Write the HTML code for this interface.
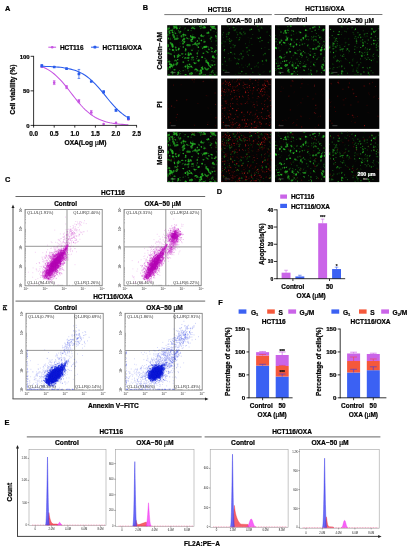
<!DOCTYPE html>
<html><head><meta charset="utf-8"><title>Figure</title>
<style>
html,body{margin:0;padding:0;background:#fff;}
svg{display:block;font-family:"Liberation Sans",sans-serif;}
</style></head>
<body>
<svg width="411" height="550" viewBox="0 0 411 550">
<rect width="411" height="550" fill="#fff"/>
<g id="panelA">
<text x="5.00" y="11.00" font-size="7.4" text-anchor="start" font-weight="bold" fill="#000" stroke="#000" stroke-width="0.22">A</text>
<line x1="48.30" y1="47.20" x2="56.10" y2="47.20" stroke="#c654e2" stroke-width="1.0"/>
<circle cx="52.2" cy="47.2" r="1.3" fill="#c654e2"/>
<text x="59.90" y="49.50" font-size="6.45" text-anchor="start" font-weight="bold" fill="#000" stroke="#000" stroke-width="0.22">HCT116</text>
<line x1="91.00" y1="47.20" x2="98.80" y2="47.20" stroke="#2a5cec" stroke-width="1.0"/>
<rect x="93.55" y="45.85" width="2.7" height="2.7" rx="0.5" fill="#2a5cec"/>
<text x="102.60" y="49.50" font-size="6.45" text-anchor="start" font-weight="bold" fill="#000" stroke="#000" stroke-width="0.22">HCT116/OXA</text>
<polyline points="41.84,66.54 43.90,67.43 45.96,68.44 48.02,69.60 50.08,70.90 52.14,72.37 54.20,74.00 56.26,75.80 58.32,77.77 60.38,79.91 62.44,82.21 64.50,84.64 66.56,87.17 68.62,89.80 70.68,92.46 72.74,95.14 74.80,97.80 76.86,100.39 78.92,102.89 80.98,105.26 83.04,107.50 85.10,109.57 87.16,111.48 89.22,113.21 91.28,114.78 93.34,116.18 95.40,117.42 97.46,118.51 99.52,119.47 101.58,120.31 103.64,121.04 105.70,121.67 107.76,122.22 109.82,122.69 111.88,123.09 113.94,123.43 116.00,123.73 118.06,123.98 120.12,124.19 122.18,124.38 124.24,124.53 126.30,124.66 128.36,124.78" fill="none" stroke="#c654e2" stroke-width="1.05"/>
<polyline points="41.84,66.27 43.90,66.33 45.96,66.40 48.02,66.47 50.08,66.57 52.14,66.68 54.20,66.81 56.26,66.96 58.32,67.14 60.38,67.35 62.44,67.60 64.50,67.90 66.56,68.25 68.62,68.65 70.68,69.13 72.74,69.68 74.80,70.32 76.86,71.07 78.92,71.92 80.98,72.91 83.04,74.03 85.10,75.30 87.16,76.73 89.22,78.32 91.28,80.09 93.34,82.02 95.40,84.10 97.46,86.33 99.52,88.69 101.58,91.14 103.64,93.65 105.70,96.20 107.76,98.73 109.82,101.23 111.88,103.64 113.94,105.95 116.00,108.13 118.06,110.15 120.12,112.01 122.18,113.71 124.24,115.24 126.30,116.60 128.36,117.81" fill="none" stroke="#2a5cec" stroke-width="1.05"/>
<line x1="41.84" y1="65.35" x2="41.84" y2="67.43" stroke="#c654e2" stroke-width="0.7"/>
<line x1="40.54" y1="65.35" x2="43.14" y2="65.35" stroke="#c654e2" stroke-width="0.7"/>
<line x1="40.54" y1="67.43" x2="43.14" y2="67.43" stroke="#c654e2" stroke-width="0.7"/>
<circle cx="41.84" cy="66.39" r="1.3" fill="#c654e2"/>
<line x1="54.20" y1="80.69" x2="54.20" y2="84.56" stroke="#c654e2" stroke-width="0.7"/>
<line x1="52.90" y1="80.69" x2="55.50" y2="80.69" stroke="#c654e2" stroke-width="0.7"/>
<line x1="52.90" y1="84.56" x2="55.50" y2="84.56" stroke="#c654e2" stroke-width="0.7"/>
<circle cx="54.20" cy="82.63" r="1.3" fill="#c654e2"/>
<line x1="66.56" y1="85.60" x2="66.56" y2="88.64" stroke="#c654e2" stroke-width="0.7"/>
<line x1="65.26" y1="85.60" x2="67.86" y2="85.60" stroke="#c654e2" stroke-width="0.7"/>
<line x1="65.26" y1="88.64" x2="67.86" y2="88.64" stroke="#c654e2" stroke-width="0.7"/>
<circle cx="66.56" cy="87.12" r="1.3" fill="#c654e2"/>
<line x1="78.92" y1="99.56" x2="78.92" y2="102.60" stroke="#c654e2" stroke-width="0.7"/>
<line x1="77.62" y1="99.56" x2="80.22" y2="99.56" stroke="#c654e2" stroke-width="0.7"/>
<line x1="77.62" y1="102.60" x2="80.22" y2="102.60" stroke="#c654e2" stroke-width="0.7"/>
<circle cx="78.92" cy="101.08" r="1.3" fill="#c654e2"/>
<line x1="91.28" y1="110.47" x2="91.28" y2="114.07" stroke="#c654e2" stroke-width="0.7"/>
<line x1="89.98" y1="110.47" x2="92.58" y2="110.47" stroke="#c654e2" stroke-width="0.7"/>
<line x1="89.98" y1="114.07" x2="92.58" y2="114.07" stroke="#c654e2" stroke-width="0.7"/>
<circle cx="91.28" cy="112.27" r="1.3" fill="#c654e2"/>
<circle cx="103.64" cy="124.02" r="1.3" fill="#c654e2"/>
<circle cx="116.00" cy="122.91" r="1.3" fill="#c654e2"/>
<line x1="128.36" y1="118.49" x2="128.36" y2="119.87" stroke="#c654e2" stroke-width="0.7"/>
<line x1="127.06" y1="118.49" x2="129.66" y2="118.49" stroke="#c654e2" stroke-width="0.7"/>
<line x1="127.06" y1="119.87" x2="129.66" y2="119.87" stroke="#c654e2" stroke-width="0.7"/>
<circle cx="128.36" cy="119.18" r="1.3" fill="#c654e2"/>
<line x1="41.84" y1="64.52" x2="41.84" y2="67.01" stroke="#2a5cec" stroke-width="0.7"/>
<line x1="40.54" y1="64.52" x2="43.14" y2="64.52" stroke="#2a5cec" stroke-width="0.7"/>
<line x1="40.54" y1="67.01" x2="43.14" y2="67.01" stroke="#2a5cec" stroke-width="0.7"/>
<rect x="40.49" y="64.42" width="2.7" height="2.7" rx="0.5" fill="#2a5cec"/>
<rect x="52.85" y="65.66" width="2.7" height="2.7" rx="0.5" fill="#2a5cec"/>
<rect x="65.21" y="67.25" width="2.7" height="2.7" rx="0.5" fill="#2a5cec"/>
<line x1="78.92" y1="69.43" x2="78.92" y2="78.41" stroke="#2a5cec" stroke-width="0.7"/>
<line x1="77.62" y1="69.43" x2="80.22" y2="69.43" stroke="#2a5cec" stroke-width="0.7"/>
<line x1="77.62" y1="78.41" x2="80.22" y2="78.41" stroke="#2a5cec" stroke-width="0.7"/>
<rect x="77.57" y="72.57" width="2.7" height="2.7" rx="0.5" fill="#2a5cec"/>
<rect x="89.93" y="80.17" width="2.7" height="2.7" rx="0.5" fill="#2a5cec"/>
<line x1="103.64" y1="90.78" x2="103.64" y2="92.99" stroke="#2a5cec" stroke-width="0.7"/>
<line x1="102.34" y1="90.78" x2="104.94" y2="90.78" stroke="#2a5cec" stroke-width="0.7"/>
<line x1="102.34" y1="92.99" x2="104.94" y2="92.99" stroke="#2a5cec" stroke-width="0.7"/>
<rect x="102.29" y="90.54" width="2.7" height="2.7" rx="0.5" fill="#2a5cec"/>
<line x1="116.00" y1="109.16" x2="116.00" y2="111.37" stroke="#2a5cec" stroke-width="0.7"/>
<line x1="114.70" y1="109.16" x2="117.30" y2="109.16" stroke="#2a5cec" stroke-width="0.7"/>
<line x1="114.70" y1="111.37" x2="117.30" y2="111.37" stroke="#2a5cec" stroke-width="0.7"/>
<rect x="114.65" y="108.92" width="2.7" height="2.7" rx="0.5" fill="#2a5cec"/>
<line x1="128.36" y1="116.56" x2="128.36" y2="119.32" stroke="#2a5cec" stroke-width="0.7"/>
<line x1="127.06" y1="116.56" x2="129.66" y2="116.56" stroke="#2a5cec" stroke-width="0.7"/>
<line x1="127.06" y1="119.32" x2="129.66" y2="119.32" stroke="#2a5cec" stroke-width="0.7"/>
<rect x="127.01" y="116.59" width="2.7" height="2.7" rx="0.5" fill="#2a5cec"/>
<line x1="33.60" y1="55.90" x2="33.60" y2="125.80" stroke="#000" stroke-width="0.8"/>
<line x1="33.20" y1="125.40" x2="137.00" y2="125.40" stroke="#000" stroke-width="0.8"/>
<line x1="30.60" y1="125.40" x2="33.60" y2="125.40" stroke="#000" stroke-width="0.8"/>
<text x="29.70" y="127.60" font-size="6.0" text-anchor="end" font-weight="bold" fill="#000" stroke="#000" stroke-width="0.22">0</text>
<line x1="30.60" y1="90.85" x2="33.60" y2="90.85" stroke="#000" stroke-width="0.8"/>
<text x="29.70" y="93.05" font-size="6.0" text-anchor="end" font-weight="bold" fill="#000" stroke="#000" stroke-width="0.22">50</text>
<line x1="30.60" y1="56.30" x2="33.60" y2="56.30" stroke="#000" stroke-width="0.8"/>
<text x="29.70" y="58.50" font-size="6.0" text-anchor="end" font-weight="bold" fill="#000" stroke="#000" stroke-width="0.22">100</text>
<line x1="33.60" y1="125.40" x2="33.60" y2="127.60" stroke="#000" stroke-width="0.8"/>
<text x="33.60" y="136.00" font-size="6.3" text-anchor="middle" font-weight="bold" fill="#000" stroke="#000" stroke-width="0.22">0.0</text>
<line x1="54.20" y1="125.40" x2="54.20" y2="127.60" stroke="#000" stroke-width="0.8"/>
<text x="54.20" y="136.00" font-size="6.3" text-anchor="middle" font-weight="bold" fill="#000" stroke="#000" stroke-width="0.22">0.5</text>
<line x1="74.80" y1="125.40" x2="74.80" y2="127.60" stroke="#000" stroke-width="0.8"/>
<text x="74.80" y="136.00" font-size="6.3" text-anchor="middle" font-weight="bold" fill="#000" stroke="#000" stroke-width="0.22">1.0</text>
<line x1="95.40" y1="125.40" x2="95.40" y2="127.60" stroke="#000" stroke-width="0.8"/>
<text x="95.40" y="136.00" font-size="6.3" text-anchor="middle" font-weight="bold" fill="#000" stroke="#000" stroke-width="0.22">1.5</text>
<line x1="116.00" y1="125.40" x2="116.00" y2="127.60" stroke="#000" stroke-width="0.8"/>
<text x="116.00" y="136.00" font-size="6.3" text-anchor="middle" font-weight="bold" fill="#000" stroke="#000" stroke-width="0.22">2.0</text>
<line x1="136.60" y1="125.40" x2="136.60" y2="127.60" stroke="#000" stroke-width="0.8"/>
<text x="136.60" y="136.00" font-size="6.3" text-anchor="middle" font-weight="bold" fill="#000" stroke="#000" stroke-width="0.22">2.5</text>
<text x="85.50" y="144.90" font-size="6.6" text-anchor="middle" font-weight="bold" fill="#000" stroke="#000" stroke-width="0.22">OXA(Log <tspan font-weight="normal">µ</tspan>M)</text>
<text x="15.30" y="89.60" font-size="6.5" text-anchor="middle" font-weight="bold" fill="#000" transform="rotate(-90 15.30 89.60)" stroke="#000" stroke-width="0.22">Cell viability (%)</text>
</g>
<g id="panelB">
<text x="142.80" y="9.60" font-size="7.3" text-anchor="start" font-weight="bold" fill="#000" stroke="#000" stroke-width="0.22">B</text>
<text x="219.60" y="11.80" font-size="6.45" text-anchor="middle" font-weight="bold" fill="#000" stroke="#000" stroke-width="0.22">HCT116</text>
<text x="325.00" y="10.80" font-size="6.45" text-anchor="middle" font-weight="bold" fill="#000" stroke="#000" stroke-width="0.22">HCT116/OXA</text>
<line x1="164.30" y1="14.60" x2="271.80" y2="14.60" stroke="#666" stroke-width="0.9"/>
<line x1="274.40" y1="14.50" x2="382.40" y2="14.50" stroke="#666" stroke-width="0.9"/>
<text x="195.60" y="22.80" font-size="6.5" text-anchor="middle" font-weight="bold" fill="#000" stroke="#000" stroke-width="0.22">Control</text>
<text x="244.80" y="22.60" font-size="6.6" text-anchor="middle" font-weight="bold" fill="#000" stroke="#000" stroke-width="0.22">OXA−50 <tspan font-weight="normal">µ</tspan>M</text>
<text x="295.80" y="22.10" font-size="6.5" text-anchor="middle" font-weight="bold" fill="#000" stroke="#000" stroke-width="0.22">Control</text>
<text x="355.60" y="22.60" font-size="6.6" text-anchor="middle" font-weight="bold" fill="#000" stroke="#000" stroke-width="0.22">OXA−50 <tspan font-weight="normal">µ</tspan>M</text>
<text x="162.50" y="50.80" font-size="6.6" text-anchor="middle" font-weight="bold" fill="#000" transform="rotate(-90 162.50 50.80)" stroke="#000" stroke-width="0.22">Calcein−AM</text>
<text x="162.50" y="104.60" font-size="6.6" text-anchor="middle" font-weight="bold" fill="#000" transform="rotate(-90 162.50 104.60)" stroke="#000" stroke-width="0.22">PI</text>
<text x="162.50" y="155.30" font-size="6.5" text-anchor="middle" font-weight="bold" fill="#000" transform="rotate(-90 162.50 155.30)" stroke="#000" stroke-width="0.22">Merge</text>
<defs><filter id="bl" x="-5%" y="-5%" width="110%" height="110%"><feGaussianBlur stdDeviation="0.45"/></filter></defs>
<defs>
<clipPath id="tc"><rect x="0" y="0" width="50.4" height="50.4"/></clipPath>
<g id="gf0" filter="url(#bl)"><path d="M16.3 7.6l0.2 0.3M7.8 36.1l-0.6 0.1M45.1 23.9l-0.2 0.1" stroke="#167c16" stroke-width="1.2" stroke-linecap="round" opacity="0.25" fill="none"/><path d="M2.9 25.6l0.0 0.0M21.4 41.7l-0.3 0.0M7.7 24.6l-0.1 0.3M19.8 20.1l0.0 0.0M32.9 40.3l-0.3 0.2M28.0 39.5l0.1 0.1M3.7 12.1l-0.3 0.1M5.3 13.4l0.1 0.0M15.6 18.0l-0.0 0.2M10.1 25.4l0.0 0.0M49.3 47.2l-0.3 0.0M15.9 42.3l0.3 0.1M23.0 27.8l-0.1 0.0M32.5 15.3l-0.2 0.2" stroke="#167c16" stroke-width="0.6" stroke-linecap="round" opacity="0.5" fill="none"/><path d="M29.1 20.0l0.5 0.6M36.8 14.5l-0.3 0.3M18.1 44.6l0.1 0.1M28.2 47.5l0.0 0.1M7.1 26.4l-0.0 0.8M3.1 14.0l-0.2 0.4M48.1 42.8l-0.0 0.0" stroke="#167c16" stroke-width="1.5" stroke-linecap="round" opacity="0.25" fill="none"/><path d="M7.3 5.9l-0.0 0.1M6.5 12.5l0.0 0.0M27.4 1.4l-0.3 0.4M49.0 20.0l0.3 0.2M48.9 32.7l-0.2 0.1M29.4 45.6l-0.0 0.3M41.3 21.8l-0.0 0.2M34.7 49.5l-0.2 0.3M22.7 13.5l-0.0 0.1M44.7 35.4l0.2 0.0M5.1 42.1l0.1 0.1M25.8 9.6l-0.4 0.3M8.4 8.1l0.2 0.1" stroke="#167c16" stroke-width="0.9" stroke-linecap="round" opacity="0.75" fill="none"/><path d="M32.2 18.8l0.0 0.0M1.1 23.3l-0.0 0.0M10.5 8.2l0.0 0.0M12.7 17.5l-0.4 0.0M26.4 0.9l-0.0 0.0M25.2 9.0l0.1 0.0M34.4 34.9l0.0 0.1M26.0 23.4l0.4 0.3M45.7 50.2l0.1 0.0M33.6 46.6l0.0 0.2M14.9 48.0l0.0 0.1" stroke="#167c16" stroke-width="0.9" stroke-linecap="round" opacity="0.25" fill="none"/><path d="M34.3 21.6l0.1 0.2M40.0 35.2l-0.2 0.1M42.3 47.6l-0.0 0.0M13.2 18.5l-0.2 0.2M41.2 37.3l0.2 0.0M1.4 14.1l0.1 0.5M37.8 24.1l-0.1 0.1M49.4 33.1l0.1 0.0M41.6 10.6l-0.0 0.1M30.9 25.5l-0.0 0.3M11.1 48.0l-0.5 0.3M8.1 21.7l0.1 0.1M36.4 1.0l0.0 0.0M3.4 43.5l-0.3 0.1M13.5 6.5l0.1 0.0M2.5 10.2l0.2 0.3M36.9 27.8l0.4 0.1M14.2 12.2l0.0 0.1M2.1 1.1l-0.0 0.3M0.2 24.8l0.0 0.1M50.3 29.7l0.1 0.0M46.7 6.4l-0.1 0.1M17.2 4.6l-0.3 0.1M37.8 20.8l0.1 0.2M43.5 10.9l0.0 0.2M5.7 3.5l0.2 0.2M30.3 0.5l-0.2 0.4M44.5 24.0l-0.3 0.4M15.5 1.1l0.2 0.2" stroke="#167c16" stroke-width="0.9" stroke-linecap="round" opacity="0.5" fill="none"/><path d="M44.1 15.8l0.1 0.4M11.8 24.4l0.0 0.0M8.7 23.9l-0.0 0.2M38.9 25.6l0.1 0.6M3.6 47.3l-0.1 0.0M49.6 7.5l-0.0 0.0M45.0 31.6l-0.0 0.1M5.3 42.1l-0.2 0.3M24.7 0.2l-0.0 0.4M33.2 3.3l0.0 0.0M24.1 34.5l0.5 0.1M7.4 12.8l0.4 0.0M3.1 13.5l0.3 0.4M36.9 22.7l0.2 0.0M49.2 13.1l0.1 0.4M34.4 10.0l0.3 0.2" stroke="#167c16" stroke-width="1.2" stroke-linecap="round" opacity="0.5" fill="none"/><path d="M32.6 50.1l-0.2 0.3M18.6 28.5l-0.2 0.4M34.1 2.7l-0.6 0.5M47.2 49.8l0.2 0.1M6.4 7.6l-0.1 0.1M21.3 45.9l-0.1 0.0M13.3 48.5l-0.2 0.0M46.7 35.9l0.1 0.3M31.8 46.0l0.6 0.1M41.6 43.1l0.1 0.0M26.3 34.4l-0.4 0.4M48.9 15.7l-0.1 0.1" stroke="#167c16" stroke-width="1.5" stroke-linecap="round" opacity="0.5" fill="none"/><path d="M27.7 44.5l0.1 0.2" stroke="#167c16" stroke-width="1.5" stroke-linecap="round" opacity="0.75" fill="none"/><path d="M5.1 18.3l0.2 0.1M41.8 8.1l0.2 0.1M13.1 21.1l0.0 0.2M31.4 25.8l-0.3 0.0M12.9 8.2l-0.2 0.3" stroke="#167c16" stroke-width="0.6" stroke-linecap="round" opacity="0.75" fill="none"/><path d="M23.5 24.4l0.1 0.1M28.8 35.3l0.1 0.3M20.4 17.5l-0.0 0.0" stroke="#167c16" stroke-width="0.6" stroke-linecap="round" opacity="0.25" fill="none"/><path d="M16.6 11.2l-0.6 0.4M9.9 10.3l0.0 0.6M24.1 47.5l0.5 0.5M37.8 33.1l0.1 0.2M25.4 42.1l-0.4 0.2M36.8 10.3l0.1 0.3" stroke="#167c16" stroke-width="1.2" stroke-linecap="round" opacity="0.75" fill="none"/><path d="M33.5 47.8l-0.3 0.0M8.5 0.1l1.3 0.5M47.5 1.2l-1.4 0.2M19.5 12.7l1.3 0.9M44.5 49.8l0.0 0.1M35.8 22.5l-0.5 0.8M30.0 31.2l0.2 0.1M34.2 9.3l-0.2 1.2M3.2 5.1l1.0 0.3M8.2 35.0l-0.5 0.1M15.7 28.6l-1.4 0.0M18.7 25.4l-0.7 0.2M21.5 33.2l-0.0 0.0M6.8 47.2l-0.1 0.1M43.9 39.4l-0.0 0.0M39.7 26.4l1.1 0.9M44.4 0.8l-1.1 0.2M5.4 46.8l0.0 0.0M44.6 12.0l-0.9 0.5M7.8 7.9l0.7 0.4M28.9 37.8l-1.1 0.4M31.7 12.6l0.3 1.0M34.0 46.9l0.4 1.0M17.9 2.9l0.0 0.0M21.2 35.2l-0.2 0.3M11.4 48.6l-1.1 0.7M42.9 13.5l0.6 0.4M0.1 36.4l0.0 0.5M16.7 16.0l-0.8 0.6M18.5 29.0l-0.2 0.1M35.4 41.7l-1.3 0.8M34.5 46.1l-0.7 0.5M9.1 35.3l-0.0 0.6M12.8 1.9l0.1 0.0" stroke="#24ac24" stroke-width="1.2" stroke-linecap="round" opacity="0.75" fill="none"/><path d="M7.2 2.6l-1.1 0.4M12.5 3.3l-0.4 0.0M26.1 19.3l-0.9 0.3M23.9 5.4l0.0 0.1M25.5 16.1l-0.2 0.0M32.9 1.1l0.1 0.1M12.5 45.5l0.4 0.4M2.9 39.3l1.1 0.5M46.1 47.6l0.1 0.0M38.4 49.3l-0.5 0.4M9.9 32.2l0.5 0.1M15.8 31.7l-0.6 0.8M24.7 49.1l-0.2 0.1M47.4 26.2l-0.5 0.6M36.1 0.6l1.0 0.3M32.6 49.7l-1.0 0.2" stroke="#24ac24" stroke-width="0.9" stroke-linecap="round" opacity="0.75" fill="none"/><path d="M36.9 50.3l-0.5 0.1M1.8 3.2l-1.9 0.6M17.1 13.7l-0.4 0.6M6.0 9.6l1.0 2.3M24.8 48.2l-2.0 0.4M20.2 19.9l2.3 0.2M10.4 13.3l-0.9 0.3M2.0 36.4l0.1 0.1M0.3 9.6l-1.4 1.1M10.1 37.8l-0.9 1.4M7.5 2.2l-0.1 0.3" stroke="#24ac24" stroke-width="2.1" stroke-linecap="round" opacity="0.75" fill="none"/><path d="M37.6 1.6l0.4 0.7M37.7 42.7l1.1 1.4M7.7 44.6l-0.8 0.0M12.8 30.2l0.0 0.0M30.2 27.7l-0.2 0.8M25.7 2.1l-1.1 1.0M25.8 2.7l1.6 0.7M5.3 50.0l1.1 1.2M11.3 29.4l0.1 1.2M28.3 17.7l-1.3 1.4M10.1 30.6l1.3 0.8M20.1 39.9l0.2 1.3M23.6 14.8l0.7 1.4M21.6 32.1l-1.7 0.9M48.4 3.8l-0.0 0.1M45.9 30.8l-0.4 1.3M34.3 10.7l1.5 0.5M41.5 39.6l0.1 0.6M20.8 5.1l0.3 0.0M18.3 32.5l-0.6 0.5M47.6 39.5l-0.1 0.0M40.9 43.7l-1.3 0.9M44.6 26.3l0.3 0.2M39.7 7.9l1.0 0.1M32.3 48.2l0.8 0.5M13.0 6.3l0.4 0.2M41.5 24.1l0.4 0.1M33.7 10.6l0.4 0.3" stroke="#24ac24" stroke-width="1.5" stroke-linecap="round" opacity="0.75" fill="none"/><path d="M48.6 10.5l0.3 1.3M2.5 23.9l0.1 0.3M45.2 1.5l1.3 0.2M43.7 22.6l1.3 0.5M21.4 41.3l0.7 0.4M34.3 45.1l-0.0 0.2M49.9 29.1l0.6 0.4M35.2 43.2l0.6 0.8M1.1 12.9l0.3 0.5M22.0 39.0l0.7 0.5M9.3 24.9l-0.4 0.1M17.6 16.5l-0.6 0.7M7.1 30.4l0.3 1.5M10.6 34.5l-0.2 0.0M47.4 26.6l0.4 0.3M5.1 7.2l0.4 0.2M45.6 39.9l-0.7 0.5M26.8 37.4l0.6 0.7M34.4 46.9l0.0 0.8M31.7 35.7l-0.4 0.0M15.7 36.8l0.7 0.1M30.3 15.6l-0.3 0.5M23.5 10.4l0.1 1.2M28.1 43.9l1.5 0.3M36.0 27.9l0.1 0.4" stroke="#24ac24" stroke-width="1.2" stroke-linecap="round" opacity="1.0" fill="none"/><path d="M16.0 13.9l-0.5 1.1M15.6 15.1l-0.6 0.8M10.7 31.4l0.2 0.0M31.9 0.8l0.6 0.6M0.2 34.5l-0.1 0.0M30.1 20.0l-0.1 0.3M16.0 45.5l-0.1 0.0" stroke="#24ac24" stroke-width="0.9" stroke-linecap="round" opacity="1.0" fill="none"/><path d="M40.4 37.2l0.8 1.3M23.9 41.3l0.1 0.1M5.5 24.7l0.4 0.2M24.7 11.9l0.9 0.6M43.2 50.2l-0.4 0.0M34.9 31.9l-0.0 0.1M18.3 41.2l-0.1 0.1M4.1 39.7l0.6 1.2M33.7 45.1l-0.3 0.4M9.1 1.9l0.6 1.4M2.5 39.0l1.5 0.4M21.3 29.6l-0.1 0.1M11.1 47.1l0.1 0.3" stroke="#24ac24" stroke-width="1.8" stroke-linecap="round" opacity="1.0" fill="none"/><path d="M16.1 18.2l-0.3 0.3M28.6 18.8l0.4 0.4M25.6 11.7l2.2 0.7M18.3 9.9l-0.0 0.0M45.6 31.3l1.4 1.2M20.4 42.7l0.2 0.5M3.3 17.7l1.3 1.5M32.1 18.1l-1.4 0.5M37.5 2.4l-1.5 0.1M0.3 42.6l0.2 1.6M35.0 42.6l0.2 1.2M37.6 16.5l-0.6 0.2M5.0 4.9l0.2 0.7M48.6 25.4l0.0 0.1M43.5 4.6l0.0 0.0M14.3 10.8l-0.1 0.2M8.5 22.1l0.0 0.3M39.0 35.3l0.2 1.6M25.8 32.2l-1.0 0.2M6.5 39.1l-0.2 1.1M45.2 1.7l-0.7 0.3M21.3 27.9l0.6 1.9M2.0 6.0l0.4 2.2M6.5 0.9l1.3 0.9M30.3 45.2l0.0 0.0M4.4 40.7l-1.3 0.4M1.7 49.9l1.0 1.0M34.2 0.6l-0.1 0.0M4.9 46.8l0.5 1.0M7.8 13.7l0.0 0.4M45.2 2.9l2.2 0.1" stroke="#24ac24" stroke-width="1.8" stroke-linecap="round" opacity="0.75" fill="none"/><path d="M0.7 27.8l-0.1 0.2M41.1 7.2l0.3 0.3M31.0 21.8l0.2 0.2M31.8 34.9l-0.9 0.5M42.7 40.9l0.8 1.0M11.8 23.2l-0.6 1.2M24.8 25.1l-0.0 0.0M23.6 28.4l0.2 0.8M18.5 23.9l0.1 0.4M25.4 13.7l-0.9 0.7M16.1 21.7l-0.0 0.1M0.7 19.5l0.1 1.9M34.1 15.1l0.1 0.2" stroke="#24ac24" stroke-width="1.5" stroke-linecap="round" opacity="1.0" fill="none"/><path d="M47.5 49.2l0.6 1.5M11.8 7.0l0.8 0.4" stroke="#24ac24" stroke-width="1.5" stroke-linecap="round" opacity="0.5" fill="none"/><path d="M2.1 28.3l1.8 0.7M45.5 45.6l-1.2 1.5" stroke="#24ac24" stroke-width="1.8" stroke-linecap="round" opacity="0.5" fill="none"/><path d="M29.5 33.5l0.0 0.0M11.4 5.3l-0.3 0.3M48.7 50.0l0.2 0.3" stroke="#24ac24" stroke-width="1.2" stroke-linecap="round" opacity="0.5" fill="none"/><path d="M16.5 9.5l-0.3 0.0M5.1 19.4l0.4 2.0M2.9 41.7l-0.3 0.2M39.3 21.5l-2.2 0.3M18.4 49.9l0.2 0.2" stroke="#24ac24" stroke-width="2.1" stroke-linecap="round" opacity="1.0" fill="none"/></g>
<g id="rf0" filter="url(#bl)"><path d="M40.7 17.2l-0.0 0.4M12.6 41.2l0.2 0.2M43.8 36.1l-0.0 0.2" stroke="#741010" stroke-width="0.6" stroke-linecap="round" opacity="0.25" fill="none"/><path d="M9.4 21.9l0.4 0.2M9.1 38.8l0.1 0.0M36.4 2.8l-0.6 0.3M24.8 0.8l0.5 0.5M3.1 44.0l-0.0 0.4M19.6 21.2l-0.3 0.1M48.9 39.1l-0.6 0.2" stroke="#741010" stroke-width="1.2" stroke-linecap="round" opacity="0.5" fill="none"/><path d="M30.7 25.0l-0.2 0.2M0.2 26.2l-0.0 0.1M41.2 43.6l-0.1 0.1M0.9 30.2l0.4 0.1M39.2 17.1l-0.2 0.0M48.3 47.1l0.1 0.3M26.8 3.5l0.0 0.0M44.6 1.7l0.3 0.3M27.3 46.6l0.1 0.3" stroke="#741010" stroke-width="0.9" stroke-linecap="round" opacity="0.5" fill="none"/><path d="M40.9 29.4l0.1 0.3M9.4 41.9l-0.1 0.2M14.1 6.2l-0.3 0.1" stroke="#741010" stroke-width="0.9" stroke-linecap="round" opacity="0.25" fill="none"/><path d="M27.1 1.0l0.1 0.0" stroke="#741010" stroke-width="1.5" stroke-linecap="round" opacity="0.5" fill="none"/><path d="M7.4 28.9l-0.6 0.1" stroke="#741010" stroke-width="1.2" stroke-linecap="round" opacity="0.25" fill="none"/><path d="M40.5 46.0l-0.0 0.0" stroke="#741010" stroke-width="1.2" stroke-linecap="round" opacity="0.75" fill="none"/><path d="M47.9 14.5l-0.0 0.0M48.2 25.9l0.1 0.0M6.2 6.6l0.0 0.0M10.1 35.8l0.0 0.1" stroke="#c81818" stroke-width="0.6" stroke-linecap="round" opacity="0.75" fill="none"/><path d="M4.4 27.5l-0.0 0.1" stroke="#c81818" stroke-width="0.9" stroke-linecap="round" opacity="0.75" fill="none"/></g>
<g id="gf1" filter="url(#bl)"><path d="M15.6 12.2l-0.0 0.2M14.4 49.8l0.1 0.0M30.6 19.1l0.3 0.3M19.7 28.0l-0.4 0.2M25.2 22.4l-0.0 0.1M7.9 14.6l0.1 0.1M20.7 39.7l0.0 0.0M25.9 27.3l-0.1 0.2M15.0 3.3l-0.0 0.0M36.1 12.8l0.2 0.0M35.4 40.6l-0.2 0.4M5.8 14.6l0.0 0.0M42.6 46.7l-0.3 0.3M14.3 33.3l0.0 0.2M18.7 29.3l0.1 0.3M12.8 4.8l-0.1 0.3M39.1 2.9l-0.0 0.0M5.6 40.4l-0.1 0.1M8.6 18.2l0.1 0.2M24.3 18.5l0.2 0.1M0.4 43.9l0.2 0.3M8.5 3.3l-0.1 0.4M29.3 49.8l-0.2 0.1" stroke="#167c16" stroke-width="0.9" stroke-linecap="round" opacity="0.5" fill="none"/><path d="M0.6 17.8l0.0 0.5M5.5 11.3l0.1 0.1M29.3 4.4l-0.7 0.4M28.5 25.1l-0.5 0.0M22.2 31.5l-0.4 0.3M14.2 20.3l-0.7 0.3M14.2 4.5l-0.5 0.7M26.0 22.4l-0.3 0.1M4.2 36.1l0.0 0.1M1.4 39.0l-0.1 0.1M16.5 9.3l-0.0 0.3M5.8 9.1l-0.1 0.0M38.1 5.8l-0.1 0.0M19.8 8.6l0.7 0.3M9.7 22.5l0.1 0.0M19.2 7.3l-0.5 0.3M24.0 8.0l-0.2 0.7M28.3 38.9l-0.2 0.5M47.2 17.2l0.1 0.0" stroke="#167c16" stroke-width="1.5" stroke-linecap="round" opacity="0.5" fill="none"/><path d="M43.9 22.2l-0.1 0.1M7.9 35.6l0.3 0.1M16.2 33.4l-0.0 0.2M6.7 13.9l0.1 0.3M2.0 2.0l0.0 0.1M2.4 12.3l-0.1 0.0M27.4 12.6l0.1 0.1M11.4 28.9l0.2 0.1M27.8 20.5l-0.1 0.0" stroke="#167c16" stroke-width="0.6" stroke-linecap="round" opacity="0.5" fill="none"/><path d="M17.8 34.0l-0.0 0.5M20.2 28.3l0.0 0.6M2.8 44.9l-0.1 0.3M41.1 15.3l-0.3 0.1M17.2 38.5l0.0 0.1M18.3 14.2l-0.4 0.6" stroke="#167c16" stroke-width="1.2" stroke-linecap="round" opacity="0.75" fill="none"/><path d="M37.2 37.5l-0.4 0.5M25.1 48.5l-0.5 0.2M26.1 26.1l-0.1 0.2M17.7 47.8l0.0 0.1M42.4 29.5l-0.1 0.3M26.3 41.5l0.0 0.0M38.8 16.3l0.1 0.1M5.0 45.6l0.1 0.3M12.2 19.6l-0.2 0.1M22.8 6.6l-0.2 0.6M18.5 12.4l0.5 0.2M20.8 33.2l0.3 0.5M37.8 4.3l-0.5 0.3M37.2 41.8l-0.0 0.0M15.7 6.9l0.1 0.1M8.5 33.6l-0.4 0.3M31.6 47.1l0.2 0.1M40.9 3.0l-0.0 0.2M48.0 24.2l-0.2 0.1M1.4 9.5l-0.0 0.1M10.7 15.1l-0.2 0.6M2.3 7.3l-0.0 0.2M15.3 38.5l0.2 0.4" stroke="#167c16" stroke-width="1.2" stroke-linecap="round" opacity="0.5" fill="none"/><path d="M46.1 6.4l-0.2 0.6M21.6 25.8l0.7 0.1M33.6 41.6l0.0 0.3" stroke="#167c16" stroke-width="1.5" stroke-linecap="round" opacity="0.25" fill="none"/><path d="M48.3 10.3l0.0 0.0M31.8 30.4l0.3 0.0M13.4 32.6l0.1 0.3M19.0 48.3l0.2 0.2M7.2 28.4l-0.2 0.2M20.6 3.7l-0.2 0.2M40.3 1.8l0.1 0.3M3.8 16.6l0.3 0.0M13.2 28.7l0.6 0.1" stroke="#167c16" stroke-width="0.9" stroke-linecap="round" opacity="0.75" fill="none"/><path d="M8.6 16.0l0.5 0.2M45.1 34.8l0.2 0.7M12.6 2.2l-0.3 0.1M41.3 35.6l0.0 0.4M36.4 0.1l0.2 0.6M49.0 45.8l-0.3 0.8M44.0 28.4l-0.1 0.1" stroke="#167c16" stroke-width="1.5" stroke-linecap="round" opacity="0.75" fill="none"/><path d="M6.1 7.9l0.1 0.0M49.0 14.7l0.1 0.3M22.3 42.2l-0.2 0.2M2.0 15.7l-0.1 0.6M7.9 15.1l0.4 0.2M37.2 47.8l0.4 0.1" stroke="#167c16" stroke-width="1.2" stroke-linecap="round" opacity="0.25" fill="none"/><path d="M24.4 40.0l0.1 0.1M9.6 14.3l0.2 0.3M28.6 15.7l-0.1 0.0M42.0 39.1l-0.1 0.4M9.9 35.4l0.0 0.2M21.9 9.6l-0.3 0.5M18.6 41.9l-0.1 0.2M28.4 17.5l0.0 0.1M47.8 0.7l-0.2 0.1M0.3 29.2l-0.2 0.0" stroke="#167c16" stroke-width="0.9" stroke-linecap="round" opacity="0.25" fill="none"/><path d="M20.3 3.3l0.1 0.1M31.7 9.2l-0.2 0.3M27.7 40.5l0.2 0.2" stroke="#167c16" stroke-width="0.6" stroke-linecap="round" opacity="0.75" fill="none"/><path d="M18.3 8.5l-0.3 0.3M22.3 48.9l0.2 0.1" stroke="#167c16" stroke-width="0.6" stroke-linecap="round" opacity="0.25" fill="none"/><path d="M3.4 24.4l0.2 0.0M9.5 27.1l0.4 0.3M7.9 7.2l0.1 0.4M39.2 12.2l0.2 0.4M20.7 46.3l0.1 0.1" stroke="#24ac24" stroke-width="1.2" stroke-linecap="round" opacity="0.75" fill="none"/><path d="M8.3 13.5l0.2 0.1M30.4 43.5l-0.3 0.0M16.5 37.8l0.2 0.3M27.1 29.7l0.1 0.2M38.9 49.3l-0.2 0.0M6.6 0.5l0.1 0.3M49.9 11.5l0.0 0.0M3.0 25.3l0.2 0.4" stroke="#24ac24" stroke-width="0.9" stroke-linecap="round" opacity="0.75" fill="none"/><path d="M30.3 4.0l0.2 0.1" stroke="#24ac24" stroke-width="1.2" stroke-linecap="round" opacity="1.0" fill="none"/><path d="M2.9 20.9l0.0 0.1M13.2 21.9l-0.1 0.2" stroke="#24ac24" stroke-width="0.6" stroke-linecap="round" opacity="0.75" fill="none"/><path d="M30.1 13.0l-0.1 0.4" stroke="#24ac24" stroke-width="0.9" stroke-linecap="round" opacity="0.5" fill="none"/><path d="M49.8 2.8l0.1 0.0M37.4 13.0l0.2 0.3M7.5 8.9l0.1 0.0M3.3 32.5l-0.0 0.0" stroke="#24ac24" stroke-width="0.9" stroke-linecap="round" opacity="1.0" fill="none"/><path d="M40.3 23.2l-0.0 0.0" stroke="#24ac24" stroke-width="0.6" stroke-linecap="round" opacity="1.0" fill="none"/></g>
<g id="rf1" filter="url(#bl)"><path d="M15.0 50.1l-0.1 0.0M34.7 1.9l0.2 0.1M25.2 5.7l0.2 0.4M21.1 49.0l0.2 0.1M29.9 50.1l0.1 0.3M35.9 19.8l0.2 0.3M31.7 27.4l-0.1 0.0M23.9 36.4l0.1 0.1M46.7 26.6l0.3 0.3M8.7 41.4l-0.4 0.1M26.2 12.0l0.2 0.0M40.9 17.8l0.4 0.3M49.0 35.9l0.2 0.0M38.1 19.1l-0.4 0.4M1.3 29.9l0.1 0.4M23.9 44.9l-0.2 0.1M0.3 49.8l0.1 0.1M43.3 28.0l0.0 0.0M27.1 18.8l0.1 0.3M26.9 20.6l-0.1 0.1M39.5 47.9l-0.1 0.0M14.8 11.7l0.3 0.2M19.7 1.7l-0.0 0.1M24.4 43.5l0.0 0.0M16.8 22.7l-0.1 0.1M6.7 29.1l0.3 0.2M28.7 34.7l0.0 0.1M1.6 19.8l0.5 0.1M29.2 11.8l0.4 0.1M11.7 10.0l-0.3 0.1M34.5 35.8l-0.2 0.3M22.9 40.8l-0.0 0.0M31.8 18.9l0.0 0.5M29.1 2.4l0.2 0.3M38.4 14.7l-0.3 0.5M15.7 2.7l-0.5 0.1M5.5 13.1l0.3 0.4M17.8 47.4l-0.0 0.0M38.0 34.2l0.0 0.0M32.5 48.8l0.2 0.5M47.4 37.4l0.2 0.4M9.4 43.9l-0.4 0.1M33.7 29.1l-0.1 0.1M30.4 41.5l0.1 0.0M3.0 22.5l-0.0 0.0M5.6 11.3l-0.0 0.2M31.8 36.5l-0.1 0.3M35.7 22.9l0.1 0.2M9.8 37.1l-0.1 0.1M9.9 13.4l-0.4 0.4M6.7 0.6l0.2 0.0M6.4 10.1l-0.2 0.3M33.9 36.0l0.0 0.3M12.1 46.9l-0.2 0.4M28.0 41.4l-0.3 0.2M3.9 2.7l0.2 0.0M26.2 23.0l-0.3 0.1M22.3 35.6l0.1 0.1M15.8 31.6l0.4 0.2M1.4 34.8l-0.2 0.4M29.8 33.1l0.2 0.0M48.9 34.7l0.1 0.0M26.4 5.6l0.0 0.1M38.5 11.3l0.1 0.2" stroke="#741010" stroke-width="0.9" stroke-linecap="round" opacity="0.5" fill="none"/><path d="M43.8 13.5l0.1 0.2M43.5 9.2l0.2 0.0M41.8 6.2l-0.1 0.7M16.4 6.9l-0.0 0.1M45.3 45.3l-0.4 0.2M11.5 19.8l-0.3 0.3M5.3 39.7l-0.0 0.0M17.8 4.7l0.5 0.2M36.9 40.1l0.6 0.1M1.1 11.6l-0.2 0.2M0.7 13.1l0.0 0.1" stroke="#741010" stroke-width="1.2" stroke-linecap="round" opacity="0.75" fill="none"/><path d="M24.5 44.9l0.0 0.3M6.8 21.6l-0.0 0.0M13.3 3.5l-0.0 0.2M15.9 49.0l-0.0 0.4M7.8 12.7l-0.0 0.3M38.8 38.8l-0.0 0.0M35.8 24.3l-0.0 0.2M22.4 44.3l0.3 0.0M34.6 7.8l-0.0 0.0M30.0 23.3l-0.0 0.0M5.9 23.6l0.1 0.2M42.6 39.6l0.1 0.1M6.7 17.1l-0.2 0.1M39.7 42.3l-0.0 0.3M42.3 16.4l0.0 0.0M1.5 39.2l0.2 0.0M49.0 35.8l-0.0 0.1M34.8 48.8l-0.1 0.0M18.3 36.4l0.0 0.1" stroke="#741010" stroke-width="0.6" stroke-linecap="round" opacity="0.5" fill="none"/><path d="M29.2 44.5l-0.1 0.1M1.0 49.9l0.0 0.1M50.3 0.3l-0.1 0.1M43.7 2.2l0.4 0.2M22.8 4.4l0.1 0.4M30.2 48.8l0.3 0.1M8.6 47.5l0.0 0.4M16.9 10.8l0.2 0.2M48.3 18.3l-0.3 0.1M43.5 25.9l-0.2 0.4M3.8 31.5l-0.1 0.2M40.6 34.1l-0.2 0.3M14.0 8.2l0.2 0.4M10.3 45.8l-0.3 0.2M37.9 13.9l0.2 0.2M11.0 40.0l-0.0 0.4M7.8 39.2l-0.4 0.3M3.6 16.3l-0.1 0.3M34.3 42.8l-0.1 0.0M26.8 32.8l-0.2 0.1" stroke="#741010" stroke-width="0.9" stroke-linecap="round" opacity="0.75" fill="none"/><path d="M5.6 49.1l-0.0 0.0M25.3 44.9l-0.2 0.1M6.1 34.4l0.1 0.1M18.3 49.2l-0.1 0.3M10.5 12.7l-0.3 0.1M11.3 3.3l-0.1 0.0" stroke="#741010" stroke-width="0.6" stroke-linecap="round" opacity="0.75" fill="none"/><path d="M4.9 8.5l-0.2 0.1M24.1 40.2l0.2 0.4M16.3 12.2l-0.4 0.2M50.3 41.2l-0.0 0.3M46.0 16.3l-0.6 0.0M7.5 4.7l-0.0 0.4M48.7 33.9l-0.6 0.1M7.1 26.0l0.5 0.3M31.8 13.1l-0.1 0.6M22.2 3.4l0.1 0.3M18.5 15.3l-0.4 0.0M47.0 17.3l0.5 0.4M32.3 23.8l-0.4 0.2" stroke="#741010" stroke-width="1.2" stroke-linecap="round" opacity="0.25" fill="none"/><path d="M36.1 44.5l-0.2 0.1M12.4 30.2l-0.3 0.4" stroke="#741010" stroke-width="1.5" stroke-linecap="round" opacity="0.25" fill="none"/><path d="M10.8 48.8l0.2 0.1M18.3 0.5l-0.1 0.3M34.8 49.5l0.2 0.3M45.8 2.5l-0.1 0.4M10.2 21.3l0.3 0.0M22.3 18.5l-0.1 0.2M5.1 4.4l-0.0 0.0M43.7 40.4l0.1 0.0M40.4 10.1l0.0 0.0M14.7 35.8l-0.3 0.1M40.4 25.1l0.1 0.1M42.3 7.3l0.1 0.0M4.7 23.4l0.4 0.2M14.7 17.5l0.6 0.2M13.7 45.0l0.7 0.1M41.1 17.2l0.7 0.0M39.3 45.8l-0.1 0.1M45.6 37.5l0.1 0.4M41.6 39.5l-0.1 0.7M17.1 30.0l0.0 0.0M0.8 5.6l0.1 0.4M4.4 13.7l-0.4 0.2M22.6 37.9l0.6 0.1M9.4 15.6l0.0 0.3M15.9 7.7l-0.2 0.3M6.6 35.5l0.2 0.0M34.1 49.1l0.5 0.1M47.8 46.4l0.0 0.0M0.7 43.5l0.1 0.2M17.9 45.3l0.1 0.0M49.4 22.0l-0.5 0.3M10.4 12.3l-0.0 0.1M37.5 1.2l0.3 0.1M42.2 50.1l0.0 0.2M39.1 44.8l-0.1 0.0M34.6 34.8l0.1 0.1M15.3 20.6l0.5 0.1M43.1 40.5l0.0 0.0M45.6 8.0l0.4 0.2" stroke="#741010" stroke-width="1.2" stroke-linecap="round" opacity="0.5" fill="none"/><path d="M19.0 12.1l-0.3 0.2M33.8 37.3l-0.1 0.3M43.5 3.6l-0.1 0.5M15.0 3.5l-0.3 0.2M10.0 20.3l-0.1 0.0M47.4 20.8l-0.1 0.1M34.2 7.6l0.1 0.1M47.5 41.6l-0.3 0.2M41.9 8.2l-0.1 0.0M49.7 3.6l-0.1 0.2M41.8 39.6l-0.1 0.5M7.1 45.8l-0.1 0.0M32.8 10.4l-0.1 0.5M3.4 0.7l0.0 0.1" stroke="#741010" stroke-width="0.9" stroke-linecap="round" opacity="0.25" fill="none"/><path d="M10.1 28.8l0.2 0.2M24.0 41.4l-0.0 0.2M46.3 13.3l0.3 0.1M38.7 0.3l-0.1 0.3" stroke="#741010" stroke-width="0.6" stroke-linecap="round" opacity="0.25" fill="none"/><path d="M16.7 49.2l0.0 0.4M47.7 5.8l-0.2 0.1M19.9 25.2l0.7 0.4M11.4 43.7l0.4 0.7M8.2 31.9l0.0 0.0M1.9 4.7l0.0 0.0M4.8 22.3l-0.6 0.5M7.2 4.9l-0.1 0.5" stroke="#741010" stroke-width="1.5" stroke-linecap="round" opacity="0.5" fill="none"/><path d="M11.8 1.5l-0.1 0.1M6.0 3.4l-0.0 0.2M43.6 10.7l0.0 0.1M36.9 3.8l-0.0 0.0M32.9 25.9l-0.0 0.1M16.2 20.5l0.0 0.0M8.2 41.7l0.0 0.0M28.3 35.9l-0.0 0.0M48.7 43.9l-0.1 0.1M32.9 25.8l-0.0 0.1M33.9 40.3l-0.1 0.1M10.8 13.4l0.0 0.1M8.7 35.1l-0.0 0.0M16.9 26.3l0.1 0.1M2.8 4.2l-0.1 0.1M46.8 28.2l0.0 0.1M33.4 28.5l0.1 0.0M32.0 12.1l-0.1 0.1M1.6 36.5l-0.1 0.1M31.0 45.5l0.1 0.1M23.3 10.0l0.0 0.1M35.9 38.8l-0.2 0.0M31.2 5.3l0.1 0.0M49.5 45.8l0.1 0.1M4.7 48.6l0.1 0.0M5.4 3.6l0.1 0.1M8.8 38.6l0.0 0.0M17.1 12.5l0.1 0.1M13.4 18.4l0.1 0.0M11.4 45.8l-0.1 0.1M39.4 43.8l0.0 0.0M37.4 10.0l-0.1 0.0M35.8 46.9l-0.0 0.0M13.1 13.9l0.1 0.0M40.2 34.2l-0.1 0.0M16.9 38.6l0.0 0.0M31.2 15.3l0.0 0.0M15.9 25.4l-0.1 0.0M46.4 20.2l-0.0 0.1M37.0 47.8l-0.1 0.1M39.6 13.1l-0.1 0.0M37.7 43.3l-0.1 0.1M35.7 31.8l-0.0 0.0M44.4 30.3l-0.1 0.1M46.1 28.3l-0.0 0.0M16.0 38.2l-0.0 0.0M12.6 41.1l-0.0 0.0M45.0 1.7l-0.1 0.1M17.3 47.0l0.1 0.0M9.4 25.2l0.0 0.2M27.9 20.4l0.0 0.1" stroke="#c81818" stroke-width="0.6" stroke-linecap="round" opacity="0.75" fill="none"/><path d="M4.7 5.9l0.0 0.0M3.6 11.2l-0.2 0.0M11.8 25.1l-0.0 0.0M7.5 6.9l0.2 0.0M11.8 8.4l-0.1 0.0M28.7 9.1l0.0 0.0M0.8 27.0l0.0 0.0M13.3 39.9l0.1 0.1M4.5 2.5l-0.2 0.1M36.1 26.7l0.0 0.0M24.4 12.7l0.0 0.1M3.5 37.8l0.0 0.0M23.8 48.2l-0.1 0.1M41.0 12.8l0.2 0.1M27.2 17.0l-0.2 0.1M2.4 43.9l-0.1 0.0M16.5 1.3l0.0 0.0M15.7 44.0l-0.1 0.1M26.4 41.3l-0.0 0.0M9.4 27.6l-0.0 0.0M50.4 28.3l-0.0 0.2M24.5 47.6l0.1 0.0M21.4 17.7l-0.0 0.0M46.8 32.2l-0.0 0.1M0.2 40.4l-0.0 0.0M48.2 46.8l0.1 0.1M47.0 4.4l0.1 0.0M43.9 22.3l-0.1 0.2M4.9 24.9l0.1 0.1M23.8 6.0l0.2 0.0M49.8 27.3l0.1 0.1M48.9 38.9l0.0 0.2M5.0 46.1l0.1 0.1" stroke="#c81818" stroke-width="0.9" stroke-linecap="round" opacity="0.75" fill="none"/><path d="M43.2 5.5l0.1 0.0M18.2 6.0l0.1 0.0M47.7 37.3l0.2 0.1M11.4 30.1l0.1 0.0M42.0 10.2l-0.1 0.0M33.3 43.4l0.1 0.3M40.4 45.3l-0.0 0.0M3.9 29.4l-0.1 0.1M21.1 41.4l-0.0 0.0M30.6 45.3l-0.2 0.1M15.6 31.9l-0.2 0.2M46.6 2.6l0.0 0.0M24.6 13.9l-0.2 0.2M39.6 12.6l-0.1 0.2" stroke="#c81818" stroke-width="1.2" stroke-linecap="round" opacity="0.75" fill="none"/><path d="M22.1 7.1l-0.1 0.0M20.3 34.2l0.0 0.0M26.4 34.1l0.0 0.1M48.3 10.4l0.1 0.1M35.5 48.7l0.0 0.0M49.8 1.0l0.1 0.1M40.0 15.6l-0.0 0.0M49.0 5.9l-0.1 0.0M37.0 6.5l-0.0 0.0M43.1 16.2l0.0 0.0M26.1 24.4l0.1 0.1M1.8 29.8l0.1 0.0M38.3 43.8l0.0 0.0M29.7 34.1l0.0 0.1M24.2 25.0l-0.0 0.1M27.2 13.9l-0.0 0.0M1.1 9.7l0.0 0.0M27.8 46.5l0.1 0.0M33.9 48.9l0.0 0.1M9.1 7.7l-0.0 0.0M34.3 1.7l0.0 0.1M40.7 38.2l-0.1 0.0" stroke="#c81818" stroke-width="0.6" stroke-linecap="round" opacity="1.0" fill="none"/><path d="M25.8 47.8l0.1 0.1M37.1 18.1l0.0 0.0M18.6 48.5l-0.1 0.1M36.1 11.6l-0.0 0.0M9.6 35.7l0.1 0.0M7.9 11.4l-0.2 0.0M12.3 46.3l-0.1 0.1M28.2 7.2l-0.0 0.1M0.3 17.1l0.0 0.0M26.0 8.8l-0.0 0.0M36.3 37.8l-0.1 0.0M8.5 3.7l0.0 0.1M2.9 13.3l-0.2 0.0M20.9 33.7l-0.1 0.0M45.6 39.9l-0.1 0.2M7.5 38.4l0.0 0.1" stroke="#c81818" stroke-width="0.9" stroke-linecap="round" opacity="1.0" fill="none"/><path d="M2.6 46.1l0.0 0.0M30.1 49.2l0.0 0.0" stroke="#c81818" stroke-width="0.6" stroke-linecap="round" opacity="0.5" fill="none"/><path d="M32.6 9.1l0.0 0.1M41.4 30.3l0.1 0.1M44.3 7.0l-0.1 0.2M18.3 18.3l-0.0 0.0M40.4 11.0l0.0 0.1M25.3 45.3l-0.1 0.0M28.9 0.3l-0.0 0.1M9.2 5.8l0.0 0.0M12.8 11.7l0.2 0.1M18.7 46.4l-0.0 0.1M23.4 41.5l-0.0 0.0" stroke="#c81818" stroke-width="1.2" stroke-linecap="round" opacity="1.0" fill="none"/><path d="M22.0 8.8l0.1 0.1" stroke="#c81818" stroke-width="0.9" stroke-linecap="round" opacity="0.5" fill="none"/></g>
<g id="gf2" filter="url(#bl)"><path d="M13.5 18.5l0.3 0.2M48.7 19.4l0.0 0.0M3.2 0.5l0.3 0.1M13.5 44.4l0.2 0.6M13.6 7.5l-0.5 0.0M5.0 25.3l0.0 0.4M29.4 36.4l-0.1 0.1M24.3 17.0l0.2 0.2M14.0 25.3l0.3 0.2M12.5 46.7l0.1 0.2M35.7 41.3l0.0 0.1M18.0 15.4l0.3 0.2M40.1 37.2l0.0 0.2M18.7 38.4l0.3 0.2M12.1 43.2l0.2 0.0M40.1 40.8l-0.2 0.0M2.7 19.2l-0.3 0.2M4.7 4.6l0.2 0.2M5.8 33.1l-0.2 0.1M33.4 33.5l-0.1 0.1M23.0 41.9l0.0 0.0M30.9 8.7l0.3 0.1M28.6 38.0l-0.4 0.3M4.6 46.6l0.5 0.2M46.3 23.8l-0.1 0.1M19.0 29.2l-0.0 0.0M12.8 41.9l0.4 0.2M9.2 29.1l0.0 0.2M38.7 28.7l0.3 0.4M12.7 4.3l0.0 0.2M3.7 47.8l-0.2 0.2M41.9 24.0l0.1 0.4M33.3 28.2l-0.0 0.1M35.9 36.7l-0.1 0.3M1.1 22.3l0.2 0.1M18.6 9.1l0.2 0.1M47.3 45.2l0.2 0.0M22.4 46.1l0.3 0.1M46.6 5.5l0.0 0.0" stroke="#167c16" stroke-width="0.9" stroke-linecap="round" opacity="0.5" fill="none"/><path d="M44.7 18.5l-0.0 0.1M35.2 3.4l-0.1 0.1M40.8 14.7l0.4 0.2M35.9 45.1l0.1 0.4M43.0 16.7l0.3 0.2M14.0 46.4l0.2 0.9" stroke="#167c16" stroke-width="1.5" stroke-linecap="round" opacity="0.75" fill="none"/><path d="M6.2 14.3l-0.4 0.5M18.3 47.8l-0.3 0.5M19.5 16.9l-0.4 0.3M16.9 5.2l0.3 0.2M16.9 13.4l-0.2 0.2M24.4 6.4l-0.4 0.0M26.8 13.9l-0.0 0.6M11.8 39.5l-0.3 0.4M33.8 48.7l0.3 0.1M1.0 34.0l-0.1 0.1M45.8 11.8l0.2 0.0M16.4 32.5l0.1 0.1M48.4 34.4l0.3 0.2M8.7 32.5l0.4 0.2M31.1 39.3l-0.2 0.1M35.2 23.4l-0.2 0.0M17.5 36.9l0.3 0.2M36.6 11.5l0.0 0.2M16.6 5.5l0.6 0.4M33.8 14.5l-0.4 0.2" stroke="#167c16" stroke-width="1.2" stroke-linecap="round" opacity="0.5" fill="none"/><path d="M18.2 30.5l-0.1 0.0M28.7 0.4l-0.3 0.2M0.7 10.2l-0.0 0.0M15.7 21.0l-0.1 0.0M18.7 43.4l0.1 0.1M0.8 44.9l-0.0 0.4M25.7 7.5l0.2 0.1M1.8 38.1l0.1 0.2M43.6 4.0l0.5 0.0" stroke="#167c16" stroke-width="0.9" stroke-linecap="round" opacity="0.75" fill="none"/><path d="M42.2 33.7l-0.4 0.6M1.3 38.0l0.2 0.2M48.8 16.2l-0.2 0.2M47.6 20.6l0.1 0.0" stroke="#167c16" stroke-width="1.2" stroke-linecap="round" opacity="0.75" fill="none"/><path d="M35.9 0.1l0.2 0.3M29.7 40.4l-0.0 0.3M4.1 16.7l0.1 0.2M42.7 32.7l-0.0 0.0M21.7 7.8l-0.4 0.1M30.0 12.9l0.2 0.0M22.2 50.0l0.1 0.0M24.4 31.1l-0.0 0.3M17.8 40.9l0.0 0.3M14.1 5.5l0.3 0.2" stroke="#167c16" stroke-width="0.6" stroke-linecap="round" opacity="0.5" fill="none"/><path d="M50.1 31.4l-0.1 0.5M33.7 21.8l0.6 0.0M2.3 36.0l0.3 0.0M27.6 19.5l-0.1 0.1M32.9 5.4l-0.6 0.1M3.3 3.6l0.1 0.1M3.3 32.4l-0.3 0.3M18.7 39.7l0.2 0.0" stroke="#167c16" stroke-width="1.2" stroke-linecap="round" opacity="0.25" fill="none"/><path d="M18.1 45.4l0.1 0.0M25.8 47.2l0.1 0.1M45.9 35.6l0.0 0.0M11.2 20.1l-0.3 0.0M14.0 49.3l-0.0 0.0M13.7 3.1l-0.0 0.5M15.8 49.1l-0.1 0.0M31.0 28.4l0.2 0.4M22.2 38.4l0.1 0.2M4.6 9.8l0.1 0.5" stroke="#167c16" stroke-width="0.9" stroke-linecap="round" opacity="0.25" fill="none"/><path d="M20.8 27.4l0.1 0.1M19.2 33.8l-0.1 0.1M6.4 23.9l0.1 0.0" stroke="#167c16" stroke-width="0.6" stroke-linecap="round" opacity="0.25" fill="none"/><path d="M38.1 12.2l0.0 0.1M22.8 25.4l0.2 0.0M50.2 16.0l-0.2 0.7M48.9 32.5l-0.0 0.2M17.1 21.0l0.3 0.2M43.5 10.2l0.0 0.0M40.1 14.2l0.5 0.4M14.2 37.5l0.2 0.5M11.3 11.0l-0.0 0.5M39.2 14.7l-0.5 0.3M22.0 33.9l0.0 0.1M31.6 31.9l0.1 0.1M26.3 15.1l0.3 0.3" stroke="#167c16" stroke-width="1.5" stroke-linecap="round" opacity="0.5" fill="none"/><path d="M43.6 32.1l0.3 0.1M38.9 18.9l0.1 0.2M25.4 42.2l0.1 0.0M5.8 36.8l-0.0 0.0" stroke="#167c16" stroke-width="0.6" stroke-linecap="round" opacity="0.75" fill="none"/><path d="M35.4 26.0l0.0 0.5M36.7 13.5l-0.0 0.7M5.1 42.3l0.2 0.1M12.7 12.1l0.6 0.2" stroke="#167c16" stroke-width="1.5" stroke-linecap="round" opacity="0.25" fill="none"/><path d="M35.0 29.6l0.5 0.3M50.0 23.5l-0.6 0.7M5.5 31.2l-0.8 0.3M20.8 42.8l0.2 0.2M6.7 15.3l-0.1 0.1M44.8 12.2l-0.1 0.1M16.4 14.2l0.2 0.6M9.9 40.3l0.9 0.7M19.2 46.3l-0.0 0.1M41.1 22.8l-0.3 0.9M27.0 30.1l0.2 0.3M4.8 17.6l-0.1 0.1M12.0 27.0l-0.3 0.6" stroke="#24ac24" stroke-width="1.5" stroke-linecap="round" opacity="0.75" fill="none"/><path d="M22.0 14.2l-0.1 0.2M4.3 40.4l-0.0 0.1M8.6 7.8l0.3 0.1M46.5 40.9l0.3 0.8M6.4 6.8l-0.8 0.0M22.5 40.0l0.8 0.5M24.8 19.9l-0.1 0.3M27.3 18.9l-0.1 0.1M36.6 48.8l-0.1 0.6M11.4 35.5l-0.1 0.3M22.5 49.4l0.0 0.0M33.0 19.8l-0.5 0.8M44.2 1.5l0.4 0.6M39.9 28.3l-0.1 0.0M4.0 43.3l-1.0 0.2M28.7 44.9l0.7 0.5M24.9 38.1l0.1 0.4M3.5 40.8l-0.9 0.2M31.1 5.0l-0.2 0.1" stroke="#24ac24" stroke-width="1.2" stroke-linecap="round" opacity="0.75" fill="none"/><path d="M25.4 36.3l0.4 0.5M4.0 43.5l0.3 0.2M27.7 41.0l0.1 0.2M47.2 39.2l0.3 0.5M29.3 0.6l0.5 0.1M41.6 45.1l0.2 0.2M38.4 31.1l-0.1 0.7M17.4 40.5l-0.5 0.1M42.0 46.4l-0.4 0.2M28.6 13.9l-0.1 0.0M33.4 44.0l0.0 0.0M6.4 19.4l0.4 0.3M46.4 47.3l0.5 0.5M26.0 14.5l-0.7 0.2M49.5 20.8l-0.1 0.0M29.8 27.4l0.0 0.3M31.5 14.1l0.1 0.1M5.9 37.9l-0.0 0.2M18.5 6.0l0.1 0.4M23.8 40.9l0.0 0.0M24.8 24.8l0.4 0.2M44.2 21.2l-0.1 0.3M0.8 16.6l0.3 0.0M15.2 36.7l-0.3 0.2M21.8 28.3l0.1 0.3M49.7 36.0l-0.0 0.0M36.8 6.1l0.2 0.3" stroke="#24ac24" stroke-width="0.9" stroke-linecap="round" opacity="0.75" fill="none"/><path d="M49.4 45.0l-0.3 0.2M0.6 22.4l0.6 0.8M28.3 12.8l0.0 0.0M30.7 5.0l-0.0 0.0M46.4 24.4l-0.7 0.7" stroke="#24ac24" stroke-width="1.8" stroke-linecap="round" opacity="1.0" fill="none"/><path d="M30.8 10.3l-0.2 1.2M47.3 42.0l0.1 1.1M12.4 14.5l-1.4 0.5M38.2 2.3l-0.4 0.1M48.1 39.3l0.3 0.7M20.0 27.6l0.4 0.2M46.7 24.1l-0.6 1.2M17.4 39.4l0.2 1.0M28.9 41.1l1.5 0.0M13.6 44.6l-0.6 0.9M15.6 0.7l0.3 0.1M38.6 23.7l-0.6 0.1M17.3 48.7l-0.7 0.1M10.6 7.4l0.7 0.3M26.0 28.3l-0.3 0.9" stroke="#24ac24" stroke-width="1.8" stroke-linecap="round" opacity="0.75" fill="none"/><path d="M23.3 36.0l0.0 0.1M32.7 34.6l0.2 0.5M3.8 22.8l-0.2 0.0M40.3 30.1l-0.5 0.0M35.5 47.7l0.5 0.1M38.6 15.4l0.0 0.4M41.1 8.0l0.5 0.3M3.7 37.9l0.0 0.0M18.4 5.4l0.1 0.3M27.1 26.9l-0.2 0.3M33.0 11.3l-0.0 0.0M26.8 32.2l-0.1 0.1M2.1 13.8l0.3 0.2M46.5 13.6l-0.4 0.4M20.8 47.7l-0.0 0.0" stroke="#24ac24" stroke-width="0.6" stroke-linecap="round" opacity="0.75" fill="none"/><path d="M21.4 18.9l0.2 0.7M15.7 18.6l-0.5 0.9M5.1 16.8l-0.4 0.6M21.3 42.2l-0.2 0.9M25.6 7.2l-0.3 0.1M12.2 39.7l-0.3 0.5M6.2 32.1l0.4 0.6M15.4 26.5l-0.4 0.1M5.9 42.8l0.7 0.2M48.3 5.2l-0.2 0.3M48.2 4.2l0.7 0.0M5.3 48.1l-0.0 0.0M8.5 17.3l1.2 0.4M10.6 5.4l-0.6 0.5M12.1 12.8l0.2 0.5M11.8 40.2l-0.0 0.1" stroke="#24ac24" stroke-width="1.5" stroke-linecap="round" opacity="1.0" fill="none"/><path d="M28.7 26.0l-0.5 0.4M7.8 36.1l-0.2 0.1M49.9 24.3l0.3 0.6M18.9 41.8l0.1 0.3M11.7 35.5l-0.2 0.2M38.5 32.1l0.4 0.3M16.2 10.0l-0.0 0.0M9.7 31.6l-0.1 0.1" stroke="#24ac24" stroke-width="0.9" stroke-linecap="round" opacity="1.0" fill="none"/><path d="M15.3 13.5l0.1 0.3M0.6 43.4l0.5 0.5M50.2 10.2l0.1 0.0M29.8 18.5l-0.6 0.1M14.4 23.4l-0.6 0.3" stroke="#24ac24" stroke-width="0.9" stroke-linecap="round" opacity="0.5" fill="none"/><path d="M12.8 1.2l-0.0 0.3M6.3 42.7l-0.3 0.4M40.8 11.5l0.4 0.1M20.7 37.8l-0.2 0.1M49.0 4.6l0.0 0.2" stroke="#24ac24" stroke-width="0.6" stroke-linecap="round" opacity="1.0" fill="none"/><path d="M9.6 35.7l-0.2 0.6M39.8 1.6l0.1 0.2M0.9 13.6l-0.1 0.1M38.6 39.0l0.5 0.9M13.0 5.2l0.0 0.1M18.9 20.9l-0.4 0.8M10.5 39.5l0.5 0.1M40.1 4.9l0.1 0.1M46.6 22.1l0.3 0.0" stroke="#24ac24" stroke-width="1.2" stroke-linecap="round" opacity="1.0" fill="none"/><path d="M46.0 28.5l-0.1 0.7M44.0 20.8l-1.1 0.7" stroke="#24ac24" stroke-width="1.8" stroke-linecap="round" opacity="0.5" fill="none"/><path d="M38.9 11.0l-0.1 0.2" stroke="#24ac24" stroke-width="1.2" stroke-linecap="round" opacity="0.5" fill="none"/></g>
<g id="rf2" filter="url(#bl)"><path d="M22.2 41.0l-0.1 0.0M13.9 39.4l-0.2 0.1M8.3 9.7l0.0 0.1M4.4 49.6l0.1 0.1M2.1 41.9l-0.0 0.1M40.4 15.4l0.4 0.1" stroke="#741010" stroke-width="0.6" stroke-linecap="round" opacity="0.5" fill="none"/><path d="M48.0 16.5l-0.1 0.2M23.2 26.5l-0.1 0.1M22.0 46.9l-0.1 0.3M34.6 40.0l0.2 0.3M6.7 8.3l-0.0 0.2" stroke="#741010" stroke-width="0.9" stroke-linecap="round" opacity="0.25" fill="none"/><path d="M32.2 17.3l0.2 0.1M33.0 5.7l-0.0 0.1" stroke="#741010" stroke-width="0.6" stroke-linecap="round" opacity="0.25" fill="none"/><path d="M15.4 31.2l-0.1 0.2M27.4 0.1l0.0 0.0M14.1 17.5l-0.5 0.2M32.9 18.0l0.1 0.0M43.6 46.4l-0.1 0.5M27.1 5.1l-0.5 0.2M16.0 7.3l0.1 0.2M25.9 37.6l0.2 0.5" stroke="#741010" stroke-width="1.2" stroke-linecap="round" opacity="0.5" fill="none"/><path d="M38.3 20.4l-0.4 0.1M10.7 41.5l0.1 0.1M41.4 29.5l-0.4 0.4M40.6 49.3l0.1 0.1M25.9 24.0l0.1 0.5M7.7 41.9l0.1 0.2M43.4 38.3l-0.1 0.1" stroke="#741010" stroke-width="0.9" stroke-linecap="round" opacity="0.5" fill="none"/><path d="M21.4 46.4l-0.1 0.2M39.4 6.5l0.3 0.1" stroke="#741010" stroke-width="0.9" stroke-linecap="round" opacity="0.75" fill="none"/><path d="M19.2 13.7l-0.1 0.1M5.9 12.9l0.0 0.1" stroke="#741010" stroke-width="0.6" stroke-linecap="round" opacity="0.75" fill="none"/><path d="M17.2 2.3l0.7 0.3" stroke="#741010" stroke-width="1.5" stroke-linecap="round" opacity="0.5" fill="none"/><path d="M25.7 9.1l0.1 0.1M27.8 20.3l-0.2 0.0" stroke="#741010" stroke-width="1.2" stroke-linecap="round" opacity="0.25" fill="none"/><path d="M40.8 26.7l-0.0 0.1M18.3 44.4l-0.1 0.1" stroke="#c81818" stroke-width="0.9" stroke-linecap="round" opacity="0.75" fill="none"/><path d="M4.5 46.4l-0.0 0.1M45.4 37.7l-0.0 0.0" stroke="#c81818" stroke-width="0.6" stroke-linecap="round" opacity="0.75" fill="none"/><path d="M40.7 34.9l0.0 0.0" stroke="#c81818" stroke-width="0.9" stroke-linecap="round" opacity="0.5" fill="none"/><path d="M39.3 7.7l-0.0 0.0M39.4 34.3l-0.1 0.0M26.7 48.4l0.0 0.1" stroke="#c81818" stroke-width="0.6" stroke-linecap="round" opacity="1.0" fill="none"/></g>
<g id="gf3" filter="url(#bl)"><path d="M42.8 7.5l0.2 0.4M28.2 22.4l-0.2 0.0M36.0 23.7l0.0 0.0M24.6 8.9l0.5 0.2M0.3 17.8l-0.1 0.0M17.0 45.8l-0.1 0.0M31.8 37.2l0.2 0.5M49.6 3.3l-0.1 0.3M37.2 28.9l0.0 0.0M16.3 20.9l-0.0 0.0M3.8 38.8l-0.1 0.0M4.1 38.9l0.1 0.2M47.7 19.9l-0.5 0.0M11.1 35.8l-0.3 0.3M17.5 25.2l0.1 0.0M28.2 48.9l-0.1 0.1M14.3 46.3l0.4 0.3M49.6 3.5l-0.1 0.1M5.3 23.0l0.1 0.1M27.9 46.3l0.0 0.2M13.7 49.0l0.1 0.0M38.2 42.3l0.2 0.0M44.1 34.6l0.5 0.1M18.0 34.6l0.1 0.1" stroke="#167c16" stroke-width="0.9" stroke-linecap="round" opacity="0.5" fill="none"/><path d="M50.1 32.7l-0.0 0.0M35.1 17.6l-0.4 0.3M29.8 21.6l0.3 0.1M46.9 33.7l0.0 0.0M37.1 35.3l-0.2 0.3M39.9 6.1l-0.3 0.2M11.2 33.2l0.2 0.0M29.8 26.7l-0.1 0.2M24.9 40.1l0.0 0.1M41.9 34.8l0.0 0.0M42.1 30.3l-0.1 0.4" stroke="#167c16" stroke-width="0.6" stroke-linecap="round" opacity="0.25" fill="none"/><path d="M16.2 13.2l-0.5 0.3M11.2 1.2l0.2 0.2M38.0 30.2l0.2 0.2M29.6 49.4l0.3 0.1M8.7 13.3l-0.0 0.2M13.0 19.3l0.1 0.1M33.9 11.8l0.4 0.2M37.9 10.6l0.1 0.1M47.4 22.5l-0.0 0.2M15.5 5.3l0.0 0.1M13.0 7.6l-0.1 0.0M24.3 33.5l0.4 0.2M25.9 5.3l-0.3 0.0" stroke="#167c16" stroke-width="0.9" stroke-linecap="round" opacity="0.25" fill="none"/><path d="M48.2 36.6l0.0 0.1M26.0 11.8l0.3 0.0M39.0 46.7l0.5 0.5M16.4 17.2l0.4 0.2M10.3 41.3l-0.1 0.4M13.7 24.5l-0.2 0.1" stroke="#167c16" stroke-width="1.5" stroke-linecap="round" opacity="0.25" fill="none"/><path d="M6.4 21.3l0.7 0.6M31.1 9.4l-0.6 0.4M29.1 47.1l-0.2 0.1M23.1 40.0l0.3 0.4M12.9 40.7l0.1 0.0M32.1 48.8l-0.1 0.1M8.3 35.6l-0.5 0.3M33.8 17.2l0.6 0.7" stroke="#167c16" stroke-width="1.5" stroke-linecap="round" opacity="0.75" fill="none"/><path d="M34.0 28.3l-0.3 0.4M26.1 49.5l0.2 0.6M8.2 20.3l0.5 0.3M23.8 34.6l0.0 0.1M1.4 26.5l0.2 0.6M48.4 18.0l-0.1 0.1M49.5 20.9l-0.5 0.0M50.3 25.0l0.3 0.5M24.3 45.8l-0.3 0.2M5.9 16.1l-0.2 0.4M6.9 14.0l-0.3 0.2M38.8 27.1l-0.7 0.1M38.3 10.9l-0.1 0.1M49.9 50.3l0.0 0.5M3.8 20.9l0.6 0.2M44.8 18.0l0.0 0.7M13.3 46.5l-0.4 0.2M6.9 25.8l0.3 0.1M5.4 12.6l-0.3 0.0M41.4 23.6l-0.0 0.2M26.8 11.3l0.2 0.2M1.2 43.2l-0.2 0.3M8.1 18.4l0.4 0.1M35.3 30.1l0.0 0.0M4.4 23.4l-0.1 0.0M23.4 2.3l-0.5 0.4M16.5 33.4l0.0 0.2M15.6 42.9l0.0 0.5M32.8 30.5l-0.1 0.6" stroke="#167c16" stroke-width="1.2" stroke-linecap="round" opacity="0.5" fill="none"/><path d="M29.7 41.6l-0.3 0.0M33.8 18.7l0.0 0.3M0.2 21.0l-0.3 0.2M15.7 6.2l-0.1 0.3M37.2 24.8l0.1 0.4M26.9 29.3l-0.1 0.1M28.9 43.5l0.2 0.1M26.0 27.2l0.1 0.2M38.9 26.1l0.3 0.1M23.9 35.9l-0.0 0.1M10.9 12.9l-0.2 0.1M47.2 24.6l-0.0 0.1M35.5 0.4l-0.1 0.4M36.0 11.5l0.3 0.1M19.4 27.8l-0.0 0.0" stroke="#167c16" stroke-width="0.6" stroke-linecap="round" opacity="0.5" fill="none"/><path d="M47.2 5.2l-0.3 0.0M28.2 42.8l-0.0 0.0M5.1 31.6l-0.0 0.0M0.2 12.6l0.3 0.0M26.4 21.2l-0.5 0.1M31.8 15.8l0.3 0.0M41.3 42.0l-0.0 0.1M36.2 27.1l-0.5 0.1M45.6 7.0l0.1 0.5M49.0 13.2l-0.0 0.0M3.8 43.8l0.3 0.1M38.4 18.3l-0.0 0.0" stroke="#167c16" stroke-width="0.9" stroke-linecap="round" opacity="0.75" fill="none"/><path d="M12.8 1.3l0.2 0.5M0.9 21.0l-0.1 0.3M29.0 7.4l0.0 0.2M11.2 22.1l0.0 0.3M27.7 45.2l0.2 0.2M10.4 36.4l-0.0 0.2M18.5 0.0l0.1 0.0M3.9 17.7l0.1 0.0M20.1 19.4l-0.5 0.1M32.4 30.0l-0.0 0.0M46.6 11.3l0.0 0.0M3.8 19.6l0.7 0.1M38.4 23.8l0.1 0.1M42.2 45.5l-0.0 0.1M25.7 24.0l0.1 0.0M35.5 8.7l0.0 0.9" stroke="#167c16" stroke-width="1.5" stroke-linecap="round" opacity="0.5" fill="none"/><path d="M11.9 35.7l0.6 0.1M15.1 30.7l0.2 0.6M49.6 0.6l0.1 0.5M45.2 28.3l-0.1 0.4M29.1 49.8l0.2 0.3M44.2 5.3l0.2 0.1M24.5 43.8l-0.2 0.5" stroke="#167c16" stroke-width="1.2" stroke-linecap="round" opacity="0.25" fill="none"/><path d="M47.3 22.0l0.1 0.1M20.8 37.5l-0.2 0.1M6.5 30.8l0.0 0.0M29.3 12.0l0.0 0.2" stroke="#167c16" stroke-width="1.2" stroke-linecap="round" opacity="0.75" fill="none"/><path d="M17.2 17.6l-0.3 0.2M19.9 13.6l-0.3 0.1M19.0 3.5l-0.3 0.1M48.1 30.0l0.1 0.0M45.8 33.0l-0.1 0.1" stroke="#167c16" stroke-width="0.6" stroke-linecap="round" opacity="0.75" fill="none"/><path d="M43.1 3.5l0.1 0.3M18.3 23.8l0.4 0.1M4.6 18.4l0.4 0.1M32.9 30.9l0.4 0.0M40.5 50.1l-0.3 0.4M0.4 22.4l0.3 0.1" stroke="#24ac24" stroke-width="1.5" stroke-linecap="round" opacity="0.75" fill="none"/><path d="M30.7 26.6l0.2 0.0M34.4 20.0l-0.2 0.5M4.7 27.2l-0.1 0.1M9.2 9.4l0.0 0.0M42.5 8.6l-0.0 0.4M45.1 18.3l-0.0 0.2M44.6 15.3l0.5 0.1M26.6 3.8l-0.2 0.3M44.8 6.5l-0.0 0.2" stroke="#24ac24" stroke-width="1.2" stroke-linecap="round" opacity="1.0" fill="none"/><path d="M39.2 32.6l-0.0 0.0M3.9 47.9l-0.0 0.3M46.7 15.1l0.1 0.2M36.2 32.9l0.0 0.0M9.3 9.2l0.3 0.3M40.8 34.1l0.0 0.3M39.0 43.6l0.1 0.1M44.0 31.0l0.2 0.1M47.4 19.7l0.2 0.0M44.5 29.2l-0.1 0.0M42.4 19.1l0.1 0.0M38.0 34.2l-0.2 0.0M25.6 27.2l0.3 0.1M14.0 31.2l-0.1 0.2M36.0 16.6l0.3 0.1M25.7 13.1l0.1 0.1M0.4 47.0l0.0 0.3M20.2 25.1l-0.1 0.1M13.0 46.9l-0.1 0.4M13.5 30.6l-0.1 0.2M40.5 42.5l0.4 0.1" stroke="#24ac24" stroke-width="0.9" stroke-linecap="round" opacity="0.75" fill="none"/><path d="M28.3 37.2l-0.3 0.2M3.0 47.1l-0.0 0.0M20.3 26.2l0.1 0.0M27.6 13.8l-0.2 0.1M14.8 29.1l-0.0 0.1M10.2 9.3l-0.0 0.1M4.9 42.4l0.1 0.0M36.6 22.6l0.0 0.1M3.2 10.4l0.2 0.0M18.5 48.0l0.1 0.0M12.9 41.5l-0.2 0.1M17.1 6.4l0.2 0.1M4.6 6.2l0.3 0.0M2.3 48.1l0.3 0.0" stroke="#24ac24" stroke-width="0.6" stroke-linecap="round" opacity="1.0" fill="none"/><path d="M39.8 47.7l-0.4 0.3M33.7 20.7l-0.0 0.2M10.6 6.5l-0.5 0.1M1.6 4.1l0.0 0.1M34.2 42.3l-0.2 0.1M34.9 46.8l0.2 0.1M40.7 24.2l-0.0 0.2M11.3 24.3l0.0 0.4M27.6 15.6l-0.2 0.5M14.3 23.6l-0.4 0.3M38.7 28.9l-0.0 0.5M31.9 12.0l-0.1 0.4M33.8 14.6l-0.0 0.0M42.2 12.5l-0.3 0.1M42.6 35.1l-0.2 0.3M12.6 48.3l0.2 0.3M9.2 49.9l0.4 0.2M30.1 39.6l0.0 0.0M12.8 23.8l0.0 0.1" stroke="#24ac24" stroke-width="1.2" stroke-linecap="round" opacity="0.75" fill="none"/><path d="M31.7 33.7l-0.1 0.0M24.1 7.1l0.1 0.2M12.4 9.2l0.1 0.1M28.0 16.4l-0.1 0.1M10.9 20.5l-0.0 0.1M0.6 48.5l0.3 0.2M13.7 25.8l0.1 0.3M11.8 30.1l0.2 0.1M8.5 42.3l-0.3 0.0M8.6 16.2l0.1 0.2M34.3 5.6l-0.0 0.0M15.6 21.2l-0.2 0.3M44.9 14.2l-0.0 0.0M50.0 15.3l0.2 0.0M4.8 32.6l0.2 0.1" stroke="#24ac24" stroke-width="0.6" stroke-linecap="round" opacity="0.75" fill="none"/><path d="M39.4 14.7l0.0 0.0" stroke="#24ac24" stroke-width="1.5" stroke-linecap="round" opacity="0.5" fill="none"/><path d="M31.8 22.2l-0.0 0.1M7.4 13.1l0.0 0.2M8.8 34.8l0.3 0.4M4.3 23.7l-0.2 0.0M50.0 31.1l-0.1 0.0M46.3 6.3l-0.3 0.0" stroke="#24ac24" stroke-width="0.9" stroke-linecap="round" opacity="1.0" fill="none"/><path d="M27.6 17.7l0.2 0.3M44.1 47.6l-0.1 0.0M48.3 24.6l0.0 0.5M33.0 27.2l0.0 0.0M38.4 8.1l0.0 0.1M7.1 15.2l-0.1 0.4" stroke="#24ac24" stroke-width="1.2" stroke-linecap="round" opacity="0.5" fill="none"/><path d="M37.1 8.2l0.0 0.0" stroke="#24ac24" stroke-width="0.9" stroke-linecap="round" opacity="0.5" fill="none"/><path d="M13.2 45.8l-0.2 0.1" stroke="#24ac24" stroke-width="1.5" stroke-linecap="round" opacity="1.0" fill="none"/><path d="M12.1 23.9l0.1 0.1" stroke="#24ac24" stroke-width="0.6" stroke-linecap="round" opacity="0.5" fill="none"/></g>
<g id="rf3" filter="url(#bl)"><path d="M24.0 10.7l-0.2 0.5M3.1 44.7l0.0 0.4M26.2 43.9l-0.1 0.3M49.0 37.7l0.1 0.1M40.6 5.0l0.3 0.5M2.1 5.0l0.4 0.3M14.1 10.7l-0.1 0.1M9.6 4.6l0.3 0.3" stroke="#741010" stroke-width="1.2" stroke-linecap="round" opacity="0.5" fill="none"/><path d="M38.1 26.9l0.1 0.0M29.2 23.2l-0.0 0.5M18.6 0.3l0.0 0.1M6.6 32.9l0.2 0.3M2.0 23.5l-0.2 0.3M9.9 2.2l-0.0 0.0M45.2 18.2l-0.2 0.5M16.9 19.9l-0.3 0.1M43.7 3.9l-0.1 0.0" stroke="#741010" stroke-width="0.9" stroke-linecap="round" opacity="0.5" fill="none"/><path d="M39.5 34.3l0.1 0.1M40.5 16.1l0.1 0.2M2.0 27.8l-0.1 0.0M23.0 42.6l-0.3 0.2" stroke="#741010" stroke-width="0.6" stroke-linecap="round" opacity="0.5" fill="none"/><path d="M24.8 14.8l-0.2 0.3M35.1 7.4l0.4 0.1M19.5 8.5l0.2 0.5" stroke="#741010" stroke-width="1.5" stroke-linecap="round" opacity="0.5" fill="none"/><path d="M46.6 8.0l-0.2 0.1M5.7 28.7l-0.2 0.2M24.5 38.7l-0.0 0.0" stroke="#741010" stroke-width="0.9" stroke-linecap="round" opacity="0.75" fill="none"/><path d="M23.4 36.7l0.5 0.3M1.2 42.3l0.1 0.1" stroke="#741010" stroke-width="1.2" stroke-linecap="round" opacity="0.75" fill="none"/><path d="M14.3 21.3l0.5 0.1M39.8 14.4l0.0 0.1" stroke="#741010" stroke-width="1.5" stroke-linecap="round" opacity="0.25" fill="none"/><path d="M26.0 38.7l0.1 0.3M0.7 31.5l-0.1 0.2M47.3 17.3l0.0 0.1" stroke="#741010" stroke-width="0.9" stroke-linecap="round" opacity="0.25" fill="none"/><path d="M28.7 37.9l-0.1 0.2" stroke="#741010" stroke-width="0.6" stroke-linecap="round" opacity="0.75" fill="none"/><path d="M35.6 47.2l-0.0 0.1M9.1 3.8l0.1 0.0M27.2 18.0l0.1 0.1" stroke="#c81818" stroke-width="0.9" stroke-linecap="round" opacity="1.0" fill="none"/><path d="M0.0 21.1l0.1 0.0M20.4 4.6l0.1 0.0M22.0 26.5l0.0 0.0M19.2 35.9l0.0 0.0" stroke="#c81818" stroke-width="0.6" stroke-linecap="round" opacity="0.75" fill="none"/><path d="M15.1 26.5l-0.0 0.0" stroke="#c81818" stroke-width="0.6" stroke-linecap="round" opacity="0.5" fill="none"/><path d="M49.7 20.1l-0.1 0.1" stroke="#c81818" stroke-width="0.6" stroke-linecap="round" opacity="1.0" fill="none"/><path d="M8.8 17.7l0.1 0.0" stroke="#c81818" stroke-width="0.9" stroke-linecap="round" opacity="0.5" fill="none"/></g>
</defs>
<rect x="167.20" y="25.20" width="50.40" height="50.40" fill="#040404"/>
<g transform="translate(167.2 25.2)" clip-path="url(#tc)">
<use href="#gf0"/>
</g>
<line x1="170.70" y1="72.40" x2="175.70" y2="72.40" stroke="#777" stroke-width="0.5"/>
<rect x="221.10" y="25.20" width="50.40" height="50.40" fill="#040404"/>
<g transform="translate(221.1 25.2)" clip-path="url(#tc)">
<use href="#gf1"/>
</g>
<line x1="224.60" y1="72.40" x2="229.60" y2="72.40" stroke="#777" stroke-width="0.5"/>
<rect x="275.00" y="25.20" width="50.40" height="50.40" fill="#040404"/>
<g transform="translate(275.0 25.2)" clip-path="url(#tc)">
<use href="#gf2"/>
</g>
<line x1="278.50" y1="72.40" x2="283.50" y2="72.40" stroke="#777" stroke-width="0.5"/>
<rect x="328.90" y="25.20" width="50.40" height="50.40" fill="#040404"/>
<g transform="translate(328.9 25.2)" clip-path="url(#tc)">
<use href="#gf3"/>
</g>
<line x1="332.40" y1="72.40" x2="337.40" y2="72.40" stroke="#777" stroke-width="0.5"/>
<rect x="167.20" y="78.50" width="50.40" height="50.40" fill="#040404"/>
<g transform="translate(167.2 78.5)" clip-path="url(#tc)">
<use href="#rf0"/>
</g>
<line x1="170.70" y1="125.70" x2="175.70" y2="125.70" stroke="#777" stroke-width="0.5"/>
<rect x="221.10" y="78.50" width="50.40" height="50.40" fill="#040404"/>
<g transform="translate(221.1 78.5)" clip-path="url(#tc)">
<use href="#rf1"/>
</g>
<line x1="224.60" y1="125.70" x2="229.60" y2="125.70" stroke="#777" stroke-width="0.5"/>
<rect x="275.00" y="78.50" width="50.40" height="50.40" fill="#040404"/>
<g transform="translate(275.0 78.5)" clip-path="url(#tc)">
<use href="#rf2"/>
</g>
<line x1="278.50" y1="125.70" x2="283.50" y2="125.70" stroke="#777" stroke-width="0.5"/>
<rect x="328.90" y="78.50" width="50.40" height="50.40" fill="#040404"/>
<g transform="translate(328.9 78.5)" clip-path="url(#tc)">
<use href="#rf3"/>
</g>
<line x1="332.40" y1="125.70" x2="337.40" y2="125.70" stroke="#777" stroke-width="0.5"/>
<rect x="167.20" y="131.70" width="50.40" height="50.40" fill="#040404"/>
<g transform="translate(167.2 131.7)" clip-path="url(#tc)">
<use href="#gf0"/>
<use href="#rf0" opacity="0.8"/>
</g>
<line x1="170.70" y1="178.90" x2="175.70" y2="178.90" stroke="#777" stroke-width="0.5"/>
<rect x="221.10" y="131.70" width="50.40" height="50.40" fill="#040404"/>
<g transform="translate(221.1 131.7)" clip-path="url(#tc)">
<use href="#gf1"/>
<use href="#rf1" opacity="0.95"/>
</g>
<line x1="224.60" y1="178.90" x2="229.60" y2="178.90" stroke="#777" stroke-width="0.5"/>
<rect x="275.00" y="131.70" width="50.40" height="50.40" fill="#040404"/>
<g transform="translate(275.0 131.7)" clip-path="url(#tc)">
<use href="#gf2"/>
<use href="#rf2" opacity="0.8"/>
</g>
<line x1="278.50" y1="178.90" x2="283.50" y2="178.90" stroke="#777" stroke-width="0.5"/>
<rect x="328.90" y="131.70" width="50.40" height="50.40" fill="#040404"/>
<g transform="translate(328.9 131.7)" clip-path="url(#tc)">
<use href="#gf3"/>
<use href="#rf3" opacity="0.8"/>
</g>
<text x="366.50" y="175.90" font-size="5.3" text-anchor="middle" font-weight="bold" fill="#fff" stroke="#fff" stroke-width="0.22">200 <tspan font-weight="normal">µ</tspan>m</text>
<line x1="363.00" y1="179.00" x2="367.60" y2="179.00" stroke="#ddd" stroke-width="0.8"/>
</g>
<g id="panelC">
<text x="5.00" y="182.30" font-size="7.4" text-anchor="start" font-weight="bold" fill="#000" stroke="#000" stroke-width="0.22">C</text>
<text x="113.00" y="194.60" font-size="6.5" text-anchor="middle" font-weight="bold" fill="#000" stroke="#000" stroke-width="0.22">HCT116</text>
<line x1="15.50" y1="196.50" x2="205.20" y2="196.50" stroke="#555" stroke-width="0.9"/>
<text x="113.00" y="299.20" font-size="6.5" text-anchor="middle" font-weight="bold" fill="#000" stroke="#000" stroke-width="0.22">HCT116/OXA</text>
<line x1="15.50" y1="301.10" x2="205.20" y2="301.10" stroke="#555" stroke-width="0.9"/>
<text x="65.60" y="205.60" font-size="6.4" text-anchor="middle" font-weight="bold" fill="#000" stroke="#000" stroke-width="0.22">Control</text>
<rect x="25.00" y="209.50" width="77.20" height="76.30" fill="#fff" stroke="#777" stroke-width="0.8"/>
<line x1="67.00" y1="209.50" x2="67.00" y2="285.80" stroke="#8a8a8a" stroke-width="0.9"/>
<line x1="25.00" y1="246.30" x2="102.20" y2="246.30" stroke="#8a8a8a" stroke-width="0.9"/>
<text x="26.90" y="214.40" font-size="4.1" text-anchor="start" font-weight="normal" fill="#333">Q1-UL(1.91%)</text>
<text x="100.30" y="214.40" font-size="4.1" text-anchor="end" font-weight="normal" fill="#333">Q1-UR(2.40%)</text>
<text x="26.90" y="283.60" font-size="4.1" text-anchor="start" font-weight="normal" fill="#333">Q1-LL(94.43%)</text>
<text x="100.30" y="283.60" font-size="4.1" text-anchor="end" font-weight="normal" fill="#333">Q1-LR(1.26%)</text>
<text x="23.60" y="290.40" font-size="3.2" fill="#333">10<tspan dy="-1.3" font-size="2.2">1</tspan></text>
<text x="22.00" y="287.40" font-size="3.2" fill="#333" transform="rotate(-90 22.00 287.40)">10<tspan dy="-1.3" font-size="2.2">1</tspan></text>
<text x="42.60" y="290.40" font-size="3.2" fill="#333">10<tspan dy="-1.3" font-size="2.2">2</tspan></text>
<text x="22.00" y="268.62" font-size="3.2" fill="#333" transform="rotate(-90 22.00 268.62)">10<tspan dy="-1.3" font-size="2.2">2</tspan></text>
<text x="61.60" y="290.40" font-size="3.2" fill="#333">10<tspan dy="-1.3" font-size="2.2">3</tspan></text>
<text x="22.00" y="249.85" font-size="3.2" fill="#333" transform="rotate(-90 22.00 249.85)">10<tspan dy="-1.3" font-size="2.2">3</tspan></text>
<text x="80.60" y="290.40" font-size="3.2" fill="#333">10<tspan dy="-1.3" font-size="2.2">4</tspan></text>
<text x="22.00" y="231.07" font-size="3.2" fill="#333" transform="rotate(-90 22.00 231.07)">10<tspan dy="-1.3" font-size="2.2">4</tspan></text>
<text x="99.60" y="290.40" font-size="3.2" fill="#333">10<tspan dy="-1.3" font-size="2.2">5</tspan></text>
<text x="22.00" y="212.30" font-size="3.2" fill="#333" transform="rotate(-90 22.00 212.30)">10<tspan dy="-1.3" font-size="2.2">5</tspan></text>
<path d="M25.00 280.06h1M25.00 276.70h1M25.00 274.32h1M25.00 272.47h1M25.00 270.96h1M25.00 269.68h1M25.00 268.57h1M25.00 267.60h1M25.00 260.98h1M25.00 257.62h1M25.00 255.24h1M25.00 253.39h1M25.00 251.88h1M25.00 250.60h1M25.00 249.50h1M25.00 248.52h1M25.00 241.91h1M25.00 238.55h1M25.00 236.17h1M25.00 234.32h1M25.00 232.81h1M25.00 231.53h1M25.00 230.42h1M25.00 229.45h1M25.00 222.83h1M25.00 219.47h1M25.00 217.09h1M25.00 215.24h1M25.00 213.73h1M25.00 212.45h1M25.00 211.35h1M25.00 210.37h1M30.81 285.80v-1M34.21 285.80v-1M36.62 285.80v-1M38.49 285.80v-1M40.02 285.80v-1M41.31 285.80v-1M42.43 285.80v-1M43.42 285.80v-1M50.11 285.80v-1M53.51 285.80v-1M55.92 285.80v-1M57.79 285.80v-1M59.32 285.80v-1M60.61 285.80v-1M61.73 285.80v-1M62.72 285.80v-1M69.41 285.80v-1M72.81 285.80v-1M75.22 285.80v-1M77.09 285.80v-1M78.62 285.80v-1M79.91 285.80v-1M81.03 285.80v-1M82.02 285.80v-1M88.71 285.80v-1M92.11 285.80v-1M94.52 285.80v-1M96.39 285.80v-1M97.92 285.80v-1M99.21 285.80v-1M100.33 285.80v-1M101.32 285.80v-1" stroke="#666" stroke-width="0.35" fill="none"/>
<path d="M67.0 234.5h0M39.3 270.2h0M59.9 248.6h0M55.1 257.7h0M50.0 252.6h0M52.9 257.2h0M65.0 251.5h0M42.4 268.8h0M64.4 258.2h0M59.3 252.1h0M51.2 241.8h0M47.0 261.9h0M51.1 271.5h0M58.2 258.1h0M57.1 263.1h0M57.4 250.6h0M56.8 248.0h0M60.3 238.9h0M48.1 259.2h0M61.5 263.7h0M58.6 272.7h0M66.0 247.6h0M55.5 268.4h0M33.0 284.9h0M61.1 250.5h0M68.0 233.9h0M45.5 272.0h0M66.9 259.7h0M44.4 277.3h0M60.1 245.6h0M46.4 260.4h0M64.0 255.1h0M60.1 255.0h0M60.9 250.0h0M63.6 255.6h0M65.9 249.0h0M59.0 261.3h0M36.7 269.2h0M66.2 244.7h0M45.5 268.2h0M54.5 261.5h0M54.8 270.4h0M55.9 275.6h0M51.5 248.1h0M47.4 271.9h0M54.9 255.9h0M55.9 260.3h0M47.9 271.1h0M66.9 235.8h0M51.6 271.8h0M68.8 250.2h0M50.6 265.8h0M55.4 257.2h0M62.8 259.5h0M58.6 254.5h0M62.2 267.5h0M56.5 278.2h0M60.3 253.0h0M58.9 272.9h0M67.4 251.0h0M60.3 233.9h0M54.3 257.9h0M50.7 267.2h0M61.1 256.3h0M47.9 257.0h0M61.6 256.4h0M73.4 242.2h0M49.8 256.0h0M69.8 231.2h0M59.9 260.3h0M64.7 259.2h0M45.0 267.7h0M50.4 254.2h0M57.6 270.3h0M56.6 256.7h0M51.6 265.6h0M49.8 256.7h0M54.2 248.1h0M61.9 246.2h0M32.7 277.2h0M52.9 254.3h0M73.6 246.6h0M73.3 242.1h0M61.1 244.7h0M61.6 245.7h0M48.3 256.0h0M57.4 260.6h0M49.4 256.9h0M65.4 253.9h0M58.2 263.2h0M56.9 247.0h0M46.0 254.2h0M50.3 271.4h0M51.1 269.8h0M47.7 249.7h0M59.1 269.5h0M55.8 260.1h0M42.8 261.7h0M58.2 284.8h0M49.7 258.9h0M46.6 252.5h0M72.6 251.6h0M51.6 268.3h0M53.2 271.5h0M48.8 267.7h0M66.3 248.6h0M45.6 258.2h0M50.2 279.5h0M58.8 255.0h0M64.2 247.9h0M49.7 266.7h0M54.4 260.8h0M74.5 237.0h0M55.7 256.3h0M45.8 263.4h0M40.3 277.0h0M36.1 269.0h0M39.1 262.6h0M70.3 250.3h0M58.4 276.1h0M47.4 245.2h0M50.4 256.4h0M42.2 276.3h0M64.9 249.9h0M42.1 272.3h0M55.5 271.1h0M49.7 257.7h0M39.5 262.6h0M53.7 271.2h0M43.2 279.5h0M58.2 263.7h0M51.8 274.2h0M76.5 251.8h0M44.0 276.0h0M54.2 262.4h0M52.5 272.5h0M78.1 241.4h0M45.9 267.5h0M60.6 253.1h0M55.9 271.5h0M63.5 258.1h0M60.0 265.8h0M46.6 260.9h0M48.3 255.5h0M67.0 249.8h0M44.6 277.3h0M59.0 250.3h0M55.0 253.9h0M54.2 260.3h0M53.6 252.0h0M49.0 272.3h0M54.1 266.7h0M45.3 260.7h0M61.3 253.4h0M58.3 251.5h0M58.7 267.6h0M52.0 282.5h0M58.2 254.6h0M58.6 261.0h0M51.2 268.5h0M39.7 263.5h0M56.9 258.3h0M62.1 255.3h0M63.6 255.5h0M53.8 274.4h0M70.4 231.3h0M49.8 274.8h0M66.1 254.1h0M58.7 240.1h0M59.8 257.7h0M59.2 244.6h0M53.4 258.5h0M53.2 261.1h0M45.5 255.7h0M55.1 260.6h0M35.3 252.3h0M47.2 264.8h0M56.9 273.9h0M60.4 250.1h0M75.0 264.7h0M50.8 271.2h0M58.1 270.8h0M61.9 248.5h0M55.3 251.2h0M48.4 278.6h0M64.6 242.6h0M42.8 259.4h0M63.7 234.6h0M47.5 269.0h0M63.5 248.0h0M55.0 260.2h0M60.6 251.4h0M55.7 258.1h0M54.0 275.5h0M44.0 262.6h0M52.2 264.4h0M53.5 247.0h0M47.3 273.2h0M52.3 252.6h0M48.2 271.9h0M46.2 256.1h0M56.3 273.6h0M52.9 274.0h0M51.9 280.1h0M62.8 241.9h0M53.5 268.8h0M49.3 274.2h0M64.5 248.6h0M56.4 256.2h0M57.8 247.3h0M65.6 244.0h0M44.9 257.9h0M53.2 265.2h0M55.6 242.3h0M50.8 259.0h0M47.0 272.0h0M54.1 270.4h0M32.8 272.7h0M56.9 253.7h0M51.2 255.6h0M44.4 268.1h0M50.6 257.8h0M48.0 261.4h0M51.1 253.9h0M28.3 272.2h0M55.3 260.5h0M57.9 248.0h0M40.1 266.5h0M57.1 250.4h0M61.3 249.9h0M44.2 256.7h0M54.3 269.3h0M54.2 268.3h0M48.8 279.7h0M79.2 235.8h0M51.2 252.8h0M48.3 263.1h0M46.5 251.6h0M53.0 271.2h0M59.6 260.9h0M55.2 247.7h0M48.2 275.0h0M55.6 259.9h0M54.4 271.4h0M63.9 258.8h0M56.0 265.8h0M50.1 257.5h0M46.5 255.4h0M54.7 262.4h0M54.6 249.6h0M42.5 270.9h0M37.9 278.6h0M73.3 234.3h0M46.6 265.4h0M61.3 238.6h0M53.9 260.9h0M46.6 265.0h0M39.6 274.0h0M70.6 251.6h0M56.5 265.1h0M58.6 255.8h0M59.9 265.3h0M57.7 253.6h0M57.9 265.4h0M47.5 263.6h0M50.7 261.1h0M65.2 248.6h0M51.9 259.2h0M66.7 247.3h0M73.4 242.2h0M50.9 260.4h0M54.0 263.4h0M62.7 253.7h0M58.2 239.4h0M48.3 255.1h0M45.2 268.3h0M45.9 263.3h0M50.3 278.9h0M57.5 266.3h0M36.4 263.5h0M55.2 268.8h0M53.1 266.9h0M54.5 275.3h0M63.0 259.1h0M59.3 266.9h0M53.1 257.7h0M51.0 266.6h0M43.1 265.2h0M59.3 261.0h0M57.1 265.6h0M59.6 240.1h0M52.1 254.3h0M51.5 267.0h0M63.3 253.4h0M68.1 259.4h0M57.8 267.2h0M67.1 247.2h0M42.2 277.3h0M45.2 257.7h0M58.2 263.1h0M52.4 262.0h0M61.9 243.3h0M48.8 269.5h0M65.4 250.7h0M53.1 257.7h0M67.6 250.6h0M44.9 278.4h0M56.1 251.8h0M44.9 271.9h0M45.9 279.3h0M43.0 259.3h0M60.6 264.1h0M44.7 271.5h0M68.1 242.5h0M52.2 266.2h0M55.4 249.0h0M46.5 255.7h0M36.9 270.8h0M62.2 252.6h0M65.8 256.7h0M56.4 260.3h0M60.0 257.5h0M46.5 269.7h0M54.1 261.6h0M49.3 267.1h0M57.8 257.7h0M62.9 256.8h0M63.4 257.6h0M67.4 256.2h0M56.2 251.7h0M76.1 240.5h0M66.9 249.9h0M49.8 255.8h0M56.2 254.5h0M42.0 257.1h0M59.8 240.8h0M49.8 272.5h0M55.0 251.8h0M56.2 260.9h0M58.6 260.2h0M58.4 251.1h0M54.5 283.2h0M47.6 260.6h0M62.9 254.4h0M62.2 273.8h0M56.2 261.4h0M56.0 256.1h0M50.9 252.6h0M61.2 270.0h0M35.8 279.5h0M58.9 249.9h0M43.9 260.9h0M53.3 260.6h0M43.2 261.3h0M58.1 259.8h0M65.1 250.3h0M71.0 248.7h0M49.2 257.6h0M62.5 258.8h0M38.6 271.4h0M57.0 251.3h0M65.9 246.2h0M44.9 261.2h0M50.7 248.4h0M39.9 268.7h0M74.7 248.6h0M51.6 261.0h0M65.7 257.1h0M60.2 275.2h0M59.1 265.8h0M38.8 283.4h0M59.9 273.4h0M47.4 258.0h0M64.8 238.3h0M48.9 256.0h0M60.5 253.9h0M51.1 261.6h0M47.7 263.4h0M51.3 278.0h0M54.3 246.6h0M49.1 273.0h0M69.3 236.7h0M51.7 262.3h0M55.8 256.9h0M67.0 252.4h0M66.3 259.6h0M50.8 260.5h0M65.7 224.0h0M33.1 267.9h0M52.2 253.0h0M52.0 242.6h0M52.2 260.1h0M53.1 274.4h0M54.5 265.5h0M52.2 265.8h0M52.3 264.7h0M51.0 258.8h0M57.0 255.0h0M43.4 266.3h0M64.4 259.9h0M44.1 271.7h0M63.1 258.9h0M54.1 249.0h0M59.6 262.6h0M55.5 256.9h0M47.8 272.4h0M54.7 260.8h0M70.8 248.9h0M50.8 268.7h0M53.4 263.4h0M70.4 246.7h0M52.1 257.5h0M55.6 262.8h0M56.9 268.6h0M49.4 255.9h0M54.8 230.1h0M52.6 262.3h0M67.0 253.7h0M72.3 250.5h0M57.7 257.2h0M61.7 249.8h0M44.3 271.1h0M62.4 255.4h0M53.3 275.0h0M49.8 252.0h0M63.0 258.6h0M57.1 253.7h0M55.0 271.7h0M56.5 257.7h0M47.3 260.6h0M40.7 277.6h0M66.1 251.4h0M57.8 271.8h0M48.6 259.0h0M68.3 254.7h0M46.5 259.9h0M42.8 252.7h0M62.7 264.4h0M53.3 254.9h0M57.4 251.3h0M61.8 246.2h0M67.0 238.5h0M51.8 255.0h0M48.0 273.9h0M52.7 253.3h0M56.8 253.1h0M50.9 265.3h0M61.2 258.4h0M65.2 248.9h0M46.8 265.0h0M51.7 252.4h0M52.0 260.5h0M55.2 261.6h0M69.9 254.9h0M65.8 254.5h0M52.8 274.1h0M57.2 242.7h0M69.3 232.9h0M51.6 256.8h0M56.3 269.2h0M54.9 256.2h0M58.2 245.5h0M46.6 266.7h0M53.3 269.7h0M48.4 258.9h0M42.3 258.1h0M56.6 258.7h0M58.0 253.2h0M53.2 253.0h0M55.9 260.3h0M49.6 274.0h0M56.2 258.7h0" stroke="#c418c4" stroke-width="0.6" stroke-linecap="round" opacity="0.4" fill="none"/>
<path d="M53.0 255.3h0M57.6 264.8h0M59.1 254.6h0M59.0 262.9h0M57.4 255.1h0M52.1 262.1h0M58.9 265.4h0M49.4 270.5h0M60.4 258.1h0M59.3 253.1h0M56.8 258.7h0M54.7 266.1h0M53.9 267.1h0M63.7 253.4h0M61.1 251.7h0M53.1 270.2h0M51.1 268.4h0M52.1 273.8h0M58.1 265.4h0M56.0 254.7h0M68.3 245.7h0M50.4 266.2h0M65.9 260.1h0M65.7 247.8h0M46.3 271.5h0M56.4 254.3h0M55.0 260.5h0M52.4 258.6h0M64.5 262.7h0M57.0 260.2h0M55.8 267.1h0M60.0 263.4h0M56.7 261.1h0M49.6 262.4h0M67.5 245.4h0M56.0 269.3h0M55.1 264.0h0M59.8 253.1h0M49.3 267.9h0M49.4 273.1h0M51.8 273.5h0M52.5 263.6h0M48.3 275.5h0M56.1 259.9h0M55.7 262.4h0M52.7 271.9h0M49.2 270.4h0M60.6 263.3h0M59.5 257.8h0M55.2 275.3h0M50.7 269.3h0M60.5 251.9h0M51.9 266.0h0M64.4 256.7h0M46.2 268.8h0M53.8 266.9h0M62.9 262.5h0M49.8 272.2h0M50.0 275.6h0M51.1 274.0h0M48.3 266.0h0M57.4 255.4h0M58.1 265.0h0M52.6 263.9h0M60.6 257.5h0M61.1 259.7h0M54.6 259.9h0M55.2 256.6h0M59.7 261.2h0M45.2 270.2h0M57.9 256.5h0M63.5 253.7h0M55.9 258.7h0M64.2 253.0h0M59.4 257.1h0M65.8 254.4h0M58.3 268.0h0M54.0 273.1h0M66.1 246.1h0M50.2 275.9h0M61.0 252.9h0M50.1 267.4h0M66.6 255.6h0M50.5 264.9h0M54.7 264.5h0M49.3 277.0h0M46.7 271.4h0M59.0 257.6h0M53.3 263.2h0M62.1 255.2h0M54.9 264.1h0M54.7 263.1h0M58.0 262.6h0M51.0 273.6h0M59.8 262.2h0M61.5 252.6h0M56.2 263.2h0M53.3 267.6h0M46.6 266.0h0M54.2 266.9h0M44.1 276.8h0M64.2 247.7h0M52.0 263.6h0M64.4 254.5h0M58.0 256.6h0M64.0 254.6h0M51.5 272.9h0M57.2 266.0h0M65.9 248.5h0M60.1 264.9h0M47.5 270.4h0M51.6 272.0h0M62.7 253.4h0M55.0 265.1h0M61.7 260.0h0M60.2 257.0h0M54.0 256.0h0M56.0 260.1h0M58.8 259.6h0M62.7 255.7h0M67.6 252.3h0M50.3 277.0h0M53.3 267.3h0M57.0 257.0h0M57.7 257.7h0M55.2 258.3h0M49.6 271.6h0M47.6 272.0h0M46.5 277.1h0M64.5 249.6h0M55.1 266.1h0M57.5 262.0h0M59.6 250.0h0M63.1 258.5h0M66.1 250.3h0M51.8 260.3h0M53.9 269.9h0M65.3 254.0h0M53.7 261.0h0M54.2 256.2h0M60.4 268.7h0M49.3 273.0h0M48.9 267.3h0M61.4 254.4h0M56.5 266.2h0M51.7 269.6h0M53.0 256.4h0M50.2 261.8h0M53.7 260.1h0M59.7 256.5h0M54.9 276.7h0M53.1 268.5h0M48.6 272.5h0M59.4 265.0h0M60.8 257.5h0M60.7 257.6h0M57.8 267.7h0M49.9 273.0h0M57.6 272.4h0M59.5 259.3h0M59.7 261.1h0M52.6 265.3h0M66.6 258.3h0M52.0 270.3h0M46.8 271.0h0M60.0 265.0h0M59.7 261.5h0M52.6 277.2h0M54.2 274.1h0M62.7 260.9h0M60.9 258.0h0M54.9 267.6h0M46.8 266.1h0M57.7 266.8h0M56.9 261.9h0M54.7 258.1h0M43.3 269.7h0M59.5 272.7h0M54.6 260.9h0M62.0 257.4h0M49.7 271.0h0M63.7 254.4h0M58.9 265.5h0M59.1 265.0h0M62.5 256.2h0M65.3 254.7h0M56.0 256.7h0M48.9 269.0h0M57.2 260.3h0M60.7 256.9h0M64.3 258.9h0M56.5 251.2h0M55.2 268.1h0M57.4 263.2h0M48.4 274.0h0M57.6 256.5h0M55.5 267.3h0M59.8 256.3h0M66.4 249.8h0M47.2 270.5h0M50.1 273.8h0M59.9 258.6h0M55.1 256.8h0M53.3 258.9h0M58.8 256.4h0M47.5 278.5h0M61.1 258.7h0M65.6 249.5h0M53.6 253.7h0M64.1 263.0h0M47.4 269.8h0M55.0 262.5h0M52.8 270.6h0M55.0 263.4h0M42.7 275.7h0M58.1 267.2h0M50.4 271.1h0M48.5 273.4h0M52.8 263.7h0M61.7 258.1h0M58.3 254.0h0M49.4 267.7h0M51.0 277.5h0M55.4 275.3h0M54.4 263.1h0M46.6 270.2h0M61.9 255.6h0M58.4 263.1h0M62.3 257.3h0M45.2 270.7h0M46.7 266.7h0M58.0 266.0h0M59.0 257.2h0M46.3 269.9h0M58.4 253.7h0M57.2 257.5h0M46.2 268.5h0M58.1 258.2h0M54.2 267.7h0M53.5 262.9h0M66.1 249.5h0M54.4 268.3h0M67.2 247.7h0M50.7 266.6h0M51.4 266.1h0M55.0 255.2h0M61.2 252.7h0M61.7 264.1h0M50.9 271.7h0M48.0 267.2h0M56.4 266.0h0M57.1 261.6h0M44.8 274.5h0M44.4 276.0h0M57.7 255.0h0M50.1 272.0h0M53.7 268.0h0M63.3 252.4h0M52.0 270.7h0M57.5 254.3h0M51.3 263.1h0M61.2 257.5h0M63.6 255.9h0M52.2 267.4h0M57.7 258.5h0M64.1 252.4h0M66.8 251.8h0M65.7 252.8h0M43.1 274.7h0M49.7 275.2h0M55.0 270.7h0M58.2 258.1h0M64.9 249.2h0M57.5 272.3h0M57.6 261.1h0M57.7 266.7h0M51.8 268.1h0M55.7 254.0h0M52.1 264.3h0M59.2 259.3h0M66.2 248.3h0M46.3 262.4h0M51.8 267.7h0M64.9 253.4h0M67.5 247.8h0M54.2 263.6h0M61.7 255.7h0M58.8 255.1h0M53.3 269.8h0M61.6 261.5h0M52.6 255.1h0M53.4 261.5h0M48.2 265.5h0M60.0 262.0h0M47.0 270.5h0M56.6 255.4h0M55.8 263.2h0M43.7 278.5h0M54.6 266.5h0M51.6 263.0h0M55.0 268.5h0M53.3 267.3h0M54.3 266.2h0M65.8 249.5h0M61.6 248.1h0M52.8 270.0h0M59.7 270.2h0M51.5 263.5h0M58.0 267.2h0M51.3 272.6h0M58.5 257.9h0M52.0 256.8h0M50.7 258.0h0M56.3 269.4h0M55.5 263.1h0M43.8 273.4h0M60.8 258.3h0M60.0 254.7h0M48.3 278.7h0M59.7 261.5h0M51.4 267.0h0M54.1 261.6h0M61.4 257.0h0M47.4 263.5h0M55.7 262.7h0M47.6 274.4h0M47.2 274.1h0M48.3 272.9h0M63.4 256.8h0M48.0 263.4h0M50.9 256.0h0M64.3 254.9h0M54.0 274.4h0M49.0 270.7h0M55.0 271.1h0M50.8 265.0h0M53.2 261.0h0M54.5 262.9h0M61.1 263.0h0M55.2 261.0h0M65.4 260.2h0M63.3 248.4h0M59.0 262.8h0M48.5 274.6h0M65.4 250.4h0M61.4 255.9h0M61.0 255.1h0M54.3 268.5h0M57.2 261.9h0M52.5 272.0h0M47.7 267.7h0M59.3 263.4h0M62.2 263.9h0M62.1 260.7h0M57.6 262.5h0M52.1 267.7h0M53.1 267.2h0M56.9 267.9h0M48.1 266.8h0M52.4 275.7h0M57.4 270.1h0M51.5 270.5h0M60.4 260.6h0M57.0 261.3h0M61.3 254.7h0M52.6 264.7h0M55.9 263.0h0M48.7 271.4h0M62.9 250.3h0M59.4 273.2h0M55.6 261.1h0M55.1 263.3h0M52.8 259.3h0M54.1 267.1h0M51.3 257.3h0M62.2 256.6h0M53.3 265.8h0M50.1 263.3h0M47.6 272.4h0M55.5 263.7h0M54.3 259.3h0M65.3 253.6h0M61.0 261.0h0M56.8 254.5h0M55.6 270.9h0M58.6 262.3h0M65.5 257.2h0M63.1 269.4h0M55.0 257.7h0M59.5 262.2h0M56.1 260.0h0M52.4 273.4h0M52.8 267.6h0M49.7 274.3h0M59.1 263.1h0M63.2 251.2h0M48.2 267.6h0M55.2 266.6h0M64.3 257.3h0M59.1 256.3h0M61.2 268.4h0M57.0 263.0h0M62.0 254.1h0M55.1 270.0h0M64.4 251.7h0M54.6 266.2h0M45.8 276.9h0M59.7 253.1h0M57.7 256.3h0M51.6 262.0h0M59.8 253.2h0M55.4 268.8h0M45.2 265.4h0M55.4 267.9h0M53.0 259.6h0M50.0 262.9h0M56.0 255.1h0M65.4 249.4h0M58.7 261.6h0M49.7 275.4h0M48.4 263.1h0M51.6 271.5h0M65.4 260.6h0M50.9 265.1h0M48.1 272.8h0M57.2 274.4h0M58.8 254.0h0M55.7 258.2h0M54.3 252.5h0M60.0 265.4h0M52.5 262.5h0M54.9 255.2h0M61.4 255.9h0M50.5 272.0h0M59.0 258.4h0M46.9 266.0h0M42.4 272.1h0M60.2 266.2h0M56.9 263.7h0M63.0 255.4h0M55.8 262.6h0M52.4 273.2h0M48.4 273.5h0M47.7 267.6h0M59.9 250.1h0M58.9 256.2h0M46.4 271.3h0M64.9 249.3h0M48.9 273.7h0M55.8 262.5h0M46.6 278.7h0M64.3 257.0h0M59.4 259.1h0M53.6 266.6h0M67.5 249.0h0M49.4 268.1h0M62.2 250.1h0M56.4 271.7h0M52.5 268.0h0M59.3 260.0h0M57.2 261.5h0M62.6 256.4h0M50.7 267.3h0M64.6 252.1h0M44.4 276.2h0M48.2 280.0h0M67.3 257.8h0M67.6 246.2h0M64.7 255.8h0M60.3 257.5h0M48.9 269.7h0M65.1 246.9h0M60.3 262.3h0M56.8 263.8h0M61.4 249.1h0M60.7 259.3h0M47.7 265.0h0M55.0 269.3h0M49.8 265.2h0M51.4 265.5h0M58.7 259.2h0M66.6 248.8h0M62.5 253.2h0M51.7 280.3h0M65.4 252.8h0M52.9 260.4h0M62.4 257.9h0M47.1 273.5h0M50.0 266.5h0M59.5 256.3h0M61.5 258.8h0M53.5 263.7h0M64.9 253.0h0M51.3 268.5h0M52.3 269.9h0M58.3 254.7h0M59.6 274.0h0M52.3 272.5h0M47.2 266.4h0M59.9 262.7h0M53.7 265.5h0M55.9 271.0h0M51.6 263.9h0M49.5 268.4h0M50.4 275.6h0M47.5 273.9h0M62.4 255.0h0M53.0 265.1h0M46.8 275.0h0M52.7 254.7h0M59.8 261.9h0M51.0 272.4h0M63.3 258.3h0M51.2 275.9h0M56.2 265.1h0M58.9 263.2h0M53.0 263.6h0M50.0 273.4h0M66.0 255.2h0M62.3 268.1h0M47.3 275.2h0M58.6 267.1h0M61.5 259.0h0M52.5 270.1h0M50.3 267.9h0M67.4 246.3h0M49.2 275.6h0M55.1 264.8h0M58.5 249.3h0M54.6 261.0h0M54.4 256.7h0M45.2 271.4h0M47.8 270.6h0M46.0 275.0h0M52.5 263.1h0M67.9 260.2h0M50.1 270.3h0M60.5 257.6h0M63.6 256.5h0M54.0 264.8h0M50.6 271.0h0M49.8 267.8h0M64.4 260.3h0M60.4 257.8h0M52.7 254.5h0M58.4 256.4h0M58.3 255.3h0M61.3 250.8h0M55.5 265.8h0M59.2 250.3h0M55.1 255.6h0M59.0 249.9h0M52.6 261.7h0M52.7 269.5h0M57.8 266.7h0M63.5 251.3h0M50.6 269.6h0M61.2 251.3h0M52.9 262.8h0M58.0 261.4h0M45.3 270.2h0M65.2 254.4h0M48.6 271.4h0M57.8 265.7h0M48.8 272.1h0M53.1 264.6h0M57.6 258.0h0M52.7 263.3h0M56.6 269.2h0M60.5 257.6h0M50.1 275.0h0M45.6 271.5h0M44.0 267.0h0M54.6 262.8h0M46.9 273.5h0M49.7 272.5h0M45.9 275.4h0M66.7 246.1h0M59.0 263.4h0M58.1 261.3h0M47.6 273.0h0M55.9 262.9h0M62.7 256.7h0M58.9 259.7h0M63.5 253.7h0M48.1 271.5h0M54.5 262.8h0M60.2 263.5h0M43.9 267.1h0M50.5 266.7h0M61.8 251.7h0M58.4 260.8h0M65.8 248.6h0M57.4 269.8h0M58.2 262.2h0M60.0 253.2h0M44.6 277.4h0M47.1 271.1h0M54.3 261.7h0M48.5 275.9h0M60.1 264.5h0M67.4 247.0h0M49.0 270.6h0M50.3 263.2h0M65.3 246.8h0M52.9 262.6h0M49.1 277.1h0M59.7 254.8h0M57.4 263.9h0M58.2 263.5h0M55.7 265.2h0M47.1 279.9h0M51.7 268.4h0M47.9 278.9h0M53.7 255.9h0M60.6 258.1h0M60.6 261.6h0M43.9 271.4h0M58.5 263.3h0M62.7 250.4h0M57.3 257.5h0M56.3 258.5h0M60.7 272.5h0M53.3 265.8h0M56.5 263.9h0M57.7 259.3h0M61.0 273.9h0M53.0 261.6h0M53.5 259.2h0M55.9 251.6h0M50.7 272.7h0M42.8 273.5h0M63.1 252.8h0M49.8 265.6h0M58.5 266.4h0M48.4 274.5h0M53.7 267.8h0M59.9 264.8h0M53.1 270.4h0M66.1 247.3h0M53.1 261.2h0M53.7 272.9h0M56.6 261.7h0M57.8 266.1h0M52.4 262.2h0M44.0 271.7h0M57.6 274.8h0M58.6 261.9h0M44.0 275.6h0M54.5 262.7h0M53.1 268.1h0M42.4 272.3h0M52.0 271.7h0M51.3 263.8h0M53.0 271.1h0M47.7 270.5h0M53.1 269.3h0M60.8 266.8h0M56.9 264.0h0M58.0 261.4h0M57.2 260.4h0M56.5 265.4h0M56.5 262.4h0M51.3 266.9h0M59.9 261.8h0M66.9 250.0h0M55.5 268.7h0M46.1 277.8h0M58.2 260.3h0M60.5 259.8h0M59.0 266.7h0M54.9 264.8h0M58.1 253.6h0M50.3 264.6h0M62.9 259.9h0M66.2 255.4h0M66.1 246.2h0M57.8 258.9h0M59.1 259.0h0M49.8 280.0h0M61.1 254.5h0M59.1 254.1h0M45.2 273.1h0M51.4 270.3h0M51.6 273.7h0M63.3 253.3h0M53.7 258.9h0M58.4 252.6h0M63.6 258.9h0M65.8 248.5h0M63.9 250.5h0M56.3 264.6h0M67.4 246.6h0M57.7 270.7h0M51.3 269.4h0M58.2 258.2h0M51.6 269.2h0M58.0 255.1h0M58.6 256.8h0M46.0 269.5h0M43.6 275.9h0M55.2 265.0h0M52.9 264.1h0M53.7 270.7h0M49.8 279.4h0M52.8 274.6h0M63.4 254.4h0M60.9 263.3h0M52.0 269.1h0M49.9 277.1h0M66.2 246.9h0M54.3 259.5h0M62.9 252.3h0M67.0 255.0h0M54.5 256.7h0M48.8 279.5h0M64.2 261.3h0M63.3 257.6h0M49.8 265.0h0M55.4 258.7h0M53.8 265.1h0M47.0 266.7h0M51.4 264.4h0M52.7 268.0h0M60.9 257.9h0M56.5 264.1h0M59.5 261.6h0M50.9 271.4h0M56.8 262.7h0M48.9 276.0h0M49.0 277.4h0M44.8 276.0h0M57.3 258.1h0M51.1 275.2h0M56.1 260.7h0M57.6 262.0h0M54.6 262.9h0M46.8 267.5h0M49.6 255.0h0M52.7 257.1h0M60.2 264.9h0M59.1 260.1h0M54.4 276.6h0M59.7 257.9h0M50.4 268.5h0M50.7 271.3h0M53.7 259.0h0M44.3 278.2h0M56.9 266.3h0M51.4 265.7h0M64.5 248.7h0M57.1 262.3h0M46.5 277.3h0M45.1 267.3h0M64.5 254.2h0M51.0 269.2h0M55.7 264.0h0M53.8 263.8h0M59.2 259.6h0M57.0 267.4h0M58.7 271.3h0M51.9 269.3h0M59.7 250.9h0M58.1 249.8h0M56.7 254.6h0M51.6 259.8h0M54.1 259.5h0M62.5 264.0h0M51.8 265.9h0M48.6 263.8h0M63.8 259.5h0M55.8 266.9h0M56.1 262.4h0M57.6 254.1h0M51.4 259.0h0M51.1 263.6h0M59.0 262.0h0M61.1 260.3h0M52.4 267.1h0M65.8 256.3h0M65.6 259.1h0M65.0 258.3h0M54.3 271.8h0M59.4 258.4h0M54.2 262.9h0M49.1 268.9h0M54.2 258.0h0M55.1 268.0h0M49.2 278.5h0M49.2 265.2h0M53.9 263.7h0M53.0 263.2h0M54.1 265.3h0M56.3 273.1h0M54.8 266.2h0M55.5 267.1h0M52.6 269.8h0M63.3 253.3h0M49.3 265.6h0M48.5 272.2h0M55.9 261.6h0M48.5 274.3h0M50.6 275.1h0M53.5 261.8h0M50.7 269.2h0M63.5 262.1h0M60.4 261.1h0M53.7 256.9h0M57.9 255.0h0M58.6 265.2h0M52.8 262.9h0M65.2 254.6h0M55.9 258.7h0M58.0 257.3h0M52.7 267.4h0M49.4 265.0h0M55.8 261.1h0M63.7 255.2h0M53.9 261.0h0M63.3 260.0h0M43.5 267.1h0M61.6 253.8h0M55.1 269.4h0M50.5 264.3h0M55.2 259.6h0M57.2 266.2h0M60.8 259.1h0M44.4 272.9h0M58.2 268.4h0M59.5 259.8h0M67.1 246.5h0M57.3 268.3h0M59.3 260.5h0M49.4 267.8h0M58.4 266.5h0M51.7 272.7h0M66.8 246.2h0M57.6 260.3h0M53.0 268.3h0M49.6 264.6h0M58.4 261.2h0M53.7 262.3h0M57.7 259.7h0M59.8 257.5h0M54.4 269.6h0M60.5 264.4h0M59.5 257.1h0M55.1 269.9h0M58.6 264.2h0M52.9 265.6h0M53.4 267.6h0M65.0 251.5h0M64.8 252.4h0M53.0 260.9h0M61.5 259.1h0M59.8 268.9h0M63.3 249.0h0M47.1 270.1h0M54.2 261.1h0M55.0 258.6h0M61.6 259.2h0M54.5 267.5h0M53.8 270.8h0M56.5 267.5h0M50.4 258.5h0M65.0 256.1h0M65.4 249.7h0M46.8 278.1h0M50.5 271.8h0M53.9 254.2h0M54.0 276.1h0M60.2 254.1h0M52.2 269.4h0M52.2 265.1h0M54.9 258.5h0M58.6 254.6h0M49.5 270.9h0M57.6 260.4h0M57.7 268.2h0M67.3 245.4h0M60.1 254.7h0M59.9 266.9h0M61.7 255.9h0M52.5 267.3h0M64.2 253.0h0M58.3 266.6h0M59.6 260.5h0M67.6 244.2h0M51.5 271.9h0M52.6 273.5h0M47.2 277.3h0M56.2 265.6h0M54.1 263.5h0M57.5 265.1h0M49.5 269.0h0M52.7 261.4h0M56.6 254.6h0M52.5 259.2h0M58.9 259.9h0M51.4 263.2h0M48.0 276.7h0M57.9 255.6h0M46.2 272.9h0M54.2 258.2h0M55.2 262.8h0M53.3 269.8h0M52.3 263.9h0M51.5 266.1h0M51.8 262.8h0M50.8 261.6h0M53.1 262.3h0M58.0 258.0h0M52.6 266.8h0M46.3 276.6h0M47.9 272.4h0M51.5 274.4h0M55.1 258.4h0M59.3 255.6h0M51.6 267.9h0M51.5 266.1h0M55.8 260.6h0M59.8 259.7h0M65.1 249.8h0M65.6 248.7h0M57.2 267.2h0M54.3 263.4h0M60.0 262.0h0M55.1 261.6h0M44.9 267.8h0M67.1 246.2h0M54.7 268.3h0M48.0 262.3h0M51.2 261.8h0M50.4 273.3h0M44.5 270.7h0M66.3 248.0h0M59.2 256.8h0M52.1 261.8h0M54.0 254.7h0M65.6 248.2h0M54.4 261.3h0M49.5 253.2h0M51.2 271.7h0M66.7 246.8h0M56.7 273.4h0M56.9 258.1h0M60.9 264.5h0M62.9 251.1h0M45.6 271.2h0M58.2 256.7h0M67.4 248.6h0M53.3 268.8h0M66.4 257.6h0M51.1 257.2h0M68.2 245.9h0M53.8 276.7h0M59.1 257.7h0M48.9 273.4h0M56.0 263.3h0M52.0 266.5h0M65.9 251.4h0M56.0 260.7h0M64.3 253.8h0M59.0 256.3h0M56.5 258.5h0M55.7 268.4h0M60.6 263.1h0M52.7 262.8h0M66.1 258.1h0M53.2 268.3h0M54.5 262.2h0M50.8 264.9h0M64.2 263.5h0M59.3 259.7h0M56.9 259.1h0M53.5 258.8h0M59.3 257.9h0M52.0 256.3h0M63.9 256.9h0M55.7 258.6h0M55.9 263.8h0M67.6 253.0h0M57.4 261.9h0M44.3 278.1h0M50.4 265.2h0M64.2 257.9h0M53.7 257.4h0M51.2 273.0h0M61.0 251.2h0M52.0 274.9h0M47.7 278.4h0M51.6 270.2h0M59.1 261.6h0M49.7 268.2h0M51.5 270.9h0M54.8 252.0h0M45.7 278.5h0M58.9 251.0h0M54.6 264.4h0M49.5 270.1h0M49.5 260.6h0M66.5 246.7h0M61.2 254.6h0M55.8 261.4h0M45.1 265.2h0M55.6 258.0h0M50.9 268.3h0M56.9 257.7h0M50.0 263.1h0M52.4 272.0h0M45.3 275.7h0M56.1 266.0h0M47.1 275.0h0M56.2 259.0h0M45.9 274.5h0M49.1 271.2h0M56.8 268.8h0M54.7 264.3h0M56.6 263.1h0M55.2 267.1h0M60.2 264.0h0M64.2 257.8h0M59.9 259.4h0M68.0 258.1h0M43.5 276.2h0M56.3 259.0h0M66.1 256.2h0M52.0 265.2h0M59.7 257.3h0M53.5 260.2h0M54.0 264.5h0M57.6 272.3h0M65.8 253.6h0M55.7 266.6h0M66.6 246.3h0M54.0 259.8h0M66.9 249.7h0M45.2 270.2h0M52.2 266.1h0M49.6 268.2h0M61.8 251.1h0M50.6 272.8h0M62.4 256.2h0M57.7 257.2h0M50.8 270.1h0M62.2 263.9h0M60.8 261.4h0M58.0 257.8h0M45.1 258.2h0M62.3 256.6h0M63.1 253.6h0M54.6 258.9h0M67.0 245.8h0M53.1 270.0h0M59.2 256.9h0M52.8 268.2h0M56.4 261.9h0M61.5 253.3h0M51.9 268.3h0M62.5 253.2h0M55.4 261.8h0M55.8 258.1h0M46.7 271.4h0M50.8 263.1h0M56.2 263.3h0M64.2 250.6h0M50.7 275.8h0M54.2 272.5h0M48.8 262.6h0M58.4 265.9h0M54.2 266.1h0M52.1 271.3h0M66.5 248.3h0M49.2 266.6h0M53.8 265.7h0M51.9 269.7h0M57.7 258.9h0M50.3 273.9h0M54.3 268.9h0M59.6 256.5h0M65.2 252.6h0M64.1 253.7h0M54.9 250.9h0M51.7 268.5h0M68.0 254.4h0M54.6 268.3h0M50.3 273.3h0M64.7 252.6h0M66.8 251.1h0M52.7 270.5h0M52.9 270.4h0M58.4 262.2h0M60.6 259.7h0M46.6 276.6h0M66.7 245.5h0M45.0 272.3h0M56.6 262.6h0M58.1 258.8h0M52.7 267.4h0M63.1 257.8h0M42.0 275.6h0M64.4 253.2h0M54.3 261.8h0M55.6 261.8h0M50.3 264.4h0M61.5 250.3h0M51.5 266.1h0M65.1 250.1h0M55.5 259.8h0M49.6 268.1h0M61.1 250.2h0M52.7 262.1h0M57.5 264.4h0M49.6 267.7h0M58.9 259.8h0M47.7 272.2h0M42.8 276.9h0M65.8 256.7h0M47.0 272.3h0M57.9 261.7h0M54.0 255.2h0M60.3 264.5h0M50.4 271.4h0M54.5 267.2h0M60.9 266.6h0M54.2 269.3h0M57.0 259.5h0M53.8 278.4h0M54.9 261.2h0M52.0 273.8h0M52.6 265.4h0M51.7 272.6h0M58.0 262.8h0M45.9 271.2h0M58.5 259.9h0M56.7 267.0h0M53.9 260.8h0M52.8 271.3h0M59.7 258.1h0M63.7 250.5h0M58.5 266.9h0M58.7 262.7h0M59.5 262.7h0M50.1 276.9h0M50.5 269.6h0M47.2 275.9h0M55.3 263.3h0M64.9 246.2h0M57.6 262.2h0M62.5 254.1h0M47.8 278.3h0M50.2 265.3h0M51.1 272.3h0M65.3 248.3h0M53.1 268.9h0M53.3 256.5h0M65.5 250.5h0M63.3 261.2h0M61.7 259.1h0M53.0 277.3h0M63.0 251.4h0M67.6 252.4h0M62.4 260.4h0M61.6 255.5h0M54.6 268.5h0M55.2 259.8h0M54.4 260.8h0M57.6 257.6h0M51.8 276.8h0M58.5 260.9h0M55.4 260.9h0M62.9 252.4h0M55.5 255.4h0M65.7 247.5h0M59.5 261.7h0M55.4 264.8h0M54.8 263.1h0M49.3 274.5h0M50.7 281.6h0M44.2 270.8h0M53.6 264.6h0M57.8 252.4h0M64.1 255.0h0M54.9 263.0h0M56.7 268.5h0M56.2 259.7h0M46.6 272.1h0M53.8 267.5h0M60.0 259.9h0M54.6 261.7h0M52.9 255.4h0M59.1 253.5h0M57.1 262.0h0M53.5 257.4h0M55.7 260.0h0M52.8 263.1h0M47.6 265.4h0M62.0 258.9h0M43.0 275.9h0M55.9 264.6h0M50.5 263.2h0M56.0 254.3h0M56.8 263.7h0M63.5 264.1h0M57.2 268.6h0M61.2 260.5h0M52.2 264.1h0M54.8 263.5h0M48.8 264.0h0M47.9 265.4h0M54.9 262.3h0M57.6 256.9h0M59.2 255.4h0M60.1 258.8h0M48.1 273.5h0M51.6 270.6h0M65.0 247.0h0M58.3 263.2h0M53.1 273.6h0M56.7 255.1h0M56.5 255.6h0M57.8 261.3h0M56.4 265.0h0M46.3 270.5h0M53.5 262.9h0M47.8 264.9h0M63.1 249.1h0M51.1 271.8h0M56.4 264.3h0M51.5 276.0h0M48.5 266.2h0M53.5 269.2h0M63.9 263.6h0M58.5 252.9h0M65.4 258.6h0M60.9 264.2h0M55.2 269.0h0M50.3 271.7h0M65.1 252.6h0M61.5 259.7h0M51.1 275.7h0M55.0 267.6h0M56.0 271.1h0M63.7 249.8h0M50.8 278.0h0M58.7 261.8h0M58.2 253.9h0M59.0 266.5h0M53.1 259.2h0M61.0 258.5h0M59.8 256.3h0M56.3 257.2h0M64.2 259.3h0M61.5 273.2h0M60.2 255.0h0M55.6 266.7h0M56.6 258.8h0M61.0 256.3h0M57.0 258.1h0M54.1 262.3h0M46.2 278.0h0M56.4 259.9h0M53.0 257.4h0M56.1 278.6h0M63.9 257.0h0M49.6 264.4h0M54.7 263.7h0M47.9 262.5h0M56.8 252.3h0M64.9 262.9h0M61.9 256.6h0M53.9 261.4h0M50.0 268.4h0M55.6 253.4h0M48.2 273.7h0M59.2 258.2h0M58.7 262.4h0M57.4 264.2h0M53.3 270.0h0M51.8 266.9h0M53.2 263.7h0M55.8 249.9h0M57.9 255.7h0M56.6 264.1h0M43.0 277.2h0M55.8 259.7h0M47.4 266.5h0M49.8 272.5h0M60.1 263.0h0M51.8 264.0h0M56.3 258.5h0M56.0 265.2h0M60.9 250.9h0M55.3 270.1h0M60.8 254.3h0M47.6 266.1h0M54.1 264.6h0M54.2 267.4h0M54.3 259.1h0M65.6 249.0h0M56.7 271.3h0M52.2 259.3h0M51.4 265.3h0M50.8 269.0h0M55.6 268.0h0M51.7 258.3h0M63.0 253.4h0M64.0 253.6h0M63.3 259.3h0M56.6 267.3h0M47.5 264.6h0M62.0 265.5h0M55.4 261.5h0M51.2 263.0h0M59.0 267.7h0M48.5 278.1h0M55.3 261.8h0M60.7 255.2h0M50.2 279.1h0M66.2 248.7h0M59.9 264.0h0M49.1 270.5h0M62.0 251.5h0M55.4 262.6h0M63.7 252.5h0M57.5 270.8h0M59.0 252.8h0M51.7 269.3h0M63.1 254.2h0M55.9 260.2h0M50.7 256.6h0M53.0 278.9h0M62.7 252.8h0M48.5 271.3h0M63.3 248.3h0M45.1 263.7h0M49.6 269.4h0M47.6 277.2h0M61.4 260.7h0M52.8 264.7h0M46.1 268.7h0M48.5 266.4h0M59.6 263.1h0M48.4 267.8h0M48.1 275.1h0M59.2 260.1h0M53.5 266.6h0M55.9 261.4h0M56.3 260.3h0M63.2 261.2h0M52.1 257.3h0M57.7 254.8h0M49.1 275.9h0M60.2 269.9h0M47.9 265.4h0M59.8 268.7h0M60.9 259.9h0M54.0 263.8h0M58.7 260.5h0M58.7 255.4h0M53.4 264.5h0M57.1 258.2h0M56.4 260.3h0M58.2 263.3h0M66.6 257.3h0M62.6 251.2h0M66.4 249.2h0M46.3 256.8h0M59.8 263.6h0M47.5 263.3h0M59.5 251.4h0M62.6 253.6h0M57.1 256.6h0M63.5 250.6h0M52.7 264.2h0M52.6 266.8h0M66.3 248.4h0M59.6 254.3h0M56.5 261.1h0M49.3 273.0h0M43.8 276.6h0M65.2 251.3h0M49.7 274.8h0M50.0 274.7h0M53.4 260.4h0M64.7 249.8h0M57.7 259.2h0M44.4 277.4h0M61.6 250.5h0M57.7 259.2h0M49.5 273.9h0M49.4 271.3h0M61.7 256.2h0M61.3 250.2h0M51.9 263.0h0M60.0 252.4h0M61.9 252.7h0M57.2 264.4h0M53.6 265.9h0M62.7 257.3h0M60.5 250.3h0M55.6 265.3h0M53.8 270.9h0M61.6 252.8h0M45.5 276.5h0M49.9 261.4h0M60.2 247.0h0M62.2 254.0h0M65.8 253.4h0M50.3 256.7h0M62.8 256.4h0M56.7 267.6h0M54.8 259.6h0M68.6 244.7h0M58.7 261.8h0M61.1 265.7h0M59.5 260.5h0M58.3 252.2h0M52.9 272.0h0M45.6 275.2h0M58.9 255.0h0M57.6 257.1h0M46.9 269.4h0M62.3 254.1h0M58.7 265.6h0M51.2 265.8h0M64.9 251.7h0M65.2 255.5h0M58.8 251.6h0M60.6 258.1h0M46.8 270.3h0M52.0 279.3h0M55.5 273.2h0M60.5 258.4h0M53.9 254.7h0M53.5 259.7h0M56.8 261.8h0M51.2 267.1h0M57.0 270.9h0M51.6 267.3h0M52.0 268.8h0M56.5 269.3h0M51.8 275.6h0M44.5 274.1h0M56.7 263.3h0M51.6 270.8h0M62.2 252.3h0M63.9 253.1h0M52.0 271.2h0M57.7 264.0h0M59.5 265.9h0M51.4 269.2h0M60.8 259.2h0M59.5 260.2h0M60.4 259.0h0M45.8 273.8h0M52.0 266.4h0M67.9 256.9h0M44.7 275.7h0M53.5 264.8h0M54.3 265.1h0M63.0 265.0h0M51.9 268.3h0M48.7 271.5h0M55.7 259.7h0M55.6 265.8h0M59.0 260.8h0M58.5 261.5h0M41.8 266.8h0M53.3 260.3h0M69.0 246.7h0M58.8 259.4h0M63.7 259.2h0M62.1 256.7h0M55.5 265.3h0M63.7 253.2h0M48.3 278.2h0M52.5 262.1h0M62.0 257.2h0M49.6 275.0h0M54.3 264.5h0M53.4 263.7h0M63.4 264.9h0M60.8 254.7h0M64.3 251.9h0M46.0 275.9h0M59.1 257.4h0M54.0 275.6h0M64.4 253.5h0M58.4 259.7h0M58.7 258.1h0M58.2 266.3h0M62.6 260.2h0M53.1 265.3h0M54.0 270.6h0M64.7 262.9h0M59.9 266.4h0M50.5 264.3h0M51.2 266.0h0M53.2 264.6h0M46.5 269.1h0M55.0 259.5h0M49.1 270.3h0M57.2 268.0h0M51.2 274.6h0M61.8 259.1h0M54.7 270.1h0M51.3 266.4h0M55.8 264.8h0M48.4 266.2h0M61.1 261.1h0M61.5 259.6h0M57.4 261.5h0M48.9 277.3h0M63.4 263.3h0M67.7 246.6h0M51.9 263.7h0M66.1 247.6h0M47.2 276.9h0M49.2 270.7h0M58.3 253.5h0M58.2 257.4h0M58.5 260.3h0M51.0 262.2h0M66.8 249.6h0M52.3 262.4h0M57.2 262.1h0M48.1 264.9h0M65.2 258.5h0M55.1 259.5h0M61.1 250.5h0M47.8 270.0h0M64.1 258.4h0M50.9 268.5h0M55.1 271.8h0M46.1 271.5h0M57.2 260.9h0M50.8 266.0h0M58.1 262.6h0M58.9 252.8h0M63.9 270.4h0M55.0 267.4h0M64.3 252.7h0M64.2 252.6h0M57.5 257.5h0M66.3 257.5h0M62.9 260.4h0M51.6 270.3h0M66.6 249.1h0M55.8 263.2h0M66.9 247.0h0M51.1 264.2h0M49.2 273.3h0M64.2 252.2h0M54.0 270.8h0M50.4 276.2h0M60.6 252.0h0M55.3 261.8h0M57.3 260.6h0M54.1 254.7h0M51.9 269.4h0M50.5 266.0h0M58.3 258.3h0M55.8 266.2h0M60.8 256.8h0M58.5 261.4h0M67.4 246.0h0M51.4 269.0h0M43.4 277.4h0M59.5 261.4h0M53.5 268.4h0M65.3 248.9h0M58.0 261.1h0M51.3 268.4h0M60.2 257.1h0M54.9 266.8h0M53.8 255.6h0M63.6 250.4h0M65.6 248.0h0M67.5 247.2h0M44.7 270.2h0M62.2 269.5h0M48.9 271.6h0M63.0 254.4h0M63.5 252.1h0M55.7 262.3h0M52.6 271.3h0M65.4 254.8h0M58.9 260.8h0M52.2 260.5h0M58.2 265.5h0M59.7 262.2h0M55.5 260.1h0M60.9 252.2h0M42.7 273.7h0M58.7 266.6h0M55.3 262.5h0M60.2 261.9h0M55.4 271.3h0M63.0 250.5h0M60.0 261.5h0M48.8 265.2h0M57.6 261.1h0M49.7 266.6h0M47.5 271.3h0M58.2 256.5h0M59.9 266.5h0M46.5 273.3h0M47.4 275.6h0M51.3 269.9h0M52.2 263.1h0M53.6 262.7h0M52.5 260.8h0M55.9 272.1h0M44.6 277.4h0M60.3 259.9h0M53.6 263.1h0M53.7 269.5h0M41.0 275.4h0M57.0 254.5h0M65.6 249.7h0M55.0 263.8h0M51.1 267.5h0M53.7 266.8h0M55.3 267.0h0M51.9 261.7h0M55.3 264.5h0M60.0 264.1h0M52.8 266.6h0M54.8 257.0h0M58.7 261.4h0M54.5 255.8h0M54.1 266.3h0M55.8 255.5h0M54.7 266.4h0M47.9 269.3h0M58.3 252.7h0M49.8 273.1h0M61.2 250.5h0M58.1 260.8h0M57.9 261.4h0M53.6 272.5h0M49.3 265.7h0M47.4 271.0h0M54.5 266.0h0M58.6 263.9h0M46.0 277.8h0M59.2 253.2h0M46.0 275.7h0M60.4 262.7h0M52.4 269.3h0M57.8 256.6h0M61.6 251.3h0M62.9 260.5h0M54.9 259.8h0M60.8 250.2h0M60.9 258.3h0M51.4 273.4h0M47.2 276.5h0M58.6 264.3h0M48.7 273.6h0M60.9 260.8h0M59.6 258.0h0M57.7 255.7h0M57.3 264.2h0M49.0 264.9h0M67.9 245.1h0M48.6 272.6h0M54.5 273.4h0M57.4 255.1h0M55.9 262.5h0M50.7 268.3h0M54.0 268.2h0M53.9 258.5h0M62.1 261.7h0M55.3 258.8h0M44.4 278.9h0M57.6 257.0h0M50.6 264.0h0M50.4 266.6h0M51.3 267.2h0M61.3 255.8h0M43.1 275.5h0M48.6 271.2h0M55.2 261.9h0M54.6 258.7h0M59.3 262.1h0M63.2 248.1h0M62.2 258.4h0M48.4 263.8h0M52.3 269.9h0M54.2 269.9h0M56.8 261.3h0M53.3 262.2h0M47.3 264.9h0M51.2 271.3h0M56.1 267.3h0M59.9 258.8h0M51.1 273.6h0M66.1 250.9h0M62.9 253.4h0M60.2 263.0h0M61.2 257.4h0M51.5 265.9h0M48.1 275.5h0M51.4 268.9h0M63.4 255.1h0M52.0 259.0h0M46.3 267.2h0M54.1 260.0h0M60.1 262.8h0M61.2 252.8h0M64.3 249.4h0M59.5 255.3h0M61.8 250.7h0M60.8 264.1h0M63.7 251.1h0M64.5 249.3h0M54.4 268.6h0M43.6 272.5h0M52.4 265.1h0M53.4 267.7h0M49.3 275.3h0M54.1 263.1h0M53.3 272.7h0M49.0 277.0h0M49.7 267.8h0M51.3 263.2h0M53.0 255.8h0M53.5 268.6h0M59.7 266.2h0M43.3 272.5h0M61.4 260.2h0M48.7 272.7h0M62.2 256.1h0M52.4 262.1h0M47.8 277.4h0M50.1 278.6h0M51.7 269.5h0M54.0 267.7h0M58.8 256.8h0M54.7 276.8h0M56.2 264.4h0M65.0 256.6h0M51.0 266.6h0M56.9 272.3h0M65.2 251.1h0M53.3 256.4h0M57.3 259.8h0M45.3 268.6h0M52.4 265.8h0M62.3 263.4h0M60.5 257.8h0M46.7 274.4h0M47.9 273.9h0M56.5 265.1h0M61.5 252.3h0M51.7 265.8h0M59.5 259.8h0M51.5 265.9h0M57.9 254.1h0M51.0 271.2h0M54.8 264.5h0M40.6 272.0h0M54.2 266.5h0M48.6 270.4h0M54.5 260.4h0M51.4 271.3h0M56.4 274.5h0M63.5 252.9h0M58.3 267.2h0M47.8 276.4h0M54.6 264.6h0M52.6 270.7h0M53.3 271.0h0M63.2 250.2h0M52.2 263.0h0M66.7 246.9h0M59.6 258.2h0M58.7 260.6h0M56.6 255.8h0M67.3 250.1h0M48.1 262.5h0M62.2 258.5h0M64.5 255.0h0M46.4 272.6h0M49.3 270.2h0M55.6 266.3h0M59.4 254.0h0M54.2 258.3h0M59.3 257.6h0M45.4 278.4h0M53.0 270.2h0M61.4 252.1h0M56.3 260.9h0M49.9 264.0h0M47.6 268.8h0M56.1 268.3h0M43.6 271.8h0M50.5 265.9h0M60.5 263.9h0M51.6 272.9h0M51.2 269.7h0M58.6 258.2h0M62.2 255.7h0M46.4 277.9h0M54.9 261.7h0" stroke="#c418c4" stroke-width="0.72" stroke-linecap="round" opacity="0.55" fill="none"/>
<path d="M59.1 259.1h0M59.0 263.2h0M46.0 275.4h0M57.0 265.1h0M56.4 265.7h0M59.2 258.7h0M48.0 278.8h0M53.4 268.3h0M60.9 256.1h0M55.7 265.8h0M46.4 275.0h0M60.1 262.6h0M55.1 266.4h0M52.1 272.1h0M50.4 272.5h0M54.4 266.1h0M50.2 267.1h0M58.5 262.3h0M45.4 275.4h0M45.4 275.4h0M51.5 263.6h0M58.3 260.9h0M55.3 261.3h0M58.6 259.5h0M58.7 259.6h0M48.2 270.2h0M51.5 260.3h0M57.0 259.7h0M60.4 264.1h0M57.7 255.9h0M58.1 251.9h0M54.8 263.5h0M49.4 272.3h0M58.4 261.3h0M57.8 258.1h0M55.9 261.1h0M61.7 255.7h0M45.6 277.0h0M53.2 262.6h0M51.0 264.5h0M58.4 256.5h0M58.1 257.2h0M49.9 274.6h0M52.3 266.3h0M57.4 259.7h0M57.6 256.8h0M51.3 270.1h0M48.0 265.7h0M58.6 265.5h0M54.2 266.9h0M56.6 258.6h0M49.7 269.7h0M49.1 275.0h0M55.9 261.3h0M66.9 248.5h0M53.8 266.7h0M56.2 265.8h0M52.1 264.5h0M56.5 259.8h0M55.8 263.6h0M51.8 263.3h0M51.5 266.7h0M57.8 267.7h0M50.9 270.1h0M55.3 265.5h0M59.2 253.6h0M44.9 273.9h0M62.0 252.8h0M60.1 257.4h0M58.0 261.9h0M58.9 260.2h0M48.9 267.2h0M51.0 270.0h0M55.9 263.7h0M56.0 264.9h0M54.2 262.3h0M57.2 263.9h0M55.2 263.5h0M55.6 264.2h0M52.0 268.7h0M58.1 257.6h0M56.5 259.1h0M50.6 268.7h0M55.8 267.8h0M55.5 263.0h0M54.1 269.5h0M58.1 265.2h0M54.0 265.3h0M51.5 263.2h0M52.1 269.0h0M58.0 261.3h0M50.0 268.0h0M57.2 261.4h0M55.5 260.9h0M55.3 266.3h0M56.4 257.5h0M63.5 257.8h0M46.8 277.5h0M50.2 269.1h0M49.3 268.4h0M56.8 261.6h0M49.7 269.9h0M59.3 260.6h0M60.6 255.2h0M59.7 262.9h0M56.7 260.6h0M54.4 265.9h0M53.0 264.7h0M61.3 257.9h0M49.4 269.7h0M61.9 256.5h0M47.4 272.6h0M53.8 262.4h0M46.6 271.4h0M62.7 257.1h0M57.1 261.4h0M55.9 262.0h0M46.6 272.5h0M50.6 270.7h0M47.0 274.3h0M53.8 266.0h0M60.6 251.5h0M53.4 263.3h0M57.6 264.5h0M50.2 270.2h0M57.1 257.5h0M56.4 265.5h0M65.7 249.2h0M55.0 267.9h0M47.1 267.7h0M53.1 266.0h0M53.7 262.9h0M53.0 263.3h0M47.5 272.0h0M57.7 257.7h0M55.4 262.4h0M51.9 271.0h0M51.5 263.9h0M58.7 259.5h0M52.2 269.0h0M52.3 271.7h0M60.5 254.9h0M54.9 263.2h0M49.1 268.9h0M57.0 262.7h0M63.9 253.3h0M53.5 265.6h0M59.9 254.6h0M53.1 262.8h0M54.7 261.1h0M62.6 259.8h0M57.0 258.7h0M56.4 269.0h0M53.1 264.5h0M46.6 273.6h0M55.4 269.3h0M56.7 268.9h0M56.7 263.0h0M60.6 259.7h0M54.4 262.8h0M57.0 260.1h0M51.9 268.7h0M47.4 276.2h0M61.1 262.2h0M49.2 270.0h0M55.1 262.9h0M53.9 262.5h0M54.5 264.0h0M56.7 264.9h0M63.7 250.8h0M59.3 256.4h0M49.0 266.0h0M57.7 259.7h0M52.1 270.8h0M56.5 260.3h0M44.9 275.8h0M52.5 271.2h0M50.2 267.0h0M60.1 256.7h0M54.6 262.4h0M61.2 253.3h0M55.3 264.7h0M65.2 252.7h0M56.0 260.3h0M51.8 266.0h0M61.6 254.0h0M51.9 274.3h0M53.4 269.1h0M52.4 267.5h0M63.0 255.5h0M49.8 272.1h0M49.2 271.4h0M51.8 270.2h0M54.6 266.1h0M52.1 270.5h0M47.6 269.2h0M60.2 257.2h0M49.6 265.5h0M50.0 271.2h0M61.0 253.3h0M57.0 260.6h0M55.6 268.4h0M48.9 269.7h0M51.5 267.1h0M55.8 268.1h0M55.6 260.3h0M56.2 262.3h0M53.2 266.5h0M53.0 265.3h0M56.7 265.7h0M54.3 261.6h0M56.8 259.7h0M55.1 267.2h0M56.2 265.2h0M56.0 259.5h0M57.6 259.2h0M54.0 265.0h0M48.7 278.6h0M50.9 270.7h0M57.1 263.4h0M54.6 264.6h0M56.1 256.9h0M58.3 259.9h0M60.1 256.3h0M51.5 265.5h0M51.4 271.2h0M48.1 274.6h0M45.3 272.3h0M58.3 263.1h0M50.1 266.2h0M51.3 265.7h0M50.8 267.2h0M49.6 273.1h0M61.1 255.7h0M60.2 260.8h0M54.4 262.6h0M64.2 253.9h0M52.8 270.4h0M54.3 260.5h0M49.4 271.1h0M57.0 270.9h0M51.8 267.5h0M60.6 255.5h0M53.1 267.4h0M50.0 268.4h0M55.0 265.0h0M58.1 255.8h0M56.8 260.5h0M47.0 273.2h0M60.4 256.6h0M60.6 261.8h0M57.3 258.8h0M53.7 266.8h0M56.0 266.8h0M58.4 259.8h0M51.9 269.8h0M55.0 263.0h0M50.6 275.0h0M52.2 267.6h0M54.7 263.7h0M63.3 252.0h0M57.9 264.3h0M51.4 269.8h0M55.1 261.4h0M60.0 259.5h0M49.9 268.6h0M46.7 277.4h0M63.2 256.8h0M59.8 256.8h0M57.0 263.7h0M60.3 258.9h0M54.5 260.8h0M49.9 266.8h0M50.1 268.7h0M49.1 271.3h0M46.4 272.8h0M46.7 275.6h0M54.1 256.8h0M55.2 262.1h0M57.6 262.8h0M54.8 268.4h0M53.2 261.8h0M53.0 264.3h0M51.5 268.0h0M53.4 264.4h0M58.1 257.7h0M60.7 258.5h0M59.6 262.2h0M63.0 251.9h0M51.6 266.8h0M52.9 264.5h0M56.7 259.1h0M56.2 255.2h0M59.5 259.1h0M55.6 271.4h0M51.0 273.5h0M52.4 264.4h0M52.6 264.2h0M55.9 260.7h0M62.8 250.6h0M59.1 261.4h0M51.9 262.5h0M57.8 260.2h0M58.0 263.3h0M59.3 255.9h0M53.3 269.5h0M53.2 265.2h0M53.6 266.8h0M54.2 264.3h0M59.5 258.2h0M52.6 269.8h0M49.9 272.5h0M59.9 258.1h0M59.4 255.6h0M61.4 254.8h0M56.4 263.3h0M52.7 266.5h0M55.8 260.1h0M55.2 260.6h0M48.7 271.9h0M53.4 271.5h0M55.1 269.5h0M54.4 262.5h0M66.1 248.5h0M59.7 260.8h0M53.7 263.7h0M60.7 258.2h0M63.3 253.8h0M64.7 252.7h0M51.5 266.1h0M57.6 259.1h0M56.3 258.5h0M51.7 277.5h0M59.5 259.9h0M54.2 259.7h0M48.5 273.8h0M55.0 270.0h0M56.6 262.9h0M55.0 263.1h0M62.8 256.0h0M48.3 278.6h0M53.4 263.9h0M52.8 267.2h0M62.1 255.2h0M58.5 253.1h0M52.2 265.6h0M54.7 266.0h0M48.5 270.4h0M51.3 267.5h0M52.3 269.1h0M53.0 266.8h0M54.8 262.1h0M48.7 278.9h0M49.7 273.5h0M51.7 272.7h0M53.9 262.0h0M54.6 263.5h0M61.8 258.5h0M47.8 274.1h0M57.6 265.5h0M60.9 259.4h0M55.3 264.2h0M58.5 261.5h0M52.4 263.6h0M62.9 257.5h0M52.7 272.8h0M56.4 261.8h0M50.6 277.4h0M53.5 262.7h0M55.6 266.2h0M57.4 267.9h0M48.9 267.8h0M54.4 262.2h0M57.0 256.1h0M59.0 261.2h0M61.1 261.6h0M48.7 266.3h0M61.3 255.6h0M53.9 267.8h0M61.2 254.3h0M50.4 270.5h0M60.0 258.0h0M63.3 252.3h0M47.8 270.7h0M54.6 263.3h0M56.9 261.0h0M57.2 260.4h0M56.8 260.9h0M51.9 268.7h0M59.7 255.7h0M56.8 263.4h0M53.8 268.8h0M50.0 269.6h0M59.0 260.8h0M56.9 264.6h0M54.5 272.8h0M54.8 265.7h0M58.6 256.8h0M56.2 260.8h0M57.2 262.0h0M51.1 266.6h0M50.6 270.6h0M49.1 274.0h0M63.5 257.8h0M62.3 256.2h0M62.2 253.0h0M54.8 264.6h0M54.1 266.0h0M56.5 263.1h0M56.6 265.9h0M46.9 270.6h0M51.0 262.0h0M57.6 257.3h0M61.1 253.7h0M56.4 258.6h0M52.8 264.0h0M51.4 267.6h0M53.5 260.9h0M52.6 266.1h0M49.2 273.6h0M45.8 274.1h0M56.9 266.5h0M50.2 272.3h0M54.3 264.8h0M49.8 269.6h0M63.3 253.4h0M53.1 266.4h0M50.5 268.7h0M49.1 275.3h0M48.7 272.1h0M52.5 265.5h0M55.2 261.5h0M54.6 262.3h0M56.2 258.3h0M62.3 255.5h0M54.7 263.8h0M59.0 259.9h0M52.1 264.8h0M50.1 273.0h0M55.7 264.3h0M62.0 255.3h0M52.2 272.9h0M47.9 268.2h0M58.0 268.2h0M50.4 265.1h0M55.1 259.4h0M50.4 268.0h0M50.8 268.2h0M50.2 266.9h0M52.1 266.2h0M52.9 266.8h0M61.5 261.2h0M61.2 259.7h0M60.0 254.8h0M54.1 260.9h0M52.3 269.7h0M53.6 267.0h0M50.2 263.8h0M46.0 272.9h0M50.7 264.2h0M49.9 268.6h0M60.9 257.8h0M54.5 265.7h0M60.4 263.4h0M58.2 259.9h0M55.3 267.5h0M52.5 261.5h0M57.4 267.6h0M55.6 263.2h0M49.1 272.1h0M48.4 272.6h0M47.6 270.2h0M47.9 273.8h0M45.7 264.0h0M59.8 256.6h0M54.0 268.2h0M51.6 269.8h0M51.1 269.1h0M57.1 257.4h0M45.1 276.1h0M56.5 268.1h0M53.5 266.5h0M61.4 261.6h0M51.3 266.1h0M48.1 266.3h0M62.7 252.4h0M52.6 262.6h0M56.6 265.3h0M54.4 263.6h0M59.3 260.7h0M52.3 265.1h0M55.0 262.4h0M57.6 261.7h0M52.4 264.5h0M48.3 274.4h0M49.7 265.0h0M51.9 270.0h0M55.4 268.6h0M64.3 251.7h0M60.1 261.5h0M51.2 271.3h0M54.3 264.9h0M57.6 264.5h0M49.2 278.3h0M53.8 263.4h0M55.9 263.3h0M53.1 266.1h0M54.5 261.1h0M50.2 265.9h0M57.7 267.3h0M62.5 254.6h0M55.6 269.1h0M55.2 259.5h0M54.6 267.3h0M55.1 263.6h0M57.1 262.2h0M57.2 260.2h0M45.7 272.6h0M56.3 254.1h0M57.6 265.3h0M61.0 255.1h0M54.9 266.6h0M58.6 259.7h0M52.6 265.3h0M56.4 270.6h0M56.9 260.5h0M51.9 265.9h0M59.0 253.7h0M60.2 257.3h0M57.6 262.1h0M56.8 258.7h0M50.9 268.9h0M61.2 257.3h0M54.4 263.6h0M57.6 261.3h0M55.1 265.1h0M65.3 249.7h0M46.7 273.3h0M58.5 256.3h0M55.5 266.3h0M52.6 269.9h0M56.1 262.5h0M54.7 266.2h0M53.6 266.2h0M53.4 265.1h0M59.8 262.1h0M53.1 262.5h0M53.1 266.1h0M59.8 261.2h0M61.5 257.9h0M59.0 263.9h0M58.0 265.5h0M52.2 268.3h0M62.8 254.2h0M53.2 265.3h0M52.2 269.5h0M55.8 263.8h0M53.7 268.5h0M55.3 263.2h0M58.1 263.5h0M48.4 272.0h0M55.3 256.6h0M59.5 260.8h0M55.5 261.5h0M46.3 271.8h0M52.4 267.6h0M53.4 269.3h0M56.9 259.5h0M53.6 265.3h0M58.6 257.9h0M59.4 254.7h0M55.9 265.2h0M52.1 258.3h0M55.5 258.6h0M50.1 271.2h0M55.4 267.0h0M59.9 256.2h0M55.8 261.1h0M50.6 270.9h0M52.3 267.4h0M54.7 266.4h0M53.1 265.3h0M55.3 265.4h0M62.5 256.7h0M46.6 272.7h0M53.1 265.8h0M54.3 262.7h0M51.3 270.5h0M51.9 265.2h0M62.7 255.7h0M59.1 262.3h0M58.1 262.7h0M55.7 261.4h0M59.5 257.2h0M48.8 272.5h0M60.9 257.7h0M50.4 271.7h0M56.1 259.7h0M59.7 261.3h0M52.3 268.1h0M56.8 259.9h0M48.4 269.8h0M53.6 264.5h0M55.2 269.1h0M49.0 275.2h0M58.5 261.9h0M57.0 257.3h0M55.8 265.1h0M62.3 253.2h0M56.8 265.3h0M58.3 265.9h0M54.2 269.7h0M52.6 267.3h0M64.5 252.1h0M56.2 259.5h0M51.3 267.3h0M48.3 274.8h0M60.1 263.5h0M58.2 257.5h0M59.8 260.3h0M55.0 273.0h0M46.9 271.3h0M61.8 253.2h0M53.4 263.3h0M56.4 262.5h0M50.0 273.6h0M52.0 266.2h0M53.8 262.7h0M51.3 266.6h0M63.2 255.0h0M51.7 264.8h0M48.8 273.0h0M59.7 261.1h0M63.4 253.0h0M52.5 268.0h0M61.1 255.6h0M55.9 265.5h0M48.0 272.7h0M50.1 270.9h0M57.1 257.3h0M51.2 271.7h0M59.0 255.4h0M59.1 262.3h0M54.2 263.3h0M57.9 259.8h0M49.4 269.5h0M60.3 254.3h0M46.0 274.2h0M54.6 263.4h0M62.2 255.4h0M53.5 258.9h0M56.4 265.5h0M45.8 273.3h0M61.9 254.6h0M60.6 253.3h0M63.3 250.0h0M60.9 259.2h0M45.4 276.8h0M51.9 265.6h0M57.5 257.4h0M55.1 262.1h0M51.6 264.2h0M62.5 258.2h0M48.2 265.6h0M52.8 267.9h0M54.0 269.8h0M57.2 266.9h0M53.1 264.3h0M48.5 275.2h0M48.7 268.5h0M59.6 258.4h0M63.5 253.8h0M56.4 269.4h0M54.9 261.8h0M53.0 275.9h0M54.2 267.4h0M64.9 250.8h0M52.4 268.0h0M52.4 269.0h0M53.7 269.5h0M59.2 258.7h0M60.7 252.8h0M57.5 264.0h0M60.0 260.3h0M54.9 265.6h0M53.1 270.9h0M57.6 265.7h0M54.5 260.0h0M53.8 262.7h0M56.9 265.3h0M60.4 260.3h0M53.0 266.2h0M46.5 273.7h0M58.7 258.4h0M54.7 256.3h0M55.9 258.7h0M59.2 255.4h0M60.7 257.6h0M53.9 265.3h0M55.2 264.2h0M58.6 259.4h0M56.6 265.1h0M52.1 267.7h0M55.8 258.4h0M60.3 263.2h0M50.2 272.6h0M48.0 272.8h0M56.7 257.8h0M51.3 266.2h0M52.0 262.9h0M51.5 270.5h0M61.1 255.4h0M56.2 266.0h0M53.1 261.6h0M54.9 260.3h0M60.3 259.9h0M51.2 270.3h0M52.2 264.6h0M50.0 275.7h0M52.0 267.7h0M51.2 263.3h0M56.8 263.7h0M56.1 269.8h0M54.8 267.7h0M54.7 267.3h0M53.1 267.8h0M56.9 259.5h0M54.4 270.8h0M60.6 256.9h0M54.2 260.6h0M47.4 273.5h0M50.8 271.5h0M60.0 255.8h0M60.3 252.5h0M51.8 264.7h0M60.2 262.4h0M54.8 262.7h0M56.6 263.7h0M54.8 265.1h0M51.2 274.4h0M64.1 251.1h0M56.3 267.8h0M54.3 263.7h0M52.9 266.1h0M60.4 261.5h0M51.4 270.6h0M58.1 254.4h0M56.4 272.1h0M56.9 267.1h0M50.3 269.9h0M49.6 272.0h0M62.0 254.4h0M56.2 261.4h0M54.7 262.6h0M60.9 257.5h0M56.3 260.8h0M62.0 253.9h0M61.2 252.7h0M52.8 263.9h0M54.2 264.4h0M52.5 266.1h0M60.1 257.3h0M45.1 274.1h0M60.0 260.4h0M53.8 262.1h0M52.0 270.7h0M64.8 250.0h0M60.3 253.3h0M47.5 272.6h0M51.4 267.4h0M45.6 274.5h0M50.7 274.5h0M57.0 261.3h0M64.3 251.0h0M55.0 264.4h0M56.0 263.4h0M55.9 264.0h0M59.2 254.5h0M54.2 264.1h0M56.0 265.5h0M61.9 254.9h0M52.8 267.8h0M53.1 269.8h0M55.9 262.4h0M55.0 263.6h0M49.5 273.6h0M55.4 265.9h0M52.2 267.4h0M59.6 261.0h0M60.4 257.4h0M55.0 265.9h0M55.1 263.5h0M46.1 268.9h0M53.9 265.0h0M46.2 275.9h0M53.0 268.9h0M55.8 260.2h0M58.5 261.5h0M60.7 255.0h0M54.3 263.2h0M60.6 260.5h0M50.2 271.1h0M53.5 270.5h0M64.4 259.3h0M52.0 265.1h0M46.4 270.4h0M63.6 254.1h0M58.4 262.1h0M57.1 264.0h0M61.1 255.5h0M55.6 266.0h0M56.9 266.1h0M56.8 262.8h0M56.9 261.7h0M62.4 258.2h0M57.1 258.5h0M60.4 259.7h0M46.9 276.7h0M58.0 263.1h0M47.8 272.7h0M51.1 264.1h0M62.7 259.0h0M49.5 270.6h0M55.7 260.3h0M52.0 261.5h0M59.6 256.2h0M49.3 269.3h0M57.1 262.6h0M55.6 260.9h0M56.8 262.1h0M50.8 270.7h0M54.1 266.0h0M58.6 267.0h0M58.2 258.2h0M58.6 261.2h0M50.8 262.1h0M59.7 260.8h0M61.9 253.1h0M56.5 265.0h0M55.0 260.7h0M50.0 270.1h0M48.4 270.2h0M55.5 260.6h0M53.0 264.4h0M50.2 263.6h0M59.6 256.3h0M55.6 255.1h0M57.7 261.6h0M55.1 264.3h0M47.8 274.8h0M52.1 264.6h0M50.2 274.7h0M55.8 267.7h0M50.5 265.7h0M57.6 261.5h0M49.2 271.1h0M52.3 269.8h0M56.8 262.8h0M50.8 275.6h0M54.5 259.4h0M57.0 265.2h0M54.3 266.0h0M54.6 263.0h0M54.1 270.9h0M51.5 263.8h0M60.7 256.3h0M58.7 256.5h0M59.0 259.6h0M55.9 261.3h0M62.7 257.9h0M51.8 263.9h0M56.3 260.8h0M53.6 265.8h0M55.9 264.9h0M53.9 261.5h0M50.9 265.6h0M57.8 259.8h0M59.8 261.9h0M51.6 270.1h0M56.3 267.4h0M56.2 262.9h0M54.8 260.8h0M52.8 267.0h0M54.7 266.3h0M58.4 260.3h0M59.5 258.3h0M53.5 262.3h0M52.6 258.9h0M56.9 261.0h0M56.1 264.9h0M58.2 266.0h0M51.2 271.8h0M58.1 266.3h0M54.7 269.3h0M51.0 273.8h0M56.9 259.1h0M52.9 274.4h0M60.0 252.7h0M55.6 268.8h0M55.6 260.9h0M54.0 260.2h0M57.6 259.8h0M47.6 269.6h0M52.9 265.1h0M56.4 262.3h0M56.7 260.4h0M53.1 270.6h0M59.7 257.2h0M46.2 276.3h0M54.5 265.2h0M62.8 254.7h0M52.2 275.9h0M49.3 276.5h0M42.9 274.3h0M48.9 273.6h0M53.4 268.5h0M56.5 261.3h0M53.0 268.2h0M60.0 257.9h0M53.4 269.3h0M55.6 268.1h0M56.4 266.2h0M53.4 270.3h0M55.6 270.5h0M52.3 264.2h0M58.4 259.1h0M57.8 258.4h0M49.8 267.8h0M47.1 271.2h0M57.9 259.7h0M52.3 267.4h0M57.4 254.0h0M59.1 267.7h0M47.6 275.6h0M58.5 257.2h0M53.9 270.9h0M55.5 261.7h0M51.4 268.0h0M66.8 248.4h0M50.7 264.8h0M61.0 254.4h0M52.5 271.3h0M61.4 254.2h0M57.0 261.7h0M56.0 263.2h0M54.5 266.9h0M56.0 264.8h0M58.1 258.5h0M57.6 258.5h0M53.3 262.9h0M55.7 270.3h0M54.0 263.4h0M54.4 265.0h0M49.1 270.4h0M60.6 255.8h0M50.4 270.5h0M59.2 255.5h0M50.4 266.8h0M54.0 265.3h0M53.1 271.0h0M46.9 274.7h0M52.7 264.9h0M55.2 271.8h0M51.1 270.3h0M56.8 258.4h0M50.2 269.8h0M57.4 260.3h0M54.9 255.5h0M56.3 259.2h0M49.3 275.5h0M61.0 263.5h0M58.2 264.3h0M54.6 265.6h0M54.8 264.4h0M56.8 261.3h0M56.4 264.7h0M57.2 263.0h0M60.6 256.2h0M62.5 252.3h0M54.8 263.9h0" stroke="#b608b6" stroke-width="0.84" stroke-linecap="round" opacity="0.7" fill="none"/>
<path d="M79.1 230.8h0M70.3 240.2h0M75.4 228.2h0M74.0 234.9h0M67.5 244.1h0M68.4 238.6h0M75.0 235.0h0M66.3 242.0h0M66.9 235.8h0M71.8 233.6h0M71.2 243.3h0M66.6 234.6h0M69.9 236.7h0M79.9 239.3h0M78.2 235.9h0M71.8 238.7h0M72.7 232.9h0M70.4 233.9h0M70.8 229.9h0M65.4 217.1h0M64.7 245.5h0M73.0 234.4h0M65.6 248.3h0M67.9 242.9h0M68.2 238.8h0M60.1 243.9h0M65.0 238.0h0M67.2 231.9h0M73.7 236.2h0M64.5 239.5h0M72.2 240.5h0M84.1 231.7h0M73.4 237.2h0M71.7 235.2h0M65.2 243.0h0M80.3 231.9h0M62.9 237.1h0M79.0 223.9h0M72.3 233.1h0M64.4 249.3h0M65.9 242.4h0M67.4 240.1h0M86.2 223.6h0M57.5 246.4h0M66.5 238.5h0M79.5 234.6h0M69.8 242.6h0M63.3 233.7h0M81.8 232.3h0M69.6 243.4h0M68.4 239.8h0M68.5 239.3h0M69.0 234.9h0M67.7 231.9h0M71.1 229.0h0M66.0 250.8h0M67.7 237.7h0M74.7 230.3h0M80.6 224.3h0M63.2 245.0h0M67.1 240.4h0M87.3 231.0h0M79.7 225.9h0M73.8 233.2h0M66.4 254.3h0M77.5 222.0h0M68.4 235.2h0M67.1 236.0h0M70.3 246.7h0M66.3 251.8h0M65.2 243.7h0M64.7 251.4h0M75.2 248.6h0M67.9 243.3h0M70.4 230.0h0M63.8 239.8h0M74.3 233.4h0M70.3 226.6h0M66.6 242.5h0M70.1 240.2h0M76.1 229.2h0M67.4 241.8h0M65.7 240.0h0M81.1 225.4h0M77.9 223.7h0M66.3 234.3h0M74.4 236.4h0M69.9 229.4h0M74.5 237.7h0M71.4 241.2h0M68.8 239.9h0M63.4 237.2h0M68.0 242.5h0M69.7 238.4h0M71.5 242.3h0M71.5 238.5h0M73.4 242.5h0M72.0 238.1h0M81.7 222.6h0M62.1 245.6h0M67.8 231.5h0M64.3 246.2h0M68.0 249.4h0M71.7 232.9h0M73.7 226.9h0M69.0 246.4h0M70.2 235.9h0M74.8 229.3h0M74.4 232.6h0M77.7 229.9h0M74.1 242.9h0M75.4 242.6h0M65.8 245.2h0M63.3 252.7h0M75.2 226.6h0M72.2 232.8h0M78.2 227.5h0M76.2 236.5h0M66.9 248.2h0M75.9 238.4h0M73.1 237.6h0M67.4 234.8h0M68.2 239.5h0M65.2 245.4h0M75.2 243.6h0M70.4 238.4h0M73.7 237.4h0M58.2 243.6h0M74.8 224.1h0M71.2 245.0h0M69.5 232.8h0M70.2 229.1h0M76.7 224.9h0M72.3 234.2h0M75.8 221.5h0M77.9 241.7h0M60.7 249.2h0M71.4 234.2h0M76.8 236.0h0M64.0 242.7h0M83.2 231.8h0M61.6 255.6h0M72.8 228.4h0M63.5 239.9h0M66.2 235.4h0M71.6 230.3h0M67.8 229.7h0M77.0 232.0h0M75.9 230.7h0M83.9 223.1h0M76.7 239.6h0M70.0 239.2h0M76.3 224.5h0M71.8 237.1h0M71.0 234.8h0M82.6 234.3h0M64.4 236.0h0M64.3 236.7h0M62.1 242.8h0M76.0 229.7h0M73.6 231.5h0M73.9 228.8h0M79.5 229.6h0M66.9 231.9h0M67.3 244.4h0M66.0 243.1h0M75.0 240.5h0M68.6 241.4h0M66.5 238.0h0M76.1 235.6h0M70.1 249.3h0M80.9 221.8h0M69.6 230.8h0M70.4 239.9h0M75.3 240.0h0M66.5 241.9h0M73.0 232.8h0M69.6 237.9h0M66.1 229.7h0M84.4 220.7h0M63.5 241.7h0M67.7 245.0h0M71.6 254.2h0M63.9 237.2h0M79.6 222.7h0M72.4 232.8h0M76.9 242.6h0M63.6 250.3h0M66.7 240.7h0M64.5 233.0h0M74.3 232.8h0M71.3 231.5h0M72.5 230.5h0M78.9 234.2h0M68.7 229.2h0M67.8 233.8h0M79.8 223.9h0M60.5 241.8h0M73.1 225.5h0M71.6 233.0h0M68.9 236.5h0M76.5 239.9h0M69.1 243.5h0M70.8 231.8h0M63.4 241.9h0M74.0 233.0h0M76.6 230.4h0M71.6 235.7h0M72.2 235.0h0M70.9 230.2h0M81.0 232.8h0M72.6 238.3h0M66.5 244.6h0M68.4 248.2h0M74.9 238.5h0M73.2 227.4h0M79.7 234.3h0M79.9 221.5h0M71.1 231.5h0M75.7 233.5h0" stroke="#c418c4" stroke-width="0.56" stroke-linecap="round" opacity="0.45" fill="none"/>
<text x="162.70" y="205.90" font-size="6.6" text-anchor="middle" font-weight="bold" fill="#000" stroke="#000" stroke-width="0.22">OXA−50 <tspan font-weight="normal">µ</tspan>M</text>
<rect x="124.00" y="209.50" width="77.20" height="76.30" fill="#fff" stroke="#777" stroke-width="0.8"/>
<line x1="165.80" y1="209.50" x2="165.80" y2="285.80" stroke="#8a8a8a" stroke-width="0.9"/>
<line x1="124.00" y1="246.90" x2="201.20" y2="246.90" stroke="#8a8a8a" stroke-width="0.9"/>
<text x="125.90" y="214.40" font-size="4.1" text-anchor="start" font-weight="normal" fill="#333">Q1-UL(3.31%)</text>
<text x="199.30" y="214.40" font-size="4.1" text-anchor="end" font-weight="normal" fill="#333">Q1-UR(24.02%)</text>
<text x="125.90" y="283.60" font-size="4.1" text-anchor="start" font-weight="normal" fill="#333">Q1-LL(66.46%)</text>
<text x="199.30" y="283.60" font-size="4.1" text-anchor="end" font-weight="normal" fill="#333">Q1-LR(6.22%)</text>
<text x="122.60" y="290.40" font-size="3.2" fill="#333">10<tspan dy="-1.3" font-size="2.2">1</tspan></text>
<text x="121.00" y="287.40" font-size="3.2" fill="#333" transform="rotate(-90 121.00 287.40)">10<tspan dy="-1.3" font-size="2.2">1</tspan></text>
<text x="141.60" y="290.40" font-size="3.2" fill="#333">10<tspan dy="-1.3" font-size="2.2">2</tspan></text>
<text x="121.00" y="268.62" font-size="3.2" fill="#333" transform="rotate(-90 121.00 268.62)">10<tspan dy="-1.3" font-size="2.2">2</tspan></text>
<text x="160.60" y="290.40" font-size="3.2" fill="#333">10<tspan dy="-1.3" font-size="2.2">3</tspan></text>
<text x="121.00" y="249.85" font-size="3.2" fill="#333" transform="rotate(-90 121.00 249.85)">10<tspan dy="-1.3" font-size="2.2">3</tspan></text>
<text x="179.60" y="290.40" font-size="3.2" fill="#333">10<tspan dy="-1.3" font-size="2.2">4</tspan></text>
<text x="121.00" y="231.07" font-size="3.2" fill="#333" transform="rotate(-90 121.00 231.07)">10<tspan dy="-1.3" font-size="2.2">4</tspan></text>
<text x="198.60" y="290.40" font-size="3.2" fill="#333">10<tspan dy="-1.3" font-size="2.2">5</tspan></text>
<text x="121.00" y="212.30" font-size="3.2" fill="#333" transform="rotate(-90 121.00 212.30)">10<tspan dy="-1.3" font-size="2.2">5</tspan></text>
<path d="M124.00 280.06h1M124.00 276.70h1M124.00 274.32h1M124.00 272.47h1M124.00 270.96h1M124.00 269.68h1M124.00 268.57h1M124.00 267.60h1M124.00 260.98h1M124.00 257.62h1M124.00 255.24h1M124.00 253.39h1M124.00 251.88h1M124.00 250.60h1M124.00 249.50h1M124.00 248.52h1M124.00 241.91h1M124.00 238.55h1M124.00 236.17h1M124.00 234.32h1M124.00 232.81h1M124.00 231.53h1M124.00 230.42h1M124.00 229.45h1M124.00 222.83h1M124.00 219.47h1M124.00 217.09h1M124.00 215.24h1M124.00 213.73h1M124.00 212.45h1M124.00 211.35h1M124.00 210.37h1M129.81 285.80v-1M133.21 285.80v-1M135.62 285.80v-1M137.49 285.80v-1M139.02 285.80v-1M140.31 285.80v-1M141.43 285.80v-1M142.42 285.80v-1M149.11 285.80v-1M152.51 285.80v-1M154.92 285.80v-1M156.79 285.80v-1M158.32 285.80v-1M159.61 285.80v-1M160.73 285.80v-1M161.72 285.80v-1M168.41 285.80v-1M171.81 285.80v-1M174.22 285.80v-1M176.09 285.80v-1M177.62 285.80v-1M178.91 285.80v-1M180.03 285.80v-1M181.02 285.80v-1M187.71 285.80v-1M191.11 285.80v-1M193.52 285.80v-1M195.39 285.80v-1M196.92 285.80v-1M198.21 285.80v-1M199.33 285.80v-1M200.32 285.80v-1" stroke="#666" stroke-width="0.35" fill="none"/>
<path d="M162.5 244.1h0M156.5 259.7h0M161.7 266.1h0M133.0 276.7h0M153.8 265.8h0M155.9 259.9h0M147.1 275.7h0M164.4 257.9h0M156.6 249.1h0M144.7 263.4h0M150.6 263.6h0M168.9 250.8h0M157.0 259.8h0M147.6 257.2h0M154.3 251.7h0M140.5 272.9h0M158.5 241.0h0M156.8 241.8h0M155.8 261.0h0M147.5 260.4h0M161.2 263.3h0M159.0 252.9h0M162.7 256.4h0M161.2 245.0h0M144.4 265.1h0M153.2 257.5h0M151.5 257.3h0M166.7 232.2h0M159.3 242.4h0M144.2 263.7h0M140.4 265.5h0M147.9 266.6h0M150.8 247.3h0M156.3 254.3h0M144.9 253.3h0M159.9 255.9h0M160.0 246.7h0M162.1 246.8h0M150.6 269.5h0M161.1 249.8h0M152.8 258.6h0M150.6 247.5h0M150.5 252.5h0M151.7 264.7h0M161.7 246.6h0M159.9 275.4h0M144.6 248.6h0M150.4 258.0h0M154.8 267.8h0M167.8 238.0h0M149.4 274.6h0M152.9 256.9h0M150.4 253.8h0M156.8 258.0h0M170.0 252.4h0M151.8 266.2h0M149.7 267.1h0M164.0 249.2h0M159.9 266.7h0M164.8 253.3h0M160.3 261.7h0M156.9 262.7h0M154.3 258.5h0M148.6 277.0h0M155.0 251.5h0M157.1 259.9h0M149.2 247.1h0M159.0 241.4h0M170.8 243.1h0M155.8 258.1h0M154.1 255.0h0M160.6 242.0h0M149.8 263.6h0M148.6 277.5h0M153.2 274.8h0M168.6 254.9h0M149.1 264.1h0M154.7 265.6h0M147.1 267.0h0M139.9 282.1h0M163.9 262.2h0M153.0 269.9h0M161.4 255.6h0M132.2 260.6h0M155.2 266.4h0M161.4 261.1h0M164.6 235.5h0M158.1 267.1h0M132.9 268.9h0M157.2 257.1h0M166.7 245.8h0M151.4 257.8h0M144.9 278.7h0M148.6 264.0h0M147.3 250.2h0M150.9 258.1h0M166.1 238.6h0M156.9 244.9h0M148.0 277.2h0M146.1 258.8h0M163.0 249.5h0M142.3 275.6h0M167.1 239.1h0M141.9 270.3h0M169.4 249.0h0M151.9 247.9h0M155.8 248.3h0M148.7 262.7h0M163.1 249.4h0M155.8 251.9h0M155.5 267.1h0M149.0 264.3h0M156.8 252.8h0M162.8 250.5h0M168.2 258.7h0M159.8 270.1h0M142.5 269.8h0M135.3 282.4h0M152.1 269.0h0M172.2 252.4h0M155.4 267.3h0M144.9 255.8h0M145.5 281.1h0M151.0 270.3h0M151.9 267.1h0M149.8 269.8h0M167.3 241.4h0M141.9 270.8h0M158.5 259.8h0M142.2 269.1h0M151.4 280.4h0M157.4 256.9h0M159.7 268.7h0M157.3 252.8h0M164.5 248.1h0M150.7 260.9h0M160.2 262.7h0M137.7 269.0h0M163.0 254.9h0M165.9 245.6h0M148.0 276.6h0M150.7 254.5h0M137.0 271.2h0M148.9 254.8h0M155.7 254.9h0M162.0 254.8h0M146.5 267.4h0M156.0 249.6h0M163.2 250.2h0M157.2 248.1h0M158.2 250.3h0M158.2 258.5h0M150.3 264.6h0M135.7 281.6h0M153.3 249.6h0M134.2 276.9h0M155.1 263.9h0M151.3 249.6h0M151.3 251.5h0M162.8 248.8h0M147.9 264.3h0M151.0 258.2h0M162.9 247.8h0M152.3 266.1h0M145.8 273.7h0M149.4 260.8h0M154.7 260.2h0M146.2 275.2h0M176.6 230.6h0M151.8 266.1h0M160.1 238.9h0M163.2 240.9h0M162.7 237.1h0M158.3 246.7h0M166.0 248.4h0M152.6 253.3h0M162.4 249.2h0M149.4 271.8h0M152.4 260.5h0M148.6 269.8h0M156.0 247.8h0M151.4 245.8h0M155.9 258.6h0M148.5 269.4h0M153.6 277.7h0M161.3 257.8h0M138.3 262.6h0M159.2 263.5h0M158.0 263.8h0M158.0 255.8h0M158.3 246.5h0M156.0 266.2h0M154.7 252.8h0M153.4 274.2h0M147.5 257.1h0M158.7 256.1h0M170.1 236.1h0M133.7 282.7h0M156.9 249.8h0M153.3 259.4h0M164.7 245.0h0M150.3 259.0h0M157.6 246.7h0M158.5 255.8h0M162.2 253.4h0M164.2 261.3h0M155.9 248.9h0M145.2 266.6h0M158.0 242.3h0M166.0 243.9h0M146.0 262.5h0M156.6 262.0h0M156.6 261.7h0M160.8 260.8h0M150.3 263.7h0M145.4 269.9h0M141.2 265.4h0M155.4 263.1h0M134.1 279.0h0M146.5 274.5h0M159.0 254.0h0M149.6 259.0h0M151.6 254.8h0M154.2 262.5h0M157.4 264.8h0M133.3 277.5h0M158.1 247.2h0M148.7 262.5h0M153.0 259.3h0M160.2 257.7h0M157.2 234.3h0M149.6 257.9h0M151.2 254.2h0M155.6 259.1h0M154.7 260.1h0M153.9 249.5h0M158.1 262.3h0M164.1 251.9h0M145.9 265.9h0M160.4 248.9h0M154.4 255.1h0M160.6 250.0h0M149.1 270.3h0M150.7 262.0h0M158.3 253.6h0M145.4 261.9h0M150.6 263.3h0M143.7 269.8h0M166.4 233.3h0M149.3 255.2h0M152.9 263.0h0M148.0 253.0h0M150.2 256.1h0M160.6 247.5h0M165.7 243.6h0M150.4 273.5h0M150.4 263.8h0M149.2 254.7h0M162.2 247.3h0M141.7 266.1h0M162.0 257.4h0M157.9 255.7h0M155.8 266.2h0M154.2 251.3h0M141.1 259.8h0M173.9 254.8h0M155.1 261.4h0M158.0 250.6h0M163.6 234.3h0M155.3 271.9h0M163.0 251.5h0M153.1 260.0h0M156.7 258.6h0M154.4 267.9h0M163.1 239.6h0M148.4 269.1h0M165.9 231.1h0M159.9 243.3h0M153.7 269.6h0M152.7 260.6h0M163.3 254.7h0M162.0 260.6h0M147.5 264.6h0M161.1 253.6h0M141.6 276.0h0M157.8 251.5h0M159.1 236.4h0M151.8 254.7h0M142.8 274.8h0M151.9 258.5h0M153.5 267.7h0M144.8 268.1h0M149.9 276.4h0M151.7 278.5h0M147.9 268.3h0M160.1 239.4h0M157.1 242.0h0M153.4 265.1h0M157.6 256.3h0M162.6 259.7h0M140.8 273.7h0M153.6 246.1h0M159.8 272.4h0M164.8 246.4h0M153.9 257.6h0M144.8 265.7h0M142.5 265.7h0M156.7 258.6h0M148.6 268.9h0M147.1 273.5h0M151.7 262.0h0M160.8 260.3h0M152.7 255.0h0M156.8 258.3h0M161.9 256.1h0M143.9 264.2h0M153.4 249.5h0M168.3 261.3h0M156.0 242.2h0M150.4 268.3h0M155.2 263.6h0M157.1 257.2h0M151.2 249.1h0M155.6 243.4h0M138.4 261.6h0M155.8 259.9h0M146.7 259.6h0M142.4 282.7h0M145.2 269.7h0M155.4 256.2h0M163.7 258.9h0M154.5 248.9h0M152.9 258.7h0M151.3 269.4h0M152.6 263.4h0M167.0 257.7h0M153.2 267.0h0M174.6 240.8h0M153.0 253.8h0M152.6 255.5h0M144.2 258.6h0M143.9 256.5h0M162.7 250.0h0M151.7 263.1h0M153.9 256.9h0M155.3 255.3h0M153.7 252.0h0M161.6 262.5h0M145.6 265.0h0M161.6 249.9h0M155.9 257.7h0M149.3 261.6h0M158.2 254.0h0M160.2 253.3h0M168.9 236.0h0M163.9 244.7h0M172.8 238.1h0M156.0 270.7h0M154.8 267.2h0M150.9 267.4h0M161.2 260.8h0M132.3 275.8h0M163.7 250.6h0M151.4 264.2h0M141.4 275.7h0M153.7 267.8h0M155.2 255.7h0M159.0 245.0h0M158.2 250.2h0M156.0 253.2h0M161.5 243.1h0M170.6 240.0h0M147.1 266.0h0M169.1 248.7h0M147.2 271.5h0M168.3 258.4h0M157.8 251.2h0M160.6 249.2h0M148.6 267.3h0M152.0 260.3h0M156.4 258.6h0M152.2 268.4h0M147.0 276.5h0M159.3 254.6h0M142.6 272.6h0M157.6 257.6h0M152.7 246.8h0M159.1 261.1h0M141.8 267.3h0M150.2 262.6h0M158.0 264.5h0M148.1 250.6h0M159.9 250.6h0M159.8 249.6h0M163.9 244.6h0M146.2 260.3h0M159.8 248.5h0M146.7 278.6h0M154.0 239.6h0M160.8 254.3h0M170.7 243.9h0M151.6 267.3h0M153.0 246.9h0M165.8 244.9h0M156.1 247.4h0M159.6 249.7h0M152.6 261.6h0M150.3 250.8h0M156.0 259.3h0M151.2 279.5h0M173.8 233.7h0M150.1 255.6h0M142.2 266.5h0M156.5 246.9h0M153.8 255.2h0M165.6 252.5h0M163.2 250.6h0M168.6 251.8h0" stroke="#c418c4" stroke-width="0.6" stroke-linecap="round" opacity="0.4" fill="none"/>
<path d="M158.7 256.2h0M157.9 258.6h0M155.3 262.4h0M153.2 273.2h0M150.4 264.7h0M153.0 258.2h0M154.4 265.6h0M149.5 268.3h0M162.2 250.4h0M166.6 246.0h0M152.2 266.3h0M161.1 253.6h0M150.4 278.8h0M148.0 268.0h0M159.9 250.9h0M152.4 269.3h0M154.2 265.0h0M154.5 265.3h0M156.4 256.5h0M152.0 260.0h0M161.9 259.2h0M150.4 269.2h0M154.4 269.4h0M154.1 258.9h0M145.2 277.7h0M158.9 271.4h0M154.8 256.2h0M165.0 260.8h0M154.4 271.3h0M158.1 261.7h0M158.7 262.7h0M149.7 270.4h0M164.8 254.4h0M150.9 268.6h0M161.5 247.6h0M159.9 254.6h0M154.5 267.9h0M155.0 265.7h0M166.5 246.3h0M159.2 259.2h0M148.0 265.1h0M150.4 258.4h0M156.6 259.9h0M160.0 264.5h0M155.4 263.6h0M157.2 255.4h0M153.1 267.9h0M158.6 255.7h0M161.1 258.1h0M154.9 258.0h0M156.5 261.6h0M154.9 260.0h0M153.4 261.1h0M153.3 261.1h0M158.0 262.3h0M152.8 267.7h0M153.5 257.5h0M159.2 260.6h0M152.8 258.6h0M159.8 250.7h0M152.8 268.9h0M158.2 261.9h0M166.2 246.4h0M165.1 253.2h0M155.5 258.9h0M160.6 256.0h0M159.3 257.3h0M149.4 265.2h0M150.4 268.3h0M145.4 274.6h0M150.6 267.0h0M152.7 272.4h0M159.3 255.7h0M164.7 248.3h0M155.7 260.2h0M147.6 267.6h0M152.2 266.4h0M147.1 279.0h0M152.2 269.0h0M159.2 255.8h0M149.5 274.4h0M151.2 264.2h0M156.1 263.6h0M151.5 267.0h0M149.0 266.9h0M154.5 270.8h0M163.8 249.9h0M155.6 264.5h0M151.9 265.0h0M151.2 276.3h0M150.1 269.8h0M147.6 268.9h0M147.8 272.8h0M159.1 257.8h0M151.7 277.0h0M147.3 272.0h0M160.9 257.0h0M150.0 272.6h0M159.1 271.0h0M166.2 248.3h0M150.2 268.9h0M164.2 260.7h0M150.6 269.7h0M159.3 256.2h0M160.1 261.1h0M150.2 271.5h0M157.0 267.1h0M159.1 258.8h0M157.0 258.9h0M154.6 265.6h0M154.3 262.8h0M150.9 276.0h0M146.6 272.5h0M151.0 273.1h0M148.2 263.8h0M160.5 251.6h0M151.9 260.1h0M151.5 265.0h0M159.1 259.9h0M146.9 281.2h0M158.0 260.4h0M160.3 252.5h0M161.4 253.4h0M160.9 266.0h0M157.1 268.6h0M159.6 268.6h0M155.5 258.8h0M150.1 265.9h0M151.3 270.1h0M153.9 261.3h0M163.7 253.8h0M150.5 260.5h0M160.4 253.3h0M156.9 256.0h0M153.0 266.4h0M150.5 271.7h0M161.7 247.5h0M154.7 261.9h0M152.6 271.5h0M159.3 260.4h0M150.7 267.7h0M157.0 267.1h0M162.9 258.4h0M163.6 252.3h0M152.0 265.1h0M164.3 247.4h0M148.9 264.0h0M153.9 273.2h0M151.6 267.2h0M154.9 267.3h0M146.8 275.7h0M162.6 261.1h0M159.7 263.3h0M160.5 249.0h0M152.7 261.2h0M146.9 271.9h0M160.1 261.4h0M155.4 261.7h0M156.4 262.5h0M157.7 266.8h0M152.0 274.4h0M156.4 265.8h0M148.8 276.1h0M160.8 255.8h0M153.1 273.0h0M163.0 252.6h0M158.1 274.6h0M144.1 267.9h0M153.4 260.3h0M160.2 265.1h0M155.6 258.6h0M161.6 254.0h0M157.5 256.9h0M157.0 267.5h0M157.5 261.4h0M150.2 266.5h0M152.8 264.7h0M156.9 266.8h0M148.3 268.8h0M163.6 259.3h0M157.7 257.8h0M146.6 275.4h0M157.9 258.9h0M156.6 269.4h0M156.2 261.2h0M148.4 270.2h0M159.7 258.0h0M156.1 258.6h0M152.9 266.3h0M162.8 258.1h0M151.7 260.4h0M151.6 271.4h0M155.8 267.0h0M151.7 269.2h0M147.3 268.3h0M156.0 256.9h0M153.8 268.1h0M150.1 263.8h0M151.4 263.3h0M149.7 264.4h0M156.4 262.8h0M157.2 272.6h0M153.8 256.4h0M154.2 253.9h0M147.0 278.3h0M158.0 256.1h0M145.3 268.6h0M148.0 278.0h0M151.3 271.9h0M147.7 272.2h0M147.1 276.3h0M153.5 272.8h0M158.9 254.1h0M152.0 263.0h0M160.9 260.7h0M162.1 255.6h0M146.6 275.3h0M154.5 261.0h0M154.8 262.8h0M157.7 266.6h0M149.1 272.3h0M155.7 265.3h0M155.6 266.2h0M155.9 263.8h0M155.3 268.0h0M156.4 263.2h0M160.4 254.9h0M149.0 268.5h0M153.3 266.5h0M150.2 272.5h0M155.4 272.3h0M163.0 253.8h0M149.1 274.1h0M155.0 269.4h0M159.2 247.7h0M142.0 276.1h0M156.4 264.7h0M153.9 266.3h0M163.7 263.4h0M159.2 269.1h0M161.5 261.5h0M162.8 252.9h0M153.0 268.7h0M150.7 265.6h0M157.0 257.8h0M158.3 265.4h0M155.3 269.0h0M148.2 274.5h0M151.0 264.8h0M161.3 257.9h0M144.5 277.5h0M156.6 271.7h0M156.6 266.2h0M162.0 261.3h0M164.7 249.1h0M153.4 269.0h0M155.3 262.7h0M147.6 278.2h0M147.0 261.6h0M152.7 263.0h0M163.7 254.5h0M149.7 255.6h0M154.8 256.4h0M160.5 261.6h0M165.6 246.5h0M150.1 275.9h0M159.6 262.3h0M156.4 256.0h0M160.3 260.9h0M150.2 270.0h0M149.7 260.9h0M149.9 265.6h0M162.0 252.7h0M145.2 275.6h0M152.6 275.5h0M152.0 259.2h0M151.6 282.2h0M165.2 246.0h0M146.4 270.1h0M152.1 263.3h0M150.2 276.6h0M146.6 272.2h0M153.6 256.5h0M145.1 274.1h0M156.6 259.1h0M150.5 260.9h0M154.7 253.1h0M153.5 269.7h0M155.0 255.1h0M154.2 268.6h0M156.6 263.2h0M150.8 260.4h0M159.4 258.4h0M149.3 267.0h0M158.9 258.9h0M160.0 262.5h0M156.4 265.6h0M155.5 262.0h0M149.8 271.6h0M151.4 266.1h0M151.9 268.9h0M148.6 272.6h0M163.4 252.0h0M149.5 279.9h0M153.2 265.1h0M146.5 276.0h0M162.8 263.3h0M161.2 260.3h0M150.1 270.9h0M157.2 253.5h0M143.6 269.4h0M156.0 268.9h0M152.0 264.1h0M152.5 274.9h0M150.0 267.9h0M156.2 270.7h0M157.6 260.1h0M153.6 260.8h0M161.5 263.5h0M153.9 269.7h0M152.0 261.8h0M157.8 259.1h0M164.9 251.5h0M148.2 267.6h0M159.0 258.1h0M153.8 267.7h0M155.2 265.3h0M152.5 270.4h0M160.9 261.7h0M163.0 259.1h0M152.9 261.0h0M163.8 252.9h0M158.0 256.0h0M157.3 261.6h0M161.0 255.4h0M158.8 262.0h0M145.3 276.6h0M154.8 262.0h0M152.3 270.9h0M151.9 262.1h0M152.6 269.0h0M156.8 266.9h0M157.6 261.8h0M152.6 259.7h0M151.5 262.6h0M158.4 266.5h0M148.7 276.6h0M152.5 261.3h0M146.0 277.2h0M148.3 277.0h0M153.1 271.7h0M150.2 274.3h0M153.8 272.3h0M142.7 275.7h0M156.0 261.6h0M160.8 255.4h0M162.1 249.8h0M152.1 261.6h0M155.2 264.5h0M157.9 255.3h0M158.4 264.8h0M162.1 249.2h0M155.4 263.3h0M159.2 259.8h0M154.2 263.7h0M156.7 249.7h0M154.1 275.8h0M151.4 263.0h0M161.9 260.1h0M153.0 270.2h0M150.5 261.5h0M151.3 262.0h0M163.9 259.6h0M157.9 261.1h0M149.6 269.8h0M166.8 245.7h0M159.1 261.1h0M159.3 258.5h0M157.5 267.9h0M162.4 256.8h0M148.0 275.7h0M162.7 249.7h0M153.3 275.4h0M161.0 252.1h0M152.8 263.6h0M144.0 278.4h0M150.0 274.2h0M147.9 278.3h0M157.8 270.4h0M155.1 259.0h0M161.3 256.1h0M160.1 262.8h0M155.6 265.3h0M159.6 258.1h0M157.1 260.1h0M153.4 259.7h0M154.8 277.9h0M147.3 276.9h0M154.9 268.8h0M149.7 268.8h0M160.8 260.5h0M150.6 268.2h0M165.4 258.9h0M160.4 253.0h0M149.7 277.4h0M160.8 260.4h0M154.6 268.6h0M143.9 279.1h0M156.9 262.8h0M149.8 274.1h0M156.7 260.3h0M145.0 271.7h0M159.8 262.7h0M160.4 255.8h0M157.6 274.2h0M149.9 269.5h0M157.2 268.3h0M155.4 265.8h0M158.7 254.4h0M146.9 275.4h0M148.8 267.9h0M155.5 265.1h0M147.3 278.8h0M155.6 260.8h0M159.5 261.8h0M148.3 274.4h0M160.1 258.6h0M149.2 268.4h0M150.6 264.3h0M150.7 261.6h0M152.2 274.4h0M154.3 262.8h0M157.2 265.6h0M152.0 268.7h0M165.1 251.6h0M154.5 259.2h0M154.4 263.6h0M149.7 273.4h0M154.7 264.5h0M151.0 273.7h0M154.2 269.0h0M151.3 263.4h0M157.9 256.3h0M153.6 264.6h0M151.4 269.0h0M147.2 266.1h0M161.2 259.7h0M149.3 270.5h0M156.5 257.0h0M159.1 259.5h0M160.1 259.6h0M160.9 255.6h0M155.5 262.3h0M152.2 272.7h0M157.3 264.4h0M152.1 272.9h0M158.6 261.8h0M151.4 275.6h0M162.1 253.8h0M159.0 262.0h0M149.5 275.1h0M166.9 244.6h0M163.5 252.4h0M159.7 260.7h0M158.1 260.6h0M145.0 265.7h0M159.8 258.1h0M144.1 271.7h0M150.8 271.4h0M151.1 263.3h0M160.6 261.4h0M149.1 277.7h0M160.1 254.8h0M158.1 255.0h0M154.6 265.4h0M154.1 257.1h0M144.2 275.1h0M158.7 250.6h0M149.7 262.6h0M153.2 270.2h0M164.6 250.0h0M148.9 275.9h0M147.6 280.6h0M151.2 270.3h0M161.7 251.4h0M157.5 261.2h0M166.6 245.9h0M158.6 258.6h0M154.2 253.7h0M156.3 260.3h0M153.2 259.4h0M148.9 267.9h0M162.9 250.4h0M153.8 262.0h0M157.9 258.1h0M161.0 256.0h0M153.8 268.3h0M159.6 256.9h0M151.7 266.6h0M162.1 254.3h0M163.3 255.2h0M146.0 274.0h0M154.3 260.0h0M143.4 276.7h0M152.9 272.1h0M148.2 269.7h0M151.7 266.8h0M161.1 263.3h0M150.2 267.5h0M152.8 262.9h0M155.7 263.0h0M155.4 272.5h0M147.7 277.3h0M150.1 268.1h0M142.4 276.5h0M163.8 253.7h0M157.8 268.2h0M151.5 269.9h0M156.9 255.8h0M161.8 256.9h0M152.6 262.6h0M156.6 262.9h0M154.5 266.4h0M164.5 247.0h0M149.2 266.7h0M152.8 264.4h0M165.6 250.0h0M164.9 246.3h0M155.3 255.7h0M153.4 268.6h0M157.3 264.3h0M156.4 259.4h0M152.2 270.8h0M162.2 248.8h0M159.4 253.0h0M164.6 251.0h0M165.7 245.8h0M144.6 263.0h0M159.0 268.3h0M155.5 261.5h0M152.3 267.1h0M161.4 255.1h0M158.9 259.5h0M162.9 253.8h0M147.2 274.1h0M158.7 259.8h0M151.7 272.0h0M160.2 257.1h0M150.2 275.8h0M150.5 271.0h0M150.2 274.2h0M152.3 269.0h0M158.3 269.8h0M165.7 256.2h0M151.0 257.9h0M156.6 269.0h0M163.2 249.4h0M151.9 269.7h0M146.2 276.5h0M144.9 268.7h0M148.7 269.3h0M145.2 276.4h0M151.9 266.8h0M152.4 264.6h0M149.1 280.2h0M161.1 261.9h0M157.6 257.9h0M152.9 264.7h0M149.7 269.6h0M157.1 260.9h0M162.0 254.7h0M154.6 262.2h0M162.6 248.5h0M159.2 265.4h0M154.4 261.3h0M155.5 265.1h0M159.4 255.3h0M153.3 264.6h0M154.1 258.2h0M165.2 247.2h0M166.2 250.1h0M151.9 263.9h0M155.5 260.3h0M153.2 260.2h0M157.0 257.4h0M157.1 269.0h0M149.9 275.0h0M162.8 254.1h0M151.2 271.9h0M153.0 272.0h0M157.8 268.5h0M153.5 258.9h0M157.6 258.5h0M164.2 246.5h0M155.2 260.8h0M159.8 261.6h0M157.8 260.8h0M161.3 254.3h0M161.8 255.4h0M159.7 254.6h0M154.2 266.4h0M148.4 265.2h0M152.6 267.1h0M154.6 262.7h0M156.6 273.3h0M148.6 271.3h0M158.8 258.1h0M156.1 254.5h0M162.9 259.7h0M158.5 262.7h0M153.7 264.9h0M163.7 258.1h0M160.2 262.3h0M155.8 261.3h0M157.0 259.5h0M153.4 257.2h0M165.8 247.8h0M151.9 275.3h0M152.3 269.2h0M158.7 265.5h0M157.9 259.8h0M156.0 264.9h0M155.2 265.2h0M162.3 248.8h0M158.7 263.8h0M159.5 254.8h0M156.6 257.2h0M161.8 251.7h0M151.5 266.4h0M162.2 257.3h0M161.5 252.8h0M165.7 243.9h0M153.9 258.8h0M153.9 258.2h0M154.3 259.2h0M149.1 271.5h0M161.6 251.4h0M155.3 264.9h0M155.0 260.0h0M166.6 244.5h0M147.9 278.2h0M149.7 274.6h0M157.9 260.9h0M157.4 264.0h0M159.2 258.1h0M160.6 254.9h0M151.8 273.3h0M156.2 265.9h0M161.8 252.8h0M154.6 259.0h0M151.3 269.1h0M155.7 255.2h0M163.9 252.2h0M150.4 268.8h0M152.5 268.8h0M148.6 267.6h0M165.8 245.8h0M152.6 273.1h0M159.8 254.1h0M152.1 268.5h0M164.2 248.4h0M156.9 262.6h0M154.9 275.3h0M156.3 264.8h0M153.0 268.6h0M145.6 278.0h0M162.3 260.7h0M157.0 260.7h0M146.0 276.4h0M156.6 266.0h0M156.6 266.3h0M162.5 250.2h0M161.1 261.1h0M146.2 271.2h0M156.9 269.4h0M162.4 257.1h0M145.9 260.1h0M150.7 271.2h0M163.4 257.7h0M159.0 256.3h0M155.6 260.1h0M155.3 269.4h0M150.8 270.3h0M146.9 277.4h0M157.7 260.1h0M147.4 273.1h0M146.5 271.8h0M148.0 262.5h0M156.4 262.6h0M152.0 274.7h0M151.2 264.4h0M164.9 258.1h0M161.5 249.6h0M163.2 257.8h0M159.3 250.8h0M149.3 269.7h0M157.6 256.4h0M157.9 256.4h0M162.4 258.9h0M156.7 259.2h0M154.6 267.6h0M153.8 274.4h0M165.7 246.0h0M156.1 262.5h0M156.5 258.9h0M150.6 263.8h0M163.4 257.2h0M156.5 263.0h0M162.0 264.3h0M149.1 264.6h0M150.2 265.2h0M151.2 268.7h0M150.3 265.7h0M151.0 266.9h0M157.2 264.3h0M154.1 267.5h0M157.2 272.2h0M142.9 278.2h0M145.8 276.9h0M161.9 254.9h0M160.8 252.8h0M154.6 263.7h0M166.2 247.6h0M146.2 275.2h0M155.7 264.5h0M165.3 247.7h0M159.5 261.1h0M154.5 275.5h0M152.3 263.8h0M154.3 273.0h0M144.1 274.1h0M156.6 262.7h0M150.6 265.2h0M155.2 265.3h0M152.9 265.1h0M157.2 265.2h0M143.5 275.2h0M161.8 256.2h0M162.9 251.5h0M145.3 274.3h0M154.2 263.8h0M152.6 268.3h0M162.5 255.2h0M147.4 279.7h0M160.2 252.7h0M157.7 261.2h0M154.4 265.3h0M163.3 248.2h0M149.6 263.1h0M151.6 272.2h0M159.2 260.9h0M152.4 271.5h0M149.0 272.5h0M151.7 260.4h0M156.0 252.7h0M151.8 257.3h0M149.6 275.1h0M144.2 279.3h0M153.9 267.7h0M156.1 264.1h0M154.9 259.7h0M147.2 269.5h0M148.2 275.0h0M151.2 271.2h0M150.1 268.2h0M154.6 268.6h0M157.9 251.2h0M160.8 257.8h0M153.5 268.1h0M149.1 265.8h0M163.3 250.0h0M154.8 271.6h0M147.1 268.5h0M153.4 263.7h0M154.0 259.9h0M157.6 259.4h0M160.3 259.1h0M148.4 274.6h0M153.5 274.6h0M163.3 254.5h0M142.9 270.9h0M155.9 258.9h0M153.4 267.5h0M151.5 269.2h0M156.4 270.8h0M163.0 255.8h0M143.8 277.9h0M159.0 254.4h0M160.7 260.4h0M152.8 251.0h0M154.5 264.8h0M147.1 274.6h0M156.3 250.9h0M152.3 272.6h0M154.8 263.4h0M155.0 250.5h0M156.0 265.1h0M157.0 262.2h0M151.2 263.3h0M152.5 265.1h0M159.5 265.8h0M149.8 268.1h0M163.2 256.2h0M161.3 260.6h0M158.4 261.4h0M151.2 263.4h0M163.6 258.3h0M153.7 262.2h0M144.6 275.8h0M153.8 265.3h0M163.8 248.1h0M150.5 271.3h0M155.4 260.8h0M151.0 267.3h0M156.0 270.2h0M161.8 261.6h0M144.0 267.4h0M159.5 257.2h0M155.0 267.4h0M144.8 279.2h0M153.8 269.6h0M147.9 276.4h0M159.8 257.1h0M150.3 275.5h0M153.9 260.8h0M154.2 260.2h0M149.0 275.9h0M163.8 255.0h0M146.3 274.7h0M155.2 265.4h0M149.9 274.4h0M156.9 269.1h0M148.3 272.9h0M155.3 263.9h0M149.3 275.3h0M147.6 278.7h0M153.4 274.2h0M151.8 273.9h0M154.4 260.5h0M157.9 256.1h0M151.7 261.8h0M149.2 271.4h0M158.1 263.4h0M147.5 276.7h0M163.4 253.5h0M165.9 247.2h0M156.8 259.4h0M147.8 270.7h0M165.4 247.7h0M150.7 268.6h0M156.9 264.8h0M151.2 270.2h0M156.6 261.7h0M155.5 261.2h0M148.6 273.4h0M158.8 258.2h0M154.6 261.6h0M146.7 268.0h0M154.0 274.3h0M162.7 258.1h0M147.6 262.8h0M153.7 268.7h0M145.8 275.2h0M161.8 257.9h0M145.1 275.8h0M166.9 245.2h0M155.1 270.8h0M157.1 265.0h0M164.8 249.1h0M157.3 258.5h0M164.3 248.2h0M160.9 262.9h0M149.3 275.2h0M148.9 265.1h0M150.4 266.0h0M155.2 266.5h0M157.7 267.8h0M150.3 266.8h0M154.2 268.6h0M163.2 253.9h0M160.0 263.3h0M159.2 256.3h0M157.3 259.4h0M167.4 244.6h0M155.2 263.6h0M154.0 268.2h0M149.8 270.9h0M155.2 263.4h0M149.1 273.4h0M145.9 277.7h0M153.6 266.0h0M152.2 265.8h0M156.6 257.0h0M151.7 268.4h0M161.3 257.8h0M158.9 256.0h0M154.9 255.2h0M159.5 261.3h0M160.3 255.8h0M153.5 261.0h0M158.2 256.8h0M150.4 272.7h0M164.4 248.1h0M148.3 272.3h0M159.7 266.7h0M146.4 278.4h0M162.3 253.5h0M154.0 265.1h0M154.2 252.0h0M145.6 273.3h0M152.4 270.0h0M164.1 254.9h0M148.8 273.2h0M150.3 281.0h0M146.5 274.8h0M155.9 257.5h0M159.4 258.2h0M151.7 268.2h0M152.9 265.9h0M151.3 274.3h0M166.5 246.1h0M158.8 257.9h0M155.0 267.9h0M157.2 258.9h0M153.0 262.6h0M158.0 262.6h0M165.6 252.2h0M152.8 265.6h0M154.3 258.2h0M154.2 271.4h0M157.5 261.0h0M160.0 257.3h0M147.7 262.7h0M153.3 262.7h0M152.6 272.6h0M153.3 268.7h0M151.3 272.7h0M151.1 274.8h0M155.7 258.2h0M147.2 271.7h0M149.3 272.9h0M151.8 273.3h0M149.5 270.3h0M157.6 263.5h0M154.0 276.2h0M159.4 264.4h0M158.0 261.3h0M161.1 257.3h0M148.6 263.3h0M145.6 279.5h0M155.9 259.0h0M163.3 258.5h0M150.6 273.0h0M145.8 276.9h0M162.7 250.4h0M152.2 268.0h0M165.1 253.0h0M158.4 253.9h0M143.9 279.1h0M154.2 262.9h0M149.9 274.7h0M147.3 274.7h0M152.8 264.9h0M155.5 267.9h0M147.3 278.3h0M162.3 264.9h0M163.6 248.6h0M155.8 263.0h0M155.6 259.5h0M162.3 260.2h0M164.9 249.7h0M149.7 264.4h0M153.5 269.8h0M161.0 250.9h0M152.3 268.3h0M150.1 268.4h0M148.9 266.3h0M164.4 250.4h0M160.4 260.5h0M152.0 266.4h0M151.1 271.3h0M150.7 271.7h0M149.4 269.7h0M151.3 277.9h0M162.1 256.5h0M158.8 255.6h0M150.4 273.1h0M146.8 272.2h0M156.7 257.4h0M147.9 277.4h0M151.2 268.3h0M150.3 268.5h0M155.3 263.3h0M154.7 253.5h0M146.6 277.9h0M158.7 255.4h0M145.9 278.1h0M157.3 254.9h0M155.5 267.3h0M155.8 261.6h0M160.6 253.4h0M145.2 273.7h0M146.1 273.8h0M153.9 262.1h0M147.9 274.7h0M153.5 269.4h0M156.0 264.6h0M160.0 253.6h0M164.9 248.7h0M155.6 266.7h0M151.9 264.1h0M164.2 249.1h0M150.2 268.3h0M150.7 263.8h0M160.2 260.2h0M159.0 259.7h0M148.0 270.7h0M156.9 265.4h0M155.1 265.8h0M161.2 263.1h0M144.9 277.2h0M149.2 261.0h0M150.4 255.9h0M159.6 266.2h0M152.9 262.6h0M143.5 278.3h0M144.5 279.7h0M163.2 250.1h0M157.7 254.7h0M167.2 245.0h0M161.1 253.3h0M149.7 273.7h0M163.1 252.7h0M152.9 260.8h0M150.8 262.9h0M151.2 255.1h0M162.4 249.1h0M163.3 252.8h0M151.4 268.2h0M153.6 266.9h0M166.3 247.7h0M162.0 257.7h0M161.6 262.3h0M154.3 262.1h0M154.4 257.4h0M151.4 264.4h0M159.4 255.5h0M165.8 252.8h0M165.1 248.2h0M148.2 262.9h0M153.9 267.4h0M148.5 273.3h0M154.4 263.8h0M145.3 270.4h0M162.7 250.9h0M157.4 259.6h0M162.1 265.6h0M151.0 272.5h0M154.6 252.2h0M148.3 272.9h0M155.4 255.1h0M155.6 261.3h0M155.4 262.1h0M166.6 246.1h0M166.1 254.7h0M162.5 253.9h0M156.1 262.3h0M154.7 258.4h0M166.8 245.1h0M158.3 263.1h0M147.2 276.7h0M147.2 273.1h0M153.9 259.9h0M164.9 251.7h0M163.0 263.9h0M157.8 260.3h0M165.6 248.5h0M158.1 249.3h0M146.2 274.5h0M150.3 263.8h0M151.2 263.0h0M144.6 268.7h0M150.1 274.5h0M148.5 267.8h0M145.6 266.7h0M154.2 267.2h0M146.9 270.3h0M153.6 263.0h0M153.4 264.8h0M153.7 267.9h0M149.7 270.1h0M144.4 279.5h0M157.1 266.9h0M157.4 262.6h0M156.4 261.4h0M151.2 260.4h0M158.1 259.9h0M155.9 258.9h0M163.1 248.2h0M160.4 262.7h0M149.2 279.1h0M150.8 270.3h0M162.7 260.3h0M157.0 256.2h0M156.6 264.1h0M149.2 272.6h0M156.6 265.9h0M163.5 251.7h0M154.2 267.1h0M153.7 267.0h0M156.4 261.7h0M158.4 270.5h0M155.4 264.0h0M155.0 258.2h0M145.5 272.6h0M149.6 269.7h0M152.3 263.8h0M159.0 258.0h0M153.4 266.9h0M162.1 252.6h0M158.8 261.0h0M148.7 267.7h0M157.3 266.3h0M156.4 262.5h0M162.3 255.0h0M155.6 265.9h0M155.6 269.8h0M153.0 270.7h0M154.2 264.8h0M155.3 257.5h0M164.9 247.4h0M151.9 269.9h0M158.1 264.9h0M154.8 263.0h0M158.3 258.2h0M159.6 261.9h0M157.4 264.1h0M152.0 272.8h0M147.1 276.3h0M157.0 264.5h0M155.1 269.1h0M163.2 249.3h0M166.3 244.4h0M154.2 256.4h0M149.6 263.3h0M163.9 250.8h0M154.9 266.9h0M155.1 264.5h0M147.8 267.4h0M154.1 271.4h0M148.2 280.6h0M158.5 255.4h0M154.3 261.3h0M154.7 268.5h0M163.1 248.1h0M156.5 262.1h0M157.4 261.5h0M159.0 257.1h0M156.5 268.1h0M163.4 248.9h0M151.2 272.8h0M157.1 263.1h0M152.8 267.7h0M160.0 259.9h0M151.5 267.4h0M156.5 259.3h0M157.1 259.3h0M166.7 245.4h0M150.6 263.7h0M156.0 269.0h0M150.8 272.0h0M153.9 273.1h0M165.9 249.9h0M148.8 267.0h0M153.3 265.5h0M155.2 262.2h0M157.9 252.6h0M148.2 269.2h0M153.4 261.5h0M143.4 268.4h0M150.9 274.4h0M157.4 255.0h0M150.9 267.1h0M156.8 265.3h0M157.9 267.1h0M147.8 262.5h0M153.1 271.4h0M153.9 252.0h0M152.7 270.2h0M152.6 269.2h0M160.7 253.8h0M149.0 266.1h0M159.3 250.6h0M161.4 264.5h0M147.0 270.9h0M150.0 267.0h0M158.8 254.7h0M164.9 249.3h0M144.6 278.9h0M151.8 268.5h0M150.8 269.5h0M161.2 255.8h0M166.3 246.3h0M155.0 261.8h0M161.8 247.5h0M158.5 260.4h0M150.0 259.4h0M161.9 254.4h0M149.6 267.0h0M152.6 266.9h0M152.0 273.9h0M147.3 278.3h0M155.2 268.4h0M156.0 256.5h0M152.3 269.0h0M142.4 265.7h0M166.7 244.7h0M164.0 247.4h0M159.7 256.3h0M154.8 253.1h0M149.2 280.3h0M151.8 270.6h0M145.6 277.3h0M160.3 257.7h0M150.5 261.9h0M155.6 265.7h0M155.2 259.0h0M152.5 258.5h0M149.3 272.1h0M155.0 265.5h0M144.6 271.8h0M155.4 261.3h0M162.9 251.7h0M154.2 265.4h0M152.2 262.5h0M149.0 268.7h0M159.5 259.2h0M159.0 266.2h0M162.5 250.4h0M154.7 263.6h0M153.7 277.6h0M153.3 267.6h0M161.1 251.2h0M150.6 278.4h0M152.3 262.5h0M155.9 264.7h0M153.9 275.0h0M156.9 264.3h0M158.6 265.0h0M150.9 263.3h0M155.7 269.7h0M159.8 260.2h0M162.2 249.7h0M152.6 268.4h0M145.1 275.8h0M158.1 258.3h0M155.8 262.4h0M144.4 273.4h0M155.4 251.9h0M164.2 249.5h0M148.0 268.7h0M152.8 264.6h0M155.1 255.7h0M157.3 262.9h0M160.7 248.3h0M164.8 250.8h0M151.9 268.6h0M150.6 268.8h0M157.9 255.8h0M164.1 251.6h0M146.5 275.7h0M162.7 254.2h0M154.9 262.0h0M151.7 264.2h0M155.0 273.7h0M157.2 259.6h0M150.1 274.8h0M163.9 252.4h0M147.5 262.9h0M163.0 253.0h0M156.2 255.7h0M151.9 269.6h0M149.2 264.6h0M159.2 263.1h0M157.6 266.2h0M151.4 264.9h0M154.7 259.3h0M143.3 272.6h0M155.4 259.9h0M148.1 270.5h0M148.0 272.3h0M148.5 269.2h0M150.5 267.8h0M153.2 266.9h0M165.4 247.1h0M155.8 265.3h0M154.3 258.0h0M161.7 265.0h0M158.1 259.3h0M146.8 275.2h0M153.0 269.8h0M161.9 261.2h0M151.0 270.0h0M158.7 257.4h0M146.0 273.1h0M147.3 269.8h0M153.3 266.4h0M153.5 263.4h0M164.4 248.0h0M156.6 265.8h0M155.2 257.1h0M157.2 260.6h0M147.9 279.2h0" stroke="#c418c4" stroke-width="0.72" stroke-linecap="round" opacity="0.55" fill="none"/>
<path d="M155.0 265.0h0M156.6 261.6h0M152.3 268.8h0M149.1 270.4h0M158.6 257.7h0M157.0 265.0h0M160.6 252.4h0M151.1 265.7h0M146.6 274.6h0M150.7 266.1h0M155.4 264.4h0M149.1 270.8h0M157.0 261.9h0M156.2 254.5h0M156.5 262.9h0M157.5 261.4h0M153.6 265.7h0M154.8 272.6h0M151.0 264.2h0M154.9 265.8h0M146.5 278.4h0M151.0 269.2h0M156.4 264.9h0M153.2 265.8h0M148.6 278.1h0M159.9 254.2h0M164.1 257.3h0M153.8 261.6h0M163.2 253.7h0M149.5 275.6h0M158.1 259.2h0M147.9 275.7h0M151.3 270.2h0M158.2 257.5h0M160.7 252.3h0M160.7 254.1h0M163.1 250.7h0M153.7 268.3h0M146.2 277.7h0M154.7 269.2h0M156.0 261.3h0M150.2 269.2h0M162.1 256.9h0M157.1 256.4h0M162.7 254.0h0M153.8 265.7h0M155.8 265.2h0M153.0 267.2h0M154.7 263.4h0M155.5 263.5h0M148.5 271.6h0M153.7 265.2h0M150.7 275.1h0M162.2 252.1h0M162.5 254.2h0M153.0 266.1h0M156.9 263.3h0M161.3 255.7h0M157.7 259.4h0M150.9 271.2h0M158.3 256.9h0M148.8 272.5h0M156.7 262.2h0M157.3 263.7h0M151.0 271.2h0M144.9 276.6h0M152.3 259.1h0M157.5 262.4h0M161.6 253.1h0M153.3 267.7h0M154.0 263.6h0M157.6 259.7h0M153.0 261.6h0M151.7 269.3h0M158.7 258.2h0M158.1 259.9h0M151.6 266.3h0M151.1 272.0h0M153.6 266.1h0M147.4 268.2h0M148.7 270.6h0M152.5 265.9h0M162.2 251.6h0M155.0 263.9h0M146.4 266.5h0M155.1 267.7h0M154.6 261.5h0M151.1 269.3h0M153.3 269.2h0M151.3 276.6h0M156.9 263.3h0M155.8 261.6h0M152.3 264.6h0M145.9 276.9h0M158.0 258.7h0M158.7 260.5h0M154.4 261.2h0M157.0 259.3h0M156.0 259.0h0M151.8 273.8h0M152.6 270.5h0M153.0 267.1h0M152.7 271.6h0M146.1 277.0h0M154.9 259.4h0M147.9 273.2h0M157.5 262.3h0M155.4 257.4h0M154.0 265.2h0M153.8 261.3h0M154.4 261.7h0M162.3 253.7h0M154.4 267.9h0M148.9 278.9h0M151.8 266.8h0M152.5 267.8h0M149.2 260.7h0M154.1 267.2h0M147.0 276.5h0M147.2 276.1h0M147.7 270.3h0M160.2 263.5h0M146.5 270.3h0M160.9 255.8h0M155.0 264.5h0M152.1 268.7h0M153.2 269.3h0M158.1 253.3h0M152.6 266.0h0M158.1 257.0h0M153.7 264.0h0M152.1 264.5h0M149.3 273.9h0M154.6 261.7h0M161.0 256.3h0M159.1 264.6h0M147.0 277.1h0M157.0 264.6h0M152.8 268.7h0M158.4 257.0h0M150.6 275.9h0M150.9 262.4h0M156.2 264.3h0M147.6 274.7h0M147.9 269.0h0M151.2 268.5h0M148.6 278.2h0M159.1 257.9h0M156.9 261.1h0M163.2 253.9h0M151.7 269.5h0M153.2 267.8h0M156.7 266.2h0M145.8 275.0h0M160.2 256.8h0M153.5 267.5h0M154.1 264.3h0M160.8 252.7h0M153.9 268.8h0M155.1 263.7h0M155.2 263.1h0M160.2 255.1h0M152.0 267.0h0M153.4 268.2h0M152.1 264.7h0M153.6 265.1h0M153.1 264.7h0M159.4 256.8h0M152.3 271.1h0M152.7 268.8h0M157.7 263.3h0M155.9 257.9h0M159.8 255.5h0M156.5 254.3h0M152.7 270.1h0M159.2 257.9h0M150.2 265.3h0M150.1 275.0h0M151.8 265.4h0M157.8 260.8h0M152.8 272.1h0M154.2 265.1h0M155.3 263.0h0M159.6 253.9h0M152.9 260.0h0M147.0 277.7h0M144.8 275.9h0M157.8 260.0h0M150.6 273.2h0M159.6 265.1h0M161.5 257.0h0M158.2 261.0h0M152.8 266.2h0M157.9 263.9h0M152.3 265.7h0M152.2 263.1h0M154.7 261.1h0M151.0 265.2h0M149.6 276.2h0M160.3 252.7h0M152.4 266.5h0M157.2 262.8h0M148.7 272.0h0M156.3 261.4h0M155.2 268.0h0M155.9 260.3h0M155.9 267.1h0M149.8 264.8h0M153.9 270.1h0M157.0 262.5h0M158.6 260.7h0M156.7 261.2h0M157.6 256.1h0M149.8 264.9h0M149.4 269.2h0M152.3 268.2h0M157.4 257.4h0M154.9 266.1h0M152.1 267.1h0M154.4 259.3h0M155.9 261.7h0M150.8 272.1h0M154.7 262.4h0M156.3 263.3h0M158.3 257.5h0M154.4 261.6h0M150.2 271.3h0M152.3 270.5h0M148.7 275.5h0M155.3 264.4h0M154.9 261.0h0M155.6 265.7h0M151.1 269.7h0M151.6 268.3h0M158.9 263.8h0M156.8 263.9h0M149.8 272.7h0M144.7 271.9h0M145.8 269.8h0M158.6 259.5h0M160.4 259.7h0M157.8 255.9h0M157.8 260.2h0M152.6 268.9h0M146.2 273.5h0M148.7 267.7h0M151.8 268.1h0M148.2 270.8h0M157.7 255.3h0M153.8 273.6h0M145.9 277.6h0M150.5 275.0h0M154.4 266.9h0M157.0 259.4h0M159.8 255.9h0M152.6 270.0h0M157.5 257.5h0M149.1 269.8h0M156.9 262.0h0M147.4 272.7h0M152.5 266.8h0M153.8 263.3h0M151.3 269.3h0M155.3 268.0h0M152.1 262.5h0M155.5 267.7h0M155.8 262.0h0M145.0 271.9h0M154.5 264.9h0M155.4 266.9h0M150.9 274.4h0M152.0 270.0h0M157.6 258.2h0M149.4 276.6h0M154.4 267.0h0M152.3 273.2h0M159.7 257.4h0M157.6 255.9h0M159.8 255.6h0M154.5 260.9h0M156.5 261.9h0M146.5 275.0h0M146.9 271.4h0M151.7 267.8h0M162.8 255.8h0M155.2 262.1h0M151.0 272.7h0M152.1 260.9h0M158.8 258.2h0M155.6 265.0h0M150.8 276.0h0M157.9 264.8h0M154.4 259.0h0M163.4 253.4h0M153.5 264.7h0M156.3 260.0h0M155.5 264.2h0M151.8 264.4h0M157.3 256.8h0M153.3 267.0h0M156.4 260.1h0M152.5 271.0h0M151.2 269.6h0M150.4 269.9h0M154.5 263.6h0M153.9 270.5h0M157.9 267.5h0M154.1 266.8h0M152.4 264.2h0M148.2 269.4h0M150.8 271.1h0M153.1 257.4h0M157.3 261.1h0M153.8 268.5h0M153.2 265.7h0M157.9 262.7h0M153.3 264.8h0M157.8 258.7h0M155.1 266.5h0M154.7 269.0h0M151.7 271.4h0M150.0 271.3h0M156.0 266.7h0M152.9 270.8h0M152.1 267.4h0M153.0 264.3h0M151.7 267.4h0M150.9 270.6h0M149.9 276.6h0M160.2 253.8h0M156.6 266.1h0M160.2 257.7h0M148.0 272.4h0M162.4 255.1h0M155.5 266.9h0M157.6 261.4h0M153.1 264.6h0M157.8 260.8h0M150.6 265.0h0M153.1 267.8h0M150.6 271.0h0M158.8 255.3h0M149.2 276.4h0M153.0 271.0h0M154.7 264.4h0M155.8 262.7h0M152.2 269.7h0M155.6 263.6h0M154.1 267.2h0M150.5 269.6h0M158.5 262.2h0M153.7 262.1h0M151.6 268.9h0M144.3 276.8h0M149.9 266.8h0M155.8 263.5h0M156.2 268.1h0M154.8 265.5h0M147.8 273.0h0M148.5 275.3h0M148.0 274.3h0M151.4 267.9h0M157.9 255.8h0M155.0 261.3h0M155.9 265.5h0M155.0 262.5h0M152.7 261.3h0M149.1 272.6h0M153.4 261.1h0M152.2 264.0h0M162.6 257.8h0M149.6 268.9h0M155.1 264.0h0M151.5 267.3h0M154.4 264.3h0M151.5 265.3h0M155.3 272.0h0M153.2 267.4h0M148.7 271.1h0M156.4 261.5h0M163.7 249.8h0M158.4 257.7h0M155.2 259.0h0M149.5 273.6h0M155.7 257.9h0M160.1 256.4h0M155.3 262.2h0M155.4 266.1h0M150.0 270.2h0M150.4 265.4h0M146.2 276.8h0M156.2 262.5h0M156.3 265.1h0M157.8 260.8h0M150.9 267.5h0M164.6 249.2h0M158.3 261.9h0M157.0 266.4h0M154.8 263.1h0M153.3 267.8h0M151.3 266.8h0M157.2 263.6h0M155.8 261.2h0M155.7 268.3h0M162.4 256.5h0M146.3 276.2h0M155.3 267.1h0M161.5 250.3h0M155.5 271.2h0M147.1 274.9h0M154.0 264.3h0M153.6 272.6h0M155.0 267.9h0M156.2 262.4h0M157.1 262.8h0M154.1 266.3h0M151.9 265.8h0M158.0 259.5h0M156.4 258.5h0M149.6 268.6h0M149.7 271.6h0M159.4 259.1h0M149.1 272.6h0M151.8 270.6h0M152.1 261.5h0M152.7 272.7h0M156.8 260.2h0M148.4 270.7h0M148.8 269.2h0M150.0 268.5h0M159.6 260.3h0M154.3 260.3h0M150.4 274.7h0M155.2 262.9h0M151.3 268.3h0M147.8 274.2h0M155.4 263.7h0M150.2 272.1h0M152.7 268.7h0M162.2 259.3h0M156.6 263.7h0M151.5 270.5h0M156.8 258.1h0M152.7 260.1h0M155.9 261.8h0M155.0 258.3h0M153.4 266.9h0M157.8 266.2h0M149.1 273.0h0M150.8 273.2h0M149.4 274.8h0M150.9 263.1h0M156.2 261.6h0M154.7 263.7h0M153.8 266.0h0M153.1 268.1h0M147.7 272.8h0M159.6 258.0h0M154.0 261.8h0M161.1 251.7h0M162.6 252.4h0M158.2 259.6h0M149.6 269.0h0M155.0 264.3h0M156.3 257.4h0M152.0 259.0h0M161.4 255.2h0M148.6 267.5h0M154.8 262.4h0M156.4 260.6h0M162.4 250.9h0M155.7 260.9h0M156.2 264.9h0M161.7 255.5h0M153.3 263.8h0M148.2 271.1h0M144.8 277.5h0M145.9 275.8h0M155.6 268.6h0M150.5 271.2h0M157.8 263.6h0M149.1 273.0h0M157.2 262.8h0M153.9 263.8h0M151.6 268.6h0M153.2 266.2h0M154.1 261.0h0M155.6 264.5h0M148.5 276.8h0M155.9 261.8h0M155.0 263.8h0M148.7 270.1h0M156.9 254.4h0M160.6 258.2h0M153.0 270.2h0M157.8 256.2h0M151.6 267.7h0M146.9 272.9h0M156.8 262.3h0M153.2 267.9h0M151.8 265.7h0M155.3 267.9h0M147.6 275.6h0M155.3 268.7h0M156.3 265.8h0M148.5 275.5h0M160.0 256.0h0M157.9 258.7h0M160.7 260.4h0M155.4 263.9h0M156.4 259.0h0M150.9 270.4h0M154.0 263.9h0M150.2 270.6h0M157.8 256.9h0M151.2 268.6h0M158.8 262.9h0M151.3 267.5h0M152.2 267.6h0M149.3 273.0h0M161.7 253.2h0M152.3 265.2h0M150.8 267.8h0M151.9 267.5h0M159.2 257.9h0M147.6 269.6h0M164.6 248.3h0M154.5 261.3h0M162.4 252.9h0M154.7 266.9h0M158.8 252.7h0M155.1 263.3h0M148.7 266.8h0M157.2 260.6h0M154.0 261.8h0M148.0 269.2h0M157.8 263.4h0M159.7 262.8h0M156.1 269.1h0M154.2 268.6h0M150.1 266.1h0M154.9 264.3h0M155.0 265.8h0M153.2 267.3h0M154.9 266.7h0M151.6 267.9h0M157.7 259.6h0M161.8 257.5h0M157.9 257.5h0M155.8 262.5h0M153.6 266.9h0M155.8 264.3h0M146.6 279.0h0M152.2 268.9h0M148.7 277.2h0M153.9 263.9h0M152.7 259.7h0M152.5 266.1h0M160.2 254.1h0M158.0 256.8h0M153.0 267.3h0M157.7 262.2h0M154.2 259.3h0M157.8 260.2h0M154.8 268.8h0M154.0 261.1h0M152.3 265.9h0M151.5 269.4h0M163.1 249.9h0M155.8 270.8h0M152.8 262.1h0M157.2 256.7h0M148.7 274.1h0M156.9 264.2h0M151.3 268.7h0M152.1 268.4h0M155.0 265.8h0M150.3 271.7h0M147.9 271.8h0M158.9 261.4h0M149.5 271.0h0M154.0 261.6h0M161.6 251.9h0M154.4 261.9h0M157.2 261.7h0M151.0 268.8h0M159.1 255.4h0M154.1 270.9h0M159.8 260.1h0M159.2 259.4h0M148.1 277.6h0M158.3 259.2h0M149.7 273.6h0M148.9 269.8h0M155.2 261.9h0M150.0 270.9h0M147.3 274.6h0M149.6 275.8h0M157.1 268.8h0M160.6 256.5h0M156.2 262.6h0M154.5 269.6h0M160.0 253.6h0M151.5 265.8h0M150.5 269.8h0M155.5 261.1h0M160.0 260.3h0M152.0 260.6h0M155.9 257.5h0M152.2 262.0h0M158.1 262.9h0M157.1 261.0h0M153.2 269.1h0M149.7 263.8h0M153.1 264.4h0M157.4 259.8h0M155.3 262.2h0M158.0 259.8h0M151.3 269.4h0M161.2 251.6h0M149.8 265.2h0M157.2 258.9h0M156.8 258.0h0M154.6 259.7h0M157.2 267.5h0M157.9 256.6h0M149.7 268.5h0M153.0 268.4h0M153.7 265.4h0M152.7 263.8h0M158.6 258.9h0M149.2 273.3h0M152.9 268.8h0M152.1 263.8h0M147.8 275.0h0M154.6 259.1h0M162.2 252.4h0M147.8 267.1h0M150.3 271.6h0M154.7 264.3h0M158.8 258.9h0M155.7 268.3h0M162.2 262.3h0M150.3 270.6h0M162.7 254.9h0M154.7 258.5h0M154.1 268.8h0M158.9 262.9h0M160.9 260.1h0M146.1 275.8h0M148.4 272.6h0M155.9 258.8h0M153.5 268.4h0M161.1 253.9h0M159.8 257.0h0M163.9 252.1h0M149.6 270.4h0M154.2 265.8h0M155.1 266.8h0M148.7 268.1h0M159.2 262.2h0M157.0 266.4h0M146.4 277.6h0M152.4 267.2h0M157.6 262.0h0M155.7 255.7h0M152.4 264.1h0M148.7 274.7h0M157.1 261.7h0M154.4 268.0h0M150.9 271.1h0M156.4 258.9h0M149.9 274.8h0M155.4 263.6h0M151.0 267.3h0M156.3 264.7h0M155.5 259.8h0M146.6 276.6h0M153.8 256.8h0M150.8 272.9h0M160.9 257.2h0M151.0 273.7h0M158.0 260.3h0M158.5 256.0h0M159.0 258.1h0M152.4 268.7h0M151.3 271.5h0M150.8 272.9h0M159.0 262.5h0M151.9 266.2h0M152.0 263.4h0M151.2 268.5h0M161.1 254.4h0M154.9 268.2h0M148.0 273.7h0" stroke="#b608b6" stroke-width="0.84" stroke-linecap="round" opacity="0.7" fill="none"/>
<path d="M172.6 230.0h0M180.2 231.3h0M173.5 235.6h0M173.4 229.8h0M177.2 238.2h0M171.9 236.0h0M171.6 240.0h0M183.4 234.4h0M169.8 238.8h0M174.5 234.1h0M173.4 237.8h0M178.0 232.4h0M174.8 239.6h0M176.0 241.8h0M170.7 243.2h0M180.1 234.8h0M169.4 232.8h0M176.7 238.0h0M176.1 234.5h0M168.3 236.7h0M174.2 238.3h0M171.1 238.0h0M173.8 234.8h0M177.5 236.8h0M176.2 239.9h0M175.4 241.2h0M176.2 235.4h0M175.7 234.0h0M177.0 244.1h0M175.1 235.8h0M175.5 236.6h0M170.3 236.0h0M177.9 242.2h0M172.0 233.3h0M177.0 231.0h0M170.9 239.7h0M176.7 239.8h0M174.5 233.5h0M172.0 236.6h0M171.5 235.1h0M175.1 233.2h0M179.8 234.5h0M177.1 236.1h0M168.2 246.5h0M172.1 234.7h0M174.6 232.3h0M168.2 235.2h0M173.7 233.5h0M177.2 232.3h0M176.7 237.4h0M171.7 236.6h0M173.6 236.4h0M173.6 231.9h0M176.9 241.5h0M174.3 232.9h0M169.9 234.5h0M174.7 230.0h0M171.5 244.0h0M176.7 235.2h0M175.3 235.8h0M173.9 237.0h0M181.0 239.5h0M174.8 236.3h0M171.8 243.8h0M177.0 235.1h0M172.3 241.9h0M175.6 230.6h0M175.8 237.7h0M172.7 236.3h0M168.7 237.2h0M176.1 236.3h0M172.9 233.6h0M171.9 234.0h0M174.2 242.8h0M168.9 239.7h0M173.0 237.3h0M179.0 231.8h0M177.3 229.1h0M168.8 241.1h0M170.8 234.2h0M177.8 235.8h0M170.3 232.8h0M180.5 234.0h0M182.2 234.9h0M173.0 239.2h0M178.1 234.3h0M175.6 230.9h0M173.0 238.7h0M173.8 239.1h0M176.1 238.3h0M176.1 239.8h0M176.9 240.3h0M175.7 232.0h0M175.1 237.5h0M172.0 233.9h0M170.0 232.2h0M169.6 239.5h0M172.2 235.0h0M174.6 245.9h0M172.7 238.2h0M175.7 235.6h0M171.4 233.2h0M177.4 236.2h0M179.3 235.1h0M176.0 242.7h0M169.5 240.6h0M181.1 237.8h0M175.4 232.0h0M177.5 237.1h0M171.9 240.5h0M177.0 239.6h0M175.9 234.7h0M175.1 231.8h0M175.8 240.5h0M173.0 243.3h0M169.8 235.0h0M172.2 234.9h0M178.1 232.2h0M178.2 234.1h0M177.5 237.4h0M176.7 234.7h0M181.2 234.4h0M171.1 242.1h0M169.2 240.6h0M172.5 233.0h0M172.5 236.7h0M180.0 234.4h0M172.6 235.4h0M173.2 238.3h0M169.1 241.2h0M175.3 235.9h0M175.5 236.1h0M173.2 239.0h0M173.9 240.3h0M173.5 244.1h0M173.5 235.2h0M177.4 236.8h0M179.8 237.9h0M176.1 232.2h0M170.9 236.1h0M173.7 240.5h0M175.5 236.3h0M177.5 230.8h0M174.2 234.8h0M171.8 239.9h0M176.3 237.4h0M172.4 233.0h0M176.4 237.5h0M172.1 241.3h0M170.8 241.0h0M176.8 232.6h0M174.1 227.7h0M175.0 233.0h0M173.1 242.3h0M173.9 235.4h0M174.9 231.8h0M175.3 233.8h0M174.9 238.7h0M179.6 233.9h0M171.1 230.6h0M172.1 241.0h0M170.5 230.4h0M171.3 234.8h0M178.2 234.5h0M177.9 238.6h0M174.9 233.6h0M182.0 233.1h0M175.0 236.9h0M177.1 235.9h0M173.3 237.7h0M175.5 232.0h0M176.7 231.9h0M180.5 231.6h0M175.0 241.1h0M172.5 236.7h0M178.4 234.2h0M178.1 235.5h0M177.4 230.9h0M176.5 234.6h0M173.8 230.2h0M171.0 235.5h0M174.8 238.7h0M172.0 237.0h0M177.3 238.2h0M177.3 229.0h0M174.2 239.2h0M174.7 238.9h0M180.6 235.6h0M173.3 238.9h0M176.5 240.3h0M177.0 240.9h0M171.9 228.4h0M182.1 234.5h0M174.5 235.9h0M176.3 228.9h0M171.9 235.9h0M178.9 235.2h0M175.9 239.9h0M179.4 235.9h0M172.3 236.0h0M176.1 235.9h0M171.6 236.5h0M170.9 232.6h0M172.8 240.4h0M174.3 241.7h0M172.1 242.0h0M178.8 236.0h0M174.3 239.6h0M173.7 231.3h0M178.1 236.0h0M175.6 232.3h0M173.0 234.4h0M176.3 234.8h0M180.5 240.4h0M173.0 233.3h0M175.9 236.6h0M170.8 239.3h0M175.2 233.6h0M177.3 237.5h0M170.1 235.9h0M172.8 240.2h0M173.2 236.7h0M168.6 237.9h0M175.4 237.6h0M176.6 235.9h0M174.7 224.7h0M174.3 238.7h0M173.6 245.6h0M183.2 239.5h0M174.1 236.6h0M173.9 236.1h0M176.8 239.7h0M175.8 235.4h0M168.9 235.6h0M167.7 236.0h0M174.8 238.9h0M174.4 237.4h0M177.9 231.1h0M174.8 232.4h0M170.2 236.3h0M179.4 232.0h0M175.7 237.0h0M178.6 236.7h0M174.8 234.4h0M166.5 237.9h0M171.1 244.6h0M173.9 231.4h0M175.9 237.8h0M169.9 228.4h0M173.0 236.4h0M174.4 233.0h0M165.9 240.5h0M171.4 242.0h0M169.4 239.0h0M172.6 227.8h0M177.5 238.6h0M168.8 234.5h0M174.4 236.3h0M173.8 230.8h0M171.5 241.5h0M173.7 240.6h0M175.0 234.0h0M171.0 235.4h0M173.7 241.7h0M178.3 232.0h0M174.5 226.7h0M171.8 244.0h0M172.4 234.7h0M176.0 244.4h0M173.6 243.7h0M179.1 234.5h0M177.0 237.4h0M176.2 238.0h0M175.9 231.5h0M173.6 243.1h0M174.8 248.5h0M172.1 238.1h0M178.1 233.6h0M173.4 234.1h0M175.7 233.9h0M171.8 237.0h0M172.9 234.0h0M170.9 230.0h0M173.7 240.2h0M177.6 244.3h0M171.0 240.9h0M174.4 238.1h0M174.8 231.0h0M177.4 239.4h0M176.6 237.2h0M173.0 235.7h0M170.9 237.7h0M174.0 239.4h0M176.6 237.3h0M175.7 236.4h0M168.8 238.1h0M180.6 234.3h0M176.5 238.2h0M170.8 238.8h0M177.3 235.8h0M178.2 235.3h0M174.1 235.9h0M172.0 235.3h0M169.3 236.2h0M175.2 241.4h0M167.4 236.3h0M175.2 241.2h0M174.1 236.6h0M178.3 235.3h0M174.7 237.7h0M178.4 229.7h0M171.4 237.6h0M177.1 239.1h0M173.8 244.4h0M175.7 238.5h0M170.2 234.3h0M168.2 236.4h0M172.1 236.2h0M170.3 231.4h0M172.0 234.5h0M169.0 236.7h0M175.9 229.5h0M180.9 238.2h0M172.1 242.6h0M172.5 239.5h0M175.3 238.4h0M175.5 233.8h0M174.9 231.8h0M168.1 239.5h0M174.4 233.0h0M177.0 235.3h0M177.0 240.9h0M179.9 235.2h0M172.0 232.8h0M175.4 234.4h0M175.2 242.4h0M175.3 237.7h0M180.0 231.6h0M176.0 238.6h0M176.1 232.8h0M177.3 233.0h0M177.8 239.3h0M172.8 236.8h0M168.9 236.1h0M172.3 231.4h0M173.2 243.3h0M171.0 244.1h0M176.2 234.0h0M174.0 234.8h0M174.1 240.1h0M175.2 233.5h0M168.8 230.7h0M165.9 237.3h0M174.4 238.1h0M171.4 240.5h0M172.0 236.0h0M176.8 238.1h0M177.4 237.3h0M173.5 234.3h0M177.1 237.0h0M171.9 237.8h0M178.2 232.7h0M173.7 233.6h0M175.3 237.4h0M177.3 235.7h0M175.6 241.2h0M170.5 239.2h0M172.3 237.7h0M179.0 233.7h0M175.0 228.1h0M178.3 237.0h0M174.6 243.4h0M179.4 230.4h0M173.3 239.0h0M172.7 235.2h0M176.4 241.2h0M176.4 240.5h0M170.9 239.6h0M164.7 242.4h0M174.8 229.0h0M176.3 238.6h0M172.7 241.6h0M178.0 233.0h0M175.8 230.9h0M172.7 241.9h0M172.1 233.5h0M174.0 237.5h0M175.2 227.8h0M172.9 239.1h0M173.8 238.8h0M170.3 237.2h0M168.2 237.2h0M180.3 231.5h0M174.9 237.0h0M176.1 234.2h0M170.9 238.8h0M174.6 233.2h0M173.8 234.5h0M175.0 233.1h0M176.3 236.0h0M174.6 244.6h0M174.6 231.1h0M173.6 242.7h0M170.6 238.7h0M175.9 230.6h0M169.5 239.1h0M175.8 235.3h0M171.7 233.9h0M173.5 238.9h0M174.1 237.9h0M173.9 237.6h0M176.4 236.3h0M175.8 231.7h0M176.0 245.1h0M173.3 242.2h0M177.6 232.6h0M176.0 231.6h0M178.5 228.8h0M174.5 243.0h0M177.1 238.6h0M176.0 239.7h0M172.1 240.8h0M177.5 237.8h0M174.4 239.7h0M170.7 230.7h0M176.0 230.7h0M180.1 237.4h0M176.4 237.3h0M180.0 233.1h0M174.2 231.4h0M170.8 233.7h0M172.1 240.6h0M172.5 237.0h0M178.3 240.7h0M174.3 241.7h0M173.8 241.3h0M168.7 238.0h0M175.3 244.9h0M175.1 231.6h0M175.2 237.4h0M174.4 242.7h0M176.7 225.1h0M170.8 241.9h0M173.5 236.1h0M178.2 230.6h0M174.4 238.7h0M171.7 237.3h0M175.7 230.7h0M177.7 239.8h0M176.9 238.4h0M173.2 246.7h0M172.0 240.2h0M180.4 234.7h0M175.4 246.0h0M172.7 237.1h0M175.3 232.5h0M173.1 238.3h0M172.7 236.8h0M180.3 233.9h0M171.5 239.1h0M172.1 236.2h0M174.9 236.2h0M172.3 235.8h0M171.2 234.1h0M173.5 237.7h0M176.8 237.0h0M171.4 236.2h0M174.5 234.8h0M179.9 235.1h0M176.1 230.8h0M173.9 240.2h0M172.1 236.4h0M175.8 243.1h0M176.1 241.0h0M173.1 231.7h0M174.6 234.9h0M170.9 241.2h0M177.2 236.8h0M172.9 238.9h0M174.5 232.2h0M169.3 237.5h0M172.9 234.2h0M171.9 239.6h0M181.6 241.8h0M175.8 239.2h0M175.2 241.9h0M173.7 234.8h0M174.4 227.3h0M165.1 237.8h0M169.6 244.3h0M176.5 237.4h0M172.1 236.0h0M177.7 241.5h0M178.7 239.7h0M173.2 236.5h0M175.3 238.3h0M174.3 233.2h0M171.4 233.4h0M168.0 241.0h0M171.9 237.6h0M174.2 233.5h0M173.0 237.7h0M169.1 240.7h0M178.3 229.9h0M169.2 240.6h0M168.7 233.1h0M170.3 244.5h0M175.8 239.3h0M169.5 239.2h0M172.2 234.0h0M169.3 234.2h0M179.0 239.5h0M172.5 241.6h0M174.6 237.0h0M176.2 237.7h0M170.9 238.1h0M175.2 235.9h0M174.3 243.8h0M176.6 238.7h0M170.9 235.3h0" stroke="#c418c4" stroke-width="0.72" stroke-linecap="round" opacity="0.55" fill="none"/>
<path d="M175.4 237.2h0M175.0 233.6h0M177.2 235.3h0M177.1 236.1h0M173.5 234.1h0M172.3 238.4h0M177.7 232.8h0M173.9 238.0h0M174.7 231.0h0M174.0 235.8h0M172.1 233.1h0M175.1 235.4h0M176.1 233.7h0M173.3 234.7h0M174.0 235.1h0M176.4 232.2h0M174.9 236.0h0M174.0 235.6h0M175.0 234.5h0M175.4 238.5h0M177.0 234.9h0M175.8 237.4h0M176.8 233.0h0M174.8 235.1h0M171.8 238.9h0M176.3 236.7h0M174.1 234.5h0M174.6 235.5h0M174.0 237.6h0M173.4 233.5h0M174.2 236.9h0M172.4 237.8h0M178.4 236.1h0M173.8 235.5h0M176.0 232.5h0M172.4 239.9h0M172.7 240.1h0M179.0 233.8h0M178.6 229.2h0M173.3 236.4h0M172.6 236.3h0M174.5 238.2h0M175.0 235.8h0M172.1 235.5h0M175.1 234.7h0M175.5 234.3h0M175.4 238.7h0M174.8 234.1h0M175.9 234.6h0M174.6 237.1h0M176.3 238.4h0M175.9 237.5h0M176.0 232.0h0M177.5 235.2h0M176.7 241.2h0M173.1 234.0h0M178.2 236.7h0M176.9 236.5h0M174.4 233.3h0M177.7 236.1h0M174.2 237.7h0M173.4 236.9h0M171.1 235.3h0M171.4 236.5h0M173.0 237.8h0M173.6 233.1h0M174.6 233.8h0M171.4 236.8h0M174.6 235.6h0M174.2 233.9h0M174.0 240.8h0M175.6 233.0h0M175.5 235.9h0M179.0 236.7h0M175.4 236.4h0M176.2 234.2h0M174.1 239.9h0M172.8 236.2h0M174.2 233.5h0M173.8 234.7h0M177.2 235.3h0M172.8 237.4h0M173.9 233.4h0M176.0 233.8h0M173.1 237.6h0M177.0 233.4h0M175.1 235.7h0M174.5 233.2h0M175.6 235.4h0M175.0 232.8h0M174.9 236.5h0M174.1 236.3h0M174.3 234.4h0M174.9 236.7h0M174.1 235.5h0M172.6 235.5h0M173.0 237.2h0M176.3 239.1h0M175.8 231.1h0M174.4 236.0h0M173.5 236.4h0M176.2 234.2h0M174.1 238.9h0M175.1 238.1h0M174.6 237.8h0M173.8 237.4h0M176.0 235.5h0M172.8 238.7h0M171.3 236.8h0M174.5 235.3h0M173.1 236.1h0M174.5 231.5h0M172.2 241.5h0M173.1 234.7h0M170.8 235.0h0M174.6 236.5h0M172.2 237.4h0M173.0 238.0h0M175.6 233.7h0M173.4 237.0h0M174.1 233.9h0M175.2 238.3h0M176.7 236.6h0M174.0 236.3h0M175.2 235.1h0M173.1 235.4h0M172.9 237.0h0M176.3 237.7h0M174.7 238.2h0M172.4 234.2h0M175.7 233.8h0M175.2 235.2h0M176.0 233.9h0M173.2 237.0h0M172.8 237.4h0M174.4 237.9h0M175.0 233.7h0M177.2 234.3h0M172.5 233.6h0M174.5 242.2h0" stroke="#b608b6" stroke-width="0.8" stroke-linecap="round" opacity="0.65" fill="none"/>
<path d="M169.3 235.1h0M173.0 245.1h0M168.8 238.7h0M168.1 238.7h0M175.4 242.1h0M171.9 237.4h0M181.8 237.5h0M173.5 241.9h0M173.8 250.4h0M169.8 250.6h0M177.4 234.2h0M164.6 261.2h0M168.0 256.0h0M179.1 252.0h0M172.1 230.8h0M173.2 242.0h0M180.4 234.6h0M170.1 234.1h0M162.1 259.8h0M174.2 248.5h0M175.8 250.2h0M175.3 234.6h0M172.4 233.5h0M175.8 232.9h0M169.6 243.1h0M168.5 253.8h0M173.0 235.9h0M179.0 244.7h0M173.8 219.0h0M175.7 231.4h0M170.5 239.2h0M174.2 242.0h0M172.2 236.5h0M174.9 244.2h0M174.7 229.2h0M177.2 237.1h0M170.8 236.5h0M173.9 239.8h0M171.7 247.6h0M170.9 239.3h0M177.7 228.9h0M176.3 246.9h0M169.3 240.9h0M175.3 249.1h0M172.6 248.3h0M172.3 236.2h0M178.7 235.9h0M173.4 240.4h0M175.0 235.4h0M178.8 231.7h0M174.5 239.5h0M175.3 243.3h0M172.1 244.9h0M180.0 250.9h0M174.3 237.9h0M168.3 235.1h0M170.2 228.4h0M173.3 235.2h0M177.3 235.4h0M177.7 239.1h0M173.9 242.3h0M170.5 241.4h0M172.9 247.7h0M173.6 227.3h0M170.1 242.6h0M166.9 235.3h0M171.1 238.1h0M172.6 247.1h0M175.0 238.9h0M170.6 230.2h0M177.6 232.8h0M183.1 224.6h0M167.4 234.5h0M179.7 239.7h0M174.8 234.2h0M171.5 248.4h0M167.9 249.2h0M174.3 243.1h0M172.1 244.2h0M174.5 240.4h0M176.4 236.2h0M173.6 242.0h0M167.9 243.1h0M172.4 243.9h0M172.7 254.6h0M168.4 235.9h0M168.4 246.2h0M162.9 254.0h0M166.9 235.1h0M182.8 226.2h0M178.3 229.7h0M180.6 233.2h0M177.6 248.2h0M170.8 245.0h0M167.5 257.8h0M178.7 254.0h0M177.5 238.3h0M176.1 244.2h0M173.1 235.8h0M173.0 235.8h0M163.6 246.9h0M172.7 251.8h0M175.4 225.9h0M177.3 245.5h0M174.5 241.4h0M164.5 237.4h0M172.2 249.7h0M172.7 239.0h0M171.5 249.4h0M169.3 241.0h0M174.0 241.9h0M181.6 226.1h0M174.8 247.1h0M161.8 248.5h0M179.2 247.4h0M172.3 234.1h0M166.5 235.1h0M169.5 240.4h0M169.7 248.3h0M173.2 245.9h0M172.6 249.2h0M177.4 237.7h0M177.3 236.2h0M180.2 233.9h0M179.9 233.7h0M170.1 248.9h0M174.0 229.1h0M178.9 235.9h0M173.8 230.0h0M173.5 238.1h0M167.6 233.5h0M177.8 241.7h0M177.3 241.1h0M176.8 230.1h0M170.7 242.3h0M169.6 248.0h0M176.8 242.3h0M169.6 244.1h0M172.6 240.2h0M176.0 231.1h0M176.5 230.1h0M168.0 258.1h0M171.5 247.8h0M175.2 247.4h0M171.7 241.6h0M176.2 225.0h0M171.4 242.9h0M175.9 235.1h0M178.0 240.9h0M175.2 244.9h0M176.3 234.5h0M172.1 243.3h0M165.5 229.4h0M172.9 228.4h0M177.3 233.9h0M176.3 237.5h0M178.7 245.0h0M176.8 240.4h0M172.0 241.1h0M172.0 231.4h0M170.4 239.4h0M174.2 252.2h0M166.7 238.0h0M182.2 242.8h0M174.7 232.3h0M173.2 237.1h0M173.5 238.2h0M172.2 238.1h0M170.7 232.7h0M164.0 250.3h0M172.7 244.9h0M177.6 236.8h0M164.8 249.2h0M181.4 237.4h0M174.2 235.4h0M181.7 234.4h0M176.2 233.2h0M170.9 241.5h0M168.2 241.8h0M178.1 238.5h0M175.9 242.8h0M174.4 235.1h0M179.1 241.8h0M169.6 244.6h0M170.0 242.1h0M176.9 236.6h0M175.4 242.6h0M170.6 252.7h0M181.7 224.2h0M175.0 248.0h0M174.6 245.1h0M169.6 233.7h0M171.9 225.6h0M175.3 243.8h0M175.6 235.8h0M176.0 243.0h0M173.1 237.0h0M181.6 233.6h0M171.0 243.7h0M167.1 246.1h0M177.6 239.6h0M170.0 249.8h0M172.0 237.0h0M177.5 234.4h0M177.9 241.5h0M178.4 238.5h0M173.8 235.3h0M173.9 228.6h0M173.1 236.9h0M167.2 244.4h0M180.9 233.0h0M168.4 230.2h0M175.3 235.4h0M175.8 235.9h0M176.5 236.1h0M176.3 232.4h0M164.4 241.4h0M166.3 235.6h0M172.5 243.9h0M170.6 240.0h0M171.7 226.1h0M174.8 231.1h0M173.7 240.8h0M168.0 234.8h0M174.0 236.2h0M173.7 240.1h0M177.5 241.8h0M169.1 245.3h0M173.9 236.1h0M164.7 230.5h0M173.5 241.7h0M180.8 228.4h0M175.9 247.5h0M173.2 246.1h0M167.7 241.1h0M177.3 234.7h0M169.9 241.2h0M171.6 245.1h0M174.0 231.6h0M172.0 239.9h0" stroke="#c418c4" stroke-width="0.6" stroke-linecap="round" opacity="0.42" fill="none"/>
<path d="M167.9 252.9h0M171.6 252.5h0M173.0 250.1h0M170.7 249.8h0M173.7 245.5h0M171.5 249.7h0M173.1 249.4h0M168.8 250.9h0M171.2 253.3h0M171.1 247.2h0M174.8 249.4h0M171.7 246.9h0M170.0 252.9h0M176.9 242.4h0M167.4 249.0h0M170.7 245.7h0M173.6 252.7h0M169.5 250.5h0M177.8 242.8h0M168.0 257.5h0M170.5 250.4h0M170.1 251.6h0M171.1 247.2h0M173.2 247.7h0M171.7 254.7h0M172.3 249.8h0M172.9 245.0h0M173.0 241.2h0M168.2 252.4h0M176.4 245.2h0M170.3 246.0h0M169.6 250.5h0M168.8 248.1h0M169.8 248.9h0M169.7 247.2h0M169.9 251.3h0M171.8 247.5h0M170.6 248.8h0M168.8 251.0h0M170.0 252.6h0M170.9 248.1h0M168.5 251.8h0M172.0 250.9h0M170.3 250.7h0M170.6 252.1h0M168.7 249.5h0M166.8 255.1h0M171.9 251.6h0M167.5 252.8h0M169.8 254.0h0M170.3 248.3h0M171.8 247.8h0M169.6 250.9h0M173.1 248.5h0M173.9 244.4h0M170.8 249.4h0M168.9 251.9h0M170.8 247.4h0M167.9 249.3h0M173.3 248.6h0M170.8 249.6h0M170.9 248.9h0M171.8 251.0h0M175.9 243.5h0M170.4 248.2h0M170.3 254.2h0M171.2 250.6h0M165.5 248.9h0M171.9 242.0h0M173.5 248.7h0M168.1 254.7h0M167.7 248.4h0M172.5 243.7h0M171.4 247.9h0M172.1 242.9h0M170.4 250.9h0M171.7 247.3h0M174.3 247.0h0M168.9 247.0h0M166.3 250.9h0M171.3 251.8h0M173.5 244.7h0M171.3 246.5h0M171.3 251.0h0M167.5 254.3h0M169.5 252.4h0M171.8 247.9h0M172.9 245.4h0M173.0 245.9h0M167.2 255.7h0M168.5 251.9h0M166.2 256.6h0M168.1 249.5h0M171.5 250.9h0M171.8 249.9h0M172.0 253.7h0M167.0 251.2h0M171.8 249.4h0M173.9 246.2h0M169.5 245.2h0M169.8 248.4h0M169.5 257.4h0M169.7 253.7h0M171.4 246.6h0M171.1 253.7h0M170.8 249.6h0M171.3 249.4h0M171.8 247.8h0M172.1 246.5h0M167.0 252.9h0M169.9 247.0h0M172.1 249.5h0M169.4 251.4h0M166.4 252.2h0M171.7 248.2h0M168.0 252.5h0M168.8 251.3h0M168.6 251.0h0M173.3 242.2h0M167.7 253.2h0M172.1 245.6h0M171.0 247.2h0M172.3 252.0h0M170.0 248.2h0M169.3 246.1h0M167.6 253.8h0M170.0 250.9h0M169.2 253.6h0M169.8 249.9h0M170.4 248.2h0M170.7 245.6h0M170.7 248.5h0M165.2 255.6h0M170.4 251.4h0M167.4 252.9h0M167.3 249.7h0M171.2 252.0h0M170.3 245.7h0M168.0 251.2h0M170.7 258.0h0M169.8 252.1h0M169.2 250.8h0M166.2 253.2h0M169.0 249.4h0M170.6 247.0h0M171.9 248.8h0M170.5 254.3h0M174.2 252.3h0M171.2 252.1h0M169.1 246.0h0" stroke="#c418c4" stroke-width="0.6" stroke-linecap="round" opacity="0.5" fill="none"/>
<text x="65.60" y="309.90" font-size="6.4" text-anchor="middle" font-weight="bold" fill="#000" stroke="#000" stroke-width="0.22">Control</text>
<rect x="26.00" y="313.30" width="77.20" height="76.80" fill="#fff" stroke="#777" stroke-width="0.8"/>
<line x1="74.60" y1="313.30" x2="74.60" y2="390.10" stroke="#8a8a8a" stroke-width="0.9"/>
<line x1="26.00" y1="350.40" x2="103.20" y2="350.40" stroke="#8a8a8a" stroke-width="0.9"/>
<text x="27.90" y="318.20" font-size="4.1" text-anchor="start" font-weight="normal" fill="#333">Q1-UL(0.79%)</text>
<text x="101.30" y="318.20" font-size="4.1" text-anchor="end" font-weight="normal" fill="#333">Q1-UR(0.69%)</text>
<text x="27.90" y="387.90" font-size="4.1" text-anchor="start" font-weight="normal" fill="#333">Q1-LL(98.39%)</text>
<text x="101.30" y="387.90" font-size="4.1" text-anchor="end" font-weight="normal" fill="#333">Q1-LR(0.14%)</text>
<text x="24.60" y="394.70" font-size="3.2" fill="#333">10<tspan dy="-1.3" font-size="2.2">1</tspan></text>
<text x="23.00" y="391.70" font-size="3.2" fill="#333" transform="rotate(-90 23.00 391.70)">10<tspan dy="-1.3" font-size="2.2">1</tspan></text>
<text x="43.60" y="394.70" font-size="3.2" fill="#333">10<tspan dy="-1.3" font-size="2.2">2</tspan></text>
<text x="23.00" y="372.80" font-size="3.2" fill="#333" transform="rotate(-90 23.00 372.80)">10<tspan dy="-1.3" font-size="2.2">2</tspan></text>
<text x="62.60" y="394.70" font-size="3.2" fill="#333">10<tspan dy="-1.3" font-size="2.2">3</tspan></text>
<text x="23.00" y="353.90" font-size="3.2" fill="#333" transform="rotate(-90 23.00 353.90)">10<tspan dy="-1.3" font-size="2.2">3</tspan></text>
<text x="81.60" y="394.70" font-size="3.2" fill="#333">10<tspan dy="-1.3" font-size="2.2">4</tspan></text>
<text x="23.00" y="335.00" font-size="3.2" fill="#333" transform="rotate(-90 23.00 335.00)">10<tspan dy="-1.3" font-size="2.2">4</tspan></text>
<text x="100.60" y="394.70" font-size="3.2" fill="#333">10<tspan dy="-1.3" font-size="2.2">5</tspan></text>
<text x="23.00" y="316.10" font-size="3.2" fill="#333" transform="rotate(-90 23.00 316.10)">10<tspan dy="-1.3" font-size="2.2">5</tspan></text>
<path d="M26.00 384.32h1M26.00 380.94h1M26.00 378.54h1M26.00 376.68h1M26.00 375.16h1M26.00 373.87h1M26.00 372.76h1M26.00 371.78h1M26.00 365.12h1M26.00 361.74h1M26.00 359.34h1M26.00 357.48h1M26.00 355.96h1M26.00 354.67h1M26.00 353.56h1M26.00 352.58h1M26.00 345.92h1M26.00 342.54h1M26.00 340.14h1M26.00 338.28h1M26.00 336.76h1M26.00 335.47h1M26.00 334.36h1M26.00 333.38h1M26.00 326.72h1M26.00 323.34h1M26.00 320.94h1M26.00 319.08h1M26.00 317.56h1M26.00 316.27h1M26.00 315.16h1M26.00 314.18h1M31.81 390.10v-1M35.21 390.10v-1M37.62 390.10v-1M39.49 390.10v-1M41.02 390.10v-1M42.31 390.10v-1M43.43 390.10v-1M44.42 390.10v-1M51.11 390.10v-1M54.51 390.10v-1M56.92 390.10v-1M58.79 390.10v-1M60.32 390.10v-1M61.61 390.10v-1M62.73 390.10v-1M63.72 390.10v-1M70.41 390.10v-1M73.81 390.10v-1M76.22 390.10v-1M78.09 390.10v-1M79.62 390.10v-1M80.91 390.10v-1M82.03 390.10v-1M83.02 390.10v-1M89.71 390.10v-1M93.11 390.10v-1M95.52 390.10v-1M97.39 390.10v-1M98.92 390.10v-1M100.21 390.10v-1M101.33 390.10v-1M102.32 390.10v-1" stroke="#666" stroke-width="0.35" fill="none"/>
<path d="M35.1 378.3h0M61.9 364.0h0M58.2 358.3h0M61.2 364.3h0M62.6 368.5h0M61.5 375.8h0M41.2 381.5h0M59.2 357.8h0M61.3 364.9h0M47.2 358.3h0M50.2 381.4h0M47.9 384.5h0M48.5 352.5h0M51.0 365.2h0M38.9 373.3h0M62.7 373.7h0M82.5 355.5h0M43.9 368.1h0M67.2 365.1h0M49.4 364.7h0M43.4 380.3h0M74.2 364.5h0M39.2 371.6h0M57.3 375.4h0M48.7 378.0h0M55.5 356.0h0M76.6 361.3h0M56.7 371.5h0M56.6 363.1h0M61.6 364.9h0M47.9 377.1h0M50.4 371.3h0M64.3 368.1h0M61.1 360.9h0M59.4 364.0h0M64.8 351.9h0M61.4 359.8h0M43.1 388.9h0M39.8 378.5h0M56.1 373.3h0M55.5 373.6h0M50.3 361.5h0M71.5 366.3h0M52.8 378.9h0M48.8 369.9h0M44.2 365.1h0M52.2 379.2h0M65.5 364.3h0M54.2 366.1h0M71.2 370.6h0M65.3 375.3h0M54.9 368.8h0M63.1 363.7h0M50.6 370.6h0M55.9 369.6h0M43.2 386.7h0M71.1 357.7h0M61.1 369.2h0M65.8 366.5h0M47.3 368.9h0M60.7 368.8h0M49.2 374.4h0M65.6 373.5h0M45.9 372.1h0M51.5 367.6h0M46.8 371.1h0M66.9 362.7h0M63.2 376.1h0M84.7 346.2h0M58.4 359.5h0M57.4 363.4h0M43.9 385.3h0M56.2 381.8h0M51.7 372.0h0M47.1 377.5h0M57.0 374.2h0M45.5 374.3h0M43.1 377.1h0M51.0 373.6h0M53.1 380.3h0M49.9 378.1h0M55.4 373.6h0M54.0 368.4h0M52.7 368.8h0M58.6 376.9h0M67.8 369.4h0M52.9 382.9h0M61.4 369.9h0M60.0 380.5h0M48.6 379.4h0M42.4 381.1h0M59.3 368.6h0M62.8 374.0h0M39.0 372.4h0M57.4 355.9h0M62.1 383.2h0M60.6 364.1h0M59.5 359.4h0M59.6 362.9h0M45.1 372.6h0M51.1 376.9h0M74.3 359.5h0M62.4 362.4h0M69.1 356.0h0M62.2 353.6h0M55.8 361.3h0M51.6 372.8h0M41.3 387.8h0M48.6 363.1h0M53.6 371.3h0M39.0 381.5h0M62.0 360.4h0M53.0 372.0h0M48.7 368.2h0M45.7 364.0h0M55.1 368.3h0M37.5 375.9h0M54.9 367.3h0M47.4 373.9h0M61.1 373.3h0M43.5 366.5h0M43.7 374.4h0M63.2 371.8h0M54.5 364.3h0M61.2 361.0h0M44.3 380.0h0M72.0 353.6h0M52.3 379.8h0M53.1 382.2h0M55.6 359.5h0M50.0 372.8h0M49.8 379.1h0M60.0 379.9h0M61.2 372.5h0M65.0 364.6h0M59.1 361.1h0M67.5 366.5h0M61.7 359.6h0M55.2 380.3h0M64.9 382.0h0M54.6 361.8h0M61.4 366.5h0M36.7 384.3h0M41.8 377.2h0M48.9 370.4h0M64.2 359.6h0M46.3 385.9h0M52.0 362.2h0M57.3 357.5h0M53.5 384.5h0M51.0 375.3h0M46.8 376.6h0M36.7 386.7h0M52.3 381.3h0M47.8 371.1h0M43.1 367.1h0M51.0 360.2h0M45.7 382.3h0M60.7 382.0h0M44.7 384.0h0M67.3 353.3h0M48.3 386.1h0M67.4 352.1h0M64.7 366.7h0M59.4 373.3h0M55.4 375.9h0M52.1 372.4h0M45.7 379.8h0M50.4 368.1h0M47.3 375.5h0M68.7 361.1h0M66.0 370.8h0M67.7 372.0h0M69.8 362.1h0M54.7 372.3h0M51.3 368.6h0M43.8 385.5h0M46.6 385.1h0M70.0 356.8h0M44.6 376.1h0M59.7 365.5h0M52.5 375.7h0M41.1 376.4h0M55.3 364.7h0M58.2 363.8h0M55.0 369.7h0M64.5 359.2h0M51.1 365.6h0M55.5 369.1h0M49.2 360.1h0M60.5 366.1h0M59.2 370.0h0M59.5 358.5h0M51.6 376.3h0M53.6 377.6h0M75.3 366.2h0M49.4 377.1h0M43.0 371.7h0M53.5 367.4h0M43.3 379.9h0M45.3 371.3h0M58.9 371.5h0M55.3 365.0h0M38.1 369.0h0M64.8 369.2h0M42.1 372.6h0M50.8 386.7h0M51.6 370.8h0M55.6 370.4h0M51.7 372.9h0M64.2 369.5h0M45.3 379.5h0M55.1 372.3h0M77.6 354.0h0M60.7 364.4h0M64.6 371.4h0M61.7 357.5h0M57.9 371.0h0M44.7 378.4h0M54.8 378.4h0M63.6 378.8h0M57.7 364.7h0M57.6 369.1h0M50.0 379.1h0M44.4 383.2h0M51.6 375.2h0M56.4 383.8h0M52.8 379.7h0M60.4 375.2h0M44.2 371.4h0M65.0 369.5h0M44.7 349.8h0M75.1 362.9h0M51.6 367.0h0M52.2 359.7h0M55.0 376.0h0M64.7 358.0h0M47.7 367.1h0M51.1 369.2h0M52.1 367.7h0M58.3 366.8h0M51.8 378.9h0M58.3 365.6h0M56.9 375.8h0M58.5 366.2h0M69.1 352.9h0M41.8 378.9h0M49.6 362.0h0M74.3 359.2h0M48.7 380.3h0M44.5 381.2h0M59.5 379.2h0M37.8 384.0h0M37.6 384.4h0M52.4 373.5h0M59.8 358.7h0M56.5 381.4h0M51.4 366.6h0M50.7 366.2h0M45.7 375.9h0M52.7 375.1h0M52.5 372.6h0M50.1 379.3h0M48.0 371.0h0M68.7 369.7h0M60.7 369.4h0M52.9 374.1h0M61.0 365.2h0M71.7 366.0h0M57.9 369.9h0M46.4 376.0h0M48.3 374.9h0M49.3 379.8h0M57.0 367.7h0M69.3 358.7h0M55.3 372.2h0M53.3 378.9h0M47.5 378.2h0M72.3 356.0h0M41.8 374.9h0M56.6 354.0h0M73.9 362.9h0M52.3 375.8h0M47.3 370.9h0M55.7 364.6h0M61.3 367.4h0M50.3 376.3h0M54.7 369.9h0M58.2 377.8h0M49.7 377.5h0M65.0 364.2h0M47.0 369.6h0M44.8 365.1h0M51.3 374.4h0M68.3 362.9h0M65.3 364.4h0M50.4 362.5h0M49.4 374.6h0M49.2 366.6h0M43.4 384.1h0M52.8 373.2h0M52.2 371.8h0M49.3 383.8h0M58.1 367.6h0M66.0 354.1h0M61.4 364.0h0M58.7 374.3h0M54.9 370.9h0M46.5 381.8h0M56.5 366.0h0M49.5 384.4h0M60.9 374.6h0M65.0 382.0h0M48.2 383.6h0M57.1 370.8h0M55.6 374.9h0M62.2 364.5h0M50.8 383.1h0M58.2 358.2h0M63.2 375.2h0M57.9 363.9h0M58.7 370.1h0M45.2 378.5h0M51.1 372.1h0M58.4 353.1h0M44.0 376.2h0M64.7 360.5h0M52.1 372.1h0M75.5 366.4h0M53.0 365.1h0M45.7 366.0h0M61.6 362.7h0M61.5 359.7h0M40.3 368.1h0M61.4 373.2h0M33.5 383.8h0M58.6 375.9h0M76.8 362.6h0M51.4 362.8h0M50.5 379.6h0M51.9 367.6h0M55.0 372.2h0M71.7 351.7h0M60.8 367.6h0M58.3 362.1h0M72.4 364.6h0M54.7 362.4h0M45.6 378.7h0M50.5 368.3h0M47.7 365.5h0M48.1 366.9h0M47.2 358.6h0M47.3 375.1h0M41.6 380.7h0M58.7 377.9h0M58.8 363.8h0M61.2 364.2h0M59.6 362.8h0M55.9 367.4h0M69.7 370.5h0M73.5 363.9h0M60.3 378.6h0M52.6 373.1h0M51.8 381.8h0M41.8 383.5h0M55.9 360.8h0M54.4 362.7h0M53.8 374.9h0M74.6 368.3h0M40.3 372.0h0M50.0 377.7h0M48.8 366.5h0M48.9 378.7h0M63.6 378.9h0M43.3 377.9h0M77.5 338.3h0" stroke="#1a2ee2" stroke-width="0.6" stroke-linecap="round" opacity="0.4" fill="none"/>
<path d="M51.8 380.8h0M52.2 372.8h0M58.2 372.5h0M55.1 374.7h0M45.6 380.4h0M55.3 369.2h0M62.8 368.6h0M59.7 372.5h0M54.1 374.9h0M58.3 369.7h0M57.0 370.5h0M56.6 378.1h0M57.1 368.5h0M55.1 373.7h0M53.4 370.0h0M55.0 378.1h0M56.8 377.7h0M57.9 373.4h0M61.5 371.4h0M52.8 381.3h0M59.0 375.9h0M52.2 382.3h0M50.9 376.9h0M54.2 378.1h0M65.5 365.2h0M59.5 376.3h0M59.6 368.6h0M53.2 372.6h0M50.7 374.2h0M54.5 376.2h0M52.7 373.8h0M50.0 377.8h0M59.6 374.4h0M48.9 377.2h0M59.5 369.8h0M59.3 369.9h0M57.8 373.7h0M56.6 375.1h0M57.0 379.4h0M53.7 379.6h0M50.0 370.1h0M49.6 380.1h0M55.0 373.0h0M44.4 372.7h0M50.8 382.9h0M49.5 381.7h0M55.4 376.1h0M55.6 371.9h0M52.9 374.1h0M59.4 373.9h0M57.6 373.2h0M49.8 372.8h0M55.3 375.8h0M46.0 382.1h0M54.7 382.7h0M56.9 372.9h0M59.3 378.3h0M50.3 372.6h0M48.7 380.8h0M53.0 377.1h0M64.0 363.8h0M54.2 381.9h0M50.9 377.3h0M51.2 383.1h0M58.9 377.1h0M50.2 378.2h0M52.9 379.0h0M64.5 365.1h0M56.9 373.1h0M58.2 372.7h0M55.9 376.4h0M59.4 371.1h0M65.5 370.5h0M57.6 376.2h0M62.0 367.6h0M52.6 372.3h0M57.8 371.9h0M57.5 374.8h0M64.5 371.2h0M64.8 366.9h0M60.4 371.1h0M63.2 365.3h0M56.4 378.6h0M59.5 371.9h0M50.3 375.3h0M51.4 376.1h0M48.5 379.4h0M53.3 374.6h0M50.8 379.0h0M52.1 380.5h0M60.3 369.3h0M48.7 373.4h0M58.4 375.6h0M64.4 367.0h0M57.8 373.7h0M53.9 376.1h0M52.8 366.9h0M58.4 372.3h0M62.0 369.5h0M57.9 379.1h0M58.4 374.4h0M53.8 373.8h0M53.9 372.3h0M57.0 371.3h0M62.9 373.0h0M60.5 370.1h0M49.4 373.5h0M52.3 375.4h0M55.6 367.2h0M58.5 371.7h0M45.7 382.7h0M57.1 371.0h0M59.9 368.2h0M55.2 369.0h0M56.8 380.4h0M58.7 374.4h0M52.8 373.0h0M60.9 369.3h0M54.5 379.5h0M58.6 373.9h0M49.3 378.0h0M58.1 367.3h0M49.1 382.8h0M52.7 375.0h0M47.6 373.6h0M55.6 375.7h0M54.6 375.8h0M61.9 364.9h0M55.9 377.6h0M62.5 373.6h0M54.0 374.8h0M52.6 373.5h0M58.9 375.6h0M51.7 371.9h0M49.6 381.0h0M48.8 384.8h0M58.6 372.7h0M68.0 360.3h0M57.0 376.6h0M57.8 380.3h0M56.4 377.6h0M58.0 370.5h0M57.0 375.0h0M56.8 376.1h0M49.0 380.2h0M51.1 373.4h0M49.5 385.6h0M57.3 377.6h0M53.8 378.8h0M58.9 371.8h0M52.4 382.0h0M54.4 376.9h0M56.5 372.8h0M48.3 383.8h0M53.6 374.9h0M62.5 367.6h0M52.2 376.5h0M57.0 376.9h0M55.7 371.8h0M56.6 369.3h0M50.2 373.5h0M62.3 366.9h0M63.9 368.5h0M51.5 377.3h0M59.8 369.5h0M50.5 374.3h0M64.0 365.1h0M56.1 365.2h0M48.5 382.0h0M53.6 370.2h0M49.1 383.1h0M50.7 378.4h0M57.5 378.5h0M58.0 376.2h0M58.6 365.7h0M52.1 374.2h0M57.8 377.8h0M57.9 375.1h0M59.8 369.1h0M57.8 370.5h0M55.8 376.3h0M59.8 370.8h0M48.6 377.6h0M51.9 382.1h0M58.7 369.9h0M54.1 373.2h0M56.5 379.4h0M51.2 372.9h0M55.9 374.2h0M58.4 377.9h0M51.4 377.2h0M52.8 379.8h0M60.7 373.2h0M56.1 374.0h0M54.9 379.2h0M61.1 373.2h0M55.7 370.5h0M51.5 378.8h0M49.6 379.2h0M55.9 371.2h0M62.2 369.7h0M54.4 375.6h0M58.9 372.0h0M61.6 370.8h0M50.7 375.5h0M53.6 383.3h0M53.8 379.5h0M62.4 368.7h0M52.6 373.0h0M50.4 379.5h0M54.4 384.4h0M54.6 372.8h0M66.1 370.3h0M56.8 374.1h0M53.6 377.6h0M60.4 370.9h0M48.9 371.2h0M68.2 361.0h0M57.3 374.5h0M62.8 367.9h0M57.6 371.6h0M53.8 378.1h0M54.4 379.0h0M57.2 371.2h0M55.7 371.3h0M53.1 379.8h0M53.8 379.0h0M60.8 369.2h0M53.9 373.4h0M52.7 374.8h0M62.8 368.3h0M54.1 372.7h0M55.5 373.4h0M57.3 367.6h0M58.0 377.4h0M57.2 373.7h0M50.6 371.4h0M58.0 366.6h0M60.9 368.8h0M60.4 369.2h0M47.0 376.4h0M51.9 379.1h0M55.1 381.4h0M57.7 375.2h0M64.8 364.7h0M58.8 366.4h0M56.8 367.9h0M54.2 371.3h0M49.8 374.8h0M62.1 372.7h0M49.6 370.7h0M50.0 380.2h0M50.8 379.7h0M51.9 373.1h0M54.3 376.3h0M52.4 372.7h0M46.5 377.7h0M55.5 378.7h0M52.3 379.3h0M59.1 370.9h0M61.3 373.5h0M57.0 376.7h0M50.9 378.1h0M60.0 367.8h0M56.2 378.7h0M52.8 379.1h0M55.1 371.7h0M65.3 364.7h0M51.6 377.1h0M48.1 380.3h0M52.6 372.6h0M54.3 372.3h0M67.4 363.0h0M48.4 377.5h0M50.9 375.0h0M62.2 365.7h0M62.1 369.0h0M56.5 368.6h0M56.8 368.8h0M51.4 377.4h0M51.0 374.1h0M52.8 374.2h0M56.8 380.2h0M46.4 382.9h0M54.3 372.9h0M59.8 370.4h0M60.7 369.1h0M53.5 382.2h0M58.7 368.6h0M52.5 366.3h0M56.7 368.0h0M54.2 373.8h0M46.6 375.7h0M48.0 379.7h0M54.1 372.4h0M51.8 378.7h0M61.1 372.1h0M60.9 367.1h0M49.4 378.7h0M58.7 375.6h0M47.3 371.2h0M48.7 382.2h0M49.1 381.4h0M55.1 374.3h0M58.2 365.5h0M57.0 372.1h0M52.9 374.5h0M60.2 372.1h0M58.6 375.1h0M57.4 369.0h0M55.2 371.9h0M55.7 372.5h0M54.8 368.4h0M56.8 370.7h0M45.0 381.0h0M59.7 372.6h0M53.6 375.2h0M50.7 381.5h0M53.2 377.6h0M54.7 368.8h0M47.7 380.5h0M54.7 376.8h0M48.9 384.5h0M51.6 381.3h0M52.2 377.3h0M57.2 373.2h0M55.2 376.5h0M55.3 368.5h0M58.4 370.6h0M62.6 371.3h0M52.7 367.9h0M52.8 374.0h0M53.8 380.6h0M59.5 370.2h0M50.5 379.1h0M60.6 368.9h0M61.8 366.4h0M62.8 369.6h0M64.4 366.6h0M56.1 369.9h0M57.7 372.9h0M57.4 371.8h0M59.7 375.0h0M55.2 372.1h0M65.4 369.3h0M52.2 378.6h0M62.4 373.4h0M54.3 371.0h0M57.7 371.1h0M52.5 378.3h0M58.0 366.9h0M51.6 380.2h0M50.5 377.5h0M46.5 381.3h0M53.1 373.8h0M58.4 375.8h0M57.6 374.0h0M49.8 380.4h0M54.6 378.9h0M53.2 379.5h0M60.9 366.4h0M51.2 373.1h0M47.8 383.0h0M65.0 371.7h0M58.0 377.5h0M48.3 380.3h0M64.2 372.3h0M46.6 380.2h0M47.4 376.8h0M54.5 378.7h0M54.2 375.7h0M58.2 372.0h0M68.0 361.4h0M61.2 378.0h0M55.8 376.9h0M47.2 379.7h0M60.6 377.4h0M61.1 369.6h0M55.7 383.4h0M53.5 371.2h0M55.0 379.3h0M55.2 373.0h0M51.7 380.6h0M56.9 373.6h0M61.6 370.0h0M53.2 378.8h0M59.4 373.3h0M57.4 369.1h0M53.2 375.1h0M54.4 375.3h0M54.1 379.1h0M59.4 375.1h0M48.3 379.1h0M54.1 374.0h0M50.7 376.4h0M52.7 377.4h0M53.6 372.0h0M51.4 377.2h0M52.1 381.5h0M57.6 376.8h0M49.0 378.6h0M56.1 375.6h0M61.6 379.0h0M50.3 377.2h0M54.7 378.8h0M58.1 373.6h0M57.1 375.5h0M55.2 366.5h0M57.7 370.9h0M50.7 374.0h0M50.6 381.3h0M50.6 375.8h0M58.2 380.3h0M64.4 366.5h0M46.1 381.4h0M55.8 373.6h0M54.2 375.8h0M53.8 379.6h0M57.9 372.7h0M63.3 370.3h0M61.8 372.9h0M49.5 376.6h0M55.7 378.9h0M53.7 375.9h0M59.5 366.0h0M52.0 375.3h0M65.7 365.0h0M55.8 366.9h0M54.7 378.0h0M60.8 372.5h0M62.6 377.0h0M44.0 377.0h0M54.4 375.5h0M58.4 372.0h0M55.3 369.8h0M59.2 371.1h0M46.0 379.4h0M62.2 374.8h0M48.5 384.9h0M56.8 372.9h0M53.0 379.4h0M57.9 373.7h0M58.6 367.2h0M57.1 372.0h0M56.7 369.5h0M58.3 371.1h0M52.3 371.4h0M55.3 369.6h0M52.1 374.1h0M59.4 373.6h0M54.8 371.2h0M54.2 372.3h0M51.5 384.8h0M61.4 370.4h0M57.2 370.1h0M62.1 370.6h0M56.1 374.0h0M55.1 375.0h0M63.3 367.5h0M52.7 376.2h0M56.1 378.7h0M62.4 374.7h0M58.8 375.1h0M53.3 378.3h0M45.7 375.9h0M53.3 375.0h0M61.9 369.4h0M66.6 363.1h0M49.8 375.2h0M57.1 374.0h0M55.8 376.2h0M51.8 375.8h0M65.1 371.2h0M57.0 373.8h0M60.8 366.3h0M48.3 380.2h0M61.4 367.3h0M57.7 367.9h0M53.2 375.5h0M50.3 377.6h0M61.4 367.5h0M50.0 377.1h0M66.6 361.0h0M59.9 374.2h0M48.0 383.3h0M50.8 377.1h0M50.5 375.3h0M51.1 373.7h0M57.4 376.4h0M49.0 381.5h0M55.3 381.2h0M66.6 361.9h0M50.9 372.8h0M62.6 369.7h0M51.6 373.4h0M53.1 374.9h0M47.0 374.4h0M49.5 382.2h0M65.2 369.1h0M58.8 374.9h0M55.3 375.4h0M64.8 362.4h0M54.6 379.3h0M58.7 365.7h0M54.9 376.3h0M61.3 371.0h0M49.9 383.5h0M56.4 375.2h0M58.9 376.1h0M49.7 380.5h0M54.1 380.4h0M51.9 369.6h0M56.7 375.2h0M62.8 368.6h0M54.1 378.2h0M55.9 369.1h0M48.5 382.7h0M58.1 373.5h0M64.1 368.0h0M53.5 366.0h0M60.7 369.0h0M53.7 374.4h0M65.7 363.4h0M61.1 368.8h0M64.7 365.2h0M59.4 375.4h0M54.0 374.5h0M54.6 380.8h0M61.4 367.9h0M56.6 376.0h0M63.0 366.3h0M52.7 381.8h0M55.9 379.7h0M55.6 380.6h0M51.1 379.8h0M51.5 380.9h0M63.4 369.1h0M59.5 369.0h0M57.2 370.2h0M57.2 374.8h0M58.6 372.4h0M50.5 374.3h0M57.7 372.0h0M47.9 376.8h0M62.1 372.5h0M55.4 369.2h0M55.5 370.4h0M55.0 372.5h0M53.8 376.9h0M58.3 371.1h0M58.3 368.1h0M59.6 376.0h0M54.0 372.3h0M63.1 370.3h0M55.2 381.0h0M47.8 378.1h0M58.2 370.9h0M48.3 378.5h0M66.1 366.1h0M52.6 372.8h0M47.8 381.6h0M57.9 375.7h0M52.2 378.1h0M53.7 380.1h0M53.3 372.0h0M53.0 374.9h0M63.2 376.3h0M48.1 374.5h0M56.7 372.1h0M61.6 363.8h0M51.2 383.4h0M54.5 374.9h0M55.1 377.5h0M52.9 376.6h0M62.5 370.5h0M47.4 382.5h0M48.8 372.8h0M55.5 368.9h0M51.8 381.7h0M55.4 373.1h0M65.0 369.2h0M55.2 368.9h0M53.0 370.2h0M63.5 366.5h0M51.3 374.1h0M49.5 376.3h0M51.8 377.8h0M46.8 381.0h0M56.3 369.6h0M52.1 377.3h0M53.2 378.1h0M60.6 375.8h0M54.1 369.7h0M67.1 361.9h0M51.1 376.4h0M62.4 366.8h0M51.9 373.6h0M56.3 376.3h0M52.5 377.2h0M60.3 369.0h0M54.2 376.1h0M57.4 372.4h0M53.4 373.6h0M61.3 369.9h0M53.5 378.5h0M62.2 372.5h0M63.4 368.9h0M54.3 373.0h0M54.3 375.0h0M52.8 377.7h0M61.0 367.9h0M50.1 371.2h0M50.6 370.4h0M59.0 376.5h0M57.1 373.7h0M56.5 374.7h0M54.3 376.5h0M55.5 374.6h0M50.5 380.0h0M53.3 381.2h0M54.5 376.0h0M57.1 378.0h0M61.5 374.7h0M50.6 374.3h0M58.5 377.3h0M54.5 370.8h0M63.0 367.2h0M55.9 376.2h0M53.2 375.1h0M51.7 374.7h0M54.2 383.0h0M60.5 369.9h0M54.5 374.7h0M62.9 371.4h0M47.3 383.1h0M49.9 372.9h0M63.3 365.2h0M56.6 373.8h0M49.4 381.7h0M63.6 369.5h0M58.9 366.4h0M60.5 374.0h0M59.2 376.5h0M53.1 376.6h0M51.8 373.5h0M55.0 371.0h0M61.2 365.2h0M48.6 384.7h0M54.1 380.6h0M53.7 374.2h0M60.1 374.3h0M55.9 374.3h0M53.4 376.5h0M61.3 364.8h0M56.5 380.0h0M53.6 371.9h0M57.2 374.9h0M49.9 380.8h0M58.9 377.5h0M59.2 368.6h0M46.5 383.2h0M56.9 374.4h0M62.8 370.8h0M47.9 374.6h0M58.7 374.6h0M63.1 367.3h0M54.3 382.9h0M54.0 370.6h0M49.5 383.5h0M53.1 374.8h0M54.8 375.5h0M54.1 375.1h0M56.6 374.0h0M52.0 368.2h0M52.9 372.4h0M56.2 367.2h0M50.3 379.5h0M47.5 375.0h0M64.1 374.9h0M51.9 378.3h0M60.4 373.7h0M51.0 375.7h0M50.4 380.2h0M60.2 375.4h0M56.6 367.3h0M61.3 368.4h0M58.9 373.7h0M61.7 369.1h0M53.8 377.6h0M55.4 377.7h0M58.1 368.1h0M56.4 374.6h0M50.8 375.3h0M57.6 371.8h0M53.3 370.9h0M62.5 369.4h0M61.0 379.3h0M61.2 366.5h0M46.7 376.8h0M55.4 372.2h0M56.8 376.5h0M54.4 376.0h0M50.2 381.5h0M61.1 367.4h0M57.7 371.5h0M57.5 380.2h0M62.2 366.0h0M53.0 379.9h0M54.5 373.5h0M58.1 372.0h0M55.3 370.2h0M57.6 376.5h0M55.9 377.3h0M59.5 375.7h0M54.6 372.0h0M50.9 376.9h0M59.2 370.5h0M56.1 375.0h0M60.0 376.3h0M48.2 384.8h0M54.3 375.0h0M61.4 370.5h0M53.8 376.5h0M55.3 379.3h0M57.8 376.2h0M56.7 376.1h0M56.3 371.0h0M50.6 380.2h0M56.4 377.8h0M58.5 373.2h0M49.7 373.2h0M61.9 364.2h0M48.0 380.4h0M55.1 371.6h0M64.0 369.7h0M56.0 376.7h0M54.1 380.0h0M63.6 365.9h0M56.1 380.5h0M54.8 374.9h0M51.7 375.1h0M55.7 377.4h0M59.9 367.2h0M54.5 371.5h0M51.4 381.8h0M54.9 369.4h0M56.9 377.9h0M57.0 374.6h0M52.7 383.2h0M56.4 369.9h0M51.1 378.4h0M59.6 374.1h0M66.2 361.7h0M53.9 375.9h0M64.3 371.5h0M58.1 373.6h0M44.8 375.9h0M62.7 369.3h0M49.5 376.8h0M52.1 378.9h0M58.5 373.1h0M62.6 369.1h0M56.2 368.6h0M48.5 381.0h0M62.4 367.3h0M54.9 369.7h0M58.8 369.1h0M53.7 372.7h0M54.2 368.6h0M54.2 376.7h0M57.3 374.6h0M48.7 378.4h0M50.1 367.9h0M51.1 375.1h0M46.2 380.6h0M55.5 378.9h0M57.5 368.7h0M56.3 374.8h0M48.2 379.4h0M49.5 382.3h0M59.8 370.1h0M53.8 381.2h0M54.1 373.3h0M53.3 374.8h0M65.8 362.2h0M53.0 381.3h0M53.9 376.3h0M48.0 367.9h0M59.5 375.7h0M60.2 372.2h0M54.1 374.2h0M52.1 367.5h0M53.1 376.9h0M56.4 372.5h0M59.5 370.8h0M55.9 370.5h0M61.3 373.2h0M54.7 370.4h0M54.5 377.4h0M57.5 375.8h0M58.2 370.1h0M60.2 373.1h0M56.7 372.9h0M54.0 378.3h0M53.5 374.9h0M47.4 383.0h0M64.7 363.6h0M59.1 368.9h0M57.0 377.5h0M65.2 362.8h0M56.6 368.6h0M63.9 369.8h0M61.4 367.0h0M48.5 381.5h0M59.6 367.7h0M61.6 367.5h0M48.9 382.1h0M61.7 367.5h0M57.3 379.5h0M53.1 376.8h0M65.0 363.0h0M61.0 370.3h0M48.9 379.0h0M56.2 370.4h0M49.5 383.1h0M47.6 384.0h0M62.3 370.6h0M64.8 365.5h0M52.1 370.3h0M58.9 374.9h0M53.4 376.5h0M52.6 382.4h0M54.3 380.3h0M55.4 370.3h0M56.8 370.8h0M55.3 370.4h0M52.9 375.2h0M49.9 384.7h0M51.5 378.0h0M60.2 369.5h0M56.4 378.5h0M54.8 369.6h0M59.9 375.6h0M48.7 383.7h0M54.2 377.3h0M52.0 375.1h0M46.7 375.2h0M55.9 377.1h0M54.3 376.6h0M66.3 360.9h0M54.5 367.4h0M62.4 368.3h0M48.9 384.1h0M51.6 372.0h0M57.8 367.8h0M55.9 377.3h0M53.9 373.6h0M43.5 380.5h0M55.0 377.1h0M53.1 375.8h0M62.8 371.7h0M59.0 370.9h0M54.1 372.7h0M56.7 373.4h0M52.7 383.0h0M61.5 364.0h0M52.6 381.2h0M49.0 380.2h0M54.7 367.9h0M63.6 367.8h0M53.2 373.6h0M52.8 373.2h0M60.7 369.7h0M49.6 382.2h0M59.2 372.9h0M55.9 375.0h0M67.3 364.2h0M46.0 380.0h0M53.8 372.2h0M57.2 369.7h0M51.8 380.5h0M55.8 372.7h0M51.4 381.0h0M52.2 378.3h0M55.5 369.3h0M51.1 384.1h0M55.2 376.2h0M60.4 368.5h0M56.9 375.5h0M60.0 366.7h0M50.2 380.0h0M64.0 363.5h0M48.0 383.0h0M64.6 368.1h0M56.7 374.9h0M56.8 373.1h0M48.7 375.0h0M53.8 377.3h0M61.2 375.0h0M49.6 382.4h0M59.0 376.7h0M53.7 376.8h0M57.9 369.7h0M57.0 373.7h0M54.2 378.9h0M53.3 370.1h0M56.1 373.0h0M62.2 372.7h0M56.9 373.4h0M61.7 369.6h0M53.3 375.9h0M49.1 384.1h0M59.7 368.0h0M55.7 371.5h0M62.8 374.6h0M47.9 384.3h0M49.1 374.5h0M60.5 375.2h0M52.7 374.5h0M56.8 380.6h0M51.8 368.7h0M58.4 366.2h0M63.0 368.2h0M58.8 366.6h0M49.7 378.4h0M58.0 369.5h0M49.7 373.7h0M61.2 368.6h0M53.0 378.0h0M60.7 370.4h0M49.0 376.6h0M53.5 377.1h0M57.4 373.4h0M57.2 373.7h0M61.7 369.1h0M57.1 377.1h0M45.7 379.0h0M62.0 372.4h0M65.6 363.2h0M58.9 371.4h0M61.9 366.4h0M59.6 369.0h0M55.1 371.5h0M56.5 370.2h0M60.2 374.8h0M51.0 379.2h0M48.2 382.5h0M51.7 369.9h0M61.8 372.7h0M56.7 378.9h0M59.8 377.4h0M47.8 380.2h0M54.8 378.0h0M59.5 365.3h0M53.0 378.6h0M60.5 368.8h0M58.7 372.3h0M59.6 365.4h0M50.2 371.4h0M53.7 376.8h0M53.2 378.8h0M49.9 377.1h0M49.3 381.3h0M53.2 371.1h0M57.3 375.0h0M51.5 380.6h0M48.7 376.7h0M59.1 370.6h0M55.0 375.5h0M53.6 370.5h0M54.3 374.9h0M56.4 375.9h0M51.6 374.6h0M58.9 368.5h0M47.0 380.7h0M48.7 381.5h0M58.8 373.0h0M50.8 369.5h0M57.6 375.7h0M47.0 379.2h0M52.3 375.9h0M60.0 374.9h0M56.9 374.8h0M57.9 363.5h0M58.7 374.9h0M55.3 372.9h0M51.8 372.3h0M52.4 370.8h0M55.3 374.2h0M54.1 375.7h0M62.9 373.7h0M63.5 367.3h0M58.2 372.3h0M52.7 373.3h0M64.0 367.1h0M54.9 378.9h0M55.3 378.0h0M62.6 369.3h0M60.9 375.3h0M57.9 375.0h0M53.7 382.2h0M55.0 378.1h0M57.3 369.9h0M54.6 380.0h0M64.0 370.5h0M57.0 368.7h0M59.0 370.2h0M61.4 368.1h0M48.7 379.0h0M55.9 371.5h0M63.2 373.4h0M62.5 374.4h0M51.2 375.1h0M54.2 374.1h0M57.6 374.2h0M54.9 379.7h0M62.6 364.6h0M54.9 366.7h0M60.1 375.7h0M55.6 379.2h0M57.8 367.2h0M48.7 375.5h0M45.1 381.3h0M52.5 379.1h0M55.9 368.1h0M51.1 380.8h0M59.6 368.3h0M46.1 380.1h0M62.4 372.3h0M55.2 376.8h0M53.9 369.5h0M50.2 375.1h0M59.2 370.5h0M48.7 379.1h0M47.2 379.0h0M54.6 377.2h0M61.2 373.0h0M59.5 372.2h0M49.8 370.0h0M56.1 375.8h0M52.1 373.9h0M57.0 371.9h0M51.9 382.7h0M54.9 370.9h0M52.2 375.1h0M50.6 370.6h0M57.2 372.9h0M53.3 379.2h0M47.3 382.1h0M59.4 378.1h0M45.5 380.3h0M49.5 375.6h0M48.5 382.6h0M58.4 367.4h0M62.1 367.7h0M65.5 365.7h0M57.4 376.7h0M58.6 377.8h0M52.1 371.3h0M58.4 372.4h0M61.4 369.7h0M63.8 365.7h0M62.8 375.4h0M46.9 376.1h0M55.1 375.2h0M62.4 364.4h0M52.2 367.8h0M46.4 382.1h0M49.4 381.7h0M61.0 368.5h0M57.1 370.2h0M58.1 376.0h0M56.9 373.7h0M56.5 374.5h0M50.8 385.4h0M56.1 371.0h0M49.5 385.5h0M54.6 376.2h0M59.8 376.7h0M54.5 372.7h0M52.8 380.3h0M55.6 373.6h0M61.5 373.4h0M52.2 373.9h0M47.3 381.3h0M54.8 374.2h0M62.6 368.1h0M65.1 365.0h0M61.9 365.3h0M58.5 375.3h0M56.0 377.1h0M55.6 380.6h0M46.0 378.0h0M58.5 376.0h0M56.3 378.4h0M54.6 376.1h0M47.7 380.0h0M60.6 368.6h0M55.0 368.8h0M50.5 380.3h0M56.7 377.5h0M60.1 368.3h0M55.0 378.5h0M47.0 382.1h0M50.3 385.6h0M55.9 371.7h0M51.5 377.3h0M59.6 371.1h0M60.4 366.6h0M59.1 369.6h0M47.2 376.2h0M49.5 380.2h0M65.4 363.7h0M58.0 367.4h0M63.6 365.8h0M66.4 362.8h0M57.8 372.5h0M53.8 377.0h0M50.5 378.6h0M61.4 373.0h0M48.3 379.1h0M60.7 375.3h0M59.8 371.8h0M52.8 376.5h0M50.0 376.7h0M60.9 372.8h0M59.1 374.1h0M50.2 374.8h0M55.2 378.6h0M45.7 377.0h0M48.2 378.4h0M57.6 369.1h0M53.8 378.2h0M55.9 383.1h0M53.2 386.6h0M55.8 375.9h0M55.3 372.9h0M54.0 371.2h0M61.8 364.2h0M49.4 382.9h0M64.6 364.9h0M53.8 375.7h0M52.9 380.9h0M53.6 381.7h0M60.1 370.5h0M61.0 379.1h0M58.8 371.3h0M57.3 370.2h0M55.0 378.5h0M60.3 370.4h0M52.6 381.3h0M63.4 369.3h0M59.3 369.3h0M47.9 381.0h0M61.7 372.8h0M50.1 376.8h0M56.2 373.3h0M49.4 380.2h0M47.9 378.5h0M50.0 372.6h0M55.3 370.8h0M57.1 367.2h0M64.6 367.8h0M54.7 366.3h0M49.5 372.6h0M55.1 381.0h0M54.2 374.0h0M55.5 370.1h0M52.3 378.5h0M59.5 374.3h0M48.3 382.2h0M52.7 376.7h0M54.6 376.0h0M55.9 374.2h0M59.7 372.3h0M45.3 382.3h0M45.3 377.9h0M56.7 373.7h0M52.2 377.2h0M58.9 374.8h0M49.5 378.5h0M62.4 370.1h0M56.2 375.7h0M61.5 366.3h0M59.6 369.5h0M58.2 368.2h0M49.0 379.2h0M52.4 373.6h0M50.0 369.7h0M61.4 372.4h0M44.6 381.4h0M59.6 371.2h0M52.0 381.3h0M60.0 366.1h0M58.0 371.9h0M55.6 371.9h0M58.4 371.4h0M58.2 375.7h0M55.1 380.3h0M50.5 371.3h0M56.5 374.4h0M53.1 374.8h0M47.8 383.8h0M60.8 368.7h0M60.8 373.5h0M55.8 376.6h0M48.8 377.7h0M52.9 380.7h0M58.8 368.8h0M64.7 366.0h0M60.5 371.6h0M51.5 377.4h0M54.7 372.6h0M50.6 377.3h0M46.2 378.5h0M59.4 375.3h0M58.9 374.6h0M52.2 379.0h0M58.8 369.9h0M49.6 375.2h0M54.9 376.3h0M60.1 373.7h0M56.8 371.3h0M52.9 376.1h0M65.7 363.8h0M51.9 383.2h0M54.2 378.2h0M49.4 379.2h0M51.1 376.6h0M52.8 381.8h0M60.4 371.3h0M53.8 385.2h0M51.7 380.1h0M55.1 378.3h0M52.0 374.9h0M60.0 365.7h0M56.5 372.7h0M61.2 366.9h0M50.1 371.9h0M62.3 367.8h0M53.1 374.9h0M48.9 385.2h0M50.4 381.1h0M57.6 369.6h0M54.0 376.4h0M55.4 381.4h0M56.7 376.5h0M55.2 373.9h0M55.1 373.3h0M59.8 369.6h0M50.2 369.3h0M55.8 379.3h0M50.1 371.6h0M55.7 380.5h0M50.6 377.2h0M52.8 384.6h0M54.7 376.4h0M58.1 380.0h0M52.8 382.5h0M50.6 375.0h0M54.3 375.0h0M62.2 369.5h0M54.7 376.6h0M54.6 379.8h0M57.3 376.1h0M62.3 366.4h0M55.4 373.4h0M54.3 369.3h0M51.4 384.0h0M52.7 371.1h0M53.3 381.0h0M57.0 372.4h0M57.2 371.5h0M45.5 375.7h0M55.4 386.4h0M55.8 379.8h0M49.4 373.4h0M58.6 381.6h0M56.2 375.3h0M54.3 381.8h0M56.9 373.4h0M54.2 374.3h0M50.0 379.6h0M47.9 381.8h0M51.0 378.7h0M60.7 370.1h0M54.5 369.7h0M56.7 373.3h0M53.4 377.0h0M53.2 379.6h0M59.2 371.5h0M53.1 381.6h0M64.5 364.2h0M56.9 371.2h0M52.9 370.4h0M54.9 377.3h0M52.9 370.1h0M57.4 370.9h0M46.5 381.8h0M53.3 381.6h0M51.2 372.8h0M56.0 381.9h0M48.0 379.0h0M52.9 374.1h0M56.3 366.9h0M47.5 380.0h0M53.7 381.9h0M56.0 373.9h0M54.8 380.8h0M52.0 372.8h0M55.6 366.9h0M54.0 378.4h0M55.6 367.1h0M59.1 373.7h0M53.3 371.9h0M50.4 381.6h0M62.5 363.2h0M55.6 375.7h0M58.6 378.4h0M47.4 381.8h0M63.1 369.1h0M60.1 365.0h0M57.7 371.0h0M61.5 373.0h0M57.8 370.6h0M58.5 373.1h0M56.2 376.1h0M58.1 376.6h0M64.3 368.9h0M58.7 367.8h0M64.4 368.7h0M54.8 370.2h0M60.4 370.8h0M57.5 374.3h0M52.9 376.8h0M51.0 380.7h0M56.0 377.8h0M53.0 382.9h0M62.9 368.8h0M62.0 374.7h0M64.7 367.1h0M51.3 372.1h0M60.7 372.9h0M53.1 373.4h0M47.8 379.9h0M56.6 369.6h0M65.2 363.1h0M46.4 381.5h0M57.2 372.0h0M54.2 372.2h0M50.3 380.4h0M51.6 377.0h0M57.6 378.2h0M52.5 373.9h0M61.4 375.0h0M47.3 376.2h0M54.0 371.4h0M59.2 365.7h0M54.0 370.7h0M60.0 368.2h0M62.5 375.0h0M61.8 365.8h0M56.2 370.2h0M51.8 375.0h0M58.4 374.1h0M55.5 372.5h0M57.8 369.4h0M55.3 374.6h0M47.3 379.5h0M65.0 366.9h0M47.9 382.0h0M61.3 371.8h0M51.2 373.7h0M56.1 370.8h0M54.5 378.6h0M55.4 383.1h0M57.4 374.8h0M48.6 383.7h0M62.4 369.3h0M63.2 364.8h0M60.4 367.4h0M54.0 375.1h0M53.8 374.3h0M53.7 381.4h0M56.3 380.2h0M59.3 375.5h0M48.8 380.1h0M58.0 373.0h0M58.6 368.2h0M57.9 369.2h0M54.0 385.0h0M45.9 382.3h0M51.3 383.0h0M63.3 366.9h0M56.6 372.8h0M56.1 364.5h0M51.5 377.0h0M58.6 379.7h0M53.3 379.6h0M64.3 367.6h0M53.6 370.4h0M50.0 384.1h0M51.3 379.0h0M51.9 378.4h0M60.9 374.5h0M55.0 378.9h0M57.3 369.3h0M48.9 383.7h0M49.9 386.1h0M51.7 377.5h0M55.8 372.7h0M62.5 370.1h0M64.4 368.0h0M62.2 369.5h0M58.9 378.3h0M54.3 376.1h0M58.6 372.6h0M55.7 381.7h0M55.8 375.4h0M52.5 375.5h0M54.3 372.0h0M63.9 370.1h0M64.1 374.4h0M53.1 378.6h0M59.4 369.8h0M50.9 382.9h0M51.9 372.4h0M46.4 381.5h0M55.7 372.3h0M57.1 376.4h0M59.9 368.8h0M64.3 368.0h0M58.1 368.0h0M60.6 371.0h0M59.4 369.8h0M46.5 374.0h0M49.6 380.0h0M57.9 366.9h0M65.2 361.4h0M57.3 376.5h0M51.1 376.9h0M53.8 377.9h0M61.7 364.6h0M55.2 377.9h0M51.3 372.2h0M59.1 378.9h0M55.5 369.7h0M52.1 381.0h0M55.8 377.1h0M52.9 376.6h0M51.9 378.1h0M55.9 373.9h0M51.4 375.4h0M64.9 364.8h0" stroke="#1a2ee2" stroke-width="0.72" stroke-linecap="round" opacity="0.7" fill="none"/>
<path d="M52.7 380.5h0M52.1 376.9h0M51.5 377.2h0M53.5 372.4h0M56.4 370.0h0M57.1 373.5h0M51.9 379.8h0M53.8 375.7h0M57.1 372.6h0M61.9 369.0h0M54.1 373.8h0M57.5 377.0h0M52.2 372.6h0M53.3 375.5h0M54.5 376.0h0M57.0 372.9h0M55.6 377.8h0M51.1 378.9h0M49.5 381.0h0M53.7 380.9h0M53.0 377.9h0M57.2 376.6h0M50.5 379.4h0M49.2 377.8h0M60.3 375.6h0M54.7 376.5h0M58.5 372.0h0M57.1 375.6h0M55.3 376.8h0M52.2 374.1h0M51.3 378.0h0M49.9 380.4h0M53.8 376.4h0M59.5 370.0h0M55.7 369.1h0M54.6 378.1h0M51.2 379.1h0M55.2 371.1h0M51.0 377.4h0M52.6 382.6h0M58.1 372.8h0M55.6 377.8h0M55.1 373.1h0M54.6 380.4h0M50.2 379.0h0M54.2 378.0h0M59.1 373.9h0M46.9 381.4h0M57.6 372.3h0M59.2 372.6h0M50.4 373.8h0M56.8 368.4h0M53.6 381.2h0M55.0 370.8h0M46.7 382.1h0M52.4 376.0h0M57.4 374.4h0M57.6 372.9h0M55.5 374.1h0M53.8 372.4h0M56.6 370.3h0M51.5 374.8h0M51.5 372.9h0M52.5 371.8h0M56.2 371.5h0M53.6 377.3h0M53.5 377.1h0M52.5 376.7h0M58.5 371.2h0M53.8 379.8h0M51.8 376.7h0M51.1 379.3h0M58.1 373.6h0M54.3 372.4h0M49.8 379.3h0M54.1 372.3h0M56.1 369.8h0M55.2 374.4h0M55.9 370.8h0M50.2 375.9h0M51.8 371.0h0M61.9 367.1h0M51.6 376.2h0M56.0 373.2h0M55.0 373.0h0M55.1 377.8h0M54.2 381.6h0M54.4 373.7h0M62.1 370.0h0M47.2 380.6h0M57.8 372.1h0M48.5 372.5h0M52.7 375.3h0M54.2 377.6h0M54.7 375.8h0M55.1 375.0h0M58.1 374.8h0M52.5 375.5h0M45.6 378.5h0M55.2 374.9h0M52.2 376.2h0M56.6 374.9h0M57.0 378.5h0M55.3 373.1h0M55.8 377.6h0M52.5 369.9h0M56.4 369.8h0M51.4 374.5h0M51.9 375.4h0M55.5 375.7h0M52.4 381.5h0M58.7 369.3h0M54.3 377.6h0M52.9 377.5h0M57.7 373.0h0M53.3 380.4h0M56.8 376.9h0M49.9 380.2h0M50.1 374.4h0M54.3 376.1h0M47.8 382.7h0M56.4 374.0h0M50.0 376.1h0M57.3 374.8h0M52.2 376.2h0M55.7 375.8h0M57.7 369.6h0M57.3 377.7h0M51.2 379.1h0M56.5 370.6h0M49.4 379.0h0M57.1 376.0h0M52.4 376.8h0M51.0 379.9h0M58.9 373.8h0M50.2 380.4h0M52.7 374.2h0M55.6 372.1h0M59.0 370.5h0M54.4 372.9h0M51.5 378.9h0M56.8 378.8h0M55.0 373.3h0M46.1 379.6h0M55.9 377.0h0M58.5 372.1h0M56.1 369.8h0M58.4 377.0h0M54.7 369.5h0M51.0 378.2h0M58.3 374.1h0M48.1 379.5h0M54.8 379.7h0M49.2 375.6h0M59.3 376.5h0M58.2 372.0h0M58.4 370.3h0M54.2 374.1h0M55.6 374.1h0M49.3 375.5h0M47.9 382.2h0M60.3 375.8h0M57.9 376.0h0M52.6 376.0h0M53.0 382.3h0M47.8 374.5h0M59.7 375.0h0M55.5 377.6h0M55.5 373.0h0M50.1 376.7h0M56.1 369.4h0M54.1 374.6h0M50.1 379.5h0M48.0 383.5h0M59.7 374.8h0M48.4 381.6h0M56.8 374.5h0M49.0 380.7h0M50.0 379.0h0M49.4 380.5h0M52.3 377.9h0M51.0 370.9h0M52.3 375.2h0M61.8 372.9h0M53.7 377.0h0M60.2 369.4h0M55.2 379.4h0M51.7 375.2h0M56.3 373.5h0M51.5 375.0h0M45.6 381.9h0M52.3 374.4h0M54.1 372.9h0M58.9 373.5h0M51.4 376.9h0M51.1 374.6h0M52.3 378.1h0M54.7 376.2h0M55.0 377.4h0M56.7 374.8h0M53.1 372.8h0M56.7 373.4h0M60.6 369.5h0M55.9 378.2h0M56.1 373.7h0M59.4 372.4h0M54.2 375.3h0M54.4 378.8h0M48.2 379.1h0M53.5 377.9h0M51.2 371.5h0M48.4 382.2h0M54.1 372.4h0M53.5 374.6h0M48.8 383.5h0M57.2 381.6h0M55.3 374.6h0M50.3 381.0h0M53.2 374.7h0M52.5 377.6h0M57.5 368.9h0M51.3 378.4h0M58.3 375.9h0M55.4 376.6h0M56.3 375.3h0M56.9 370.7h0M54.5 375.2h0M53.5 378.6h0M59.6 375.0h0M54.2 373.4h0M48.4 378.4h0M50.4 378.8h0M56.5 375.0h0M55.4 375.2h0M56.9 371.7h0M52.4 379.7h0M60.3 370.1h0M51.4 382.7h0M52.3 380.4h0M54.3 375.6h0M52.6 375.3h0M56.8 376.3h0M61.7 371.2h0M50.4 379.6h0M51.2 382.6h0M56.3 373.1h0M57.6 376.4h0M51.4 379.8h0M55.9 374.6h0M54.1 377.0h0M52.1 374.1h0M56.1 373.0h0M56.2 375.5h0M55.1 378.6h0M49.5 376.8h0M62.8 368.4h0M47.6 379.5h0M60.4 369.1h0M46.9 380.4h0M51.5 376.7h0M56.9 375.7h0M52.2 381.1h0M49.8 379.7h0M52.3 376.0h0M54.6 377.9h0M57.0 377.2h0M49.4 382.5h0M60.5 367.3h0M54.5 373.5h0M50.3 379.7h0M56.6 374.3h0M52.6 376.4h0M59.2 375.5h0M50.8 376.2h0M55.0 378.7h0M46.5 380.5h0M53.4 379.3h0M52.7 373.1h0M62.3 370.7h0M59.7 371.9h0M55.5 373.3h0M49.1 380.4h0M57.1 371.7h0M59.6 368.8h0M48.8 375.9h0M57.3 372.6h0M56.8 369.5h0M57.8 372.9h0M52.2 374.4h0M57.8 373.7h0M56.1 371.4h0M59.0 370.2h0M53.3 373.8h0M53.6 375.3h0M55.2 378.1h0M46.8 380.0h0M53.3 375.1h0M61.4 372.9h0M55.5 374.1h0M56.0 377.1h0M56.8 379.2h0M51.2 379.2h0M54.9 380.9h0M51.2 372.5h0M54.2 372.1h0M56.7 373.3h0M56.6 373.5h0M51.8 367.6h0M56.4 370.0h0M53.8 372.7h0M55.7 374.9h0M57.8 375.2h0M55.2 376.3h0M53.3 374.9h0M53.2 370.5h0M54.7 377.8h0M53.9 373.8h0M54.0 376.8h0M61.8 375.1h0M54.2 370.6h0M54.5 373.0h0M54.2 374.0h0M54.6 375.3h0M53.1 382.0h0M52.9 379.2h0M55.2 375.0h0M44.2 380.6h0M51.6 373.2h0M53.8 378.6h0M54.4 380.6h0M53.8 378.2h0M62.6 367.9h0M52.8 379.2h0M53.5 376.6h0M52.1 374.7h0M58.8 378.3h0M53.3 372.5h0M60.4 368.0h0M51.5 374.1h0M60.2 374.3h0M56.1 379.8h0M49.8 377.8h0M51.9 374.7h0M47.5 379.9h0M53.4 372.4h0M58.8 376.2h0M56.1 374.6h0M52.6 370.8h0M62.4 371.1h0M57.3 370.6h0M47.7 380.6h0M51.4 382.0h0M52.1 377.5h0M63.4 366.5h0M51.9 375.7h0M55.7 378.4h0M51.9 378.9h0M59.3 377.0h0M58.7 369.0h0M53.6 374.9h0M58.5 369.7h0M55.2 381.7h0M54.6 381.1h0M52.4 380.0h0M55.8 379.5h0M50.8 377.5h0M48.1 377.4h0M52.2 378.5h0M54.7 375.7h0M57.2 372.8h0M57.7 374.9h0M51.7 376.3h0M53.4 379.0h0M53.0 378.8h0M53.5 377.3h0M57.4 368.1h0M50.1 374.1h0M49.8 380.6h0M55.0 376.1h0M51.8 383.7h0M57.8 375.3h0M56.9 376.4h0M54.4 375.1h0M56.0 370.8h0M55.4 375.1h0M55.2 371.3h0M48.9 382.0h0M56.6 379.2h0M48.3 382.8h0M52.7 377.9h0M61.8 369.8h0M57.7 373.5h0M46.5 383.0h0M56.4 377.1h0M53.0 379.7h0M58.8 370.2h0M52.8 377.4h0M57.0 372.6h0M56.7 380.4h0M49.0 380.6h0M53.4 378.8h0M58.2 370.8h0M50.1 381.1h0M58.4 370.1h0M52.0 377.8h0M53.0 374.2h0M51.7 372.8h0M59.1 377.4h0M52.8 375.7h0M49.6 384.8h0M54.1 374.5h0M58.7 372.1h0M54.5 368.3h0M59.7 373.6h0M56.5 376.9h0M52.9 376.5h0M50.3 378.8h0M54.0 376.3h0M58.8 372.2h0M58.2 371.4h0M50.0 378.0h0M49.3 381.2h0M53.1 373.0h0M57.9 369.9h0M56.6 374.4h0M50.0 376.7h0M59.2 372.2h0M55.5 380.7h0M56.3 373.3h0M53.2 369.5h0M47.0 381.6h0M57.7 372.1h0M57.6 372.4h0M57.6 374.3h0M53.1 374.9h0M54.4 370.5h0M55.5 374.2h0M59.3 376.0h0M50.3 377.4h0M54.7 375.9h0M54.3 378.1h0M56.6 368.3h0M51.2 377.0h0M52.6 378.4h0M59.5 370.7h0M54.5 378.0h0M50.0 378.5h0M51.5 377.3h0M56.2 374.0h0M56.7 380.6h0M49.4 376.0h0M54.7 378.3h0M52.2 373.4h0M52.0 378.2h0M46.2 382.3h0M52.9 372.1h0M54.4 374.2h0M58.3 374.3h0M51.1 379.1h0M55.8 378.0h0M56.3 374.7h0M54.7 380.4h0M53.9 373.4h0M54.0 378.3h0M52.5 377.9h0M52.8 372.8h0M60.6 371.4h0M48.8 378.4h0M54.0 378.6h0M52.5 375.8h0M49.6 375.9h0M59.5 369.9h0M49.9 380.5h0M50.0 378.4h0M47.6 380.2h0M53.2 382.1h0M58.1 370.6h0M54.4 373.2h0M55.2 377.5h0M54.8 377.5h0M56.0 372.8h0M50.6 375.7h0M52.4 377.1h0M54.2 377.3h0M56.0 381.1h0M48.2 375.2h0M52.1 381.9h0M51.1 378.2h0M49.3 381.8h0M59.7 374.6h0M48.6 376.5h0M57.3 372.2h0M54.7 374.6h0M52.7 381.9h0M56.1 377.6h0M54.4 374.1h0M57.9 370.8h0M50.4 379.8h0M55.7 377.3h0M52.9 373.5h0M49.7 374.8h0M58.8 373.1h0M52.9 376.0h0M56.9 374.3h0M55.0 373.0h0M57.3 375.2h0M49.3 379.4h0M60.6 377.0h0M56.7 376.0h0M55.9 371.7h0M56.2 372.1h0M55.7 371.9h0M53.0 370.9h0M55.8 374.7h0M52.0 377.9h0M56.7 375.1h0M57.8 377.3h0M53.3 373.8h0M53.6 376.9h0M48.6 382.7h0M57.1 373.6h0M52.7 372.7h0M54.1 379.2h0M54.0 376.1h0M48.9 379.5h0M53.5 372.9h0M50.4 378.0h0M52.5 376.5h0M53.8 376.5h0M55.0 372.5h0M57.1 375.9h0M50.1 380.6h0M56.8 374.9h0M54.2 375.8h0M53.6 371.5h0M57.3 375.3h0M47.7 380.4h0M52.4 377.0h0M54.7 376.1h0M59.4 375.3h0M52.3 380.6h0M59.3 370.6h0M63.1 367.3h0M52.1 379.8h0M52.5 370.6h0M50.6 377.3h0M54.5 375.5h0M47.8 381.7h0M52.9 376.9h0M50.3 378.3h0M54.9 377.3h0M55.0 373.2h0M52.0 376.0h0M61.3 376.5h0M59.3 371.8h0M57.6 376.6h0M52.6 377.9h0M55.5 371.3h0M54.5 376.6h0M55.3 375.6h0M55.7 381.5h0M50.5 377.4h0M48.9 373.0h0M52.7 375.8h0M50.8 376.8h0M61.0 373.0h0M55.1 370.2h0M57.0 381.2h0M48.5 377.4h0M54.0 381.1h0M52.2 375.3h0M51.7 381.3h0M47.5 380.0h0M55.8 376.1h0M54.8 374.8h0M57.5 370.5h0M50.3 377.7h0M48.0 372.7h0M53.6 377.4h0M50.5 379.5h0M50.2 373.3h0M48.5 384.4h0M50.6 381.4h0M49.8 382.7h0M57.1 374.4h0M53.5 375.0h0M51.5 373.7h0M51.6 381.1h0M52.7 378.8h0M59.0 373.7h0M53.3 374.4h0M54.1 375.5h0M60.3 376.5h0M47.7 376.0h0M59.4 373.6h0M50.0 378.2h0M49.0 377.9h0M58.5 372.1h0M52.7 373.6h0M59.3 377.1h0M50.9 381.8h0M56.8 375.3h0M55.9 371.3h0M53.4 376.5h0M54.0 378.9h0M55.1 370.1h0M56.1 376.3h0M59.0 372.5h0M60.3 367.3h0M53.0 372.6h0M53.0 377.9h0M57.7 372.6h0M62.7 365.2h0M56.1 375.9h0M48.9 383.6h0M47.7 380.2h0M55.0 375.0h0M52.6 385.5h0M52.4 380.4h0M50.1 379.5h0M58.8 371.6h0M62.4 374.7h0M59.9 371.1h0M61.9 369.9h0M48.8 375.9h0M47.0 377.2h0M53.9 373.4h0M59.0 371.1h0M64.5 365.5h0M52.9 374.4h0M55.8 369.4h0M50.7 378.1h0M55.1 374.2h0M51.2 374.3h0M57.7 373.1h0M57.6 370.4h0M54.8 377.9h0M47.4 379.2h0M50.5 377.7h0M46.4 378.8h0M53.6 378.8h0M57.7 374.8h0M52.2 377.0h0M55.8 376.4h0M53.1 373.4h0M57.7 372.1h0M53.7 378.7h0M54.7 373.9h0M50.3 375.9h0M53.8 373.3h0M51.8 377.8h0M62.4 371.0h0M57.7 374.7h0M52.9 379.3h0M53.9 377.0h0M62.2 367.6h0M55.5 371.7h0M54.8 374.2h0M57.4 372.3h0M54.7 377.5h0M46.7 382.5h0M46.7 378.9h0M58.6 372.7h0M50.9 376.3h0M54.8 375.7h0M56.5 378.1h0M54.0 379.5h0M51.5 382.5h0M54.6 369.7h0M53.6 373.3h0M51.7 375.0h0M49.9 380.1h0M53.2 375.9h0M57.6 376.3h0M56.4 373.8h0M54.1 376.6h0M50.6 378.0h0M52.4 374.5h0M49.1 384.7h0M52.7 375.3h0M54.4 373.2h0M48.7 379.0h0M50.5 378.0h0M47.5 379.3h0M54.3 374.3h0M55.8 376.5h0M53.2 373.8h0M52.9 373.5h0M51.6 376.7h0M58.1 373.6h0M49.3 378.5h0M58.6 375.2h0M56.7 371.2h0M54.1 369.5h0M58.5 370.0h0M57.2 376.0h0M51.1 376.6h0M56.4 376.7h0M50.7 376.9h0M59.8 378.0h0M55.1 377.1h0M51.5 373.9h0M53.2 374.0h0M51.9 385.0h0M53.0 381.7h0M56.7 373.8h0M54.9 373.1h0M56.6 374.2h0M52.8 379.6h0M62.0 367.3h0M58.7 375.8h0M46.5 383.1h0M54.8 375.0h0M62.2 365.6h0M56.1 371.1h0M60.7 366.4h0M55.8 378.3h0M52.8 375.2h0M51.8 371.2h0M53.8 371.0h0M52.4 381.3h0M59.8 369.3h0M51.0 381.6h0M58.9 376.9h0M50.9 378.8h0M55.8 378.0h0M56.8 373.2h0M55.0 380.5h0M51.3 378.1h0M56.2 371.8h0M56.1 379.8h0M54.4 377.5h0M51.9 375.6h0M54.7 376.9h0M53.4 377.6h0M51.9 375.5h0M52.0 379.0h0M52.8 375.5h0M54.9 375.8h0M46.3 378.8h0M57.7 374.9h0M58.7 378.1h0M47.6 381.0h0M46.7 382.0h0M62.4 369.2h0M51.2 379.4h0M51.7 377.3h0M59.7 375.1h0M52.4 378.0h0M50.1 379.0h0M60.5 370.7h0M55.3 373.9h0M62.4 374.1h0M54.6 380.3h0M51.0 375.7h0M49.8 377.9h0M53.3 382.1h0M55.2 372.9h0M50.2 381.9h0M59.3 371.2h0M48.4 380.9h0M60.2 371.1h0M50.7 376.4h0M49.2 375.9h0M52.6 375.8h0M51.4 375.4h0M52.6 374.4h0M52.7 379.4h0M52.4 377.7h0M53.9 376.5h0M53.0 376.3h0M59.9 372.6h0M55.4 377.3h0M56.4 367.4h0M57.1 377.3h0M51.0 378.6h0M52.7 377.4h0M54.5 374.1h0M58.3 370.3h0M49.7 378.0h0M51.8 378.2h0M49.0 378.9h0M61.4 369.4h0M59.5 371.6h0M49.3 383.4h0M53.2 380.7h0M60.9 371.5h0M56.1 376.1h0M62.5 368.3h0M54.9 376.6h0M61.0 373.7h0M55.3 372.0h0M46.8 376.3h0M55.8 376.5h0M56.4 370.8h0M56.8 374.5h0M58.7 371.2h0M53.8 379.5h0M53.5 377.9h0M54.3 379.2h0M58.0 374.8h0M55.3 376.6h0M58.7 371.5h0M50.1 377.9h0M54.6 376.4h0M51.9 382.0h0M50.6 378.6h0M50.0 374.6h0M60.2 371.9h0M54.4 376.7h0M51.2 378.0h0M59.1 374.7h0M50.4 382.9h0M59.6 372.9h0M54.8 373.3h0M57.4 377.8h0M46.6 379.5h0M57.0 378.7h0M52.1 376.8h0M53.0 373.8h0M49.0 382.3h0M54.3 375.0h0M53.8 377.0h0M47.4 380.0h0M52.5 382.4h0M53.0 378.5h0M57.6 368.0h0M60.8 372.2h0M62.7 369.0h0M50.5 375.0h0M50.5 379.0h0M51.9 379.8h0M54.6 376.0h0M54.8 370.7h0M58.8 370.3h0M56.5 378.9h0M57.8 370.7h0M56.6 372.7h0M55.6 374.3h0M56.2 374.5h0M54.2 381.5h0M56.7 371.7h0M51.6 376.3h0M57.5 380.4h0M52.1 380.8h0M56.9 377.6h0M51.6 378.3h0M57.0 370.9h0M49.7 378.6h0M59.6 368.1h0M48.2 374.4h0M48.7 375.7h0M56.6 379.6h0M58.8 367.7h0M52.0 377.7h0M49.8 381.1h0M53.2 376.0h0M54.9 376.9h0M53.5 375.1h0M50.0 380.5h0M51.9 376.5h0M58.8 374.2h0M54.4 376.8h0M58.4 373.3h0M58.1 368.5h0M50.5 375.8h0M61.7 367.7h0M54.6 378.0h0M51.4 379.1h0M52.9 377.5h0M55.9 375.6h0M51.8 374.0h0M55.9 376.7h0M54.8 372.3h0M48.5 380.1h0M51.5 376.3h0M58.4 372.8h0M51.9 377.2h0M48.6 383.5h0M48.6 376.6h0M57.4 372.8h0M51.3 377.7h0M50.4 374.8h0M51.8 381.9h0M58.0 374.8h0M53.6 374.0h0M51.9 375.2h0M53.2 379.0h0M61.2 369.4h0M60.3 373.6h0M52.0 371.7h0M54.5 372.9h0M52.0 378.2h0M53.8 369.8h0M50.7 372.8h0M53.4 377.1h0M55.0 376.7h0M55.3 372.5h0M55.5 372.0h0M60.8 374.8h0M53.2 373.2h0M53.2 370.2h0M50.5 380.5h0M50.7 380.7h0M53.6 375.1h0M52.2 373.8h0M59.6 373.5h0M59.8 370.6h0M56.9 376.8h0M54.7 380.3h0M54.7 370.0h0M55.8 373.3h0M63.3 365.8h0M54.3 376.4h0M52.5 378.6h0M55.4 377.2h0M54.8 375.3h0M52.3 380.4h0M58.3 372.7h0M56.6 374.2h0M50.9 381.2h0M46.6 380.9h0M54.3 376.1h0M55.3 377.6h0M51.5 377.1h0M56.0 375.6h0M54.8 379.8h0M57.7 375.4h0M61.1 371.0h0M50.2 376.0h0M58.2 373.5h0M52.1 377.7h0M57.6 374.5h0M53.9 382.5h0M58.7 370.9h0M54.7 378.4h0M55.4 370.7h0M55.8 378.4h0M53.5 377.6h0M48.9 378.7h0M58.5 373.7h0M55.1 376.6h0M52.9 378.2h0M50.1 383.6h0M59.7 371.5h0M56.9 374.8h0M57.8 375.0h0M52.9 377.6h0M57.8 376.9h0M50.1 375.7h0M54.8 375.3h0M50.6 380.2h0M52.2 379.6h0M54.3 370.9h0M57.6 369.9h0M49.9 380.1h0M52.3 374.5h0M57.7 372.4h0M52.9 376.9h0M59.1 369.8h0M53.3 372.2h0M49.6 384.9h0M53.9 377.5h0M61.3 366.8h0M52.7 371.7h0M48.6 380.5h0M50.6 373.9h0M60.2 369.9h0M56.5 371.8h0M53.3 375.7h0M48.9 374.4h0M49.2 381.1h0M52.7 373.0h0M51.1 375.8h0M61.7 365.7h0M55.1 383.8h0M53.3 375.6h0M58.1 368.3h0M54.7 378.8h0M57.1 373.0h0M54.8 376.9h0M50.9 375.1h0M53.8 376.6h0M46.5 381.4h0M55.4 374.6h0M56.3 374.1h0M56.9 375.9h0M52.7 379.0h0M57.8 373.8h0" stroke="#0c18d6" stroke-width="0.88" stroke-linecap="round" opacity="0.9" fill="none"/>
<path d="M62.9 353.6h0M65.1 346.3h0M73.1 339.0h0M72.3 339.7h0M67.6 339.2h0M68.7 349.7h0M66.3 350.5h0M57.1 354.8h0M65.4 360.0h0M69.0 340.2h0M69.7 342.8h0M68.9 342.5h0M70.1 347.8h0M72.2 340.1h0M71.3 341.4h0M67.4 342.1h0M70.3 349.4h0M69.7 345.6h0M78.2 335.4h0M79.2 333.4h0M73.9 331.4h0M70.8 342.0h0M61.1 358.7h0M69.7 344.1h0M70.4 342.4h0M75.5 332.3h0M64.9 342.9h0M68.5 348.0h0M71.9 343.2h0M69.4 345.0h0M69.4 351.8h0M62.9 353.3h0M64.0 357.4h0M66.6 348.1h0M65.2 358.3h0M67.7 352.0h0M68.3 345.5h0M65.9 346.0h0M72.2 342.8h0M76.2 325.3h0M65.2 346.2h0M63.1 347.5h0M65.2 354.4h0M64.9 349.7h0M72.9 339.5h0M69.5 343.2h0M67.7 344.3h0M74.4 335.3h0M64.5 350.0h0M68.1 343.0h0M76.8 334.2h0M71.6 341.1h0M62.2 353.1h0M71.3 341.7h0M62.7 347.9h0M65.4 352.9h0M61.7 364.9h0M54.3 364.1h0M74.5 334.5h0M62.5 345.9h0M66.9 349.6h0M64.8 352.0h0M64.1 349.8h0M69.0 351.4h0M77.1 338.0h0M60.3 352.8h0M62.9 353.1h0M75.4 341.5h0M63.1 358.3h0M64.9 348.9h0M68.8 336.7h0M77.1 341.6h0M72.0 335.5h0M70.9 344.1h0M66.9 355.7h0M70.2 348.0h0M66.4 346.2h0M67.5 350.0h0M73.4 343.6h0M56.7 355.8h0M71.5 339.5h0M75.6 336.9h0M67.7 347.7h0M64.4 347.4h0M68.2 343.4h0M67.3 346.3h0M61.5 355.8h0M67.6 342.1h0M70.2 339.7h0M73.4 325.9h0M77.5 339.0h0M67.3 342.6h0M72.0 349.2h0M68.1 348.1h0M67.6 344.9h0M72.9 345.1h0M73.7 330.5h0M66.0 347.9h0M72.2 336.7h0M63.7 350.5h0M69.8 346.1h0M68.0 340.8h0M68.4 359.5h0M66.1 344.5h0M72.1 334.6h0M69.1 349.9h0M74.7 343.8h0M70.5 345.6h0M64.3 351.5h0M76.6 334.5h0M65.9 344.6h0M77.2 341.2h0M73.6 344.9h0M68.9 340.8h0M70.5 339.4h0M72.4 345.4h0M69.3 344.7h0M60.9 354.6h0M65.1 343.6h0M73.8 340.6h0M67.7 343.1h0M61.0 352.9h0M68.1 344.1h0M60.8 357.5h0M61.0 351.0h0M66.6 347.9h0M67.0 339.8h0M69.4 346.7h0M69.1 340.6h0M63.9 352.1h0" stroke="#1a2ee2" stroke-width="0.56" stroke-linecap="round" opacity="0.45" fill="none"/>
<path d="M81.5 339.1h0M74.3 344.7h0M80.8 338.6h0M76.1 331.4h0M77.6 338.2h0M76.2 338.2h0M81.5 339.9h0M81.0 337.4h0M85.1 343.7h0M78.0 345.3h0M83.2 337.9h0M80.3 341.0h0M77.1 341.8h0M82.8 332.7h0M85.7 332.3h0M78.7 341.9h0M78.4 342.1h0M79.1 330.7h0M75.8 330.8h0M79.7 343.1h0M84.4 342.5h0M73.8 339.6h0M75.6 334.1h0M76.5 339.8h0M76.3 343.2h0M78.4 338.1h0M78.1 334.7h0M74.1 335.6h0M78.1 344.4h0M79.4 343.4h0M85.0 331.5h0M77.7 339.0h0M79.0 329.9h0M82.2 344.5h0M83.4 335.5h0M77.3 338.2h0M76.7 339.1h0M79.0 341.1h0M82.6 348.1h0M74.3 343.3h0M79.9 337.6h0M78.1 338.2h0M79.2 333.6h0M79.7 334.8h0M85.9 334.6h0M89.1 337.3h0M78.5 337.6h0M76.2 335.5h0M79.4 336.3h0M76.3 327.5h0M79.3 335.1h0M87.4 340.9h0M76.6 344.6h0M78.1 343.1h0M76.3 346.3h0M79.1 334.2h0M84.8 335.2h0M84.3 341.4h0M80.7 338.2h0M80.3 336.3h0" stroke="#1a2ee2" stroke-width="0.56" stroke-linecap="round" opacity="0.5" fill="none"/>
<path d="M44.9 370.2h0M77.4 374.3h0M47.2 387.8h0M69.0 377.9h0M50.5 379.7h0M34.6 379.4h0M32.6 384.6h0M65.1 372.5h0M47.0 374.0h0M63.7 374.9h0M41.7 381.0h0M59.6 375.2h0M42.8 369.9h0M56.7 369.3h0M52.1 369.4h0M66.6 378.0h0M41.1 385.5h0M39.8 376.7h0M50.4 384.6h0M52.9 386.0h0M27.4 374.9h0M45.7 370.8h0M52.4 365.4h0M41.3 373.2h0M38.1 380.2h0M51.6 374.0h0M44.2 378.6h0M45.4 371.0h0M34.9 387.2h0M28.7 371.8h0M59.5 375.8h0M29.9 382.3h0M57.8 370.7h0M33.2 371.9h0M61.3 366.7h0M28.4 379.0h0M34.1 379.8h0M49.6 370.8h0M58.3 374.3h0M62.5 383.2h0M67.2 374.4h0M59.2 378.5h0M56.7 367.8h0M65.4 384.1h0M29.8 380.6h0M56.2 371.0h0M59.2 368.2h0M35.1 376.6h0M38.1 364.4h0M44.9 381.5h0M45.3 379.7h0M46.3 375.0h0M45.1 384.7h0M59.6 381.6h0M36.9 374.5h0M53.6 376.8h0M51.9 375.3h0M55.1 384.0h0M53.4 373.9h0M55.8 381.4h0M51.3 374.9h0M60.7 373.0h0M52.9 382.5h0M51.2 386.0h0M58.5 379.7h0M73.3 379.3h0M54.8 370.8h0M43.1 382.2h0M37.6 373.8h0M51.3 374.8h0M35.9 382.4h0M43.7 370.4h0M61.1 381.0h0M37.1 380.5h0M56.8 377.6h0M30.5 360.7h0M47.0 377.3h0M46.1 378.7h0M37.0 375.2h0M59.6 369.7h0M36.5 371.9h0M53.5 389.5h0M37.6 381.6h0M30.9 369.3h0M63.6 372.5h0M64.7 370.3h0M42.7 376.6h0M52.8 372.1h0M32.5 371.9h0M65.5 365.6h0M28.2 375.9h0M30.7 376.7h0M46.8 378.5h0M51.4 369.7h0M51.5 377.2h0M45.0 372.0h0M36.4 373.7h0M67.0 383.0h0M38.5 369.2h0M39.2 380.3h0M49.8 387.9h0M44.9 386.8h0M40.5 377.6h0M59.5 372.9h0M75.1 375.4h0M65.8 373.0h0M42.9 374.0h0M47.5 383.2h0M60.3 382.9h0M47.6 371.3h0M29.6 383.9h0M37.0 376.1h0M56.2 371.4h0M36.1 375.0h0M27.0 376.5h0M53.2 380.1h0M56.8 379.9h0M39.4 376.4h0M37.8 373.1h0M39.0 387.7h0M50.3 378.8h0M34.2 377.3h0M41.2 376.2h0M27.8 365.6h0M51.9 382.3h0M47.5 378.7h0M29.2 381.3h0M44.6 373.9h0M51.0 364.5h0M42.4 388.7h0M36.1 378.7h0M47.4 370.4h0M53.4 386.0h0M46.4 371.0h0M35.2 379.9h0M62.5 383.4h0M52.7 385.8h0M48.9 383.0h0M54.9 380.0h0M68.3 381.8h0M34.2 388.1h0M56.1 382.0h0M56.5 373.4h0M30.9 388.4h0M40.0 382.6h0M56.5 372.7h0M36.0 375.2h0M37.3 383.0h0M48.2 378.4h0M55.4 377.2h0M45.6 378.1h0M27.9 383.5h0M59.6 387.9h0" stroke="#1a2ee2" stroke-width="0.56" stroke-linecap="round" opacity="0.38" fill="none"/>
<path d="M27.2 358.0h0M27.1 350.8h0M27.1 362.8h0M27.4 372.3h0M27.4 387.1h0M27.3 368.4h0M27.4 371.2h0M27.4 381.5h0M27.2 354.8h0M27.3 356.4h0M27.5 386.5h0M27.2 385.7h0M27.5 353.8h0M27.4 389.6h0M27.3 387.9h0M27.4 371.3h0M27.5 354.2h0M27.4 376.2h0M27.2 361.5h0M27.0 361.8h0M27.1 353.1h0M27.2 386.0h0M27.2 355.6h0M27.5 373.0h0M27.1 379.9h0M27.2 358.3h0M27.0 367.0h0M27.4 350.2h0M27.2 356.5h0M27.1 377.9h0M27.3 369.4h0M27.2 379.3h0M27.5 383.6h0M27.4 376.5h0M27.5 369.1h0M27.2 385.2h0M27.3 382.0h0M27.4 378.7h0M27.0 376.0h0M27.1 386.6h0M27.5 384.5h0M27.0 381.7h0M27.2 387.7h0M27.2 351.2h0M27.3 356.5h0M27.0 351.8h0M27.4 364.9h0M27.3 363.5h0M27.2 379.1h0M27.0 369.1h0" stroke="#1a2ee2" stroke-width="0.6" stroke-linecap="round" opacity="0.4" fill="none"/>
<path d="M36.3 389.5h0M33.2 389.3h0M52.5 389.2h0M57.8 389.6h0M32.6 389.2h0M27.7 389.4h0M54.9 389.5h0M61.7 389.5h0M37.6 389.4h0M49.1 389.3h0M30.8 389.6h0M38.1 389.3h0M56.3 389.3h0M43.8 389.5h0M66.5 389.5h0M36.7 389.5h0M57.8 389.1h0M54.7 389.5h0M70.0 389.6h0M43.9 389.3h0M47.5 389.4h0M38.5 389.3h0M66.4 389.4h0M29.2 389.5h0M51.4 389.2h0M72.5 389.3h0M67.1 389.2h0M53.3 389.2h0M62.5 389.4h0M55.7 389.5h0M69.5 389.6h0M60.9 389.4h0M68.2 389.5h0M37.8 389.4h0M29.6 389.6h0M40.8 389.2h0M30.4 389.1h0M46.5 389.5h0M45.7 389.3h0M57.2 389.4h0M52.3 389.5h0M31.6 389.1h0M53.7 389.4h0M27.8 389.5h0M66.0 389.5h0M42.0 389.4h0M72.8 389.6h0M51.0 389.3h0M35.1 389.3h0M32.2 389.4h0M31.4 389.4h0M58.5 389.6h0M49.3 389.4h0M51.5 389.3h0M58.9 389.3h0M30.0 389.5h0M72.8 389.3h0M62.4 389.2h0M40.3 389.4h0M40.5 389.2h0M39.5 389.2h0M34.2 389.5h0M34.3 389.3h0M41.8 389.6h0M72.1 389.2h0M61.4 389.3h0M53.1 389.6h0M52.6 389.3h0M33.8 389.5h0M71.9 389.5h0M67.4 389.4h0M73.2 389.5h0M72.8 389.4h0M28.8 389.3h0M67.3 389.2h0M68.9 389.3h0M57.6 389.6h0M68.9 389.2h0M35.3 389.4h0M69.2 389.2h0M52.7 389.2h0M58.9 389.3h0M41.7 389.2h0M33.5 389.3h0M52.7 389.4h0M49.3 389.4h0M41.6 389.4h0M31.0 389.4h0M28.6 389.2h0M45.0 389.5h0" stroke="#1a2ee2" stroke-width="0.6" stroke-linecap="round" opacity="0.4" fill="none"/>
<text x="164.50" y="310.10" font-size="6.6" text-anchor="middle" font-weight="bold" fill="#000" stroke="#000" stroke-width="0.22">OXA−50 <tspan font-weight="normal">µ</tspan>M</text>
<rect x="125.00" y="313.30" width="77.20" height="76.80" fill="#fff" stroke="#777" stroke-width="0.8"/>
<line x1="174.30" y1="313.30" x2="174.30" y2="390.10" stroke="#8a8a8a" stroke-width="0.9"/>
<line x1="125.00" y1="350.50" x2="202.20" y2="350.50" stroke="#8a8a8a" stroke-width="0.9"/>
<text x="126.90" y="318.20" font-size="4.1" text-anchor="start" font-weight="normal" fill="#333">Q1-UL(1.86%)</text>
<text x="200.30" y="318.20" font-size="4.1" text-anchor="end" font-weight="normal" fill="#333">Q1-UR(2.91%)</text>
<text x="126.90" y="387.90" font-size="4.1" text-anchor="start" font-weight="normal" fill="#333">Q1-LL(93.80%)</text>
<text x="200.30" y="387.90" font-size="4.1" text-anchor="end" font-weight="normal" fill="#333">Q1-LR(1.43%)</text>
<text x="123.60" y="394.70" font-size="3.2" fill="#333">10<tspan dy="-1.3" font-size="2.2">1</tspan></text>
<text x="122.00" y="391.70" font-size="3.2" fill="#333" transform="rotate(-90 122.00 391.70)">10<tspan dy="-1.3" font-size="2.2">1</tspan></text>
<text x="142.60" y="394.70" font-size="3.2" fill="#333">10<tspan dy="-1.3" font-size="2.2">2</tspan></text>
<text x="122.00" y="372.80" font-size="3.2" fill="#333" transform="rotate(-90 122.00 372.80)">10<tspan dy="-1.3" font-size="2.2">2</tspan></text>
<text x="161.60" y="394.70" font-size="3.2" fill="#333">10<tspan dy="-1.3" font-size="2.2">3</tspan></text>
<text x="122.00" y="353.90" font-size="3.2" fill="#333" transform="rotate(-90 122.00 353.90)">10<tspan dy="-1.3" font-size="2.2">3</tspan></text>
<text x="180.60" y="394.70" font-size="3.2" fill="#333">10<tspan dy="-1.3" font-size="2.2">4</tspan></text>
<text x="122.00" y="335.00" font-size="3.2" fill="#333" transform="rotate(-90 122.00 335.00)">10<tspan dy="-1.3" font-size="2.2">4</tspan></text>
<text x="199.60" y="394.70" font-size="3.2" fill="#333">10<tspan dy="-1.3" font-size="2.2">5</tspan></text>
<text x="122.00" y="316.10" font-size="3.2" fill="#333" transform="rotate(-90 122.00 316.10)">10<tspan dy="-1.3" font-size="2.2">5</tspan></text>
<path d="M125.00 384.32h1M125.00 380.94h1M125.00 378.54h1M125.00 376.68h1M125.00 375.16h1M125.00 373.87h1M125.00 372.76h1M125.00 371.78h1M125.00 365.12h1M125.00 361.74h1M125.00 359.34h1M125.00 357.48h1M125.00 355.96h1M125.00 354.67h1M125.00 353.56h1M125.00 352.58h1M125.00 345.92h1M125.00 342.54h1M125.00 340.14h1M125.00 338.28h1M125.00 336.76h1M125.00 335.47h1M125.00 334.36h1M125.00 333.38h1M125.00 326.72h1M125.00 323.34h1M125.00 320.94h1M125.00 319.08h1M125.00 317.56h1M125.00 316.27h1M125.00 315.16h1M125.00 314.18h1M130.81 390.10v-1M134.21 390.10v-1M136.62 390.10v-1M138.49 390.10v-1M140.02 390.10v-1M141.31 390.10v-1M142.43 390.10v-1M143.42 390.10v-1M150.11 390.10v-1M153.51 390.10v-1M155.92 390.10v-1M157.79 390.10v-1M159.32 390.10v-1M160.61 390.10v-1M161.73 390.10v-1M162.72 390.10v-1M169.41 390.10v-1M172.81 390.10v-1M175.22 390.10v-1M177.09 390.10v-1M178.62 390.10v-1M179.91 390.10v-1M181.03 390.10v-1M182.02 390.10v-1M188.71 390.10v-1M192.11 390.10v-1M194.52 390.10v-1M196.39 390.10v-1M197.92 390.10v-1M199.21 390.10v-1M200.33 390.10v-1M201.32 390.10v-1" stroke="#666" stroke-width="0.35" fill="none"/>
<path d="M154.8 358.9h0M166.5 359.7h0M147.4 371.3h0M171.0 361.8h0M159.5 349.9h0M169.6 358.8h0M168.8 373.6h0M145.7 376.1h0M167.6 366.1h0M157.5 355.2h0M161.9 366.3h0M158.3 355.2h0M154.6 371.3h0M174.5 356.4h0M140.1 373.2h0M143.1 354.6h0M161.2 378.4h0M153.6 353.8h0M158.1 380.2h0M143.4 376.3h0M142.9 372.6h0M134.4 358.8h0M168.9 363.6h0M156.3 373.7h0M154.6 368.8h0M163.6 371.2h0M163.0 364.2h0M173.0 356.2h0M152.5 387.9h0M148.2 367.2h0M159.8 368.6h0M150.5 361.9h0M158.3 373.6h0M175.5 358.9h0M176.7 367.9h0M171.2 366.2h0M169.1 365.8h0M140.8 368.1h0M153.9 377.9h0M169.0 357.3h0M161.2 380.4h0M169.2 361.9h0M147.9 359.0h0M171.4 361.5h0M157.4 370.0h0M157.9 374.0h0M156.8 367.9h0M158.4 355.2h0M155.6 365.1h0M178.5 372.6h0M168.5 372.0h0M168.6 360.4h0M166.1 378.4h0M165.0 370.2h0M141.5 383.8h0M165.6 355.7h0M155.5 374.4h0M158.3 358.2h0M162.1 371.9h0M149.5 384.0h0M145.8 388.8h0M170.8 371.3h0M137.8 386.3h0M155.8 372.1h0M155.8 383.2h0M156.1 369.7h0M145.1 375.0h0M138.6 382.0h0M151.1 375.1h0M139.8 381.4h0M161.6 362.3h0M152.1 364.5h0M154.1 373.6h0M157.1 377.5h0M144.4 376.5h0M168.2 371.0h0M143.3 385.2h0M153.5 372.3h0M157.6 367.7h0M161.2 364.0h0M168.5 365.7h0M143.6 386.1h0M147.8 358.1h0M139.7 375.2h0M166.8 365.2h0M150.7 361.1h0M159.5 367.9h0M163.8 369.8h0M157.9 364.6h0M144.5 352.3h0M167.9 366.5h0M155.6 362.2h0M157.2 365.1h0M163.2 374.3h0M162.8 364.6h0M159.5 368.4h0M154.8 367.6h0M160.8 361.6h0M160.2 370.9h0M157.1 371.2h0M172.9 360.7h0M157.0 365.2h0M150.9 375.8h0M165.5 374.5h0M154.9 383.3h0M157.1 371.2h0M170.2 366.5h0M158.6 361.3h0M156.8 368.0h0M164.3 355.2h0M170.2 360.1h0M153.0 374.4h0M156.7 359.3h0M168.4 358.6h0M165.4 358.5h0M156.1 377.6h0M164.2 364.1h0M149.1 386.3h0M158.2 353.9h0M143.1 379.3h0M163.3 366.0h0M146.4 381.2h0M164.6 368.6h0M153.0 366.4h0M154.9 380.1h0M160.5 367.6h0M164.9 370.1h0M166.6 371.4h0M151.0 385.7h0M162.9 359.3h0M160.5 359.9h0M159.2 363.7h0M150.3 383.3h0M164.7 380.4h0M146.1 383.3h0M145.1 368.6h0M147.1 371.4h0M165.1 369.3h0M162.8 342.4h0M132.5 376.2h0M158.2 364.9h0M169.1 364.0h0M149.7 370.0h0M170.1 349.6h0M143.6 371.9h0M163.1 367.6h0M157.7 355.0h0M155.6 361.8h0M151.6 359.2h0M148.0 373.9h0M147.3 356.0h0M158.0 362.0h0M162.0 372.0h0M177.1 364.1h0M173.1 366.3h0M142.2 376.4h0M157.2 369.4h0M172.5 362.5h0M166.9 365.3h0M149.9 388.4h0M160.7 366.1h0M137.5 369.9h0M168.2 368.8h0M137.0 370.0h0M157.0 362.8h0M172.2 362.1h0M146.2 353.2h0M172.1 354.5h0M149.3 379.8h0M157.2 375.7h0M168.9 348.8h0M163.6 355.4h0M164.0 369.5h0M175.8 355.2h0M160.8 363.6h0M151.2 369.1h0M134.0 371.7h0M155.8 377.0h0M166.2 376.3h0M142.6 377.0h0M162.3 377.4h0M152.2 378.9h0M174.3 366.4h0M154.2 371.0h0M166.5 360.0h0M164.9 364.0h0M170.1 363.3h0M161.2 363.2h0M163.1 363.6h0M189.1 347.0h0M158.4 366.0h0M139.9 384.0h0M164.6 367.9h0M162.5 377.0h0M159.5 361.6h0M154.3 383.9h0M151.8 368.8h0M144.2 374.2h0M167.3 366.8h0M161.6 374.1h0M171.8 365.6h0M141.0 383.1h0M162.9 382.5h0M175.6 358.4h0M155.0 382.1h0M154.4 366.7h0M170.3 361.1h0M155.4 364.2h0M160.3 384.9h0M144.7 365.6h0M169.7 355.5h0M157.4 370.2h0M172.6 344.1h0M162.6 368.1h0M163.8 368.1h0M173.3 380.8h0M168.1 373.5h0M155.1 364.5h0M148.2 361.2h0M172.4 343.1h0M169.2 355.1h0M152.7 367.5h0M148.4 368.0h0M158.4 370.8h0M129.2 376.8h0M166.2 374.8h0M155.3 359.4h0M170.1 351.2h0M155.7 370.3h0M159.9 386.5h0M155.7 373.9h0M148.0 371.2h0M156.6 369.7h0M157.3 360.5h0M172.2 365.5h0M160.2 363.1h0M169.9 359.3h0M167.1 366.4h0M148.8 379.4h0M159.3 355.9h0M165.8 352.3h0M145.5 387.2h0M169.6 366.6h0M162.0 378.9h0M174.5 365.6h0M160.2 364.9h0M153.8 367.0h0M165.0 380.4h0M158.7 380.5h0M163.2 375.9h0M168.0 344.4h0M151.0 371.9h0M153.4 368.5h0M159.3 365.3h0M159.6 368.0h0M149.6 351.7h0M174.1 354.5h0M174.7 372.0h0M150.5 378.3h0M162.1 370.8h0M141.4 377.6h0M169.5 354.1h0M150.3 364.1h0M160.9 370.1h0M172.8 377.2h0M160.4 375.0h0M145.5 378.6h0M154.8 374.2h0M170.2 358.6h0M167.6 368.3h0M165.3 368.0h0M157.2 379.8h0M155.6 364.2h0M163.3 371.9h0M166.9 360.7h0M154.0 379.6h0M169.7 376.8h0M155.5 369.0h0M142.8 377.3h0M131.2 369.0h0M158.1 370.3h0M167.7 355.9h0M162.1 364.9h0M148.2 374.6h0M156.1 368.0h0M161.6 370.5h0M145.9 375.7h0M158.5 360.2h0M165.1 355.2h0M160.4 366.9h0M153.9 366.6h0M158.6 368.4h0M153.8 350.4h0M161.1 367.6h0M154.1 378.9h0M155.1 373.2h0M177.9 366.3h0M155.5 380.1h0M173.2 383.3h0M164.5 357.8h0M163.3 368.2h0M151.7 358.2h0M155.4 362.6h0M163.6 373.2h0M164.3 359.5h0M147.0 360.5h0M167.7 366.3h0M159.0 362.7h0M143.8 383.2h0M171.4 370.4h0M163.9 372.8h0M150.6 387.9h0M171.0 351.4h0M150.0 378.1h0M164.8 360.2h0M169.3 359.6h0M162.5 357.8h0M143.6 366.9h0M160.3 357.9h0M167.0 362.6h0M152.3 369.5h0M143.9 359.6h0M160.1 364.5h0M157.8 356.9h0M149.0 367.1h0M152.8 373.5h0M153.4 359.4h0M162.9 381.6h0M171.5 362.3h0M156.2 365.5h0M152.7 367.6h0M138.9 372.1h0M159.7 380.5h0M142.3 365.5h0M161.8 364.6h0M155.2 369.3h0M153.9 383.9h0M168.3 355.0h0M160.0 367.0h0M160.2 368.9h0M134.9 380.6h0M162.7 367.5h0M142.7 388.6h0M156.9 358.9h0M159.4 373.4h0M148.5 382.1h0M178.0 371.6h0M169.3 354.2h0M163.2 351.1h0M166.4 368.2h0M148.0 376.4h0M150.5 369.8h0M172.1 359.1h0M160.4 372.0h0M162.6 376.4h0M145.0 373.5h0M147.5 368.9h0M153.3 371.3h0M159.4 365.7h0M149.8 368.6h0M172.7 358.9h0M152.4 360.1h0M145.6 378.0h0M164.1 369.3h0M159.5 371.1h0M153.2 367.6h0M152.9 370.0h0M170.0 372.3h0M157.8 371.3h0M158.8 350.1h0M158.9 368.0h0M155.9 365.7h0M152.1 375.0h0M148.5 376.4h0M158.6 363.5h0M153.1 370.3h0M162.4 360.1h0M154.3 377.3h0M164.7 354.3h0M165.1 352.8h0M174.5 365.1h0M166.0 371.0h0M168.7 371.7h0M164.5 370.7h0M167.5 358.8h0M136.3 383.3h0M155.0 379.8h0M167.1 352.7h0M159.2 357.9h0M166.3 367.8h0M156.3 371.7h0M168.7 371.6h0M158.9 359.6h0M142.7 375.9h0M141.2 370.0h0M177.1 359.8h0M147.2 377.2h0M158.2 361.7h0M146.4 377.4h0M166.9 371.8h0M144.1 372.6h0M164.9 364.7h0M145.5 379.3h0M157.4 375.9h0M168.7 363.1h0M158.3 368.1h0M159.3 366.4h0M146.6 373.8h0M162.0 371.6h0M169.4 372.0h0M141.5 368.1h0M158.4 374.4h0M135.7 385.7h0M161.3 349.6h0M137.4 368.8h0M137.5 379.8h0M156.1 372.1h0M174.2 368.1h0M150.1 378.8h0M150.0 366.5h0M155.8 356.4h0M149.9 379.1h0M145.3 376.1h0M156.1 372.2h0M131.9 374.3h0M160.4 359.1h0M160.6 379.6h0M162.3 371.8h0M147.7 368.4h0M161.6 364.9h0M140.6 368.6h0M146.7 374.9h0M152.9 374.3h0M137.0 375.8h0M171.2 365.7h0M169.8 367.6h0M169.6 360.3h0M168.8 373.3h0M163.0 348.0h0M163.1 371.1h0M147.1 380.5h0M169.2 364.4h0M157.4 347.5h0M151.7 373.6h0M166.7 385.9h0M152.1 370.4h0M172.0 357.1h0M168.0 366.6h0M167.9 364.4h0M169.7 357.8h0M137.8 381.1h0M169.3 367.2h0M151.7 376.1h0M163.7 358.6h0M165.7 360.4h0M174.5 369.0h0M172.4 372.6h0M151.3 377.4h0M136.6 371.4h0M162.2 352.9h0M129.9 383.9h0M147.9 374.8h0M165.1 366.1h0M168.8 367.8h0M157.8 366.7h0M167.8 365.0h0M156.6 363.4h0M154.6 350.9h0M146.1 377.4h0M159.6 375.2h0M164.1 348.9h0M161.2 365.8h0M178.0 364.1h0M171.0 356.9h0M159.9 381.1h0M166.0 363.5h0M137.4 380.0h0M171.2 362.9h0M148.9 369.8h0M154.8 360.3h0M158.1 389.2h0M151.0 373.6h0M150.9 368.7h0M155.0 370.4h0M166.5 364.5h0M161.2 366.3h0M162.4 360.4h0M170.9 361.4h0M161.4 361.0h0M155.0 375.1h0M165.1 366.5h0M139.5 383.6h0M166.2 358.8h0M160.8 369.9h0M150.0 354.1h0M157.9 370.9h0M134.9 380.8h0M158.7 353.7h0M147.1 382.9h0M152.4 365.7h0M141.3 352.7h0M183.7 362.9h0M154.1 370.8h0M163.5 369.5h0M152.1 364.1h0M156.8 358.9h0M158.0 365.3h0M157.7 378.1h0M156.6 376.7h0M169.9 367.4h0M145.5 380.4h0M161.2 366.9h0M164.0 364.9h0M169.8 376.9h0M156.9 361.2h0M177.4 365.0h0M150.5 374.9h0M156.2 371.5h0M169.1 372.8h0M153.2 374.4h0M162.6 362.7h0M148.0 386.4h0M156.3 379.2h0M152.4 389.3h0M145.9 373.0h0M162.6 364.1h0M159.7 378.1h0M180.6 367.2h0M158.6 364.5h0M159.2 365.7h0M159.8 380.8h0M160.8 370.1h0M172.8 368.6h0M165.0 377.2h0M163.4 361.4h0M166.0 366.1h0M154.2 360.9h0M141.8 367.1h0M148.0 376.7h0M159.5 368.2h0M150.1 362.3h0M170.9 372.6h0M150.6 374.8h0M158.4 363.9h0M160.1 356.9h0M163.2 353.5h0M166.6 363.8h0M152.2 378.3h0M156.2 361.3h0M157.2 356.0h0M154.7 367.9h0M137.9 383.6h0M158.4 366.5h0M159.9 380.1h0M162.5 366.5h0M146.0 368.8h0M162.7 374.5h0M165.4 364.4h0M143.9 375.4h0M165.3 375.7h0M131.2 382.1h0M158.7 380.7h0M170.2 366.6h0M158.9 368.3h0M153.0 376.3h0M170.6 361.0h0M156.7 358.2h0M160.9 358.4h0M146.0 382.9h0M155.8 351.0h0M145.4 385.1h0M169.5 363.3h0M173.3 370.9h0M170.0 365.3h0M155.9 377.7h0M163.2 367.0h0M163.8 365.1h0M152.0 359.6h0M151.0 365.8h0M153.9 363.8h0M149.0 381.7h0M170.6 354.0h0M153.7 380.2h0M163.9 367.3h0M166.1 363.0h0M171.3 362.2h0M158.5 372.4h0M176.7 367.4h0M169.7 381.8h0" stroke="#1a2ee2" stroke-width="0.6" stroke-linecap="round" opacity="0.4" fill="none"/>
<path d="M159.9 352.8h0M152.1 361.9h0M167.3 349.9h0M163.3 352.1h0M165.1 350.5h0M166.6 358.2h0M167.4 356.0h0M149.7 362.2h0M170.9 347.4h0M156.0 354.8h0M162.0 357.7h0M166.1 345.4h0M151.2 370.1h0M165.6 357.8h0M165.6 354.8h0M157.3 356.5h0M162.9 370.1h0M164.9 352.6h0M171.4 347.0h0M167.3 358.0h0M161.9 349.6h0M145.4 373.8h0M152.2 371.7h0M163.7 353.2h0M154.9 368.6h0M172.3 344.2h0M169.5 349.2h0M163.6 362.5h0M160.9 357.4h0M184.0 335.0h0M166.6 355.7h0M170.7 351.9h0M172.7 350.3h0M173.3 344.0h0M152.2 360.9h0M161.8 369.2h0M174.3 334.3h0M167.5 350.7h0M175.1 337.6h0M161.8 367.6h0M165.5 359.9h0M171.8 344.0h0M172.6 338.8h0M149.0 371.9h0M174.2 337.7h0M174.3 354.0h0M156.9 359.4h0M153.4 367.9h0M167.4 361.2h0M183.4 339.3h0M171.2 348.1h0M150.1 375.5h0M142.8 379.2h0M171.5 343.0h0M155.0 367.2h0M159.6 361.9h0M172.0 356.7h0M159.0 370.1h0M163.4 348.6h0M161.1 353.5h0M152.1 364.8h0M154.9 369.8h0M190.4 330.1h0M159.8 356.1h0M160.0 359.9h0M157.0 353.7h0M179.8 335.0h0M168.2 356.8h0M161.1 354.9h0M158.3 350.7h0M173.5 338.3h0M158.8 356.5h0M149.0 366.8h0M146.6 360.2h0M157.3 361.2h0M166.1 347.8h0M159.4 362.7h0M173.1 349.2h0M164.6 357.5h0M155.3 372.4h0M155.0 353.8h0M167.4 353.9h0M170.8 352.1h0M170.1 352.3h0M165.8 360.3h0M184.6 338.9h0M165.8 355.9h0M159.0 360.5h0M169.2 357.2h0M166.2 359.2h0M156.3 378.3h0M152.8 365.8h0M153.4 364.7h0M165.6 353.7h0M156.6 363.2h0M166.0 357.3h0M165.7 359.7h0M169.5 354.9h0M176.0 340.4h0M176.3 340.7h0M160.6 361.1h0M185.3 334.7h0M180.2 337.3h0M166.3 348.8h0M167.9 356.9h0M161.6 361.0h0M152.8 365.3h0M168.7 359.4h0M171.7 350.9h0M158.7 353.8h0M162.8 362.2h0M172.5 340.4h0M150.0 374.0h0M164.3 352.8h0M144.5 383.2h0M186.6 332.5h0M169.5 348.5h0M170.8 352.4h0M163.7 353.8h0M162.4 354.6h0M165.2 351.2h0M178.8 346.9h0M175.3 342.9h0M159.6 364.5h0M172.3 347.8h0M158.6 360.2h0M176.6 340.6h0M174.8 346.5h0M162.9 360.5h0M164.8 360.4h0M164.5 354.3h0M160.7 356.7h0M152.9 365.6h0M163.9 368.5h0M171.5 349.5h0M163.6 354.5h0M169.0 344.1h0M157.8 355.7h0M170.7 355.8h0M151.8 364.8h0M173.6 341.8h0M173.4 344.0h0M163.2 354.5h0M163.1 353.0h0M166.8 349.4h0M166.4 356.8h0M161.4 351.6h0M167.8 354.2h0M164.0 358.8h0M174.8 341.5h0M166.2 352.6h0M164.3 348.9h0M166.6 356.7h0M177.7 347.3h0M154.0 355.2h0M166.7 350.8h0M171.1 341.5h0M162.4 351.6h0M169.0 358.2h0M176.0 344.6h0M173.3 346.9h0M168.1 359.1h0M174.8 344.5h0M175.1 345.0h0M171.0 339.2h0M157.1 361.9h0M166.1 351.4h0M166.5 350.1h0M176.0 354.1h0M159.7 359.5h0M159.5 365.6h0M157.3 369.5h0M161.8 354.9h0M179.2 336.2h0M177.4 350.2h0M154.1 365.6h0M175.8 344.7h0M170.6 351.2h0M162.0 347.8h0M138.4 376.7h0M178.7 342.5h0M174.8 347.8h0M164.6 351.9h0M168.1 350.3h0M168.2 344.1h0M178.8 345.2h0M152.8 360.0h0M165.0 352.2h0M162.1 354.6h0M154.9 370.3h0M154.1 369.8h0M163.8 351.4h0M165.4 355.9h0M170.8 349.7h0M168.5 341.1h0M153.7 357.9h0M159.2 361.9h0M168.5 348.8h0M156.0 369.6h0M167.6 357.6h0M146.6 364.7h0M177.6 342.8h0M170.3 354.1h0M178.0 337.9h0M163.4 363.4h0M167.9 346.6h0M171.9 343.1h0M174.4 344.2h0M157.2 364.3h0M145.4 376.3h0M163.8 355.8h0M168.3 353.4h0M171.9 349.3h0M165.2 361.9h0M173.0 347.6h0M168.3 351.5h0M141.3 380.3h0M157.5 357.4h0M173.5 351.4h0M167.8 348.3h0M168.0 353.0h0M159.3 363.4h0M179.0 335.0h0M156.9 362.8h0M141.5 377.5h0M165.0 352.9h0M168.1 348.9h0M168.4 352.4h0M151.4 365.1h0M153.2 362.4h0M171.2 344.5h0M179.5 344.1h0M159.4 356.0h0M164.4 361.9h0M147.2 373.2h0M177.4 337.3h0M174.7 349.3h0M169.7 352.7h0M171.2 350.1h0M156.9 371.1h0M175.4 340.3h0M157.3 365.0h0M167.4 355.1h0M166.4 353.9h0M160.8 366.0h0M167.1 358.2h0M164.5 348.3h0M171.7 350.3h0M164.6 355.9h0M161.7 358.8h0M167.9 349.2h0M164.6 360.4h0M156.8 363.1h0M183.2 338.4h0M160.4 357.3h0M156.6 369.4h0M175.7 353.6h0M167.7 355.7h0M169.1 346.6h0" stroke="#1a2ee2" stroke-width="0.6" stroke-linecap="round" opacity="0.42" fill="none"/>
<path d="M148.7 375.5h0M153.5 377.7h0M157.3 373.0h0M154.4 371.9h0M158.8 375.6h0M152.5 374.4h0M155.3 370.3h0M158.8 370.7h0M151.4 372.9h0M155.8 374.7h0M154.6 373.7h0M155.0 368.7h0M161.1 368.0h0M155.4 382.6h0M149.9 375.0h0M160.0 377.2h0M155.1 374.9h0M155.0 370.9h0M157.4 373.9h0M151.3 378.3h0M150.2 372.9h0M153.4 371.9h0M152.5 375.1h0M153.6 376.5h0M155.5 380.4h0M154.6 378.8h0M154.8 369.3h0M150.0 377.1h0M152.0 374.8h0M153.0 373.7h0M156.4 371.5h0M152.1 376.0h0M151.8 374.4h0M155.6 372.1h0M150.4 375.3h0M158.0 373.6h0M156.7 373.9h0M149.4 378.7h0M158.6 372.7h0M157.0 374.9h0M156.3 379.4h0M160.3 372.8h0M155.9 367.6h0M155.2 380.4h0M150.3 372.8h0M154.7 371.3h0M157.9 373.4h0M157.7 372.5h0M151.0 371.4h0M159.6 369.1h0M150.0 371.5h0M156.7 377.3h0M155.5 374.6h0M157.3 372.8h0M154.1 372.7h0M162.9 364.4h0M160.5 370.3h0M153.0 364.9h0M154.6 378.2h0M154.1 374.4h0M156.7 369.8h0M157.2 376.1h0M157.6 371.5h0M155.2 369.1h0M156.5 372.6h0M153.6 368.4h0M155.1 375.6h0M153.1 370.6h0M157.8 370.6h0M159.5 369.2h0M158.0 374.2h0M150.9 377.9h0M152.4 369.4h0M159.0 375.8h0M155.0 375.5h0M156.7 370.1h0M151.1 372.5h0M149.4 375.8h0M156.1 367.1h0M152.4 376.5h0M154.8 379.7h0M155.2 377.0h0M162.1 368.2h0M159.0 371.4h0M155.1 377.5h0M161.0 373.2h0M159.3 374.2h0M155.8 371.0h0M157.1 367.9h0M155.8 373.0h0M154.6 364.5h0M162.0 375.4h0M152.8 372.0h0M162.7 365.9h0M161.0 371.1h0M152.9 376.6h0M154.6 377.8h0M161.7 367.9h0M159.4 370.7h0M161.2 372.1h0M156.7 369.7h0M155.1 370.1h0M160.5 370.0h0M161.7 368.8h0M150.2 377.9h0M156.4 375.2h0M158.4 376.5h0M163.2 364.5h0M157.4 370.9h0M154.9 369.4h0M156.5 370.7h0M154.2 367.2h0M156.7 371.5h0M151.7 371.1h0M159.0 371.7h0M160.9 368.6h0M150.7 368.8h0M160.0 368.8h0M159.4 369.3h0M155.4 370.3h0M160.3 377.0h0M153.2 376.2h0M153.4 372.8h0M155.6 368.7h0M160.1 372.7h0M160.5 371.5h0M152.7 372.7h0M157.5 369.6h0M152.5 372.6h0M158.1 373.0h0M153.3 371.7h0M153.0 367.9h0M154.0 369.3h0M159.7 371.0h0M154.0 377.5h0M155.6 369.8h0M159.6 368.4h0M154.2 370.2h0M162.5 367.6h0M162.2 373.5h0M156.7 370.9h0M152.7 377.4h0M157.5 374.9h0M150.6 380.8h0M162.0 369.2h0M156.1 374.2h0M161.3 371.0h0M159.6 370.6h0M151.4 375.4h0M149.4 377.9h0M147.0 372.1h0M156.0 374.9h0M163.6 370.3h0M153.1 375.1h0M151.8 367.3h0M155.4 376.9h0M152.2 370.4h0M162.5 369.8h0M157.1 375.5h0M151.6 371.8h0M154.6 372.1h0M157.0 372.2h0M158.9 368.8h0M158.1 371.4h0M153.3 375.0h0M152.6 377.9h0M152.7 369.7h0M160.9 371.8h0M158.3 370.3h0M152.4 377.1h0M154.5 376.0h0M158.9 375.8h0M160.7 366.5h0M157.0 368.8h0M158.0 372.4h0M154.3 373.1h0M162.5 372.2h0M159.6 369.5h0M153.2 373.4h0M157.4 372.5h0M167.5 362.7h0M152.8 379.8h0M152.8 372.6h0M161.4 373.1h0M151.8 375.0h0M161.1 374.2h0M153.2 380.6h0M159.3 373.4h0M158.2 372.7h0M157.4 367.1h0M158.6 374.3h0M155.6 367.2h0M154.8 371.0h0M153.5 370.7h0M157.6 370.9h0M162.8 374.0h0M152.7 374.0h0M154.1 372.4h0M159.0 372.0h0M157.2 367.7h0M163.0 372.0h0M153.1 372.5h0M154.6 376.5h0M153.0 369.1h0M161.4 365.9h0M155.1 372.9h0M161.1 367.1h0M150.3 370.2h0M154.9 376.2h0M160.3 375.9h0M157.2 372.0h0M154.5 372.0h0M151.4 376.6h0M157.7 376.0h0M155.2 374.3h0M162.8 373.8h0M163.8 365.9h0M159.5 368.1h0M156.3 374.1h0M153.7 379.6h0M159.5 375.5h0M158.2 378.1h0M157.5 376.8h0M153.2 375.8h0M153.9 379.1h0M150.8 373.1h0M158.4 373.0h0M157.8 368.7h0M156.5 372.0h0M160.6 367.0h0M160.1 369.2h0M158.6 371.6h0M160.0 371.7h0M157.1 371.7h0M150.7 375.6h0M157.7 375.8h0M158.7 374.2h0M154.9 368.3h0M154.7 370.5h0M157.8 374.2h0M164.3 366.9h0M146.9 372.5h0M155.2 374.6h0M156.1 371.2h0M155.1 365.9h0M152.7 380.3h0M154.8 376.4h0M151.7 375.2h0M153.7 373.5h0M160.1 369.1h0M163.1 368.2h0M159.3 368.2h0M151.7 372.3h0M159.7 371.6h0M162.1 370.3h0M155.0 372.2h0M155.7 368.2h0M151.6 376.6h0M162.9 368.5h0M150.3 377.8h0M156.7 364.5h0M158.6 372.2h0M158.4 370.2h0M157.2 370.1h0M156.0 370.9h0M149.9 372.3h0M157.6 366.9h0M154.9 368.1h0M151.6 364.7h0M151.9 372.1h0M153.6 376.7h0M157.0 373.8h0M152.1 369.2h0M163.2 376.1h0M158.2 373.8h0M162.8 378.0h0M156.9 368.2h0M148.5 373.9h0M153.4 371.5h0M154.3 373.5h0M159.5 376.7h0M153.7 370.0h0M153.4 377.6h0M165.9 363.1h0M151.2 375.1h0M151.8 374.7h0M156.0 375.2h0M156.6 370.8h0M155.4 374.7h0M149.4 377.6h0M158.9 366.4h0M158.5 369.7h0M155.1 373.5h0M152.7 370.2h0M154.3 369.4h0M153.6 371.4h0M154.3 377.8h0M156.5 381.4h0M152.8 370.8h0M153.4 374.8h0M150.0 368.4h0M158.7 375.4h0M153.0 373.4h0M155.0 369.1h0M156.6 373.4h0M157.5 373.3h0M156.9 375.4h0M159.9 370.0h0M152.0 382.4h0M160.2 369.8h0M157.8 369.0h0M155.8 371.4h0M155.8 373.1h0M154.8 366.1h0M158.1 375.2h0M167.1 376.0h0M149.8 373.2h0M155.7 375.3h0M157.4 370.1h0M147.8 371.5h0M156.8 371.9h0M153.9 370.6h0M156.7 369.2h0M157.2 367.3h0M151.1 381.3h0M164.2 367.7h0M158.9 368.3h0M155.6 375.8h0M160.1 369.1h0M160.2 372.2h0M158.4 376.0h0M158.3 377.2h0M156.6 371.1h0M158.6 365.2h0M160.7 376.3h0M160.3 372.9h0M160.5 373.4h0M156.2 374.4h0M163.9 368.8h0M157.3 368.7h0M164.2 369.1h0M154.0 375.0h0M162.4 375.0h0M158.0 373.3h0M162.6 366.8h0M159.6 374.7h0M161.4 373.0h0M150.6 380.6h0M148.5 375.2h0M149.0 375.7h0M160.6 370.1h0M159.6 371.3h0M151.4 373.3h0M153.2 374.0h0M154.3 373.1h0M154.2 372.5h0M155.3 371.4h0M159.6 369.1h0M158.0 368.6h0M157.5 371.2h0M153.2 374.3h0M151.2 377.9h0M153.6 372.7h0M157.7 369.9h0M154.8 370.4h0M161.2 371.1h0M155.0 373.2h0M160.1 367.1h0M155.5 372.6h0M158.5 372.7h0M155.1 375.6h0M154.9 376.0h0M157.6 376.2h0M154.8 376.6h0M155.0 372.6h0M156.7 373.9h0M162.8 369.5h0M164.3 371.9h0M155.4 375.2h0M154.5 373.5h0M159.5 372.5h0M154.3 373.5h0M153.0 371.7h0M157.0 371.0h0M156.1 371.5h0M159.8 377.2h0M154.7 370.2h0M153.2 378.7h0M159.0 372.8h0M158.6 375.0h0M154.9 373.5h0M151.0 372.1h0M158.0 376.5h0M156.3 376.4h0M156.6 375.5h0M158.8 368.0h0M158.8 371.9h0M155.3 371.4h0M157.9 370.0h0M154.5 368.8h0M151.4 378.3h0M161.6 373.0h0M147.4 375.1h0M155.4 376.4h0M156.7 370.7h0M153.1 382.1h0M153.9 373.1h0M150.9 374.5h0M156.6 371.6h0M158.1 371.9h0M159.4 370.1h0M149.5 371.9h0M155.5 376.3h0M156.9 372.8h0M156.9 370.3h0M162.7 367.2h0M154.6 367.5h0M153.4 375.5h0M161.1 373.1h0M155.4 370.7h0M154.5 379.0h0M155.5 371.2h0M157.4 377.2h0M154.6 374.1h0M156.5 373.3h0M151.1 373.5h0M155.7 377.3h0M155.5 374.6h0M152.1 372.4h0M159.8 374.3h0M155.1 372.2h0M159.8 369.2h0M155.7 369.2h0M159.8 371.5h0M158.8 369.0h0M153.7 374.4h0M154.3 376.3h0M161.2 371.1h0M152.0 368.5h0M153.7 373.5h0M160.0 378.3h0M151.0 374.5h0M154.4 368.4h0M153.4 370.9h0M159.9 369.8h0M156.5 370.2h0M161.9 368.3h0M151.7 372.7h0M155.2 370.8h0M151.6 372.8h0M157.3 375.2h0M155.7 375.7h0M161.5 374.8h0M154.9 377.0h0M158.2 372.0h0M158.2 370.7h0M154.2 371.6h0M155.5 369.8h0M155.3 377.4h0M158.1 373.6h0M162.9 374.4h0M157.3 377.3h0M151.3 375.3h0M157.7 371.4h0M163.6 365.6h0M153.7 371.4h0M159.3 374.5h0M159.9 371.0h0M159.5 373.2h0M161.2 372.6h0M157.4 369.6h0M157.2 372.8h0M152.2 370.7h0M154.0 376.5h0M152.9 372.2h0M149.7 368.8h0M158.0 372.3h0M156.0 375.1h0M159.8 371.8h0M154.7 374.4h0M155.6 370.8h0M155.8 365.4h0M159.4 374.4h0M158.1 371.3h0M156.4 373.8h0M165.1 368.5h0M150.6 371.4h0M148.6 377.9h0M156.0 367.1h0M153.2 365.7h0M160.5 370.8h0M155.6 374.7h0M154.3 373.3h0M158.4 373.2h0M163.7 364.9h0M157.1 375.1h0M153.8 368.8h0M160.5 370.9h0M160.7 367.5h0M162.3 368.9h0M159.4 369.5h0M154.5 376.1h0M160.2 365.8h0M158.0 372.7h0M158.6 369.0h0M156.8 377.8h0M155.5 376.1h0M160.8 377.0h0M151.0 379.4h0M164.7 375.1h0M155.1 371.2h0M158.0 375.2h0M160.6 372.8h0M158.3 369.7h0M158.1 368.0h0M156.1 372.7h0M154.7 372.7h0M155.3 370.1h0M154.3 376.4h0M154.9 368.8h0M159.3 365.2h0M151.4 372.5h0M159.2 367.4h0M158.5 375.2h0M164.4 364.0h0M156.1 376.7h0M162.0 365.5h0M151.9 379.8h0M161.6 372.4h0M158.5 375.9h0M154.2 373.2h0M160.8 365.9h0M151.0 373.5h0M159.6 373.0h0M160.3 368.4h0M166.2 362.6h0M153.4 370.7h0M153.0 377.2h0M152.3 376.1h0M148.7 375.5h0M158.9 367.8h0M154.4 373.5h0M157.8 366.0h0M151.1 371.5h0M157.3 374.6h0M158.6 368.7h0M155.2 374.7h0M157.1 373.8h0M152.2 372.8h0M156.2 374.9h0M154.7 372.4h0M155.6 368.5h0M157.4 371.7h0M155.2 367.3h0M149.1 377.7h0M158.6 375.8h0M162.4 369.1h0M157.3 372.6h0M159.8 368.9h0M153.6 371.1h0M161.5 373.2h0M160.3 375.9h0M162.3 367.3h0M157.7 373.0h0M154.4 373.1h0M158.7 372.8h0M152.5 374.0h0M150.5 375.2h0M154.0 373.3h0M159.4 369.2h0M153.9 371.5h0M154.2 371.8h0M153.9 373.4h0M157.2 372.7h0M151.1 372.2h0M158.1 366.5h0M151.6 375.3h0M156.5 365.8h0M152.7 375.7h0M154.3 375.7h0M156.5 373.0h0M152.9 373.6h0M153.5 370.9h0M158.2 371.7h0M161.2 367.3h0M156.4 376.1h0M153.9 374.7h0M153.5 373.8h0M160.8 370.2h0M153.9 369.9h0M155.2 367.2h0M161.4 368.2h0M157.9 369.8h0M155.2 371.7h0M153.9 374.0h0M157.9 368.3h0M160.2 378.2h0M157.2 370.7h0M159.3 377.1h0M154.2 373.7h0M162.0 372.3h0M156.6 367.6h0M148.5 377.9h0M161.2 374.0h0M159.2 367.4h0M158.2 370.9h0M152.7 372.4h0M156.8 368.1h0M155.8 376.5h0M158.9 374.4h0M155.5 377.2h0M158.2 371.7h0M151.3 375.2h0M155.7 371.2h0M155.5 374.6h0M155.3 375.8h0M158.6 370.8h0M156.3 374.5h0M161.6 372.5h0M155.7 374.3h0M152.8 376.6h0M151.9 371.8h0M153.4 372.6h0M157.1 371.0h0M149.3 378.2h0M160.5 366.6h0M157.1 364.6h0M146.7 373.8h0M162.2 366.4h0M165.9 362.5h0M155.2 377.5h0M154.5 380.0h0M151.7 372.2h0M151.4 376.9h0M154.8 372.5h0M154.8 374.1h0M151.7 372.7h0M154.8 376.1h0M153.0 378.5h0M157.2 369.4h0M160.0 368.1h0M150.4 376.3h0M159.6 368.3h0M157.3 373.8h0M155.4 369.2h0M153.2 375.1h0M155.3 373.8h0M155.4 375.7h0M149.4 375.4h0M156.4 376.5h0M153.2 374.0h0M163.1 368.0h0M159.1 374.8h0M155.2 368.4h0M149.0 376.1h0M160.4 372.5h0M156.1 372.4h0M159.6 369.1h0M155.9 373.9h0M154.7 368.7h0M156.1 371.6h0M159.8 367.3h0M160.5 367.7h0M161.4 366.9h0M157.2 371.7h0M158.5 367.7h0M161.5 372.9h0M151.9 374.6h0M152.2 379.0h0M158.4 369.5h0M148.5 374.9h0M152.9 372.8h0M158.5 372.0h0M156.5 373.9h0M157.5 372.5h0M159.8 373.5h0M160.6 373.9h0M159.2 381.0h0M158.4 372.3h0M158.5 368.3h0M153.6 367.0h0M158.7 365.4h0M153.8 373.1h0M160.7 375.3h0M157.5 371.1h0M157.7 366.9h0M161.6 371.3h0M156.9 370.7h0M159.0 370.3h0M149.8 376.1h0M157.1 375.4h0M152.3 376.1h0M153.2 376.6h0M157.0 367.1h0M159.3 369.7h0M152.5 374.1h0M160.6 367.3h0M148.7 376.2h0M155.7 366.1h0M157.5 376.1h0M152.0 379.0h0M151.0 373.5h0M153.8 374.5h0M155.2 377.6h0M159.7 376.8h0M156.0 377.2h0M153.1 379.7h0M160.0 370.9h0M151.1 375.2h0M151.9 370.9h0M158.8 366.8h0M158.9 376.7h0M157.1 368.0h0M159.5 368.6h0M159.3 373.5h0M161.9 372.9h0M152.1 365.5h0M161.2 370.2h0M155.8 371.9h0M158.9 375.2h0M160.9 371.2h0M159.4 371.3h0M155.0 373.7h0M154.9 376.2h0M152.9 377.2h0M156.1 372.7h0M157.0 379.6h0M159.6 371.6h0M153.2 373.6h0M152.3 369.8h0M151.9 371.4h0M154.5 371.4h0M157.2 367.3h0M157.2 367.8h0M156.3 376.6h0M156.1 372.9h0M158.8 373.1h0M154.9 377.6h0M155.9 372.8h0M159.7 367.5h0M157.4 373.3h0M158.9 372.9h0M160.8 373.6h0M151.6 373.5h0M160.2 374.2h0M164.0 368.7h0M151.6 380.1h0M158.8 371.8h0M163.2 367.6h0M156.0 370.9h0M155.4 371.3h0M159.3 374.1h0M154.5 373.2h0M159.1 375.7h0M150.5 376.0h0M153.7 375.1h0M163.2 369.8h0M147.9 370.6h0M162.4 364.1h0M154.4 373.7h0M154.3 370.8h0M152.3 372.0h0M157.2 371.1h0M158.8 374.1h0M158.4 373.2h0M154.3 374.3h0M149.6 377.9h0M155.4 368.2h0M157.0 373.7h0M155.3 369.2h0M158.4 371.1h0M149.8 370.8h0M150.2 377.6h0M151.9 375.7h0M159.0 371.2h0M155.1 371.6h0M157.4 372.2h0M154.5 373.1h0M148.3 377.3h0M151.2 370.4h0M153.8 368.1h0M148.7 371.8h0M152.9 376.9h0M149.7 376.5h0M155.0 375.1h0M160.4 379.6h0M160.3 366.2h0M157.7 373.7h0M151.9 372.3h0M154.9 377.4h0M151.9 375.5h0M152.6 371.0h0M151.0 373.2h0M156.6 375.6h0M155.0 369.9h0M161.0 369.7h0M160.1 372.5h0M156.6 372.4h0M158.9 368.6h0M156.8 367.2h0M156.8 375.7h0M158.2 376.5h0M159.0 376.6h0M152.5 371.2h0M161.7 368.6h0M153.0 373.6h0M156.0 368.7h0M157.0 376.8h0M154.5 379.6h0M158.0 370.7h0M161.8 367.6h0M152.8 371.5h0M160.0 368.1h0M156.4 375.3h0M162.4 369.0h0M156.6 373.4h0M156.0 375.5h0M158.7 372.3h0M162.2 374.6h0M159.6 371.2h0M161.2 374.1h0M158.3 370.1h0M154.4 377.4h0M159.0 373.1h0M157.1 374.2h0M150.5 375.7h0M153.7 375.2h0M152.9 369.0h0M151.9 369.5h0M153.9 373.5h0M158.2 372.0h0M166.6 362.2h0M157.4 374.0h0M159.7 377.2h0M159.5 374.0h0M150.7 372.2h0M153.9 368.2h0M153.7 372.2h0M156.9 371.3h0M156.6 369.6h0M160.2 369.2h0M151.9 375.2h0M165.4 365.1h0M153.7 370.6h0M154.8 370.4h0M154.9 378.7h0M155.0 370.0h0M156.3 370.1h0M152.8 377.7h0M156.6 374.8h0M148.6 373.7h0M163.8 365.0h0M164.5 369.3h0M150.0 365.5h0M159.5 371.1h0M154.0 373.7h0M152.6 371.0h0M158.0 375.7h0M158.1 372.0h0M160.1 371.0h0M156.6 370.5h0M158.9 368.0h0M158.8 372.8h0M156.2 368.5h0M157.7 373.5h0M158.5 369.7h0M160.2 370.6h0M151.7 372.3h0M160.7 367.6h0M150.0 374.7h0M158.3 369.9h0M158.8 373.0h0M151.4 374.3h0M153.6 371.3h0M152.3 375.2h0M154.7 372.4h0M162.4 367.5h0M161.2 377.4h0M153.2 374.7h0M156.2 373.4h0M151.7 373.9h0M160.5 374.8h0M150.0 372.7h0M152.1 372.8h0M156.9 372.4h0M155.2 374.1h0M164.9 368.1h0M154.8 378.8h0M158.4 367.4h0M153.1 377.1h0M159.3 374.4h0M162.7 372.2h0M157.2 370.2h0M162.7 372.8h0M155.1 372.4h0M154.9 370.6h0M154.1 370.2h0M158.5 372.2h0M158.5 369.8h0M156.6 374.6h0M153.4 372.5h0M158.0 375.4h0M157.3 376.5h0M159.9 369.4h0M154.7 373.6h0M155.2 371.3h0M154.2 376.8h0M154.3 373.4h0M153.0 369.3h0M159.3 367.8h0M147.4 371.7h0M154.8 373.9h0M160.8 374.5h0M153.0 370.6h0M157.0 373.8h0M155.8 372.4h0M152.4 369.8h0M150.7 371.7h0M155.0 370.1h0M161.4 369.8h0M157.4 374.3h0M157.9 372.2h0M155.5 369.8h0M158.4 363.7h0M165.6 376.9h0M152.5 374.3h0M154.4 378.2h0M152.5 378.9h0M153.3 374.3h0M148.6 366.3h0M159.3 365.5h0M150.0 378.4h0M156.4 369.7h0M161.8 366.0h0M157.5 371.2h0M161.5 371.7h0M163.8 369.1h0M158.6 373.7h0M152.6 381.1h0M157.3 375.4h0M157.4 370.2h0M154.1 369.4h0M153.1 374.7h0M161.1 371.2h0M152.2 376.2h0M154.0 380.5h0M158.0 374.2h0M153.9 371.7h0M157.4 369.3h0M159.0 369.1h0M155.7 375.3h0M151.7 370.6h0M159.1 374.2h0M156.5 374.7h0M154.2 369.3h0M158.6 374.3h0M153.3 376.5h0M156.5 376.9h0M157.2 376.3h0M158.3 372.6h0M159.2 369.7h0M160.0 369.6h0M152.5 367.1h0M156.6 371.6h0M161.5 376.1h0M158.6 378.1h0M155.0 373.5h0M158.1 374.3h0M150.6 379.4h0M155.0 371.5h0M158.3 372.9h0M152.9 378.9h0M157.8 371.2h0M161.7 368.9h0M160.6 371.8h0M165.9 365.3h0M154.0 374.9h0M149.2 375.1h0M159.2 367.6h0M150.1 368.4h0M157.5 376.0h0M151.6 371.2h0M154.9 371.6h0M157.5 373.0h0M152.2 365.5h0M157.7 370.8h0M158.3 374.0h0M155.4 373.0h0M151.3 373.3h0M157.7 374.4h0M152.9 373.1h0M161.5 370.9h0M157.9 377.6h0M155.2 370.9h0M154.1 370.2h0M152.0 373.4h0M158.8 367.1h0M159.5 369.1h0M158.2 369.4h0M156.6 369.5h0M157.1 373.5h0M158.1 368.4h0M149.5 376.4h0M164.0 363.8h0M154.3 369.6h0M154.8 377.2h0M159.4 374.5h0M154.8 376.0h0M155.2 378.1h0M156.2 373.4h0M154.2 376.7h0M156.2 371.1h0M157.6 369.1h0M152.3 374.9h0M152.9 376.2h0M163.3 371.0h0M153.1 371.3h0M158.3 376.0h0M158.7 372.1h0M160.6 371.8h0M149.2 376.7h0M153.2 375.4h0M157.6 372.9h0M149.2 378.6h0M155.8 378.5h0M160.7 375.2h0M159.4 377.1h0M156.5 369.5h0M157.5 375.2h0M152.8 372.1h0M156.3 370.6h0M151.1 375.1h0M153.1 370.2h0M159.2 371.0h0M155.6 371.7h0M155.2 372.2h0M163.8 368.7h0M160.6 369.2h0M155.0 374.9h0M158.9 366.7h0M154.0 369.7h0M151.0 373.0h0M159.0 374.7h0M155.3 376.2h0M160.7 369.6h0M152.1 374.4h0M154.9 368.1h0M160.8 368.1h0M155.2 372.3h0M155.4 372.7h0M157.7 370.2h0M154.5 370.0h0M158.3 366.4h0M155.3 365.5h0M162.4 365.8h0M157.6 369.5h0M158.2 367.5h0M151.9 373.2h0M157.8 367.9h0M154.4 374.9h0M158.5 370.6h0M151.6 371.8h0M160.8 368.5h0M159.6 371.6h0M162.5 367.9h0M154.0 376.0h0M151.3 377.6h0M155.8 373.1h0M161.0 369.4h0M154.9 373.5h0M151.3 370.8h0M153.7 372.4h0M154.4 378.4h0M163.6 367.6h0M153.8 373.4h0M163.7 367.5h0M153.6 375.3h0M155.0 374.3h0M159.1 375.7h0M160.8 371.6h0M155.3 373.4h0M158.9 382.6h0M158.8 377.1h0M154.9 378.6h0M159.4 376.3h0M161.1 374.8h0M164.0 369.4h0M157.9 374.4h0M153.3 377.9h0M153.9 377.9h0M153.5 373.8h0M157.3 370.3h0M151.7 371.8h0M155.8 370.8h0M156.8 375.9h0M158.9 376.1h0M147.0 375.5h0M154.2 372.2h0M161.2 373.2h0M156.2 370.4h0M155.7 379.3h0M159.1 366.6h0M159.2 369.4h0M156.9 368.5h0M154.9 378.1h0M154.8 372.7h0M151.9 371.0h0M160.9 370.4h0M149.8 374.3h0M160.8 369.3h0M161.3 365.7h0M155.0 373.7h0M154.6 375.0h0M166.2 364.0h0M158.6 371.8h0M154.4 376.1h0M162.0 368.5h0M159.6 368.6h0M150.2 368.9h0M160.2 377.9h0M149.7 377.6h0M155.2 376.3h0M154.1 374.8h0M155.0 372.7h0M163.9 366.8h0M160.7 379.0h0M152.6 368.9h0M161.6 370.0h0M156.1 375.8h0M162.9 372.4h0M162.9 369.5h0M155.6 375.4h0M159.1 368.9h0M161.8 371.8h0M154.0 372.2h0M159.1 368.7h0M153.3 378.9h0M149.3 379.2h0M154.4 378.6h0M157.6 373.8h0M159.7 368.2h0M155.9 375.6h0M164.1 365.3h0M151.6 374.7h0M158.4 373.6h0M156.7 371.6h0M150.5 376.1h0M157.7 367.5h0M161.2 367.2h0M157.9 373.8h0M150.2 376.1h0M156.3 369.2h0M154.5 375.8h0M158.1 367.2h0M163.8 369.0h0M153.5 367.7h0M152.5 370.4h0M158.0 366.1h0M162.4 369.6h0M152.5 373.4h0M156.0 366.3h0M156.5 368.1h0M154.3 377.6h0M161.6 367.1h0M164.9 364.1h0M164.6 364.9h0M160.5 369.1h0M157.3 372.0h0M154.5 374.0h0M153.9 377.8h0M159.6 373.9h0M160.6 373.9h0M156.6 367.5h0M152.3 375.6h0M158.9 369.7h0M151.6 373.4h0M150.9 375.8h0M156.3 376.5h0M157.8 372.5h0M153.6 370.4h0M156.8 371.0h0M157.2 372.7h0M153.2 373.2h0M156.9 373.7h0M164.9 365.1h0M159.1 373.8h0M159.7 371.2h0M158.3 376.0h0M153.6 366.7h0M151.6 379.6h0M154.3 366.7h0M162.4 365.4h0M157.4 375.2h0M162.4 370.9h0M154.3 370.0h0M158.8 367.8h0M154.8 368.1h0M162.4 366.7h0M157.9 377.2h0M156.1 376.5h0M155.9 364.7h0M160.5 368.4h0M156.9 375.7h0M150.4 363.1h0M152.6 371.2h0M154.0 373.4h0M156.4 371.3h0M154.4 367.3h0M162.1 368.1h0M154.1 373.7h0M156.8 374.7h0M158.6 372.6h0M151.5 375.0h0M161.5 367.0h0M158.2 377.4h0M146.9 372.5h0M161.6 371.0h0M153.8 377.6h0M158.4 372.7h0M157.2 369.6h0M153.4 376.3h0M156.6 371.6h0M162.9 368.3h0M156.4 368.5h0M154.1 371.1h0M152.0 375.3h0M156.3 366.7h0M157.8 374.2h0M160.7 367.8h0M163.7 373.6h0M153.7 378.2h0M156.5 373.2h0M163.3 370.8h0M161.0 372.4h0M154.8 376.7h0M155.4 375.7h0M162.1 368.4h0M152.4 378.0h0M155.7 372.6h0M157.7 370.9h0M152.6 372.6h0M156.5 367.6h0M161.5 374.6h0M157.5 374.1h0M155.6 371.3h0M153.6 375.6h0M158.1 377.9h0M151.9 371.5h0M150.3 375.2h0M163.8 372.6h0M159.8 371.9h0M158.5 374.8h0M153.7 375.2h0M151.8 369.8h0M150.3 380.3h0M159.4 368.3h0M154.2 365.6h0M159.1 365.8h0M159.5 369.1h0M159.7 374.4h0M155.0 373.1h0M158.3 373.0h0M161.8 364.5h0M158.7 373.0h0M157.0 368.4h0M155.8 369.6h0M161.4 366.2h0M158.5 372.2h0M154.9 378.3h0M152.5 377.2h0M155.7 371.6h0M158.0 368.6h0M156.5 372.2h0M156.5 372.8h0M159.1 367.8h0M156.0 374.6h0M156.7 375.8h0M157.2 374.1h0M160.7 372.2h0M152.7 374.4h0M150.7 380.9h0M158.3 372.4h0M153.2 374.7h0M158.4 368.0h0" stroke="#1a2ee2" stroke-width="0.72" stroke-linecap="round" opacity="0.7" fill="none"/>
<path d="M160.7 373.3h0M156.8 372.9h0M153.4 375.2h0M159.8 372.5h0M161.5 374.0h0M154.6 378.2h0M155.7 373.2h0M155.3 371.7h0M153.9 374.4h0M152.8 371.3h0M160.8 371.4h0M158.0 371.1h0M155.1 368.7h0M158.1 366.2h0M155.1 368.8h0M157.7 374.1h0M160.1 371.8h0M155.4 372.8h0M159.1 366.1h0M153.5 373.7h0M154.3 376.1h0M153.7 373.7h0M161.6 371.4h0M158.3 369.4h0M149.9 373.2h0M153.4 375.9h0M158.1 368.9h0M154.3 375.8h0M158.0 372.5h0M154.7 373.6h0M155.6 374.5h0M157.4 366.5h0M149.9 373.9h0M157.2 372.7h0M153.0 378.9h0M150.0 377.0h0M161.7 369.8h0M162.2 369.4h0M155.1 371.8h0M163.5 379.6h0M153.6 377.4h0M152.8 368.4h0M149.1 378.3h0M150.4 378.5h0M160.5 374.8h0M154.6 375.5h0M158.7 371.8h0M155.9 368.7h0M156.3 377.5h0M154.1 374.7h0M152.5 369.7h0M159.3 373.6h0M156.0 371.9h0M153.9 371.6h0M156.8 367.7h0M157.6 370.0h0M156.3 373.2h0M155.0 378.7h0M153.5 377.0h0M160.5 375.5h0M155.7 374.2h0M155.9 376.0h0M152.1 376.1h0M149.5 378.6h0M158.6 373.9h0M154.1 376.5h0M156.8 375.4h0M150.5 378.3h0M158.5 373.6h0M156.0 373.4h0M155.4 373.1h0M154.2 378.5h0M155.8 371.3h0M152.7 376.1h0M152.9 375.2h0M159.0 375.3h0M156.3 375.3h0M162.7 375.8h0M151.2 379.5h0M156.9 375.8h0M156.2 373.1h0M156.5 369.5h0M156.3 371.9h0M158.6 369.9h0M155.7 371.3h0M156.7 375.7h0M150.2 374.5h0M152.2 374.8h0M156.6 367.4h0M157.1 374.9h0M157.6 373.3h0M160.9 376.4h0M152.8 375.7h0M161.4 371.6h0M151.4 375.5h0M156.6 374.1h0M153.8 373.7h0M157.6 369.7h0M152.5 373.4h0M159.4 371.5h0M157.4 375.7h0M157.8 372.6h0M154.6 377.2h0M157.8 370.2h0M155.8 375.6h0M151.6 372.8h0M155.3 372.1h0M150.9 378.4h0M157.6 373.0h0M150.8 376.8h0M157.1 374.8h0M154.0 369.1h0M157.4 367.4h0M156.9 373.0h0M158.9 371.5h0M154.4 373.5h0M156.5 369.0h0M161.4 369.1h0M151.7 376.8h0M155.7 374.4h0M154.6 368.5h0M152.6 372.9h0M154.5 371.1h0M153.4 376.2h0M151.3 373.9h0M156.2 373.6h0M156.0 373.7h0M151.4 377.1h0M155.4 373.7h0M156.5 373.2h0M149.2 376.5h0M150.5 371.1h0M154.6 374.2h0M155.2 378.2h0M157.0 374.3h0M156.3 370.6h0M155.4 371.5h0M156.5 373.0h0M153.0 371.6h0M159.4 373.1h0M158.5 368.9h0M152.9 380.2h0M160.4 373.2h0M154.0 371.0h0M159.8 372.3h0M154.3 374.7h0M154.5 375.3h0M156.0 372.9h0M153.5 373.1h0M156.0 374.1h0M152.6 374.0h0M156.2 371.6h0M153.8 376.6h0M160.9 373.6h0M153.9 374.9h0M155.2 368.9h0M157.3 370.5h0M159.9 370.8h0M161.2 366.5h0M158.4 370.0h0M157.2 373.1h0M152.2 371.1h0M154.1 373.5h0M157.7 370.4h0M154.7 377.4h0M153.0 371.9h0M159.4 374.7h0M154.9 376.1h0M155.8 376.7h0M157.2 373.2h0M153.7 372.5h0M150.7 374.3h0M158.2 371.8h0M159.7 370.5h0M152.3 376.0h0M149.7 375.9h0M157.7 372.2h0M152.1 373.3h0M153.3 369.2h0M156.6 376.6h0M161.1 370.3h0M160.8 370.7h0M153.5 375.3h0M154.9 373.4h0M154.9 375.8h0M155.1 374.6h0M154.1 373.2h0M155.7 373.9h0M152.9 367.5h0M155.1 373.7h0M159.2 369.6h0M154.4 374.2h0M155.0 370.3h0M155.5 369.6h0M158.9 376.4h0M154.0 377.1h0M148.7 375.1h0M157.6 372.5h0M157.7 372.5h0M150.7 373.2h0M158.1 371.6h0M156.0 374.1h0M159.7 371.0h0M158.5 372.3h0M154.3 374.9h0M155.5 370.3h0M153.9 380.9h0M155.4 371.3h0M155.4 372.8h0M153.4 372.0h0M152.8 376.7h0M156.2 369.6h0M151.1 372.4h0M162.9 373.5h0M154.7 371.6h0M153.7 377.2h0M157.3 374.2h0M157.3 374.8h0M158.4 370.1h0M157.8 376.4h0M152.2 372.0h0M158.0 372.2h0M156.4 372.4h0M158.5 373.3h0M157.0 368.8h0M157.8 374.7h0M158.8 373.5h0M154.3 376.1h0M156.4 373.0h0M156.3 371.6h0M152.6 377.3h0M155.1 373.2h0M154.1 376.5h0M161.0 369.5h0M154.9 372.9h0M151.3 375.7h0M152.9 380.4h0M159.8 370.5h0M155.4 373.9h0M160.0 371.4h0M152.5 375.9h0M149.7 375.6h0M159.8 371.8h0M161.1 371.2h0M155.5 374.2h0M158.2 374.7h0M155.8 371.3h0M155.0 376.7h0M157.3 370.7h0M155.3 370.7h0M158.5 369.8h0M154.7 373.8h0M155.5 371.1h0M156.6 371.0h0M154.4 369.1h0M155.4 372.1h0M154.4 376.2h0M159.1 371.2h0M160.5 373.3h0M151.6 374.8h0M157.5 374.2h0M153.0 376.2h0M157.1 367.2h0M156.7 374.1h0M157.5 374.7h0M155.0 375.9h0M151.6 375.9h0M159.2 373.6h0M155.6 373.5h0M155.2 376.4h0M156.0 374.6h0M152.9 368.6h0M154.7 376.7h0M158.3 373.5h0M156.0 377.5h0M147.7 377.2h0M152.4 372.2h0M153.6 375.8h0M156.1 370.9h0M154.8 371.9h0M156.3 373.9h0M158.2 377.6h0M160.6 371.6h0M148.7 370.4h0M157.1 371.3h0M148.6 372.6h0M154.7 368.6h0M153.2 375.7h0M156.3 370.4h0M153.9 374.4h0M155.2 374.1h0M149.5 371.3h0M159.0 371.6h0M153.1 374.4h0M154.3 376.6h0M158.1 372.0h0M157.7 368.8h0M154.7 377.9h0M158.8 370.4h0M156.9 375.2h0M158.5 370.6h0M156.8 374.2h0M159.2 368.6h0M163.3 370.1h0M152.7 372.5h0M156.8 374.2h0M159.3 372.1h0M162.3 372.8h0M161.3 375.9h0M154.3 370.6h0M154.7 373.9h0M149.6 377.0h0M155.5 375.3h0M157.6 376.0h0M152.8 372.0h0M154.4 376.4h0M155.5 374.3h0M152.4 370.2h0M157.3 374.2h0M155.0 370.4h0M156.2 376.3h0M155.6 372.8h0M156.9 372.2h0M157.0 379.0h0M159.8 372.7h0M153.2 374.2h0M159.9 374.7h0M152.8 373.7h0M160.2 372.6h0M158.3 372.0h0M160.3 369.7h0M156.4 372.5h0M162.1 368.6h0M155.7 375.3h0M160.0 374.4h0M152.2 376.8h0M156.6 373.3h0M155.8 369.0h0M156.0 371.6h0M155.4 379.5h0M158.1 375.6h0M158.4 370.8h0M151.4 376.0h0M158.1 374.0h0M149.6 376.3h0M161.5 371.5h0M154.4 371.4h0M151.8 374.4h0M157.8 371.6h0M155.3 371.7h0M154.6 378.5h0M158.1 375.2h0M155.1 370.4h0M159.5 376.1h0M155.0 373.8h0M153.8 375.5h0M158.3 368.1h0M155.7 375.2h0M156.6 372.7h0M156.0 370.9h0M156.4 373.9h0M158.4 373.6h0M157.2 372.2h0M161.9 369.0h0M157.3 371.9h0M156.5 371.5h0M158.4 372.7h0M155.2 373.7h0M158.6 372.6h0M153.6 373.0h0M153.6 376.1h0M156.6 375.9h0M162.5 368.7h0M150.8 374.3h0M158.2 369.5h0M150.8 375.7h0M152.2 373.2h0M154.7 377.7h0M153.0 372.0h0M156.2 373.3h0M159.4 376.5h0M151.5 374.7h0M149.8 371.5h0M159.9 371.2h0M158.7 371.9h0M156.0 373.7h0M161.2 366.2h0M153.9 371.1h0M156.6 377.3h0M156.1 365.4h0M156.8 370.9h0M159.7 373.4h0M158.5 373.0h0M151.6 375.6h0M155.9 372.1h0M159.5 374.5h0M150.5 376.8h0M161.6 372.6h0M153.3 373.3h0M158.8 372.8h0M158.3 376.2h0M156.7 373.9h0M161.3 367.7h0M155.9 374.0h0M153.9 374.5h0M157.4 367.7h0M161.7 371.9h0M156.4 372.3h0M156.7 374.7h0M157.3 373.1h0M152.8 375.5h0M158.1 368.1h0M158.8 369.1h0M159.7 373.7h0M153.4 373.1h0M150.3 379.9h0M160.0 372.6h0M148.6 373.3h0M153.9 377.2h0M150.2 376.8h0M152.6 370.8h0M152.8 371.2h0M153.9 371.3h0M152.9 370.3h0M154.2 368.9h0M152.2 378.7h0M154.3 376.1h0M159.7 378.3h0M156.7 369.5h0M152.2 376.7h0M157.4 374.0h0M157.1 367.7h0M164.7 365.2h0M155.3 378.2h0M149.8 374.9h0M155.2 372.6h0M152.5 377.4h0M153.6 373.8h0M155.0 368.1h0M157.7 374.4h0M152.5 373.8h0M155.7 376.7h0M162.7 368.8h0M152.4 378.2h0M156.5 371.5h0M156.8 367.1h0M157.8 372.4h0M155.2 371.2h0M151.3 372.1h0M156.2 374.1h0M152.2 376.0h0M154.4 372.9h0M154.8 374.7h0M156.7 376.7h0M154.0 370.7h0M154.8 371.2h0M154.7 373.1h0M155.3 376.6h0M155.4 367.4h0M158.9 377.3h0M153.7 375.2h0M151.7 374.6h0M152.4 372.2h0M159.3 375.6h0M155.5 375.0h0M152.6 374.0h0M155.3 370.8h0M153.6 372.4h0M158.0 372.2h0M158.5 372.8h0M155.0 370.6h0M157.2 370.7h0M154.8 372.8h0M155.8 372.5h0M157.7 369.4h0M157.3 374.7h0M155.0 372.5h0M153.7 374.4h0M158.3 374.0h0M156.6 375.8h0M155.3 374.2h0M154.2 375.9h0M151.8 375.3h0M155.5 371.3h0M155.9 373.6h0M159.5 371.7h0M155.7 374.2h0M155.0 372.7h0M152.8 373.9h0M159.6 369.8h0M151.8 374.8h0M153.1 378.1h0M151.8 377.6h0M151.5 373.6h0M157.2 375.0h0M153.3 376.3h0M157.4 374.4h0M156.0 367.9h0M162.8 370.8h0M153.4 373.3h0M158.5 373.3h0M156.6 376.0h0M156.1 375.9h0M152.2 377.3h0M150.4 375.7h0M153.2 376.2h0M150.7 377.7h0M155.3 376.4h0M156.4 367.5h0M159.6 368.3h0M153.6 370.9h0M155.4 374.6h0M155.9 375.6h0M153.2 373.7h0M152.9 376.6h0M160.9 371.9h0M157.6 370.2h0M159.5 367.1h0M153.3 377.2h0M156.0 377.4h0M155.0 365.2h0M151.7 373.4h0M158.7 377.5h0M159.0 376.5h0M158.0 377.9h0M157.5 373.7h0M158.4 373.6h0M159.6 372.6h0M154.4 378.5h0M159.4 374.5h0M159.8 374.2h0M154.9 377.5h0M159.0 369.2h0M152.8 373.4h0M159.2 371.6h0M160.6 369.2h0M160.4 369.2h0M157.1 371.4h0M151.6 373.1h0M162.5 365.7h0M155.5 368.3h0M152.0 371.6h0M151.9 378.5h0M156.2 371.8h0M160.5 373.8h0M159.0 376.2h0M152.2 376.2h0M154.7 375.4h0M158.7 372.1h0M149.5 378.2h0M155.3 372.2h0M156.2 365.4h0M158.1 375.2h0M154.3 369.2h0M156.7 371.1h0M157.9 375.2h0M150.9 377.8h0M153.4 371.9h0M153.6 374.0h0M153.3 377.7h0M153.2 372.3h0M153.5 373.5h0M159.1 375.9h0M159.0 371.4h0M156.1 378.5h0M151.7 372.4h0M157.1 372.5h0M152.4 376.4h0M157.2 377.3h0M150.9 375.7h0M156.7 376.7h0M156.8 376.6h0M159.3 375.5h0M152.8 374.1h0M151.2 380.8h0M151.4 373.3h0M154.2 373.5h0M152.7 371.6h0M156.7 369.2h0M160.9 370.6h0M155.7 375.0h0M152.4 376.4h0M159.1 371.4h0M155.8 369.9h0M155.4 368.1h0M157.1 369.4h0M153.3 370.8h0M154.5 371.5h0M152.4 376.6h0M153.8 369.8h0M155.9 374.0h0M153.3 375.5h0M160.3 372.9h0M157.2 374.1h0M153.2 375.6h0M158.0 372.0h0M154.8 375.4h0M157.2 372.4h0M156.6 376.3h0M148.8 378.3h0M158.2 367.5h0M149.3 375.2h0M154.7 366.9h0M155.1 369.3h0M156.4 374.3h0M161.1 374.6h0M152.6 378.0h0M155.4 374.9h0M150.6 377.4h0M157.3 375.4h0M155.8 372.8h0M157.1 373.6h0M157.5 374.0h0M149.0 374.5h0M151.5 373.2h0M153.1 374.2h0M159.9 368.1h0M154.1 376.8h0M154.5 378.1h0M159.3 371.7h0M155.0 372.9h0M155.9 374.4h0M151.6 377.2h0M156.7 375.6h0M157.1 374.3h0M151.8 372.7h0M153.4 379.2h0M154.7 372.8h0M154.1 373.0h0M158.6 370.8h0M157.6 372.1h0M153.9 368.3h0M154.4 371.1h0M155.0 371.4h0M156.6 374.7h0M154.9 373.4h0M153.3 372.2h0M155.9 369.7h0M157.3 372.0h0M155.2 373.3h0M151.2 372.3h0M160.2 370.7h0M161.9 371.4h0M152.7 380.0h0M154.7 377.1h0M159.8 375.4h0M155.8 372.0h0M152.6 373.8h0M153.6 370.7h0M155.5 374.3h0M159.4 375.5h0M156.2 374.9h0M155.4 372.5h0M160.6 374.0h0M152.5 377.8h0M155.4 375.6h0M152.9 374.2h0M161.7 365.7h0M156.4 373.2h0M153.1 377.8h0M154.6 372.3h0M154.5 374.9h0M161.4 367.8h0M161.1 366.0h0M158.9 372.4h0M154.5 373.8h0M156.2 373.8h0M155.9 371.0h0M156.2 372.2h0M152.5 376.5h0M155.6 373.9h0M158.3 373.2h0M157.1 368.6h0M155.8 375.4h0M159.3 371.5h0M158.8 371.3h0M159.9 371.1h0M160.7 370.3h0M159.4 370.0h0M153.0 375.5h0M155.2 376.7h0M156.1 371.7h0M153.6 373.9h0M156.4 372.3h0M155.5 375.0h0M156.5 371.0h0M159.4 371.3h0M154.2 374.5h0M156.6 372.4h0M156.8 374.6h0M148.9 373.8h0M152.8 371.2h0M156.0 372.2h0M155.0 374.1h0M158.7 369.2h0M154.5 370.3h0M155.0 376.6h0M159.7 376.5h0M157.4 370.4h0M157.9 376.1h0M149.9 372.6h0M158.3 373.2h0M154.0 371.9h0M159.8 377.2h0M152.9 374.0h0M159.5 371.7h0M154.5 371.6h0M153.1 374.4h0M152.5 374.7h0M155.0 377.6h0M156.4 372.8h0M154.0 370.4h0M159.1 373.3h0M151.8 375.8h0M152.3 376.3h0M157.5 370.7h0M156.1 371.6h0M152.7 376.1h0M152.1 375.9h0M153.4 373.0h0M157.1 369.5h0M155.3 373.7h0M152.8 375.3h0M161.2 372.4h0M158.6 372.4h0M154.0 375.4h0M152.6 372.0h0M159.6 377.9h0M161.3 368.6h0M161.8 372.8h0M154.0 374.1h0M157.7 374.8h0M154.2 371.4h0M156.1 373.1h0M156.2 376.3h0M150.3 374.1h0M156.2 371.9h0M155.8 369.8h0M153.6 376.5h0M156.0 369.8h0M157.7 372.1h0M160.6 372.8h0M156.6 374.7h0M155.3 372.5h0M153.1 372.3h0M154.2 377.8h0M160.7 372.8h0M152.5 373.8h0M153.0 375.7h0M153.5 374.1h0M154.8 375.7h0M152.1 375.7h0M159.8 371.2h0M156.1 367.2h0M156.4 373.8h0M156.7 374.2h0M157.5 373.5h0M154.6 373.3h0M151.7 374.7h0M157.9 373.8h0M157.8 375.0h0M159.8 371.8h0M155.9 372.0h0M154.6 370.2h0M152.8 373.3h0M156.6 373.3h0M156.8 370.0h0M159.3 372.0h0M155.7 372.2h0M154.0 373.7h0M153.4 376.3h0M154.6 376.1h0M156.3 370.6h0M155.5 373.5h0M160.7 369.2h0M149.5 373.2h0M155.6 371.1h0M158.1 373.3h0M151.4 372.5h0M159.8 372.0h0M151.4 373.3h0M157.9 374.0h0M155.5 372.8h0M153.0 375.1h0M160.0 377.7h0M158.4 371.4h0M158.1 373.4h0M155.7 376.6h0M152.6 374.5h0M157.0 378.0h0M155.4 373.2h0M159.8 372.0h0M154.5 377.5h0M157.4 376.8h0M158.3 372.1h0M154.7 378.8h0M153.0 377.5h0M157.6 370.0h0M159.4 371.2h0M157.1 373.3h0M154.6 379.0h0M158.3 372.7h0M160.5 372.7h0M155.3 372.7h0M157.6 376.4h0M156.1 374.2h0M156.0 378.6h0M157.5 376.6h0M155.6 369.9h0M156.1 373.5h0M155.7 376.1h0M153.9 375.8h0M157.5 374.3h0M160.7 370.2h0M154.9 376.3h0M155.0 373.5h0M154.4 374.5h0M154.7 369.4h0M152.4 373.9h0M156.8 373.7h0M151.6 371.3h0M153.9 377.5h0M161.5 371.0h0M153.6 378.5h0M156.1 375.7h0M155.8 370.2h0M161.1 371.1h0M157.6 371.0h0M157.3 375.1h0M157.6 372.4h0M158.0 373.0h0M156.6 377.8h0M156.5 368.1h0M153.0 370.3h0M155.6 373.3h0M159.2 370.3h0M152.7 372.2h0M153.6 377.4h0M154.5 374.8h0M154.7 369.4h0M155.1 370.1h0M157.2 372.4h0M155.4 372.8h0M152.8 373.8h0M158.2 372.3h0M149.6 373.5h0M162.7 374.6h0M157.2 377.6h0M156.3 370.9h0M156.5 374.0h0M159.6 375.2h0M152.0 378.1h0M160.6 371.7h0M155.3 372.8h0M158.3 372.9h0M154.7 379.7h0M150.6 377.9h0M156.4 371.2h0M159.4 372.2h0M148.9 376.3h0M150.9 371.9h0M159.0 371.1h0M154.2 373.0h0M157.0 372.6h0M157.2 374.7h0M161.7 365.7h0M152.0 374.6h0M156.2 375.7h0M153.1 376.3h0M158.8 371.7h0M157.2 376.2h0M155.4 373.1h0M150.9 375.5h0M157.3 375.0h0M155.6 369.4h0M158.4 375.9h0M158.2 374.3h0M154.5 376.8h0M152.1 372.7h0M153.7 378.0h0M155.2 374.3h0M155.9 374.6h0M156.9 373.0h0M152.3 381.0h0M151.1 377.5h0M156.3 372.1h0M154.9 369.1h0M151.7 371.0h0M158.1 372.4h0M159.8 372.9h0M153.7 374.3h0M153.7 377.3h0M153.4 373.6h0M156.0 372.4h0M158.2 369.6h0M151.3 374.9h0M151.5 377.6h0M155.0 378.5h0M151.8 373.8h0M154.4 375.1h0M158.6 366.7h0M152.6 376.2h0M156.9 374.4h0M154.6 371.6h0M158.2 370.3h0M162.3 372.3h0M154.7 375.3h0M156.2 374.3h0M162.6 373.1h0M153.2 375.5h0M155.3 376.8h0M152.1 373.2h0M155.4 376.9h0M160.1 369.4h0M154.3 379.2h0M157.3 371.9h0M148.4 377.2h0M162.1 370.6h0M157.5 370.7h0M153.4 379.3h0M158.8 372.4h0M156.7 372.4h0M154.4 370.6h0M154.0 373.7h0M152.0 373.9h0M150.2 371.6h0M159.5 371.0h0M153.8 379.3h0M158.5 376.9h0M152.4 373.1h0M154.8 374.3h0M160.7 366.2h0M154.9 370.2h0M158.2 377.8h0M156.6 369.9h0M155.7 380.1h0M155.5 373.1h0M151.0 376.7h0M153.9 376.9h0M159.3 371.8h0M156.7 373.1h0M156.3 371.0h0M157.6 367.3h0M158.6 372.4h0M155.9 376.7h0" stroke="#0c18d6" stroke-width="0.88" stroke-linecap="round" opacity="0.9" fill="none"/>
<path d="M172.5 362.8h0M175.4 356.0h0M176.1 353.0h0M171.1 364.4h0M176.0 353.3h0M170.6 360.3h0M170.9 363.5h0M176.3 351.2h0M178.8 350.7h0M174.3 357.6h0M170.3 365.4h0M175.5 352.0h0M174.7 358.6h0M178.0 352.6h0M173.2 357.4h0M172.8 362.3h0M177.1 350.3h0M176.5 356.9h0M176.6 351.9h0M175.0 359.0h0M173.1 359.3h0M174.1 355.3h0M181.2 356.2h0M178.2 354.7h0M173.9 353.0h0M177.1 357.0h0M178.6 350.1h0M174.2 356.6h0M171.3 361.9h0M179.3 355.3h0M176.5 351.9h0M171.5 357.3h0M177.2 351.3h0M177.6 357.2h0M171.6 365.4h0M174.4 351.8h0M175.1 358.9h0M174.8 354.1h0M175.2 361.3h0M174.5 356.2h0M174.8 358.2h0M172.9 350.6h0M172.9 361.8h0M176.9 355.5h0M177.4 356.5h0M183.1 347.7h0M175.8 353.0h0M173.3 352.9h0M176.6 349.5h0M172.8 359.0h0M173.9 359.3h0M178.0 351.9h0M174.5 358.0h0M179.5 350.2h0M180.4 352.3h0M177.3 352.1h0M170.9 358.4h0M174.5 354.8h0M170.0 360.7h0M174.7 359.2h0M168.5 365.0h0M172.1 360.4h0M174.9 357.2h0M173.0 360.1h0M174.8 354.4h0M177.3 352.0h0M177.7 351.4h0M175.8 353.3h0M177.2 347.7h0M177.9 351.4h0M171.1 366.7h0M176.9 353.2h0M177.0 352.2h0M178.1 354.0h0M173.1 362.9h0M171.5 359.5h0M173.9 360.7h0M172.6 357.5h0M173.0 363.0h0M178.9 354.0h0M173.6 361.5h0M175.3 357.4h0M175.4 359.7h0M174.9 354.0h0M173.2 354.5h0M173.6 357.5h0M172.6 360.5h0M180.7 353.3h0M171.9 366.1h0M173.1 357.6h0M176.1 355.1h0M174.0 364.1h0M178.4 355.1h0M174.1 352.7h0M169.4 363.8h0M176.0 353.9h0M175.2 359.4h0M175.7 359.8h0M172.1 354.7h0M176.4 360.6h0M178.3 356.6h0M179.9 353.4h0M178.8 349.4h0M176.8 352.4h0M174.7 358.6h0M175.4 356.3h0M170.0 365.1h0M171.6 358.3h0M177.0 356.3h0M174.1 361.5h0" stroke="#1a2ee2" stroke-width="0.6" stroke-linecap="round" opacity="0.5" fill="none"/>
<path d="M185.4 345.9h0M187.7 333.8h0M178.4 334.7h0M183.3 332.6h0M181.5 337.8h0M184.7 340.8h0M175.8 339.6h0M185.2 325.6h0M187.2 339.0h0M189.4 336.1h0M182.4 330.3h0M181.8 345.3h0M176.3 330.7h0M185.6 334.2h0M182.2 348.6h0M178.8 340.7h0M188.7 343.4h0M183.6 342.7h0M181.1 328.1h0M182.2 338.6h0M169.1 339.6h0M180.9 340.8h0M180.0 338.1h0M183.0 343.5h0M180.2 340.8h0M182.1 341.6h0M183.3 342.1h0M185.8 327.2h0M185.1 332.6h0M179.8 342.6h0M173.6 350.8h0M180.2 334.7h0M190.1 328.4h0M194.0 334.9h0M189.4 331.5h0M177.8 331.2h0M180.3 339.9h0M185.1 330.8h0M180.1 328.6h0M187.0 326.5h0M181.8 332.2h0M181.9 324.6h0M186.3 339.3h0M182.4 340.6h0M183.3 345.7h0M184.8 340.0h0M189.2 336.9h0M183.6 335.2h0M182.3 333.9h0M181.3 346.6h0M179.1 335.5h0M182.8 343.9h0M182.3 333.0h0M189.6 332.1h0M178.0 336.6h0M179.0 318.1h0M188.4 325.3h0M181.2 339.1h0M187.4 337.7h0M182.1 338.8h0M183.9 321.3h0M183.1 339.9h0M185.5 335.1h0M186.9 337.3h0M192.1 332.5h0M190.8 332.7h0M185.3 330.7h0M190.2 343.1h0M179.5 343.0h0M185.8 341.8h0M189.3 338.0h0M181.6 327.5h0M184.0 333.4h0M187.8 338.0h0M175.8 337.8h0M185.7 338.6h0M179.4 338.9h0M184.7 337.9h0M186.6 328.8h0M192.9 326.8h0M174.7 339.7h0M181.3 338.2h0M184.7 337.2h0M181.7 336.2h0M183.9 339.3h0M190.2 337.1h0M194.1 326.9h0M179.7 328.3h0M173.4 341.4h0M177.5 337.9h0M180.7 344.0h0M188.0 338.9h0M187.4 329.1h0M186.5 337.9h0M179.2 337.1h0M189.5 332.2h0M170.5 341.4h0M184.6 335.3h0M183.8 341.7h0M178.0 336.2h0M185.9 328.5h0M184.0 331.6h0M182.9 335.2h0M185.6 336.5h0M178.8 333.2h0M192.1 339.9h0M184.7 334.4h0M176.1 335.8h0M177.4 338.6h0M185.7 334.3h0M185.1 336.3h0M192.2 328.8h0M180.1 343.1h0M181.4 340.0h0M174.7 337.8h0M184.5 326.0h0M188.8 338.0h0M176.8 350.3h0M191.9 337.0h0M186.0 335.4h0M179.6 340.3h0M187.4 335.9h0M187.1 331.6h0M180.8 330.1h0M179.7 336.2h0M180.7 335.6h0M181.9 333.3h0M184.1 335.9h0M185.3 337.9h0M186.3 331.8h0M188.1 342.2h0M186.6 327.2h0M180.3 335.4h0M180.0 332.8h0M176.7 342.1h0M179.7 339.5h0M185.1 335.0h0M188.2 328.5h0M185.3 336.9h0M183.5 333.0h0M173.0 350.1h0M185.3 334.5h0M180.3 337.4h0M188.4 334.7h0M183.4 334.5h0M179.8 333.7h0M175.9 346.6h0M190.8 334.6h0M181.5 338.9h0M183.8 339.9h0M185.0 337.6h0M190.9 328.1h0M185.4 333.4h0M185.8 329.7h0M188.0 342.4h0M182.9 343.6h0M182.2 339.1h0M185.8 337.4h0M184.1 331.5h0M175.7 347.0h0M187.6 328.2h0M187.6 327.4h0M190.6 328.3h0M179.8 331.5h0M177.8 338.4h0M178.2 331.1h0M174.0 329.0h0M175.1 340.4h0M171.5 353.6h0M184.9 339.6h0M181.5 330.9h0M186.6 345.5h0M179.2 338.6h0M189.9 331.9h0M181.7 332.2h0M187.5 334.8h0M182.0 342.5h0M173.5 338.9h0M195.4 339.4h0M176.9 342.6h0M184.2 335.1h0M187.9 341.3h0M181.6 334.9h0M173.0 340.9h0M179.1 339.4h0M177.5 340.6h0M195.4 323.4h0M194.0 325.6h0M186.2 336.9h0M176.8 345.9h0M183.0 330.9h0M187.7 326.1h0M178.8 347.5h0M178.5 340.0h0M192.7 328.4h0M183.5 342.0h0M179.9 340.9h0M183.1 338.6h0M183.6 332.2h0M192.9 327.4h0M180.7 343.9h0M176.2 339.1h0M171.6 342.8h0M190.3 333.7h0M180.7 339.3h0M187.0 334.1h0M181.1 338.1h0M181.7 342.5h0M178.6 333.3h0M181.7 336.8h0M192.0 334.6h0M180.2 345.5h0M183.8 341.4h0M180.5 344.1h0M179.2 346.3h0M189.6 332.9h0M198.6 336.7h0M185.6 338.2h0M178.5 336.8h0M176.0 338.6h0" stroke="#1a2ee2" stroke-width="0.56" stroke-linecap="round" opacity="0.5" fill="none"/>
<path d="M162.0 375.9h0M163.9 375.5h0M153.3 385.9h0M155.2 381.0h0M145.7 378.1h0M135.1 388.9h0M144.1 383.4h0M149.0 371.8h0M133.0 374.8h0M161.6 381.2h0M153.9 383.0h0M139.9 374.5h0M157.1 377.7h0M147.2 367.5h0M137.0 373.8h0M127.6 377.9h0M158.2 373.5h0M148.9 377.6h0M157.8 385.4h0M129.6 377.1h0M145.5 386.5h0M160.7 367.0h0M157.2 379.9h0M148.7 372.1h0M162.4 384.5h0M128.3 381.2h0M175.0 377.5h0M151.5 384.0h0M144.6 379.1h0M134.4 378.1h0M151.2 375.7h0M153.5 374.0h0M136.8 384.4h0M140.4 384.8h0M139.0 387.4h0M128.5 378.6h0M129.8 373.5h0M148.2 371.8h0M142.4 374.1h0M159.9 379.5h0M130.7 375.9h0M134.5 373.2h0M164.1 380.4h0M158.2 376.4h0M137.1 381.5h0M136.2 374.5h0M138.4 378.2h0M144.5 387.8h0M157.7 371.1h0M145.1 378.6h0M141.5 375.8h0M168.5 372.0h0M149.0 377.2h0M145.4 372.0h0M154.2 372.1h0M156.3 385.0h0M162.9 368.8h0M146.1 367.4h0M141.3 373.5h0M155.7 375.9h0M157.1 381.6h0M137.3 384.4h0M162.5 380.1h0M138.3 381.7h0M144.1 381.6h0M130.1 373.1h0M166.3 380.6h0M140.1 369.1h0M144.2 376.5h0M147.0 369.7h0M176.5 377.9h0M159.6 384.4h0M164.1 375.7h0M143.0 371.0h0M132.1 379.3h0M148.0 384.6h0M140.0 377.1h0M155.7 376.2h0M160.0 380.4h0M155.1 373.7h0M153.9 375.9h0M165.1 361.3h0M144.0 386.1h0M148.6 386.9h0M149.9 383.8h0M136.1 369.3h0M134.3 370.1h0M134.4 379.1h0M141.5 381.6h0M129.8 371.6h0M127.9 380.6h0M137.9 386.5h0M166.8 376.0h0M160.5 369.0h0M132.4 383.3h0M147.0 374.5h0M167.4 381.3h0M148.7 375.3h0M163.1 375.2h0M149.0 370.7h0M145.5 374.4h0M154.9 381.7h0M151.6 379.4h0M162.0 375.7h0M144.3 386.9h0M152.7 378.9h0M140.8 383.3h0M136.2 364.8h0M138.6 373.2h0M159.4 376.9h0M139.7 375.0h0M161.0 381.5h0M143.9 368.7h0M157.1 383.2h0M155.7 376.6h0M149.1 378.9h0M149.0 374.4h0M147.8 368.8h0M146.7 380.1h0M144.3 375.3h0M133.9 382.3h0M142.3 377.9h0M129.7 372.8h0M137.0 379.0h0M141.1 368.3h0M165.1 380.0h0M155.0 371.6h0M145.8 385.6h0M150.6 370.2h0M165.8 367.3h0M139.3 372.4h0M145.5 385.3h0M128.2 380.9h0M155.9 370.8h0M175.4 376.6h0M137.5 380.0h0M135.9 372.8h0M157.1 373.1h0M156.1 383.5h0M134.6 364.3h0M135.7 382.2h0M142.8 384.9h0M126.3 386.3h0M145.9 383.8h0M151.6 383.0h0M135.7 369.1h0M153.6 378.4h0M128.8 378.6h0M154.4 385.0h0M157.4 380.7h0M128.6 371.7h0M141.2 367.1h0M140.4 377.3h0M159.3 377.0h0M140.4 379.3h0M137.0 372.5h0M144.9 377.0h0M165.1 378.9h0M140.8 384.2h0M157.1 380.1h0M140.4 381.9h0M151.6 381.3h0M149.0 375.3h0M150.8 378.8h0M153.1 380.4h0" stroke="#1a2ee2" stroke-width="0.56" stroke-linecap="round" opacity="0.38" fill="none"/>
<path d="M126.2 365.5h0M126.1 358.7h0M126.4 353.8h0M126.0 366.6h0M126.4 373.5h0M126.4 386.1h0M126.3 358.0h0M126.4 382.9h0M126.5 365.1h0M126.5 352.4h0M126.2 370.3h0M126.5 383.4h0M126.0 381.9h0M126.2 384.5h0M126.4 371.1h0M126.2 352.6h0M126.4 368.1h0M126.3 352.1h0M126.1 361.9h0M126.1 365.6h0M126.0 380.1h0M126.1 388.7h0M126.4 381.1h0M126.5 374.6h0M126.5 382.4h0M126.3 353.3h0M126.1 378.0h0M126.1 382.4h0M126.4 364.5h0M126.4 361.5h0M126.3 381.0h0M126.2 386.5h0M126.1 377.8h0M126.1 353.6h0M126.2 380.2h0M126.2 376.9h0M126.4 376.9h0M126.3 363.9h0M126.2 351.6h0M126.4 364.3h0" stroke="#1a2ee2" stroke-width="0.6" stroke-linecap="round" opacity="0.4" fill="none"/>
<path d="M142.5 389.1h0M148.0 389.2h0M159.1 389.1h0M126.4 389.4h0M134.2 389.4h0M172.9 389.2h0M173.8 389.5h0M165.3 389.2h0M168.6 389.2h0M164.7 389.4h0M140.7 389.5h0M164.7 389.5h0M153.6 389.3h0M130.3 389.5h0M162.2 389.2h0M134.0 389.3h0M140.4 389.3h0M159.1 389.5h0M170.5 389.1h0M127.0 389.4h0M162.0 389.2h0M142.0 389.2h0M138.1 389.6h0M139.5 389.5h0M167.8 389.4h0M157.6 389.3h0M127.3 389.3h0M144.7 389.2h0M141.5 389.2h0M172.9 389.3h0M158.0 389.3h0M132.0 389.5h0M164.8 389.1h0M150.5 389.1h0M136.1 389.2h0M160.1 389.2h0M134.9 389.4h0M170.5 389.3h0M167.1 389.5h0M132.5 389.6h0M145.4 389.5h0M136.0 389.3h0M146.0 389.6h0M147.1 389.4h0M155.2 389.2h0M127.5 389.2h0M131.4 389.5h0M169.4 389.1h0M159.3 389.4h0M127.4 389.4h0M147.5 389.2h0M141.9 389.4h0M149.5 389.3h0M156.4 389.5h0M174.2 389.3h0M129.8 389.4h0M169.2 389.4h0M141.0 389.4h0M162.4 389.4h0M173.3 389.5h0M130.8 389.5h0M136.2 389.3h0M162.1 389.6h0M164.9 389.3h0M165.6 389.5h0M131.4 389.4h0M163.3 389.4h0M127.6 389.2h0M145.7 389.2h0M165.5 389.5h0M126.3 389.5h0M148.8 389.2h0M158.9 389.4h0M172.8 389.3h0M137.7 389.2h0M155.7 389.2h0M166.2 389.5h0M139.2 389.1h0M165.0 389.3h0M169.7 389.2h0" stroke="#1a2ee2" stroke-width="0.6" stroke-linecap="round" opacity="0.4" fill="none"/>
<line x1="13.00" y1="398.90" x2="13.00" y2="207.00" stroke="#555" stroke-width="1.0"/>
<path d="M13 204.6 L14.5 208 L11.5 208Z" fill="#222"/>
<line x1="12.50" y1="398.90" x2="206.00" y2="398.90" stroke="#555" stroke-width="1.0"/>
<path d="M208.5 398.9 L205 397.4 L205 400.4Z" fill="#222"/>
<text x="7.40" y="307.70" font-size="6.0" text-anchor="middle" font-weight="bold" fill="#000" transform="rotate(-90 7.40 307.70)" stroke="#000" stroke-width="0.22">PI</text>
<text x="88.00" y="407.50" font-size="6.6" text-anchor="start" font-weight="bold" fill="#000" stroke="#000" stroke-width="0.22">Annexin V−FITC</text>
</g>
<g id="panelD">
<text x="216.80" y="194.00" font-size="7.4" text-anchor="start" font-weight="bold" fill="#000" stroke="#000" stroke-width="0.22">D</text>
<rect x="280.20" y="194.50" width="6.80" height="4.20" fill="#ca64e8"/>
<text x="290.90" y="199.20" font-size="6.4" text-anchor="start" font-weight="bold" fill="#000" stroke="#000" stroke-width="0.22">HCT116</text>
<rect x="280.20" y="203.80" width="6.80" height="4.20" fill="#3b61f3"/>
<text x="290.90" y="208.60" font-size="6.4" text-anchor="start" font-weight="bold" fill="#000" stroke="#000" stroke-width="0.22">HCT116/OXA</text>
<rect x="281.60" y="272.67" width="8.90" height="6.03" fill="#ca64e8"/>
<line x1="286.05" y1="272.67" x2="286.05" y2="270.26" stroke="#ca64e8" stroke-width="0.6"/>
<line x1="284.25" y1="270.26" x2="287.85" y2="270.26" stroke="#ca64e8" stroke-width="0.6"/>
<rect x="295.40" y="276.46" width="8.90" height="2.24" fill="#3b61f3"/>
<line x1="299.85" y1="276.46" x2="299.85" y2="275.26" stroke="#3b61f3" stroke-width="0.6"/>
<line x1="298.05" y1="275.26" x2="301.65" y2="275.26" stroke="#3b61f3" stroke-width="0.6"/>
<rect x="318.20" y="223.25" width="8.90" height="55.45" fill="#ca64e8"/>
<line x1="322.65" y1="223.25" x2="322.65" y2="219.12" stroke="#ca64e8" stroke-width="0.6"/>
<line x1="320.85" y1="219.12" x2="324.45" y2="219.12" stroke="#ca64e8" stroke-width="0.6"/>
<rect x="332.10" y="269.06" width="8.90" height="9.64" fill="#3b61f3"/>
<line x1="336.55" y1="269.06" x2="336.55" y2="267.16" stroke="#3b61f3" stroke-width="0.6"/>
<line x1="334.75" y1="267.16" x2="338.35" y2="267.16" stroke="#3b61f3" stroke-width="0.6"/>
<text x="322.70" y="219.30" font-size="4.6" text-anchor="middle" font-weight="bold" fill="#222" stroke="#222" stroke-width="0.22">***</text>
<text x="336.60" y="267.70" font-size="4.6" text-anchor="middle" font-weight="bold" fill="#222" stroke="#222" stroke-width="0.22">*</text>
<line x1="277.10" y1="209.42" x2="277.10" y2="279.10" stroke="#000" stroke-width="0.8"/>
<line x1="276.70" y1="278.70" x2="345.20" y2="278.70" stroke="#000" stroke-width="0.8"/>
<line x1="274.00" y1="278.70" x2="277.10" y2="278.70" stroke="#000" stroke-width="0.8"/>
<text x="273.30" y="280.50" font-size="5.0" text-anchor="end" font-weight="bold" fill="#000" stroke="#000" stroke-width="0.22">0</text>
<line x1="274.00" y1="261.48" x2="277.10" y2="261.48" stroke="#000" stroke-width="0.8"/>
<text x="273.30" y="263.28" font-size="5.0" text-anchor="end" font-weight="bold" fill="#000" stroke="#000" stroke-width="0.22">10</text>
<line x1="274.00" y1="244.26" x2="277.10" y2="244.26" stroke="#000" stroke-width="0.8"/>
<text x="273.30" y="246.06" font-size="5.0" text-anchor="end" font-weight="bold" fill="#000" stroke="#000" stroke-width="0.22">20</text>
<line x1="274.00" y1="227.04" x2="277.10" y2="227.04" stroke="#000" stroke-width="0.8"/>
<text x="273.30" y="228.84" font-size="5.0" text-anchor="end" font-weight="bold" fill="#000" stroke="#000" stroke-width="0.22">30</text>
<line x1="274.00" y1="209.82" x2="277.10" y2="209.82" stroke="#000" stroke-width="0.8"/>
<text x="273.30" y="211.62" font-size="5.0" text-anchor="end" font-weight="bold" fill="#000" stroke="#000" stroke-width="0.22">40</text>
<line x1="292.90" y1="278.70" x2="292.90" y2="281.00" stroke="#000" stroke-width="0.8"/>
<line x1="329.50" y1="278.70" x2="329.50" y2="281.00" stroke="#000" stroke-width="0.8"/>
<text x="292.80" y="289.00" font-size="6.45" text-anchor="middle" font-weight="bold" fill="#000" stroke="#000" stroke-width="0.22">Control</text>
<text x="329.50" y="289.00" font-size="6.45" text-anchor="middle" font-weight="bold" fill="#000" stroke="#000" stroke-width="0.22">50</text>
<text x="311.20" y="298.40" font-size="6.5" text-anchor="middle" font-weight="bold" fill="#000" stroke="#000" stroke-width="0.22">OXA (<tspan font-weight="normal">µ</tspan>M)</text>
<text x="264.40" y="244.20" font-size="6.45" text-anchor="middle" font-weight="bold" fill="#000" transform="rotate(-90 264.40 244.20)" stroke="#000" stroke-width="0.22">Apoptosis(%)</text>
</g>
<g id="panelF">
<text x="218.30" y="304.60" font-size="7.3" text-anchor="start" font-weight="bold" fill="#000" stroke="#000" stroke-width="0.22">F</text>
<rect x="238.60" y="309.40" width="7.80" height="4.30" fill="#3b61f3"/>
<text x="250.90" y="314.7" font-size="6.6" font-weight="bold" stroke="#000" stroke-width="0.2">G<tspan font-size="4" dy="1.1">1</tspan></text>
<rect x="267.20" y="309.40" width="7.60" height="4.30" fill="#f5583b"/>
<text x="278.50" y="314.70" font-size="6.6" text-anchor="start" font-weight="bold" fill="#000" stroke="#000" stroke-width="0.22">S</text>
<rect x="288.30" y="309.40" width="7.80" height="4.30" fill="#ca64e8"/>
<text x="299.60" y="314.7" font-size="6.6" font-weight="bold" stroke="#000" stroke-width="0.2">G<tspan font-size="4" dy="1.1">2</tspan><tspan dy="-1.1">/M</tspan></text>
<text x="273.70" y="324.30" font-size="6.55" text-anchor="middle" font-weight="bold" fill="#000" stroke="#000" stroke-width="0.22">HCT116</text>
<rect x="256.10" y="365.60" width="13.00" height="32.20" fill="#3b61f3"/>
<rect x="256.10" y="355.51" width="13.00" height="10.09" fill="#f5583b"/>
<rect x="256.10" y="352.16" width="13.00" height="3.35" fill="#ca64e8"/>
<line x1="262.60" y1="365.60" x2="262.60" y2="364.31" stroke="#4a3fd8" stroke-width="0.7"/>
<line x1="259.20" y1="364.31" x2="266.00" y2="364.31" stroke="#4a3fd8" stroke-width="0.7"/>
<line x1="262.60" y1="355.51" x2="262.60" y2="354.50" stroke="#ee4a5a" stroke-width="0.7"/>
<line x1="259.20" y1="354.50" x2="266.00" y2="354.50" stroke="#ee4a5a" stroke-width="0.7"/>
<line x1="262.60" y1="352.16" x2="262.60" y2="351.47" stroke="#ca64e8" stroke-width="0.7"/>
<line x1="259.20" y1="351.47" x2="266.00" y2="351.47" stroke="#ca64e8" stroke-width="0.7"/>
<rect x="275.70" y="376.56" width="13.00" height="21.24" fill="#3b61f3"/>
<rect x="275.70" y="366.01" width="13.00" height="10.55" fill="#f5583b"/>
<rect x="275.70" y="355.00" width="13.00" height="11.01" fill="#ca64e8"/>
<line x1="282.20" y1="376.56" x2="282.20" y2="374.04" stroke="#4a3fd8" stroke-width="0.7"/>
<line x1="278.80" y1="374.04" x2="285.60" y2="374.04" stroke="#4a3fd8" stroke-width="0.7"/>
<line x1="282.20" y1="366.01" x2="282.20" y2="365.46" stroke="#ee4a5a" stroke-width="0.7"/>
<line x1="278.80" y1="365.46" x2="285.60" y2="365.46" stroke="#ee4a5a" stroke-width="0.7"/>
<line x1="282.20" y1="355.00" x2="282.20" y2="352.02" stroke="#ca64e8" stroke-width="0.7"/>
<line x1="278.80" y1="352.02" x2="285.60" y2="352.02" stroke="#ca64e8" stroke-width="0.7"/>
<line x1="249.00" y1="328.60" x2="249.00" y2="398.20" stroke="#000" stroke-width="0.8"/>
<line x1="248.60" y1="397.80" x2="292.60" y2="397.80" stroke="#000" stroke-width="0.8"/>
<line x1="246.50" y1="397.80" x2="249.00" y2="397.80" stroke="#000" stroke-width="0.8"/>
<text x="245.30" y="400.10" font-size="6.2" text-anchor="end" font-weight="bold" fill="#000" stroke="#000" stroke-width="0.22">0</text>
<line x1="246.50" y1="374.87" x2="249.00" y2="374.87" stroke="#000" stroke-width="0.8"/>
<text x="245.30" y="377.17" font-size="6.2" text-anchor="end" font-weight="bold" fill="#000" stroke="#000" stroke-width="0.22">50</text>
<line x1="246.50" y1="351.93" x2="249.00" y2="351.93" stroke="#000" stroke-width="0.8"/>
<text x="245.30" y="354.23" font-size="6.2" text-anchor="end" font-weight="bold" fill="#000" stroke="#000" stroke-width="0.22">100</text>
<line x1="246.50" y1="329.00" x2="249.00" y2="329.00" stroke="#000" stroke-width="0.8"/>
<text x="245.30" y="331.30" font-size="6.2" text-anchor="end" font-weight="bold" fill="#000" stroke="#000" stroke-width="0.22">150</text>
<line x1="262.60" y1="397.80" x2="262.60" y2="400.20" stroke="#000" stroke-width="0.8"/>
<line x1="282.20" y1="397.80" x2="282.20" y2="400.20" stroke="#000" stroke-width="0.8"/>
<text x="261.30" y="408.20" font-size="6.45" text-anchor="middle" font-weight="bold" fill="#000" stroke="#000" stroke-width="0.22">Control</text>
<text x="282.00" y="408.20" font-size="6.45" text-anchor="middle" font-weight="bold" fill="#000" stroke="#000" stroke-width="0.22">50</text>
<text x="272.20" y="417.40" font-size="6.5" text-anchor="middle" font-weight="bold" fill="#000" stroke="#000" stroke-width="0.22">OXA (<tspan font-weight="normal">µ</tspan>M)</text>
<text x="229.60" y="361.70" font-size="6.45" text-anchor="middle" font-weight="bold" fill="#000" transform="rotate(-90 229.60 361.70)" stroke="#000" stroke-width="0.22">Percentage of cells(%)</text>
<text x="282.20" y="352.60" font-size="4.8" text-anchor="middle" font-weight="bold" fill="#111" stroke="#111" stroke-width="0.22">***</text>
<text x="282.20" y="373.60" font-size="4.8" text-anchor="middle" font-weight="bold" fill="#111" stroke="#111" stroke-width="0.22">***</text>
<rect x="331.40" y="309.40" width="7.80" height="4.30" fill="#3b61f3"/>
<text x="342.90" y="314.7" font-size="6.6" font-weight="bold" stroke="#000" stroke-width="0.2">G<tspan font-size="4" dy="1.1">1</tspan></text>
<rect x="359.00" y="309.40" width="7.60" height="4.30" fill="#f5583b"/>
<text x="370.30" y="314.70" font-size="6.6" text-anchor="start" font-weight="bold" fill="#000" stroke="#000" stroke-width="0.22">S</text>
<rect x="381.20" y="309.40" width="7.80" height="4.30" fill="#ca64e8"/>
<text x="392.50" y="314.7" font-size="6.6" font-weight="bold" stroke="#000" stroke-width="0.2">G<tspan font-size="4" dy="1.1">2</tspan><tspan dy="-1.1">/M</tspan></text>
<text x="370.60" y="324.30" font-size="6.55" text-anchor="middle" font-weight="bold" fill="#000" stroke="#000" stroke-width="0.22">HCT116/OXA</text>
<rect x="347.10" y="372.48" width="13.00" height="25.32" fill="#3b61f3"/>
<rect x="347.10" y="361.01" width="13.00" height="11.47" fill="#f5583b"/>
<rect x="347.10" y="353.49" width="13.00" height="7.52" fill="#ca64e8"/>
<line x1="353.60" y1="372.48" x2="353.60" y2="369.27" stroke="#4a3fd8" stroke-width="0.7"/>
<line x1="350.20" y1="369.27" x2="357.00" y2="369.27" stroke="#4a3fd8" stroke-width="0.7"/>
<line x1="353.60" y1="361.01" x2="353.60" y2="357.02" stroke="#ee4a5a" stroke-width="0.7"/>
<line x1="350.20" y1="357.02" x2="357.00" y2="357.02" stroke="#ee4a5a" stroke-width="0.7"/>
<line x1="353.60" y1="353.49" x2="353.60" y2="352.21" stroke="#ca64e8" stroke-width="0.7"/>
<line x1="350.20" y1="352.21" x2="357.00" y2="352.21" stroke="#ca64e8" stroke-width="0.7"/>
<rect x="366.80" y="370.19" width="13.00" height="27.61" fill="#3b61f3"/>
<rect x="366.80" y="361.01" width="13.00" height="9.17" fill="#f5583b"/>
<rect x="366.80" y="353.99" width="13.00" height="7.02" fill="#ca64e8"/>
<line x1="373.30" y1="370.19" x2="373.30" y2="366.79" stroke="#4a3fd8" stroke-width="0.7"/>
<line x1="369.90" y1="366.79" x2="376.70" y2="366.79" stroke="#4a3fd8" stroke-width="0.7"/>
<line x1="373.30" y1="361.01" x2="373.30" y2="358.99" stroke="#ee4a5a" stroke-width="0.7"/>
<line x1="369.90" y1="358.99" x2="376.70" y2="358.99" stroke="#ee4a5a" stroke-width="0.7"/>
<line x1="373.30" y1="353.99" x2="373.30" y2="353.21" stroke="#ca64e8" stroke-width="0.7"/>
<line x1="369.90" y1="353.21" x2="376.70" y2="353.21" stroke="#ca64e8" stroke-width="0.7"/>
<line x1="340.20" y1="328.60" x2="340.20" y2="398.20" stroke="#000" stroke-width="0.8"/>
<line x1="339.80" y1="397.80" x2="386.40" y2="397.80" stroke="#000" stroke-width="0.8"/>
<line x1="337.70" y1="397.80" x2="340.20" y2="397.80" stroke="#000" stroke-width="0.8"/>
<text x="336.50" y="400.10" font-size="6.2" text-anchor="end" font-weight="bold" fill="#000" stroke="#000" stroke-width="0.22">0</text>
<line x1="337.70" y1="374.87" x2="340.20" y2="374.87" stroke="#000" stroke-width="0.8"/>
<text x="336.50" y="377.17" font-size="6.2" text-anchor="end" font-weight="bold" fill="#000" stroke="#000" stroke-width="0.22">50</text>
<line x1="337.70" y1="351.93" x2="340.20" y2="351.93" stroke="#000" stroke-width="0.8"/>
<text x="336.50" y="354.23" font-size="6.2" text-anchor="end" font-weight="bold" fill="#000" stroke="#000" stroke-width="0.22">100</text>
<line x1="337.70" y1="329.00" x2="340.20" y2="329.00" stroke="#000" stroke-width="0.8"/>
<text x="336.50" y="331.30" font-size="6.2" text-anchor="end" font-weight="bold" fill="#000" stroke="#000" stroke-width="0.22">150</text>
<line x1="353.60" y1="397.80" x2="353.60" y2="400.20" stroke="#000" stroke-width="0.8"/>
<line x1="373.30" y1="397.80" x2="373.30" y2="400.20" stroke="#000" stroke-width="0.8"/>
<text x="352.50" y="408.20" font-size="6.45" text-anchor="middle" font-weight="bold" fill="#000" stroke="#000" stroke-width="0.22">Control</text>
<text x="373.20" y="408.20" font-size="6.45" text-anchor="middle" font-weight="bold" fill="#000" stroke="#000" stroke-width="0.22">50</text>
<text x="363.40" y="417.40" font-size="6.5" text-anchor="middle" font-weight="bold" fill="#000" stroke="#000" stroke-width="0.22">OXA (<tspan font-weight="normal">µ</tspan>M)</text>
<text x="320.80" y="361.70" font-size="6.45" text-anchor="middle" font-weight="bold" fill="#000" transform="rotate(-90 320.80 361.70)" stroke="#000" stroke-width="0.22">Percentage of cells(%)</text>
</g>
<g id="panelE">
<text x="4.50" y="425.40" font-size="7.4" text-anchor="start" font-weight="bold" fill="#000" stroke="#000" stroke-width="0.22">E</text>
<text x="111.20" y="434.00" font-size="6.45" text-anchor="middle" font-weight="bold" fill="#000" stroke="#000" stroke-width="0.22">HCT116</text>
<text x="292.00" y="434.00" font-size="6.5" text-anchor="middle" font-weight="bold" fill="#000" stroke="#000" stroke-width="0.22">HCT116/OXA</text>
<line x1="26.80" y1="436.90" x2="201.70" y2="436.90" stroke="#555" stroke-width="0.9"/>
<line x1="204.60" y1="436.90" x2="380.40" y2="436.90" stroke="#555" stroke-width="0.9"/>
<line x1="17.50" y1="536.40" x2="17.50" y2="447.50" stroke="#444" stroke-width="1.0"/>
<path d="M17.5 445 L19 448.4 L16 448.4Z" fill="#222"/>
<line x1="17.00" y1="536.40" x2="379.00" y2="536.40" stroke="#444" stroke-width="1.0"/>
<path d="M381.6 536.4 L378.2 534.9 L378.2 537.9Z" fill="#222"/>
<text x="12.40" y="492.20" font-size="6.4" text-anchor="middle" font-weight="bold" fill="#000" transform="rotate(-90 12.40 492.20)" stroke="#000" stroke-width="0.22">Count</text>
<text x="202.00" y="546.20" font-size="6.55" text-anchor="middle" font-weight="bold" fill="#000" stroke="#000" stroke-width="0.22">FL2A:PE−A</text>
<text x="66.90" y="444.90" font-size="6.7" text-anchor="middle" font-weight="bold" fill="#000" stroke="#000" stroke-width="0.22">Control</text>
<rect x="29.00" y="449.50" width="77.00" height="76.10" fill="#fff" stroke="#999" stroke-width="0.55"/>
<path d="M47.00 525.0 L48.90 512.6 C49.90 520.04 51.40 523.90 53.40 523.90 L57.50 524.01 L58.40 525.0Z" fill="#f23a44" fill-opacity="0.8" stroke="#e62432" stroke-width="0.35"/>
<path d="M57.20 525.0 C58.52 525.0 58.76 522.3 59.60 522.3 C60.44 522.3 60.68 525.0 62.00 525.0Z" fill="#f646f6" fill-opacity="0.85" stroke="#ea22ea" stroke-width="0.35"/>
<path d="M45.50 525.0 C46.66 525.0 46.90 487.60 47.50 457.0 C48.10 487.60 48.34 525.0 49.50 525.0Z" fill="#5050f4" fill-opacity="0.85" stroke="#2a2ae6" stroke-width="0.4"/>
<line x1="32.00" y1="525.00" x2="105.00" y2="525.00" stroke="#e8407c" stroke-width="0.45" stroke-dasharray="0.9 0.7"/>
<line x1="35.30" y1="525.60" x2="35.30" y2="526.80" stroke="#333" stroke-width="0.4"/>
<text x="35.30" y="529.60" font-size="2.7" text-anchor="middle" font-weight="normal" fill="#222">0</text>
<line x1="51.60" y1="525.60" x2="51.60" y2="526.80" stroke="#333" stroke-width="0.4"/>
<text x="51.60" y="529.60" font-size="2.7" text-anchor="middle" font-weight="normal" fill="#222">2.0M</text>
<line x1="67.90" y1="525.60" x2="67.90" y2="526.80" stroke="#333" stroke-width="0.4"/>
<text x="67.90" y="529.60" font-size="2.7" text-anchor="middle" font-weight="normal" fill="#222">4.0M</text>
<line x1="84.20" y1="525.60" x2="84.20" y2="526.80" stroke="#333" stroke-width="0.4"/>
<text x="84.20" y="529.60" font-size="2.7" text-anchor="middle" font-weight="normal" fill="#222">6.0M</text>
<line x1="100.50" y1="525.60" x2="100.50" y2="526.80" stroke="#333" stroke-width="0.4"/>
<text x="100.50" y="529.60" font-size="2.7" text-anchor="middle" font-weight="normal" fill="#222">8.0M</text>
<line x1="27.60" y1="458.40" x2="29.00" y2="458.40" stroke="#333" stroke-width="0.45"/>
<text x="27.00" y="459.35" font-size="2.7" text-anchor="end" font-weight="normal" fill="#222">1.5K</text>
<line x1="27.60" y1="480.40" x2="29.00" y2="480.40" stroke="#333" stroke-width="0.45"/>
<text x="27.00" y="481.35" font-size="2.7" text-anchor="end" font-weight="normal" fill="#222">1.0K</text>
<line x1="27.60" y1="502.60" x2="29.00" y2="502.60" stroke="#333" stroke-width="0.45"/>
<text x="27.00" y="503.55" font-size="2.7" text-anchor="end" font-weight="normal" fill="#222">500</text>
<line x1="27.60" y1="524.80" x2="29.00" y2="524.80" stroke="#333" stroke-width="0.45"/>
<text x="27.00" y="525.75" font-size="2.7" text-anchor="end" font-weight="normal" fill="#222">0</text>
<text x="154.90" y="444.90" font-size="6.7" text-anchor="middle" font-weight="bold" fill="#000" stroke="#000" stroke-width="0.22">OXA−50 <tspan font-weight="normal">µ</tspan>M</text>
<rect x="115.60" y="449.50" width="78.40" height="77.10" fill="#fff" stroke="#999" stroke-width="0.55"/>
<path d="M134.00 526.0 L136.00 520.2 C137.00 523.68 137.00 524.60 139.00 524.60 L146.30 522.00 L147.20 526.0Z" fill="#f23a44" fill-opacity="0.8" stroke="#e62432" stroke-width="0.35"/>
<path d="M145.60 526.0 C147.28 526.0 147.63 513.24 148.50 502.8 C149.37 513.24 149.72 526.0 151.40 526.0Z" fill="#f646f6" fill-opacity="0.85" stroke="#ea22ea" stroke-width="0.35"/>
<path d="M132.70 526.0 C133.92 526.0 134.17 490.58 134.80 461.6 C135.43 490.58 135.68 526.0 136.90 526.0Z" fill="#5050f4" fill-opacity="0.85" stroke="#2a2ae6" stroke-width="0.4"/>
<line x1="118.60" y1="526.00" x2="193.00" y2="526.00" stroke="#e8407c" stroke-width="0.45" stroke-dasharray="0.9 0.7"/>
<line x1="121.90" y1="526.60" x2="121.90" y2="527.80" stroke="#333" stroke-width="0.4"/>
<text x="121.90" y="530.60" font-size="2.7" text-anchor="middle" font-weight="normal" fill="#222">0</text>
<line x1="138.20" y1="526.60" x2="138.20" y2="527.80" stroke="#333" stroke-width="0.4"/>
<text x="138.20" y="530.60" font-size="2.7" text-anchor="middle" font-weight="normal" fill="#222">2.0M</text>
<line x1="154.50" y1="526.60" x2="154.50" y2="527.80" stroke="#333" stroke-width="0.4"/>
<text x="154.50" y="530.60" font-size="2.7" text-anchor="middle" font-weight="normal" fill="#222">4.0M</text>
<line x1="170.80" y1="526.60" x2="170.80" y2="527.80" stroke="#333" stroke-width="0.4"/>
<text x="170.80" y="530.60" font-size="2.7" text-anchor="middle" font-weight="normal" fill="#222">6.0M</text>
<line x1="187.10" y1="526.60" x2="187.10" y2="527.80" stroke="#333" stroke-width="0.4"/>
<text x="187.10" y="530.60" font-size="2.7" text-anchor="middle" font-weight="normal" fill="#222">8.0M</text>
<line x1="114.20" y1="463.60" x2="115.60" y2="463.60" stroke="#333" stroke-width="0.45"/>
<text x="113.60" y="464.55" font-size="2.7" text-anchor="end" font-weight="normal" fill="#222">800</text>
<line x1="114.20" y1="479.20" x2="115.60" y2="479.20" stroke="#333" stroke-width="0.45"/>
<text x="113.60" y="480.15" font-size="2.7" text-anchor="end" font-weight="normal" fill="#222">600</text>
<line x1="114.20" y1="494.80" x2="115.60" y2="494.80" stroke="#333" stroke-width="0.45"/>
<text x="113.60" y="495.75" font-size="2.7" text-anchor="end" font-weight="normal" fill="#222">400</text>
<line x1="114.20" y1="510.40" x2="115.60" y2="510.40" stroke="#333" stroke-width="0.45"/>
<text x="113.60" y="511.35" font-size="2.7" text-anchor="end" font-weight="normal" fill="#222">200</text>
<line x1="114.20" y1="525.80" x2="115.60" y2="525.80" stroke="#333" stroke-width="0.45"/>
<text x="113.60" y="526.75" font-size="2.7" text-anchor="end" font-weight="normal" fill="#222">0</text>
<text x="243.00" y="444.90" font-size="6.7" text-anchor="middle" font-weight="bold" fill="#000" stroke="#000" stroke-width="0.22">Control</text>
<rect x="210.20" y="449.50" width="77.90" height="77.90" fill="#fff" stroke="#999" stroke-width="0.55"/>
<path d="M232.60 526.8 L234.40 505.4 C235.40 518.24 239.50 524.20 241.50 524.20 L248.00 524.46 L248.90 526.8Z" fill="#f23a44" fill-opacity="0.8" stroke="#e62432" stroke-width="0.35"/>
<path d="M246.60 526.8 C249.13 526.8 249.59 519.0 251.20 519.0 C252.81 519.0 253.27 526.8 255.80 526.8Z" fill="#f646f6" fill-opacity="0.85" stroke="#ea22ea" stroke-width="0.35"/>
<path d="M230.40 526.8 C231.62 526.8 231.87 486.87 232.50 454.2 C233.13 486.87 233.38 526.8 234.60 526.8Z" fill="#5050f4" fill-opacity="0.85" stroke="#2a2ae6" stroke-width="0.4"/>
<line x1="213.20" y1="526.80" x2="287.10" y2="526.80" stroke="#e8407c" stroke-width="0.45" stroke-dasharray="0.9 0.7"/>
<line x1="216.50" y1="527.40" x2="216.50" y2="528.60" stroke="#333" stroke-width="0.4"/>
<text x="216.50" y="531.40" font-size="2.7" text-anchor="middle" font-weight="normal" fill="#222">0</text>
<line x1="232.80" y1="527.40" x2="232.80" y2="528.60" stroke="#333" stroke-width="0.4"/>
<text x="232.80" y="531.40" font-size="2.7" text-anchor="middle" font-weight="normal" fill="#222">2.0M</text>
<line x1="249.10" y1="527.40" x2="249.10" y2="528.60" stroke="#333" stroke-width="0.4"/>
<text x="249.10" y="531.40" font-size="2.7" text-anchor="middle" font-weight="normal" fill="#222">4.0M</text>
<line x1="265.40" y1="527.40" x2="265.40" y2="528.60" stroke="#333" stroke-width="0.4"/>
<text x="265.40" y="531.40" font-size="2.7" text-anchor="middle" font-weight="normal" fill="#222">6.0M</text>
<line x1="281.70" y1="527.40" x2="281.70" y2="528.60" stroke="#333" stroke-width="0.4"/>
<text x="281.70" y="531.40" font-size="2.7" text-anchor="middle" font-weight="normal" fill="#222">8.0M</text>
<line x1="208.80" y1="468.40" x2="210.20" y2="468.40" stroke="#333" stroke-width="0.45"/>
<text x="208.20" y="469.35" font-size="2.7" text-anchor="end" font-weight="normal" fill="#222">600</text>
<line x1="208.80" y1="488.00" x2="210.20" y2="488.00" stroke="#333" stroke-width="0.45"/>
<text x="208.20" y="488.95" font-size="2.7" text-anchor="end" font-weight="normal" fill="#222">400</text>
<line x1="208.80" y1="507.60" x2="210.20" y2="507.60" stroke="#333" stroke-width="0.45"/>
<text x="208.20" y="508.55" font-size="2.7" text-anchor="end" font-weight="normal" fill="#222">200</text>
<line x1="208.80" y1="526.60" x2="210.20" y2="526.60" stroke="#333" stroke-width="0.45"/>
<text x="208.20" y="527.55" font-size="2.7" text-anchor="end" font-weight="normal" fill="#222">0</text>
<text x="330.00" y="444.90" font-size="6.7" text-anchor="middle" font-weight="bold" fill="#000" stroke="#000" stroke-width="0.22">OXA−50 <tspan font-weight="normal">µ</tspan>M</text>
<rect x="299.70" y="449.50" width="79.50" height="78.70" fill="#fff" stroke="#999" stroke-width="0.55"/>
<path d="M324.60 527.6 L326.40 516.8 C327.40 523.28 327.50 526.80 329.50 526.80 L333.00 526.88 L333.90 527.6Z" fill="#f23a44" fill-opacity="0.8" stroke="#e62432" stroke-width="0.35"/>
<path d="M341.20 527.6 C343.07 527.6 343.41 520.4 344.60 520.4 C345.79 520.4 346.13 527.6 348.00 527.6Z" fill="#f646f6" fill-opacity="0.85" stroke="#ea22ea" stroke-width="0.35"/>
<path d="M322.40 527.6 C323.68 527.6 323.94 489.43 324.60 458.2 C325.26 489.43 325.52 527.6 326.80 527.6Z" fill="#5050f4" fill-opacity="0.85" stroke="#2a2ae6" stroke-width="0.4"/>
<line x1="302.70" y1="527.60" x2="378.20" y2="527.60" stroke="#e8407c" stroke-width="0.45" stroke-dasharray="0.9 0.7"/>
<line x1="306.00" y1="528.20" x2="306.00" y2="529.40" stroke="#333" stroke-width="0.4"/>
<text x="306.00" y="533.80" font-size="2.7" text-anchor="middle" font-weight="normal" fill="#222">0</text>
<line x1="322.30" y1="528.20" x2="322.30" y2="529.40" stroke="#333" stroke-width="0.4"/>
<text x="322.30" y="533.80" font-size="2.7" text-anchor="middle" font-weight="normal" fill="#222">2.0M</text>
<line x1="338.60" y1="528.20" x2="338.60" y2="529.40" stroke="#333" stroke-width="0.4"/>
<text x="338.60" y="533.80" font-size="2.7" text-anchor="middle" font-weight="normal" fill="#222">4.0M</text>
<line x1="354.90" y1="528.20" x2="354.90" y2="529.40" stroke="#333" stroke-width="0.4"/>
<text x="354.90" y="533.80" font-size="2.7" text-anchor="middle" font-weight="normal" fill="#222">6.0M</text>
<line x1="371.20" y1="528.20" x2="371.20" y2="529.40" stroke="#333" stroke-width="0.4"/>
<text x="371.20" y="533.80" font-size="2.7" text-anchor="middle" font-weight="normal" fill="#222">8.0M</text>
<line x1="298.30" y1="451.60" x2="299.70" y2="451.60" stroke="#333" stroke-width="0.45"/>
<text x="297.70" y="452.55" font-size="2.7" text-anchor="end" font-weight="normal" fill="#222">1.2K</text>
<line x1="298.30" y1="470.60" x2="299.70" y2="470.60" stroke="#333" stroke-width="0.45"/>
<text x="297.70" y="471.55" font-size="2.7" text-anchor="end" font-weight="normal" fill="#222">900</text>
<line x1="298.30" y1="489.60" x2="299.70" y2="489.60" stroke="#333" stroke-width="0.45"/>
<text x="297.70" y="490.55" font-size="2.7" text-anchor="end" font-weight="normal" fill="#222">600</text>
<line x1="298.30" y1="508.60" x2="299.70" y2="508.60" stroke="#333" stroke-width="0.45"/>
<text x="297.70" y="509.55" font-size="2.7" text-anchor="end" font-weight="normal" fill="#222">300</text>
<line x1="298.30" y1="527.40" x2="299.70" y2="527.40" stroke="#333" stroke-width="0.45"/>
<text x="297.70" y="528.35" font-size="2.7" text-anchor="end" font-weight="normal" fill="#222">0</text>
</g>
</svg>
</body></html>
